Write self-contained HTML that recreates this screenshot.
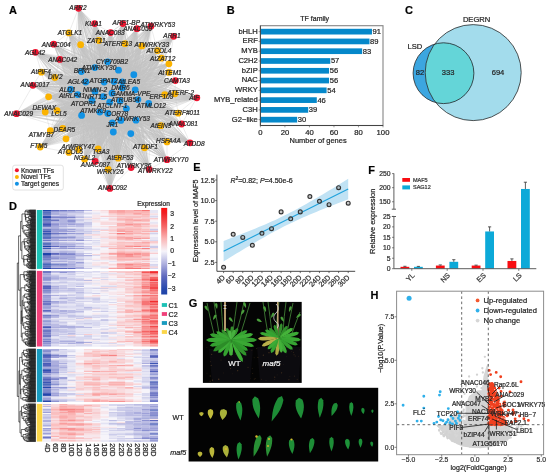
<!DOCTYPE html>
<html><head><meta charset="utf-8"><style>
html,body{margin:0;padding:0;background:#fff;}
body{width:550px;height:474px;overflow:hidden;}
svg{display:block;}
text{font-family:'Liberation Sans', Arial, Helvetica, sans-serif;stroke:#2a2a2a;stroke-width:0.22px;}
.w{stroke:#f2f2f2;}
.ns{stroke:none;}
</style></head><body>
<svg width="550" height="474" viewBox="0 0 550 474" fill="#222">
<path fill="none" stroke="#c4c4c4" stroke-width="0.32" d="M78.5 8.3L107.6 61.8M78.5 8.3L94.8 67.6M78.5 8.3L81.3 71.5M78.5 8.3L118.5 70.2M78.5 8.3L133.8 74.7M78.5 8.3L85.8 82M78.5 8.3L104.1 82M78.5 8.3L114 81.5M78.5 8.3L122.3 81.8M78.5 8.3L70.5 89.5M78.5 8.3L95 91.4M78.5 8.3L112 93.2M78.5 8.3L122.3 88.1M78.5 8.3L135.2 89.8M78.5 8.3L77.7 94.6M78.5 8.3L103.2 96.7M78.5 8.3L92 100.5M78.5 8.3L109.7 102.2M78.5 8.3L120.1 101M78.5 8.3L137.9 99.6M78.5 8.3L148.7 103.5M78.5 8.3L126.4 108.6M78.5 8.3L99.8 112.1M78.5 8.3L81.6 115.4M78.5 8.3L107.8 113.5M78.5 8.3L120.8 120.4M78.5 8.3L136 120.2M78.5 8.3L112.3 122.8M78.5 8.3L113.3 132M78.5 8.3L130.8 133.6M94.6 23.6L107.6 61.8M94.6 23.6L94.8 67.6M94.6 23.6L118.5 70.2M94.6 23.6L85.8 82M94.6 23.6L104.1 82M94.6 23.6L114 81.5M94.6 23.6L122.3 81.8M94.6 23.6L95 91.4M94.6 23.6L112 93.2M94.6 23.6L122.3 88.1M94.6 23.6L135.2 89.8M94.6 23.6L77.7 94.6M94.6 23.6L103.2 96.7M94.6 23.6L92 100.5M94.6 23.6L109.7 102.2M94.6 23.6L120.1 101M94.6 23.6L137.9 99.6M94.6 23.6L126.4 108.6M94.6 23.6L99.8 112.1M94.6 23.6L81.6 115.4M94.6 23.6L107.8 113.5M94.6 23.6L120.8 120.4M94.6 23.6L136 120.2M94.6 23.6L112.3 122.8M94.6 23.6L113.3 132M94.6 23.6L130.8 133.6M122.9 23.6L107.6 61.8M122.9 23.6L94.8 67.6M122.9 23.6L118.5 70.2M122.9 23.6L133.8 74.7M122.9 23.6L85.8 82M122.9 23.6L104.1 82M122.9 23.6L114 81.5M122.9 23.6L122.3 81.8M122.9 23.6L95 91.4M122.9 23.6L112 93.2M122.9 23.6L122.3 88.1M122.9 23.6L135.2 89.8M122.9 23.6L77.7 94.6M122.9 23.6L103.2 96.7M122.9 23.6L92 100.5M122.9 23.6L109.7 102.2M122.9 23.6L120.1 101M122.9 23.6L137.9 99.6M122.9 23.6L126.4 108.6M122.9 23.6L99.8 112.1M122.9 23.6L81.6 115.4M122.9 23.6L107.8 113.5M122.9 23.6L120.8 120.4M122.9 23.6L136 120.2M122.9 23.6L112.3 122.8M122.9 23.6L113.3 132M122.9 23.6L130.8 133.6M110.6 32.6L107.6 61.8M110.6 32.6L94.8 67.6M110.6 32.6L118.5 70.2M110.6 32.6L104.1 82M110.6 32.6L114 81.5M110.6 32.6L122.3 81.8M110.6 32.6L95 91.4M110.6 32.6L112 93.2M110.6 32.6L122.3 88.1M110.6 32.6L103.2 96.7M110.6 32.6L92 100.5M110.6 32.6L109.7 102.2M110.6 32.6L120.1 101M110.6 32.6L126.4 108.6M110.6 32.6L99.8 112.1M110.6 32.6L81.6 115.4M110.6 32.6L107.8 113.5M110.6 32.6L120.8 120.4M110.6 32.6L136 120.2M110.6 32.6L112.3 122.8M110.6 32.6L113.3 132M110.6 32.6L130.8 133.6M136.9 28.7L107.6 61.8M136.9 28.7L118.5 70.2M136.9 28.7L133.8 74.7M136.9 28.7L85.8 82M136.9 28.7L104.1 82M136.9 28.7L114 81.5M136.9 28.7L122.3 81.8M136.9 28.7L95 91.4M136.9 28.7L112 93.2M136.9 28.7L122.3 88.1M136.9 28.7L135.2 89.8M136.9 28.7L77.7 94.6M136.9 28.7L103.2 96.7M136.9 28.7L92 100.5M136.9 28.7L109.7 102.2M136.9 28.7L120.1 101M136.9 28.7L137.9 99.6M136.9 28.7L126.4 108.6M136.9 28.7L99.8 112.1M136.9 28.7L81.6 115.4M136.9 28.7L107.8 113.5M136.9 28.7L120.8 120.4M136.9 28.7L136 120.2M136.9 28.7L112.3 122.8M136.9 28.7L113.3 132M136.9 28.7L130.8 133.6M150.9 26.2L107.6 61.8M150.9 26.2L94.8 67.6M150.9 26.2L118.5 70.2M150.9 26.2L133.8 74.7M150.9 26.2L85.8 82M150.9 26.2L104.1 82M150.9 26.2L114 81.5M150.9 26.2L122.3 81.8M150.9 26.2L70.5 89.5M150.9 26.2L95 91.4M150.9 26.2L112 93.2M150.9 26.2L122.3 88.1M150.9 26.2L135.2 89.8M150.9 26.2L77.7 94.6M150.9 26.2L103.2 96.7M150.9 26.2L92 100.5M150.9 26.2L109.7 102.2M150.9 26.2L120.1 101M150.9 26.2L137.9 99.6M150.9 26.2L126.4 108.6M150.9 26.2L99.8 112.1M150.9 26.2L81.6 115.4M150.9 26.2L107.8 113.5M150.9 26.2L120.8 120.4M150.9 26.2L136 120.2M150.9 26.2L112.3 122.8M150.9 26.2L113.3 132M150.9 26.2L130.8 133.6M173.7 36.3L107.6 61.8M173.7 36.3L94.8 67.6M173.7 36.3L81.3 71.5M173.7 36.3L118.5 70.2M173.7 36.3L133.8 74.7M173.7 36.3L85.8 82M173.7 36.3L104.1 82M173.7 36.3L114 81.5M173.7 36.3L122.3 81.8M173.7 36.3L70.5 89.5M173.7 36.3L95 91.4M173.7 36.3L112 93.2M173.7 36.3L122.3 88.1M173.7 36.3L135.2 89.8M173.7 36.3L77.7 94.6M173.7 36.3L103.2 96.7M173.7 36.3L92 100.5M173.7 36.3L109.7 102.2M173.7 36.3L120.1 101M173.7 36.3L137.9 99.6M173.7 36.3L126.4 108.6M173.7 36.3L99.8 112.1M173.7 36.3L81.6 115.4M173.7 36.3L107.8 113.5M173.7 36.3L120.8 120.4M173.7 36.3L136 120.2M173.7 36.3L112.3 122.8M173.7 36.3L113.3 132M173.7 36.3L130.8 133.6M53.7 44.2L94.8 67.6M53.7 44.2L81.3 71.5M53.7 44.2L118.5 70.2M53.7 44.2L85.8 82M53.7 44.2L104.1 82M53.7 44.2L114 81.5M53.7 44.2L122.3 81.8M53.7 44.2L70.5 89.5M53.7 44.2L95 91.4M53.7 44.2L112 93.2M53.7 44.2L122.3 88.1M53.7 44.2L135.2 89.8M53.7 44.2L77.7 94.6M53.7 44.2L103.2 96.7M53.7 44.2L92 100.5M53.7 44.2L109.7 102.2M53.7 44.2L120.1 101M53.7 44.2L137.9 99.6M53.7 44.2L148.7 103.5M53.7 44.2L126.4 108.6M53.7 44.2L99.8 112.1M53.7 44.2L81.6 115.4M53.7 44.2L107.8 113.5M53.7 44.2L120.8 120.4M53.7 44.2L136 120.2M53.7 44.2L112.3 122.8M53.7 44.2L113.3 132M53.7 44.2L130.8 133.6M35.4 52.3L94.8 67.6M35.4 52.3L81.3 71.5M35.4 52.3L118.5 70.2M35.4 52.3L133.8 74.7M35.4 52.3L85.8 82M35.4 52.3L104.1 82M35.4 52.3L114 81.5M35.4 52.3L122.3 81.8M35.4 52.3L70.5 89.5M35.4 52.3L95 91.4M35.4 52.3L112 93.2M35.4 52.3L122.3 88.1M35.4 52.3L135.2 89.8M35.4 52.3L77.7 94.6M35.4 52.3L103.2 96.7M35.4 52.3L92 100.5M35.4 52.3L109.7 102.2M35.4 52.3L120.1 101M35.4 52.3L137.9 99.6M35.4 52.3L148.7 103.5M35.4 52.3L126.4 108.6M35.4 52.3L99.8 112.1M35.4 52.3L81.6 115.4M35.4 52.3L107.8 113.5M35.4 52.3L120.8 120.4M35.4 52.3L136 120.2M35.4 52.3L112.3 122.8M35.4 52.3L113.3 132M35.4 52.3L130.8 133.6M59.9 59.4L81.3 71.5M59.9 59.4L85.8 82M59.9 59.4L104.1 82M59.9 59.4L114 81.5M59.9 59.4L122.3 81.8M59.9 59.4L95 91.4M59.9 59.4L112 93.2M59.9 59.4L122.3 88.1M59.9 59.4L135.2 89.8M59.9 59.4L77.7 94.6M59.9 59.4L103.2 96.7M59.9 59.4L92 100.5M59.9 59.4L109.7 102.2M59.9 59.4L120.1 101M59.9 59.4L137.9 99.6M59.9 59.4L148.7 103.5M59.9 59.4L126.4 108.6M59.9 59.4L99.8 112.1M59.9 59.4L107.8 113.5M59.9 59.4L120.8 120.4M59.9 59.4L136 120.2M59.9 59.4L112.3 122.8M59.9 59.4L113.3 132M59.9 59.4L130.8 133.6M32.9 85.3L118.5 70.2M32.9 85.3L133.8 74.7M32.9 85.3L85.8 82M32.9 85.3L104.1 82M32.9 85.3L114 81.5M32.9 85.3L122.3 81.8M32.9 85.3L70.5 89.5M32.9 85.3L95 91.4M32.9 85.3L112 93.2M32.9 85.3L122.3 88.1M32.9 85.3L135.2 89.8M32.9 85.3L77.7 94.6M32.9 85.3L103.2 96.7M32.9 85.3L92 100.5M32.9 85.3L109.7 102.2M32.9 85.3L120.1 101M32.9 85.3L137.9 99.6M32.9 85.3L148.7 103.5M32.9 85.3L126.4 108.6M32.9 85.3L99.8 112.1M32.9 85.3L81.6 115.4M32.9 85.3L107.8 113.5M32.9 85.3L120.8 120.4M32.9 85.3L136 120.2M32.9 85.3L112.3 122.8M32.9 85.3L113.3 132M32.9 85.3L130.8 133.6M16.5 113.7L107.6 61.8M16.5 113.7L94.8 67.6M16.5 113.7L118.5 70.2M16.5 113.7L133.8 74.7M16.5 113.7L85.8 82M16.5 113.7L104.1 82M16.5 113.7L114 81.5M16.5 113.7L122.3 81.8M16.5 113.7L70.5 89.5M16.5 113.7L95 91.4M16.5 113.7L112 93.2M16.5 113.7L122.3 88.1M16.5 113.7L135.2 89.8M16.5 113.7L77.7 94.6M16.5 113.7L103.2 96.7M16.5 113.7L92 100.5M16.5 113.7L109.7 102.2M16.5 113.7L120.1 101M16.5 113.7L137.9 99.6M16.5 113.7L148.7 103.5M16.5 113.7L126.4 108.6M16.5 113.7L99.8 112.1M16.5 113.7L81.6 115.4M16.5 113.7L107.8 113.5M16.5 113.7L120.8 120.4M16.5 113.7L136 120.2M16.5 113.7L112.3 122.8M16.5 113.7L113.3 132M16.5 113.7L130.8 133.6M175.4 80.6L81.3 71.5M175.4 80.6L85.8 82M175.4 80.6L104.1 82M175.4 80.6L114 81.5M175.4 80.6L122.3 81.8M175.4 80.6L70.5 89.5M175.4 80.6L95 91.4M175.4 80.6L112 93.2M175.4 80.6L122.3 88.1M175.4 80.6L135.2 89.8M175.4 80.6L77.7 94.6M175.4 80.6L103.2 96.7M175.4 80.6L92 100.5M175.4 80.6L109.7 102.2M175.4 80.6L120.1 101M175.4 80.6L137.9 99.6M175.4 80.6L126.4 108.6M175.4 80.6L99.8 112.1M175.4 80.6L81.6 115.4M175.4 80.6L107.8 113.5M175.4 80.6L120.8 120.4M175.4 80.6L112.3 122.8M175.4 80.6L113.3 132M196.8 97.8L107.6 61.8M196.8 97.8L94.8 67.6M196.8 97.8L81.3 71.5M196.8 97.8L118.5 70.2M196.8 97.8L133.8 74.7M196.8 97.8L85.8 82M196.8 97.8L104.1 82M196.8 97.8L114 81.5M196.8 97.8L122.3 81.8M196.8 97.8L70.5 89.5M196.8 97.8L95 91.4M196.8 97.8L112 93.2M196.8 97.8L122.3 88.1M196.8 97.8L135.2 89.8M196.8 97.8L77.7 94.6M196.8 97.8L103.2 96.7M196.8 97.8L92 100.5M196.8 97.8L109.7 102.2M196.8 97.8L120.1 101M196.8 97.8L137.9 99.6M196.8 97.8L148.7 103.5M196.8 97.8L126.4 108.6M196.8 97.8L99.8 112.1M196.8 97.8L81.6 115.4M196.8 97.8L107.8 113.5M196.8 97.8L120.8 120.4M196.8 97.8L136 120.2M196.8 97.8L112.3 122.8M196.8 97.8L113.3 132M181.6 124L107.6 61.8M181.6 124L94.8 67.6M181.6 124L81.3 71.5M181.6 124L118.5 70.2M181.6 124L85.8 82M181.6 124L104.1 82M181.6 124L114 81.5M181.6 124L122.3 81.8M181.6 124L70.5 89.5M181.6 124L95 91.4M181.6 124L112 93.2M181.6 124L122.3 88.1M181.6 124L135.2 89.8M181.6 124L77.7 94.6M181.6 124L103.2 96.7M181.6 124L92 100.5M181.6 124L109.7 102.2M181.6 124L120.1 101M181.6 124L137.9 99.6M181.6 124L148.7 103.5M181.6 124L126.4 108.6M181.6 124L99.8 112.1M181.6 124L81.6 115.4M181.6 124L107.8 113.5M181.6 124L120.8 120.4M181.6 124L136 120.2M181.6 124L112.3 122.8M190 142.8L107.6 61.8M190 142.8L94.8 67.6M190 142.8L81.3 71.5M190 142.8L118.5 70.2M190 142.8L133.8 74.7M190 142.8L85.8 82M190 142.8L104.1 82M190 142.8L114 81.5M190 142.8L122.3 81.8M190 142.8L70.5 89.5M190 142.8L95 91.4M190 142.8L112 93.2M190 142.8L122.3 88.1M190 142.8L135.2 89.8M190 142.8L77.7 94.6M190 142.8L103.2 96.7M190 142.8L92 100.5M190 142.8L109.7 102.2M190 142.8L120.1 101M190 142.8L137.9 99.6M190 142.8L148.7 103.5M190 142.8L126.4 108.6M190 142.8L99.8 112.1M190 142.8L81.6 115.4M190 142.8L107.8 113.5M190 142.8L120.8 120.4M190 142.8L136 120.2M190 142.8L112.3 122.8M190 142.8L113.3 132M190 142.8L130.8 133.6M167 159.7L107.6 61.8M167 159.7L94.8 67.6M167 159.7L81.3 71.5M167 159.7L118.5 70.2M167 159.7L133.8 74.7M167 159.7L85.8 82M167 159.7L104.1 82M167 159.7L114 81.5M167 159.7L122.3 81.8M167 159.7L70.5 89.5M167 159.7L95 91.4M167 159.7L112 93.2M167 159.7L122.3 88.1M167 159.7L135.2 89.8M167 159.7L77.7 94.6M167 159.7L103.2 96.7M167 159.7L92 100.5M167 159.7L109.7 102.2M167 159.7L120.1 101M167 159.7L137.9 99.6M167 159.7L126.4 108.6M167 159.7L99.8 112.1M167 159.7L81.6 115.4M167 159.7L107.8 113.5M167 159.7L120.8 120.4M167 159.7L136 120.2M167 159.7L112.3 122.8M167 159.7L113.3 132M167 159.7L130.8 133.6M131.1 167.6L107.6 61.8M131.1 167.6L94.8 67.6M131.1 167.6L81.3 71.5M131.1 167.6L118.5 70.2M131.1 167.6L133.8 74.7M131.1 167.6L85.8 82M131.1 167.6L104.1 82M131.1 167.6L114 81.5M131.1 167.6L122.3 81.8M131.1 167.6L70.5 89.5M131.1 167.6L95 91.4M131.1 167.6L112 93.2M131.1 167.6L122.3 88.1M131.1 167.6L135.2 89.8M131.1 167.6L77.7 94.6M131.1 167.6L103.2 96.7M131.1 167.6L92 100.5M131.1 167.6L109.7 102.2M131.1 167.6L120.1 101M131.1 167.6L126.4 108.6M131.1 167.6L99.8 112.1M131.1 167.6L107.8 113.5M131.1 167.6L120.8 120.4M131.1 167.6L112.3 122.8M131.1 167.6L113.3 132M131.1 167.6L130.8 133.6M149.2 169.3L107.6 61.8M149.2 169.3L94.8 67.6M149.2 169.3L81.3 71.5M149.2 169.3L118.5 70.2M149.2 169.3L133.8 74.7M149.2 169.3L85.8 82M149.2 169.3L104.1 82M149.2 169.3L114 81.5M149.2 169.3L122.3 81.8M149.2 169.3L70.5 89.5M149.2 169.3L95 91.4M149.2 169.3L112 93.2M149.2 169.3L122.3 88.1M149.2 169.3L135.2 89.8M149.2 169.3L77.7 94.6M149.2 169.3L103.2 96.7M149.2 169.3L92 100.5M149.2 169.3L109.7 102.2M149.2 169.3L120.1 101M149.2 169.3L137.9 99.6M149.2 169.3L126.4 108.6M149.2 169.3L99.8 112.1M149.2 169.3L81.6 115.4M149.2 169.3L107.8 113.5M149.2 169.3L120.8 120.4M149.2 169.3L136 120.2M149.2 169.3L112.3 122.8M149.2 169.3L113.3 132M149.2 169.3L130.8 133.6M95.2 161.4L107.6 61.8M95.2 161.4L94.8 67.6M95.2 161.4L81.3 71.5M95.2 161.4L118.5 70.2M95.2 161.4L133.8 74.7M95.2 161.4L85.8 82M95.2 161.4L104.1 82M95.2 161.4L114 81.5M95.2 161.4L122.3 81.8M95.2 161.4L95 91.4M95.2 161.4L112 93.2M95.2 161.4L122.3 88.1M95.2 161.4L135.2 89.8M95.2 161.4L103.2 96.7M95.2 161.4L92 100.5M95.2 161.4L109.7 102.2M95.2 161.4L120.1 101M95.2 161.4L137.9 99.6M95.2 161.4L126.4 108.6M95.2 161.4L99.8 112.1M95.2 161.4L107.8 113.5M95.2 161.4L120.8 120.4M95.2 161.4L112.3 122.8M95.2 161.4L113.3 132M109.9 188.4L107.6 61.8M109.9 188.4L94.8 67.6M109.9 188.4L81.3 71.5M109.9 188.4L118.5 70.2M109.9 188.4L133.8 74.7M109.9 188.4L85.8 82M109.9 188.4L104.1 82M109.9 188.4L114 81.5M109.9 188.4L122.3 81.8M109.9 188.4L70.5 89.5M109.9 188.4L95 91.4M109.9 188.4L112 93.2M109.9 188.4L122.3 88.1M109.9 188.4L135.2 89.8M109.9 188.4L77.7 94.6M109.9 188.4L103.2 96.7M109.9 188.4L92 100.5M109.9 188.4L109.7 102.2M109.9 188.4L120.1 101M109.9 188.4L137.9 99.6M109.9 188.4L126.4 108.6M109.9 188.4L99.8 112.1M109.9 188.4L81.6 115.4M109.9 188.4L107.8 113.5M109.9 188.4L120.8 120.4M109.9 188.4L136 120.2M109.9 188.4L112.3 122.8M109.9 188.4L113.3 132M109.9 188.4L130.8 133.6M68.9 32.9L107.6 61.8M68.9 32.9L94.8 67.6M68.9 32.9L81.3 71.5M68.9 32.9L118.5 70.2M68.9 32.9L85.8 82M68.9 32.9L104.1 82M68.9 32.9L114 81.5M68.9 32.9L122.3 81.8M68.9 32.9L95 91.4M68.9 32.9L112 93.2M68.9 32.9L122.3 88.1M68.9 32.9L135.2 89.8M68.9 32.9L77.7 94.6M68.9 32.9L103.2 96.7M68.9 32.9L92 100.5M68.9 32.9L109.7 102.2M68.9 32.9L120.1 101M68.9 32.9L137.9 99.6M68.9 32.9L148.7 103.5M68.9 32.9L126.4 108.6M68.9 32.9L99.8 112.1M68.9 32.9L81.6 115.4M68.9 32.9L107.8 113.5M68.9 32.9L120.8 120.4M68.9 32.9L136 120.2M68.9 32.9L112.3 122.8M68.9 32.9L113.3 132M68.9 32.9L130.8 133.6M80.6 44.7L94.8 67.6M80.6 44.7L85.8 82M80.6 44.7L104.1 82M80.6 44.7L114 81.5M80.6 44.7L122.3 81.8M80.6 44.7L95 91.4M80.6 44.7L112 93.2M80.6 44.7L122.3 88.1M80.6 44.7L103.2 96.7M80.6 44.7L92 100.5M80.6 44.7L109.7 102.2M80.6 44.7L120.1 101M80.6 44.7L137.9 99.6M80.6 44.7L148.7 103.5M80.6 44.7L126.4 108.6M80.6 44.7L99.8 112.1M80.6 44.7L107.8 113.5M80.6 44.7L120.8 120.4M80.6 44.7L136 120.2M80.6 44.7L112.3 122.8M80.6 44.7L113.3 132M80.6 44.7L130.8 133.6M98.8 40.5L107.6 61.8M98.8 40.5L94.8 67.6M98.8 40.5L104.1 82M98.8 40.5L114 81.5M98.8 40.5L122.3 81.8M98.8 40.5L95 91.4M98.8 40.5L112 93.2M98.8 40.5L122.3 88.1M98.8 40.5L103.2 96.7M98.8 40.5L92 100.5M98.8 40.5L109.7 102.2M98.8 40.5L120.1 101M98.8 40.5L126.4 108.6M98.8 40.5L99.8 112.1M98.8 40.5L81.6 115.4M98.8 40.5L107.8 113.5M98.8 40.5L120.8 120.4M98.8 40.5L136 120.2M98.8 40.5L112.3 122.8M98.8 40.5L113.3 132M98.8 40.5L130.8 133.6M125 43.7L118.5 70.2M125 43.7L104.1 82M125 43.7L114 81.5M125 43.7L122.3 81.8M125 43.7L95 91.4M125 43.7L112 93.2M125 43.7L122.3 88.1M125 43.7L103.2 96.7M125 43.7L92 100.5M125 43.7L109.7 102.2M125 43.7L120.1 101M125 43.7L126.4 108.6M125 43.7L99.8 112.1M125 43.7L81.6 115.4M125 43.7L107.8 113.5M125 43.7L120.8 120.4M125 43.7L112.3 122.8M125 43.7L113.3 132M125 43.7L130.8 133.6M141.9 45.9L118.5 70.2M141.9 45.9L133.8 74.7M141.9 45.9L104.1 82M141.9 45.9L114 81.5M141.9 45.9L122.3 81.8M141.9 45.9L95 91.4M141.9 45.9L112 93.2M141.9 45.9L122.3 88.1M141.9 45.9L135.2 89.8M141.9 45.9L77.7 94.6M141.9 45.9L103.2 96.7M141.9 45.9L92 100.5M141.9 45.9L109.7 102.2M141.9 45.9L120.1 101M141.9 45.9L126.4 108.6M141.9 45.9L99.8 112.1M141.9 45.9L81.6 115.4M141.9 45.9L107.8 113.5M141.9 45.9L120.8 120.4M141.9 45.9L112.3 122.8M141.9 45.9L113.3 132M157.5 50.6L118.5 70.2M157.5 50.6L133.8 74.7M157.5 50.6L85.8 82M157.5 50.6L104.1 82M157.5 50.6L114 81.5M157.5 50.6L122.3 81.8M157.5 50.6L70.5 89.5M157.5 50.6L95 91.4M157.5 50.6L112 93.2M157.5 50.6L122.3 88.1M157.5 50.6L135.2 89.8M157.5 50.6L77.7 94.6M157.5 50.6L103.2 96.7M157.5 50.6L92 100.5M157.5 50.6L109.7 102.2M157.5 50.6L120.1 101M157.5 50.6L137.9 99.6M157.5 50.6L126.4 108.6M157.5 50.6L99.8 112.1M157.5 50.6L81.6 115.4M157.5 50.6L107.8 113.5M157.5 50.6L120.8 120.4M157.5 50.6L112.3 122.8M157.5 50.6L113.3 132M161.4 58.2L118.5 70.2M161.4 58.2L133.8 74.7M161.4 58.2L85.8 82M161.4 58.2L104.1 82M161.4 58.2L114 81.5M161.4 58.2L122.3 81.8M161.4 58.2L70.5 89.5M161.4 58.2L95 91.4M161.4 58.2L112 93.2M161.4 58.2L122.3 88.1M161.4 58.2L135.2 89.8M161.4 58.2L77.7 94.6M161.4 58.2L103.2 96.7M161.4 58.2L92 100.5M161.4 58.2L109.7 102.2M161.4 58.2L120.1 101M161.4 58.2L137.9 99.6M161.4 58.2L126.4 108.6M161.4 58.2L99.8 112.1M161.4 58.2L81.6 115.4M161.4 58.2L107.8 113.5M161.4 58.2L120.8 120.4M161.4 58.2L112.3 122.8M161.4 58.2L113.3 132M168.9 63.8L118.5 70.2M168.9 63.8L133.8 74.7M168.9 63.8L85.8 82M168.9 63.8L104.1 82M168.9 63.8L114 81.5M168.9 63.8L122.3 81.8M168.9 63.8L70.5 89.5M168.9 63.8L95 91.4M168.9 63.8L112 93.2M168.9 63.8L122.3 88.1M168.9 63.8L135.2 89.8M168.9 63.8L77.7 94.6M168.9 63.8L103.2 96.7M168.9 63.8L92 100.5M168.9 63.8L109.7 102.2M168.9 63.8L120.1 101M168.9 63.8L137.9 99.6M168.9 63.8L126.4 108.6M168.9 63.8L99.8 112.1M168.9 63.8L81.6 115.4M168.9 63.8L107.8 113.5M168.9 63.8L120.8 120.4M168.9 63.8L112.3 122.8M168.9 63.8L113.3 132M168.9 72.4L133.8 74.7M168.9 72.4L85.8 82M168.9 72.4L104.1 82M168.9 72.4L114 81.5M168.9 72.4L122.3 81.8M168.9 72.4L70.5 89.5M168.9 72.4L95 91.4M168.9 72.4L112 93.2M168.9 72.4L122.3 88.1M168.9 72.4L135.2 89.8M168.9 72.4L77.7 94.6M168.9 72.4L103.2 96.7M168.9 72.4L92 100.5M168.9 72.4L109.7 102.2M168.9 72.4L120.1 101M168.9 72.4L137.9 99.6M168.9 72.4L126.4 108.6M168.9 72.4L99.8 112.1M168.9 72.4L81.6 115.4M168.9 72.4L107.8 113.5M168.9 72.4L120.8 120.4M168.9 72.4L112.3 122.8M168.9 72.4L113.3 132M174.9 93.8L94.8 67.6M174.9 93.8L81.3 71.5M174.9 93.8L85.8 82M174.9 93.8L104.1 82M174.9 93.8L114 81.5M174.9 93.8L122.3 81.8M174.9 93.8L70.5 89.5M174.9 93.8L95 91.4M174.9 93.8L112 93.2M174.9 93.8L122.3 88.1M174.9 93.8L135.2 89.8M174.9 93.8L77.7 94.6M174.9 93.8L103.2 96.7M174.9 93.8L92 100.5M174.9 93.8L109.7 102.2M174.9 93.8L120.1 101M174.9 93.8L137.9 99.6M174.9 93.8L148.7 103.5M174.9 93.8L126.4 108.6M174.9 93.8L99.8 112.1M174.9 93.8L81.6 115.4M174.9 93.8L107.8 113.5M174.9 93.8L120.8 120.4M174.9 93.8L112.3 122.8M164.7 94.6L81.3 71.5M164.7 94.6L85.8 82M164.7 94.6L104.1 82M164.7 94.6L114 81.5M164.7 94.6L122.3 81.8M164.7 94.6L70.5 89.5M164.7 94.6L95 91.4M164.7 94.6L112 93.2M164.7 94.6L122.3 88.1M164.7 94.6L135.2 89.8M164.7 94.6L77.7 94.6M164.7 94.6L103.2 96.7M164.7 94.6L92 100.5M164.7 94.6L109.7 102.2M164.7 94.6L120.1 101M164.7 94.6L137.9 99.6M164.7 94.6L148.7 103.5M164.7 94.6L126.4 108.6M164.7 94.6L99.8 112.1M164.7 94.6L81.6 115.4M164.7 94.6L107.8 113.5M164.7 94.6L112.3 122.8M178.2 113.2L94.8 67.6M178.2 113.2L81.3 71.5M178.2 113.2L85.8 82M178.2 113.2L104.1 82M178.2 113.2L114 81.5M178.2 113.2L122.3 81.8M178.2 113.2L70.5 89.5M178.2 113.2L95 91.4M178.2 113.2L112 93.2M178.2 113.2L122.3 88.1M178.2 113.2L135.2 89.8M178.2 113.2L77.7 94.6M178.2 113.2L103.2 96.7M178.2 113.2L92 100.5M178.2 113.2L109.7 102.2M178.2 113.2L120.1 101M178.2 113.2L137.9 99.6M178.2 113.2L148.7 103.5M178.2 113.2L126.4 108.6M178.2 113.2L99.8 112.1M178.2 113.2L81.6 115.4M178.2 113.2L107.8 113.5M178.2 113.2L120.8 120.4M178.2 113.2L136 120.2M178.2 113.2L112.3 122.8M160.8 125.7L94.8 67.6M160.8 125.7L81.3 71.5M160.8 125.7L85.8 82M160.8 125.7L104.1 82M160.8 125.7L114 81.5M160.8 125.7L122.3 81.8M160.8 125.7L70.5 89.5M160.8 125.7L95 91.4M160.8 125.7L112 93.2M160.8 125.7L122.3 88.1M160.8 125.7L77.7 94.6M160.8 125.7L103.2 96.7M160.8 125.7L92 100.5M160.8 125.7L109.7 102.2M160.8 125.7L120.1 101M160.8 125.7L137.9 99.6M160.8 125.7L126.4 108.6M160.8 125.7L99.8 112.1M160.8 125.7L81.6 115.4M160.8 125.7L107.8 113.5M160.8 125.7L120.8 120.4M160.8 125.7L136 120.2M160.8 125.7L112.3 122.8M167 141.9L107.6 61.8M167 141.9L94.8 67.6M167 141.9L81.3 71.5M167 141.9L118.5 70.2M167 141.9L85.8 82M167 141.9L104.1 82M167 141.9L114 81.5M167 141.9L122.3 81.8M167 141.9L70.5 89.5M167 141.9L95 91.4M167 141.9L112 93.2M167 141.9L122.3 88.1M167 141.9L135.2 89.8M167 141.9L77.7 94.6M167 141.9L103.2 96.7M167 141.9L92 100.5M167 141.9L109.7 102.2M167 141.9L120.1 101M167 141.9L137.9 99.6M167 141.9L126.4 108.6M167 141.9L99.8 112.1M167 141.9L81.6 115.4M167 141.9L107.8 113.5M167 141.9L120.8 120.4M167 141.9L136 120.2M167 141.9L112.3 122.8M167 141.9L130.8 133.6M144.6 147.8L107.6 61.8M144.6 147.8L94.8 67.6M144.6 147.8L81.3 71.5M144.6 147.8L118.5 70.2M144.6 147.8L85.8 82M144.6 147.8L104.1 82M144.6 147.8L114 81.5M144.6 147.8L122.3 81.8M144.6 147.8L70.5 89.5M144.6 147.8L95 91.4M144.6 147.8L112 93.2M144.6 147.8L122.3 88.1M144.6 147.8L77.7 94.6M144.6 147.8L103.2 96.7M144.6 147.8L92 100.5M144.6 147.8L109.7 102.2M144.6 147.8L120.1 101M144.6 147.8L126.4 108.6M144.6 147.8L99.8 112.1M144.6 147.8L107.8 113.5M144.6 147.8L120.8 120.4M144.6 147.8L136 120.2M144.6 147.8L112.3 122.8M144.6 147.8L130.8 133.6M118.2 158.2L107.6 61.8M118.2 158.2L94.8 67.6M118.2 158.2L81.3 71.5M118.2 158.2L118.5 70.2M118.2 158.2L133.8 74.7M118.2 158.2L85.8 82M118.2 158.2L104.1 82M118.2 158.2L114 81.5M118.2 158.2L122.3 81.8M118.2 158.2L95 91.4M118.2 158.2L112 93.2M118.2 158.2L122.3 88.1M118.2 158.2L135.2 89.8M118.2 158.2L77.7 94.6M118.2 158.2L103.2 96.7M118.2 158.2L92 100.5M118.2 158.2L109.7 102.2M118.2 158.2L120.1 101M118.2 158.2L126.4 108.6M118.2 158.2L99.8 112.1M118.2 158.2L107.8 113.5M118.2 158.2L120.8 120.4M118.2 158.2L112.3 122.8M118.2 158.2L113.3 132M108.2 169.3L107.6 61.8M108.2 169.3L94.8 67.6M108.2 169.3L81.3 71.5M108.2 169.3L118.5 70.2M108.2 169.3L133.8 74.7M108.2 169.3L85.8 82M108.2 169.3L104.1 82M108.2 169.3L114 81.5M108.2 169.3L122.3 81.8M108.2 169.3L95 91.4M108.2 169.3L112 93.2M108.2 169.3L122.3 88.1M108.2 169.3L135.2 89.8M108.2 169.3L77.7 94.6M108.2 169.3L103.2 96.7M108.2 169.3L92 100.5M108.2 169.3L109.7 102.2M108.2 169.3L120.1 101M108.2 169.3L137.9 99.6M108.2 169.3L126.4 108.6M108.2 169.3L99.8 112.1M108.2 169.3L107.8 113.5M108.2 169.3L120.8 120.4M108.2 169.3L112.3 122.8M108.2 169.3L113.3 132M98.1 149L107.6 61.8M98.1 149L94.8 67.6M98.1 149L81.3 71.5M98.1 149L118.5 70.2M98.1 149L133.8 74.7M98.1 149L85.8 82M98.1 149L104.1 82M98.1 149L114 81.5M98.1 149L122.3 81.8M98.1 149L95 91.4M98.1 149L112 93.2M98.1 149L122.3 88.1M98.1 149L135.2 89.8M98.1 149L103.2 96.7M98.1 149L92 100.5M98.1 149L109.7 102.2M98.1 149L120.1 101M98.1 149L126.4 108.6M98.1 149L99.8 112.1M98.1 149L107.8 113.5M98.1 149L112.3 122.8M84.6 159.2L107.6 61.8M84.6 159.2L94.8 67.6M84.6 159.2L81.3 71.5M84.6 159.2L118.5 70.2M84.6 159.2L133.8 74.7M84.6 159.2L85.8 82M84.6 159.2L104.1 82M84.6 159.2L114 81.5M84.6 159.2L122.3 81.8M84.6 159.2L95 91.4M84.6 159.2L112 93.2M84.6 159.2L122.3 88.1M84.6 159.2L135.2 89.8M84.6 159.2L103.2 96.7M84.6 159.2L92 100.5M84.6 159.2L109.7 102.2M84.6 159.2L120.1 101M84.6 159.2L137.9 99.6M84.6 159.2L126.4 108.6M84.6 159.2L99.8 112.1M84.6 159.2L107.8 113.5M84.6 159.2L120.8 120.4M84.6 159.2L112.3 122.8M78.7 149.5L107.6 61.8M78.7 149.5L94.8 67.6M78.7 149.5L118.5 70.2M78.7 149.5L133.8 74.7M78.7 149.5L104.1 82M78.7 149.5L114 81.5M78.7 149.5L122.3 81.8M78.7 149.5L95 91.4M78.7 149.5L112 93.2M78.7 149.5L122.3 88.1M78.7 149.5L135.2 89.8M78.7 149.5L103.2 96.7M78.7 149.5L92 100.5M78.7 149.5L109.7 102.2M78.7 149.5L120.1 101M78.7 149.5L137.9 99.6M78.7 149.5L126.4 108.6M78.7 149.5L99.8 112.1M78.7 149.5L107.8 113.5M78.7 149.5L112.3 122.8M68.9 152.4L107.6 61.8M68.9 152.4L94.8 67.6M68.9 152.4L118.5 70.2M68.9 152.4L133.8 74.7M68.9 152.4L85.8 82M68.9 152.4L104.1 82M68.9 152.4L114 81.5M68.9 152.4L122.3 81.8M68.9 152.4L95 91.4M68.9 152.4L112 93.2M68.9 152.4L122.3 88.1M68.9 152.4L135.2 89.8M68.9 152.4L103.2 96.7M68.9 152.4L92 100.5M68.9 152.4L109.7 102.2M68.9 152.4L120.1 101M68.9 152.4L137.9 99.6M68.9 152.4L148.7 103.5M68.9 152.4L126.4 108.6M68.9 152.4L99.8 112.1M68.9 152.4L81.6 115.4M68.9 152.4L107.8 113.5M68.9 152.4L120.8 120.4M68.9 152.4L112.3 122.8M66 138.8L107.6 61.8M66 138.8L118.5 70.2M66 138.8L133.8 74.7M66 138.8L104.1 82M66 138.8L114 81.5M66 138.8L122.3 81.8M66 138.8L95 91.4M66 138.8L112 93.2M66 138.8L122.3 88.1M66 138.8L135.2 89.8M66 138.8L103.2 96.7M66 138.8L92 100.5M66 138.8L109.7 102.2M66 138.8L120.1 101M66 138.8L137.9 99.6M66 138.8L148.7 103.5M66 138.8L126.4 108.6M66 138.8L99.8 112.1M66 138.8L81.6 115.4M66 138.8L107.8 113.5M66 138.8L112.3 122.8M62.8 128.4L107.6 61.8M62.8 128.4L118.5 70.2M62.8 128.4L133.8 74.7M62.8 128.4L104.1 82M62.8 128.4L114 81.5M62.8 128.4L122.3 81.8M62.8 128.4L95 91.4M62.8 128.4L112 93.2M62.8 128.4L122.3 88.1M62.8 128.4L135.2 89.8M62.8 128.4L103.2 96.7M62.8 128.4L92 100.5M62.8 128.4L109.7 102.2M62.8 128.4L120.1 101M62.8 128.4L137.9 99.6M62.8 128.4L148.7 103.5M62.8 128.4L126.4 108.6M62.8 128.4L99.8 112.1M62.8 128.4L81.6 115.4M62.8 128.4L107.8 113.5M50.3 130.7L107.6 61.8M50.3 130.7L118.5 70.2M50.3 130.7L133.8 74.7M50.3 130.7L104.1 82M50.3 130.7L114 81.5M50.3 130.7L122.3 81.8M50.3 130.7L95 91.4M50.3 130.7L112 93.2M50.3 130.7L122.3 88.1M50.3 130.7L135.2 89.8M50.3 130.7L103.2 96.7M50.3 130.7L92 100.5M50.3 130.7L109.7 102.2M50.3 130.7L120.1 101M50.3 130.7L137.9 99.6M50.3 130.7L148.7 103.5M50.3 130.7L126.4 108.6M50.3 130.7L99.8 112.1M50.3 130.7L81.6 115.4M50.3 130.7L107.8 113.5M50.3 130.7L120.8 120.4M50.3 130.7L136 120.2M50.3 130.7L112.3 122.8M40.2 147L107.6 61.8M40.2 147L94.8 67.6M40.2 147L118.5 70.2M40.2 147L133.8 74.7M40.2 147L85.8 82M40.2 147L104.1 82M40.2 147L114 81.5M40.2 147L122.3 81.8M40.2 147L95 91.4M40.2 147L112 93.2M40.2 147L122.3 88.1M40.2 147L135.2 89.8M40.2 147L77.7 94.6M40.2 147L103.2 96.7M40.2 147L92 100.5M40.2 147L109.7 102.2M40.2 147L120.1 101M40.2 147L137.9 99.6M40.2 147L148.7 103.5M40.2 147L126.4 108.6M40.2 147L99.8 112.1M40.2 147L81.6 115.4M40.2 147L107.8 113.5M40.2 147L120.8 120.4M40.2 147L136 120.2M40.2 147L112.3 122.8M40.2 147L113.3 132M57 110.6L118.5 70.2M57 110.6L133.8 74.7M57 110.6L104.1 82M57 110.6L114 81.5M57 110.6L122.3 81.8M57 110.6L95 91.4M57 110.6L112 93.2M57 110.6L122.3 88.1M57 110.6L135.2 89.8M57 110.6L103.2 96.7M57 110.6L92 100.5M57 110.6L109.7 102.2M57 110.6L120.1 101M57 110.6L137.9 99.6M57 110.6L148.7 103.5M57 110.6L126.4 108.6M57 110.6L99.8 112.1M57 110.6L81.6 115.4M57 110.6L107.8 113.5M57 110.6L120.8 120.4M57 110.6L136 120.2M45.2 112L118.5 70.2M45.2 112L133.8 74.7M45.2 112L104.1 82M45.2 112L114 81.5M45.2 112L122.3 81.8M45.2 112L95 91.4M45.2 112L112 93.2M45.2 112L122.3 88.1M45.2 112L135.2 89.8M45.2 112L77.7 94.6M45.2 112L103.2 96.7M45.2 112L92 100.5M45.2 112L109.7 102.2M45.2 112L120.1 101M45.2 112L137.9 99.6M45.2 112L148.7 103.5M45.2 112L126.4 108.6M45.2 112L99.8 112.1M45.2 112L81.6 115.4M45.2 112L107.8 113.5M45.2 112L120.8 120.4M45.2 112L136 120.2M45.2 112L112.3 122.8M48.6 96.8L118.5 70.2M48.6 96.8L133.8 74.7M48.6 96.8L104.1 82M48.6 96.8L114 81.5M48.6 96.8L122.3 81.8M48.6 96.8L70.5 89.5M48.6 96.8L95 91.4M48.6 96.8L112 93.2M48.6 96.8L122.3 88.1M48.6 96.8L135.2 89.8M48.6 96.8L77.7 94.6M48.6 96.8L103.2 96.7M48.6 96.8L92 100.5M48.6 96.8L109.7 102.2M48.6 96.8L120.1 101M48.6 96.8L137.9 99.6M48.6 96.8L148.7 103.5M48.6 96.8L126.4 108.6M48.6 96.8L99.8 112.1M48.6 96.8L107.8 113.5M48.6 96.8L120.8 120.4M48.6 96.8L136 120.2M48.6 96.8L112.3 122.8M48.6 96.8L130.8 133.6M54.9 77.5L85.8 82M54.9 77.5L104.1 82M54.9 77.5L114 81.5M54.9 77.5L122.3 81.8M54.9 77.5L70.5 89.5M54.9 77.5L95 91.4M54.9 77.5L112 93.2M54.9 77.5L122.3 88.1M54.9 77.5L135.2 89.8M54.9 77.5L77.7 94.6M54.9 77.5L103.2 96.7M54.9 77.5L92 100.5M54.9 77.5L109.7 102.2M54.9 77.5L120.1 101M54.9 77.5L137.9 99.6M54.9 77.5L148.7 103.5M54.9 77.5L126.4 108.6M54.9 77.5L99.8 112.1M54.9 77.5L107.8 113.5M54.9 77.5L120.8 120.4M54.9 77.5L136 120.2M54.9 77.5L112.3 122.8M54.9 77.5L113.3 132M54.9 77.5L130.8 133.6M41.4 72.2L81.3 71.5M41.4 72.2L133.8 74.7M41.4 72.2L85.8 82M41.4 72.2L104.1 82M41.4 72.2L114 81.5M41.4 72.2L122.3 81.8M41.4 72.2L70.5 89.5M41.4 72.2L95 91.4M41.4 72.2L112 93.2M41.4 72.2L122.3 88.1M41.4 72.2L135.2 89.8M41.4 72.2L77.7 94.6M41.4 72.2L103.2 96.7M41.4 72.2L92 100.5M41.4 72.2L109.7 102.2M41.4 72.2L120.1 101M41.4 72.2L137.9 99.6M41.4 72.2L148.7 103.5M41.4 72.2L126.4 108.6M41.4 72.2L99.8 112.1M41.4 72.2L107.8 113.5M41.4 72.2L120.8 120.4M41.4 72.2L136 120.2M41.4 72.2L112.3 122.8M41.4 72.2L113.3 132M41.4 72.2L130.8 133.6"/>
<path fill="none" stroke="#c4c4c4" stroke-width="0.32" d="M107.6 61.8L94.8 67.6M107.6 61.8L81.3 71.5M107.6 61.8L118.5 70.2M107.6 61.8L133.8 74.7M107.6 61.8L85.8 82M107.6 61.8L104.1 82M107.6 61.8L114 81.5M107.6 61.8L122.3 81.8M107.6 61.8L70.5 89.5M107.6 61.8L95 91.4M107.6 61.8L112 93.2M107.6 61.8L122.3 88.1M107.6 61.8L135.2 89.8M107.6 61.8L77.7 94.6M107.6 61.8L103.2 96.7M107.6 61.8L92 100.5M107.6 61.8L109.7 102.2M107.6 61.8L120.1 101M107.6 61.8L137.9 99.6M107.6 61.8L148.7 103.5M107.6 61.8L126.4 108.6M107.6 61.8L99.8 112.1M107.6 61.8L81.6 115.4M107.6 61.8L107.8 113.5M107.6 61.8L120.8 120.4M107.6 61.8L136 120.2M107.6 61.8L112.3 122.8M107.6 61.8L113.3 132M107.6 61.8L130.8 133.6M94.8 67.6L81.3 71.5M94.8 67.6L118.5 70.2M94.8 67.6L133.8 74.7M94.8 67.6L85.8 82M94.8 67.6L104.1 82M94.8 67.6L114 81.5M94.8 67.6L122.3 81.8M94.8 67.6L70.5 89.5M94.8 67.6L95 91.4M94.8 67.6L112 93.2M94.8 67.6L122.3 88.1M94.8 67.6L135.2 89.8M94.8 67.6L77.7 94.6M94.8 67.6L103.2 96.7M94.8 67.6L92 100.5M94.8 67.6L109.7 102.2M94.8 67.6L120.1 101M94.8 67.6L137.9 99.6M94.8 67.6L148.7 103.5M94.8 67.6L126.4 108.6M94.8 67.6L99.8 112.1M94.8 67.6L81.6 115.4M94.8 67.6L107.8 113.5M94.8 67.6L120.8 120.4M94.8 67.6L136 120.2M94.8 67.6L112.3 122.8M94.8 67.6L113.3 132M94.8 67.6L130.8 133.6M81.3 71.5L118.5 70.2M81.3 71.5L133.8 74.7M81.3 71.5L85.8 82M81.3 71.5L104.1 82M81.3 71.5L114 81.5M81.3 71.5L122.3 81.8M81.3 71.5L70.5 89.5M81.3 71.5L95 91.4M81.3 71.5L112 93.2M81.3 71.5L122.3 88.1M81.3 71.5L135.2 89.8M81.3 71.5L77.7 94.6M81.3 71.5L103.2 96.7M81.3 71.5L92 100.5M81.3 71.5L109.7 102.2M81.3 71.5L120.1 101M81.3 71.5L137.9 99.6M81.3 71.5L148.7 103.5M81.3 71.5L126.4 108.6M81.3 71.5L99.8 112.1M81.3 71.5L81.6 115.4M81.3 71.5L107.8 113.5M81.3 71.5L120.8 120.4M81.3 71.5L136 120.2M81.3 71.5L112.3 122.8M81.3 71.5L113.3 132M81.3 71.5L130.8 133.6M118.5 70.2L133.8 74.7M118.5 70.2L85.8 82M118.5 70.2L104.1 82M118.5 70.2L114 81.5M118.5 70.2L122.3 81.8M118.5 70.2L70.5 89.5M118.5 70.2L95 91.4M118.5 70.2L112 93.2M118.5 70.2L122.3 88.1M118.5 70.2L135.2 89.8M118.5 70.2L77.7 94.6M118.5 70.2L103.2 96.7M118.5 70.2L92 100.5M118.5 70.2L109.7 102.2M118.5 70.2L120.1 101M118.5 70.2L137.9 99.6M118.5 70.2L148.7 103.5M118.5 70.2L126.4 108.6M118.5 70.2L99.8 112.1M118.5 70.2L81.6 115.4M118.5 70.2L107.8 113.5M118.5 70.2L120.8 120.4M118.5 70.2L136 120.2M118.5 70.2L112.3 122.8M118.5 70.2L113.3 132M118.5 70.2L130.8 133.6M133.8 74.7L85.8 82M133.8 74.7L104.1 82M133.8 74.7L114 81.5M133.8 74.7L122.3 81.8M133.8 74.7L70.5 89.5M133.8 74.7L95 91.4M133.8 74.7L112 93.2M133.8 74.7L122.3 88.1M133.8 74.7L135.2 89.8M133.8 74.7L77.7 94.6M133.8 74.7L103.2 96.7M133.8 74.7L92 100.5M133.8 74.7L109.7 102.2M133.8 74.7L120.1 101M133.8 74.7L137.9 99.6M133.8 74.7L148.7 103.5M133.8 74.7L126.4 108.6M133.8 74.7L99.8 112.1M133.8 74.7L81.6 115.4M133.8 74.7L107.8 113.5M133.8 74.7L120.8 120.4M133.8 74.7L136 120.2M133.8 74.7L112.3 122.8M133.8 74.7L113.3 132M133.8 74.7L130.8 133.6M85.8 82L104.1 82M85.8 82L114 81.5M85.8 82L122.3 81.8M85.8 82L70.5 89.5M85.8 82L95 91.4M85.8 82L112 93.2M85.8 82L122.3 88.1M85.8 82L135.2 89.8M85.8 82L77.7 94.6M85.8 82L103.2 96.7M85.8 82L92 100.5M85.8 82L109.7 102.2M85.8 82L120.1 101M85.8 82L137.9 99.6M85.8 82L148.7 103.5M85.8 82L126.4 108.6M85.8 82L99.8 112.1M85.8 82L81.6 115.4M85.8 82L107.8 113.5M85.8 82L120.8 120.4M85.8 82L136 120.2M85.8 82L112.3 122.8M85.8 82L113.3 132M85.8 82L130.8 133.6M104.1 82L114 81.5M104.1 82L122.3 81.8M104.1 82L70.5 89.5M104.1 82L95 91.4M104.1 82L112 93.2M104.1 82L122.3 88.1M104.1 82L135.2 89.8M104.1 82L77.7 94.6M104.1 82L103.2 96.7M104.1 82L92 100.5M104.1 82L109.7 102.2M104.1 82L120.1 101M104.1 82L137.9 99.6M104.1 82L148.7 103.5M104.1 82L126.4 108.6M104.1 82L99.8 112.1M104.1 82L81.6 115.4M104.1 82L107.8 113.5M104.1 82L120.8 120.4M104.1 82L136 120.2M104.1 82L112.3 122.8M104.1 82L113.3 132M104.1 82L130.8 133.6M114 81.5L122.3 81.8M114 81.5L70.5 89.5M114 81.5L95 91.4M114 81.5L112 93.2M114 81.5L122.3 88.1M114 81.5L135.2 89.8M114 81.5L77.7 94.6M114 81.5L103.2 96.7M114 81.5L92 100.5M114 81.5L109.7 102.2M114 81.5L120.1 101M114 81.5L137.9 99.6M114 81.5L148.7 103.5M114 81.5L126.4 108.6M114 81.5L99.8 112.1M114 81.5L81.6 115.4M114 81.5L107.8 113.5M114 81.5L120.8 120.4M114 81.5L136 120.2M114 81.5L112.3 122.8M114 81.5L113.3 132M114 81.5L130.8 133.6M122.3 81.8L70.5 89.5M122.3 81.8L95 91.4M122.3 81.8L112 93.2M122.3 81.8L122.3 88.1M122.3 81.8L135.2 89.8M122.3 81.8L77.7 94.6M122.3 81.8L103.2 96.7M122.3 81.8L92 100.5M122.3 81.8L109.7 102.2M122.3 81.8L120.1 101M122.3 81.8L137.9 99.6M122.3 81.8L148.7 103.5M122.3 81.8L126.4 108.6M122.3 81.8L99.8 112.1M122.3 81.8L81.6 115.4M122.3 81.8L107.8 113.5M122.3 81.8L120.8 120.4M122.3 81.8L136 120.2M122.3 81.8L112.3 122.8M122.3 81.8L113.3 132M122.3 81.8L130.8 133.6M70.5 89.5L95 91.4M70.5 89.5L112 93.2M70.5 89.5L122.3 88.1M70.5 89.5L135.2 89.8M70.5 89.5L77.7 94.6M70.5 89.5L103.2 96.7M70.5 89.5L92 100.5M70.5 89.5L109.7 102.2M70.5 89.5L120.1 101M70.5 89.5L137.9 99.6M70.5 89.5L148.7 103.5M70.5 89.5L126.4 108.6M70.5 89.5L99.8 112.1M70.5 89.5L81.6 115.4M70.5 89.5L107.8 113.5M70.5 89.5L120.8 120.4M70.5 89.5L136 120.2M70.5 89.5L112.3 122.8M70.5 89.5L113.3 132M70.5 89.5L130.8 133.6M95 91.4L112 93.2M95 91.4L122.3 88.1M95 91.4L135.2 89.8M95 91.4L77.7 94.6M95 91.4L103.2 96.7M95 91.4L92 100.5M95 91.4L109.7 102.2M95 91.4L120.1 101M95 91.4L137.9 99.6M95 91.4L148.7 103.5M95 91.4L126.4 108.6M95 91.4L99.8 112.1M95 91.4L81.6 115.4M95 91.4L107.8 113.5M95 91.4L120.8 120.4M95 91.4L136 120.2M95 91.4L112.3 122.8M95 91.4L113.3 132M95 91.4L130.8 133.6M112 93.2L122.3 88.1M112 93.2L135.2 89.8M112 93.2L77.7 94.6M112 93.2L103.2 96.7M112 93.2L92 100.5M112 93.2L109.7 102.2M112 93.2L120.1 101M112 93.2L137.9 99.6M112 93.2L148.7 103.5M112 93.2L126.4 108.6M112 93.2L99.8 112.1M112 93.2L81.6 115.4M112 93.2L107.8 113.5M112 93.2L120.8 120.4M112 93.2L136 120.2M112 93.2L112.3 122.8M112 93.2L113.3 132M112 93.2L130.8 133.6M122.3 88.1L135.2 89.8M122.3 88.1L77.7 94.6M122.3 88.1L103.2 96.7M122.3 88.1L92 100.5M122.3 88.1L109.7 102.2M122.3 88.1L120.1 101M122.3 88.1L137.9 99.6M122.3 88.1L148.7 103.5M122.3 88.1L126.4 108.6M122.3 88.1L99.8 112.1M122.3 88.1L81.6 115.4M122.3 88.1L107.8 113.5M122.3 88.1L120.8 120.4M122.3 88.1L136 120.2M122.3 88.1L112.3 122.8M122.3 88.1L113.3 132M122.3 88.1L130.8 133.6M135.2 89.8L77.7 94.6M135.2 89.8L103.2 96.7M135.2 89.8L92 100.5M135.2 89.8L109.7 102.2M135.2 89.8L120.1 101M135.2 89.8L137.9 99.6M135.2 89.8L148.7 103.5M135.2 89.8L126.4 108.6M135.2 89.8L99.8 112.1M135.2 89.8L81.6 115.4M135.2 89.8L107.8 113.5M135.2 89.8L120.8 120.4M135.2 89.8L136 120.2M135.2 89.8L112.3 122.8M135.2 89.8L113.3 132M135.2 89.8L130.8 133.6M77.7 94.6L103.2 96.7M77.7 94.6L92 100.5M77.7 94.6L109.7 102.2M77.7 94.6L120.1 101M77.7 94.6L137.9 99.6M77.7 94.6L148.7 103.5M77.7 94.6L126.4 108.6M77.7 94.6L99.8 112.1M77.7 94.6L81.6 115.4M77.7 94.6L107.8 113.5M77.7 94.6L120.8 120.4M77.7 94.6L136 120.2M77.7 94.6L112.3 122.8M77.7 94.6L113.3 132M77.7 94.6L130.8 133.6M103.2 96.7L92 100.5M103.2 96.7L109.7 102.2M103.2 96.7L120.1 101M103.2 96.7L137.9 99.6M103.2 96.7L148.7 103.5M103.2 96.7L126.4 108.6M103.2 96.7L99.8 112.1M103.2 96.7L81.6 115.4M103.2 96.7L107.8 113.5M103.2 96.7L120.8 120.4M103.2 96.7L136 120.2M103.2 96.7L112.3 122.8M103.2 96.7L113.3 132M103.2 96.7L130.8 133.6M92 100.5L109.7 102.2M92 100.5L120.1 101M92 100.5L137.9 99.6M92 100.5L148.7 103.5M92 100.5L126.4 108.6M92 100.5L99.8 112.1M92 100.5L81.6 115.4M92 100.5L107.8 113.5M92 100.5L120.8 120.4M92 100.5L136 120.2M92 100.5L112.3 122.8M92 100.5L113.3 132M92 100.5L130.8 133.6M109.7 102.2L120.1 101M109.7 102.2L137.9 99.6M109.7 102.2L148.7 103.5M109.7 102.2L126.4 108.6M109.7 102.2L99.8 112.1M109.7 102.2L81.6 115.4M109.7 102.2L107.8 113.5M109.7 102.2L120.8 120.4M109.7 102.2L136 120.2M109.7 102.2L112.3 122.8M109.7 102.2L113.3 132M109.7 102.2L130.8 133.6M120.1 101L137.9 99.6M120.1 101L148.7 103.5M120.1 101L126.4 108.6M120.1 101L99.8 112.1M120.1 101L81.6 115.4M120.1 101L107.8 113.5M120.1 101L120.8 120.4M120.1 101L136 120.2M120.1 101L112.3 122.8M120.1 101L113.3 132M120.1 101L130.8 133.6M137.9 99.6L148.7 103.5M137.9 99.6L126.4 108.6M137.9 99.6L99.8 112.1M137.9 99.6L81.6 115.4M137.9 99.6L107.8 113.5M137.9 99.6L120.8 120.4M137.9 99.6L136 120.2M137.9 99.6L112.3 122.8M137.9 99.6L113.3 132M137.9 99.6L130.8 133.6M148.7 103.5L126.4 108.6M148.7 103.5L99.8 112.1M148.7 103.5L81.6 115.4M148.7 103.5L107.8 113.5M148.7 103.5L120.8 120.4M148.7 103.5L136 120.2M148.7 103.5L112.3 122.8M148.7 103.5L113.3 132M148.7 103.5L130.8 133.6M126.4 108.6L99.8 112.1M126.4 108.6L81.6 115.4M126.4 108.6L107.8 113.5M126.4 108.6L120.8 120.4M126.4 108.6L136 120.2M126.4 108.6L112.3 122.8M126.4 108.6L113.3 132M126.4 108.6L130.8 133.6M99.8 112.1L81.6 115.4M99.8 112.1L107.8 113.5M99.8 112.1L120.8 120.4M99.8 112.1L136 120.2M99.8 112.1L112.3 122.8M99.8 112.1L113.3 132M99.8 112.1L130.8 133.6M81.6 115.4L107.8 113.5M81.6 115.4L120.8 120.4M81.6 115.4L136 120.2M81.6 115.4L112.3 122.8M81.6 115.4L113.3 132M81.6 115.4L130.8 133.6M107.8 113.5L120.8 120.4M107.8 113.5L136 120.2M107.8 113.5L112.3 122.8M107.8 113.5L113.3 132M107.8 113.5L130.8 133.6M120.8 120.4L136 120.2M120.8 120.4L112.3 122.8M120.8 120.4L113.3 132M120.8 120.4L130.8 133.6M136 120.2L112.3 122.8M136 120.2L113.3 132M136 120.2L130.8 133.6M112.3 122.8L113.3 132M112.3 122.8L130.8 133.6M113.3 132L130.8 133.6M48.6 96.8L32.9 85.3M48.6 96.8L41.4 72.2M48.6 96.8L157.5 50.6M48.6 96.8L161.4 58.2M48.6 96.8L168.9 63.8M48.6 96.8L164.7 94.6M48.6 96.8L174.9 93.8M48.6 96.8L196.8 97.8M48.6 96.8L178.2 113.2M48.6 96.8L181.6 124M48.6 96.8L160.8 125.7M48.6 96.8L190 142.8M48.6 96.8L167 141.9M48.6 96.8L167 159.7M32.9 85.3L41.4 72.2M32.9 85.3L54.9 77.5M32.9 85.3L173.7 36.3M32.9 85.3L161.4 58.2M32.9 85.3L168.9 63.8M32.9 85.3L168.9 72.4M32.9 85.3L175.4 80.6M32.9 85.3L164.7 94.6M32.9 85.3L174.9 93.8M32.9 85.3L196.8 97.8M32.9 85.3L178.2 113.2M32.9 85.3L181.6 124M32.9 85.3L190 142.8M32.9 85.3L167 141.9M32.9 85.3L167 159.7M41.4 72.2L54.9 77.5M41.4 72.2L35.4 52.3M41.4 72.2L168.9 63.8M41.4 72.2L164.7 94.6M41.4 72.2L174.9 93.8M41.4 72.2L196.8 97.8M41.4 72.2L178.2 113.2M41.4 72.2L181.6 124M41.4 72.2L160.8 125.7M41.4 72.2L190 142.8M41.4 72.2L167 141.9M41.4 72.2L167 159.7M41.4 72.2L144.6 147.8M41.4 72.2L149.2 169.3M54.9 77.5L35.4 52.3M54.9 77.5L59.9 59.4M54.9 77.5L168.9 72.4M54.9 77.5L175.4 80.6M54.9 77.5L164.7 94.6M54.9 77.5L174.9 93.8M54.9 77.5L196.8 97.8M54.9 77.5L178.2 113.2M54.9 77.5L181.6 124M54.9 77.5L160.8 125.7M54.9 77.5L190 142.8M54.9 77.5L167 141.9M54.9 77.5L149.2 169.3M54.9 77.5L131.1 167.6M35.4 52.3L59.9 59.4M35.4 52.3L53.7 44.2M35.4 52.3L168.9 72.4M35.4 52.3L175.4 80.6M35.4 52.3L164.7 94.6M35.4 52.3L174.9 93.8M35.4 52.3L196.8 97.8M35.4 52.3L178.2 113.2M35.4 52.3L181.6 124M35.4 52.3L160.8 125.7M35.4 52.3L167 141.9M35.4 52.3L167 159.7M35.4 52.3L144.6 147.8M35.4 52.3L131.1 167.6M35.4 52.3L118.2 158.2M59.9 59.4L53.7 44.2M59.9 59.4L68.9 32.9M59.9 59.4L175.4 80.6M59.9 59.4L164.7 94.6M59.9 59.4L174.9 93.8M59.9 59.4L196.8 97.8M59.9 59.4L178.2 113.2M59.9 59.4L181.6 124M59.9 59.4L160.8 125.7M59.9 59.4L190 142.8M59.9 59.4L167 159.7M59.9 59.4L144.6 147.8M59.9 59.4L131.1 167.6M53.7 44.2L68.9 32.9M53.7 44.2L80.6 44.7M53.7 44.2L174.9 93.8M53.7 44.2L181.6 124M53.7 44.2L190 142.8M53.7 44.2L167 141.9M53.7 44.2L167 159.7M53.7 44.2L144.6 147.8M53.7 44.2L149.2 169.3M68.9 32.9L80.6 44.7M68.9 32.9L78.5 8.3M68.9 32.9L174.9 93.8M68.9 32.9L196.8 97.8M68.9 32.9L178.2 113.2M68.9 32.9L190 142.8M68.9 32.9L167 141.9M68.9 32.9L167 159.7M68.9 32.9L144.6 147.8M68.9 32.9L149.2 169.3M68.9 32.9L118.2 158.2M68.9 32.9L109.9 188.4M68.9 32.9L108.2 169.3M68.9 32.9L98.1 149M80.6 44.7L78.5 8.3M80.6 44.7L94.6 23.6M80.6 44.7L196.8 97.8M80.6 44.7L181.6 124M80.6 44.7L160.8 125.7M80.6 44.7L190 142.8M80.6 44.7L167 141.9M80.6 44.7L144.6 147.8M80.6 44.7L149.2 169.3M80.6 44.7L131.1 167.6M80.6 44.7L118.2 158.2M80.6 44.7L108.2 169.3M80.6 44.7L95.2 161.4M78.5 8.3L94.6 23.6M78.5 8.3L98.8 40.5M78.5 8.3L178.2 113.2M78.5 8.3L181.6 124M78.5 8.3L190 142.8M78.5 8.3L167 141.9M78.5 8.3L144.6 147.8M78.5 8.3L131.1 167.6M78.5 8.3L118.2 158.2M78.5 8.3L98.1 149M78.5 8.3L84.6 159.2M94.6 23.6L98.8 40.5M94.6 23.6L110.6 32.6M94.6 23.6L181.6 124M94.6 23.6L160.8 125.7M94.6 23.6L167 141.9M94.6 23.6L131.1 167.6M94.6 23.6L118.2 158.2M94.6 23.6L109.9 188.4M94.6 23.6L95.2 161.4M94.6 23.6L84.6 159.2M94.6 23.6L78.7 149.5M98.8 40.5L110.6 32.6M98.8 40.5L122.9 23.6M98.8 40.5L167 141.9M98.8 40.5L167 159.7M98.8 40.5L131.1 167.6M98.8 40.5L118.2 158.2M98.8 40.5L109.9 188.4M98.8 40.5L108.2 169.3M98.8 40.5L98.1 149M98.8 40.5L84.6 159.2M98.8 40.5L68.9 152.4M110.6 32.6L122.9 23.6M110.6 32.6L125 43.7M110.6 32.6L167 159.7M110.6 32.6L118.2 158.2M110.6 32.6L109.9 188.4M110.6 32.6L98.1 149M110.6 32.6L95.2 161.4M110.6 32.6L84.6 159.2M110.6 32.6L68.9 152.4M122.9 23.6L125 43.7M122.9 23.6L136.9 28.7M122.9 23.6L167 141.9M122.9 23.6L167 159.7M122.9 23.6L144.6 147.8M122.9 23.6L131.1 167.6M122.9 23.6L118.2 158.2M122.9 23.6L109.9 188.4M122.9 23.6L108.2 169.3M122.9 23.6L98.1 149M122.9 23.6L95.2 161.4M122.9 23.6L84.6 159.2M122.9 23.6L78.7 149.5M122.9 23.6L68.9 152.4M122.9 23.6L66 138.8M122.9 23.6L40.2 147M125 43.7L136.9 28.7M125 43.7L150.9 26.2M125 43.7L167 159.7M125 43.7L144.6 147.8M125 43.7L149.2 169.3M125 43.7L118.2 158.2M125 43.7L109.9 188.4M125 43.7L108.2 169.3M125 43.7L98.1 149M125 43.7L95.2 161.4M125 43.7L84.6 159.2M125 43.7L78.7 149.5M125 43.7L68.9 152.4M125 43.7L66 138.8M125 43.7L62.8 128.4M136.9 28.7L150.9 26.2M136.9 28.7L141.9 45.9M136.9 28.7L144.6 147.8M136.9 28.7L149.2 169.3M136.9 28.7L131.1 167.6M136.9 28.7L118.2 158.2M136.9 28.7L109.9 188.4M136.9 28.7L108.2 169.3M136.9 28.7L98.1 149M136.9 28.7L95.2 161.4M136.9 28.7L78.7 149.5M136.9 28.7L68.9 152.4M136.9 28.7L40.2 147M136.9 28.7L62.8 128.4M150.9 26.2L141.9 45.9M150.9 26.2L157.5 50.6M150.9 26.2L149.2 169.3M150.9 26.2L131.1 167.6M150.9 26.2L118.2 158.2M150.9 26.2L109.9 188.4M150.9 26.2L108.2 169.3M150.9 26.2L98.1 149M150.9 26.2L84.6 159.2M150.9 26.2L78.7 149.5M150.9 26.2L40.2 147M150.9 26.2L50.3 130.7M150.9 26.2L57 110.6M141.9 45.9L157.5 50.6M141.9 45.9L173.7 36.3M141.9 45.9L118.2 158.2M141.9 45.9L108.2 169.3M141.9 45.9L95.2 161.4M141.9 45.9L84.6 159.2M141.9 45.9L78.7 149.5M141.9 45.9L68.9 152.4M141.9 45.9L40.2 147M141.9 45.9L62.8 128.4M141.9 45.9L45.2 112M157.5 50.6L173.7 36.3M157.5 50.6L161.4 58.2M157.5 50.6L118.2 158.2M157.5 50.6L108.2 169.3M157.5 50.6L98.1 149M157.5 50.6L84.6 159.2M157.5 50.6L68.9 152.4M157.5 50.6L66 138.8M157.5 50.6L40.2 147M157.5 50.6L62.8 128.4M157.5 50.6L57 110.6M173.7 36.3L161.4 58.2M173.7 36.3L168.9 63.8M173.7 36.3L109.9 188.4M173.7 36.3L95.2 161.4M173.7 36.3L84.6 159.2M173.7 36.3L78.7 149.5M173.7 36.3L66 138.8M173.7 36.3L40.2 147M173.7 36.3L62.8 128.4M173.7 36.3L50.3 130.7M173.7 36.3L57 110.6M173.7 36.3L45.2 112M173.7 36.3L16.5 113.7M161.4 58.2L168.9 63.8M161.4 58.2L168.9 72.4M161.4 58.2L98.1 149M161.4 58.2L95.2 161.4M161.4 58.2L84.6 159.2M161.4 58.2L78.7 149.5M161.4 58.2L68.9 152.4M161.4 58.2L66 138.8M161.4 58.2L62.8 128.4M161.4 58.2L50.3 130.7M161.4 58.2L57 110.6M161.4 58.2L45.2 112M161.4 58.2L16.5 113.7M161.4 58.2L48.6 96.8M161.4 58.2L32.9 85.3M168.9 63.8L168.9 72.4M168.9 63.8L175.4 80.6M168.9 63.8L98.1 149M168.9 63.8L95.2 161.4M168.9 63.8L84.6 159.2M168.9 63.8L78.7 149.5M168.9 63.8L68.9 152.4M168.9 63.8L40.2 147M168.9 63.8L50.3 130.7M168.9 63.8L45.2 112M168.9 63.8L16.5 113.7M168.9 63.8L48.6 96.8M168.9 72.4L175.4 80.6M168.9 72.4L164.7 94.6M168.9 72.4L95.2 161.4M168.9 72.4L84.6 159.2M168.9 72.4L68.9 152.4M168.9 72.4L66 138.8M168.9 72.4L62.8 128.4M168.9 72.4L57 110.6M168.9 72.4L16.5 113.7M168.9 72.4L32.9 85.3M168.9 72.4L41.4 72.2M168.9 72.4L54.9 77.5M175.4 80.6L164.7 94.6M175.4 80.6L174.9 93.8M175.4 80.6L84.6 159.2M175.4 80.6L78.7 149.5M175.4 80.6L40.2 147M175.4 80.6L62.8 128.4M175.4 80.6L50.3 130.7M175.4 80.6L57 110.6M175.4 80.6L16.5 113.7M175.4 80.6L48.6 96.8M175.4 80.6L32.9 85.3M175.4 80.6L41.4 72.2M175.4 80.6L54.9 77.5M164.7 94.6L174.9 93.8M164.7 94.6L196.8 97.8M164.7 94.6L68.9 152.4M164.7 94.6L66 138.8M164.7 94.6L62.8 128.4M164.7 94.6L50.3 130.7M164.7 94.6L57 110.6M164.7 94.6L45.2 112M164.7 94.6L16.5 113.7M164.7 94.6L48.6 96.8M164.7 94.6L32.9 85.3M164.7 94.6L41.4 72.2M164.7 94.6L54.9 77.5M164.7 94.6L35.4 52.3M164.7 94.6L59.9 59.4M174.9 93.8L196.8 97.8M174.9 93.8L178.2 113.2M174.9 93.8L68.9 152.4M174.9 93.8L66 138.8M174.9 93.8L40.2 147M174.9 93.8L50.3 130.7M174.9 93.8L57 110.6M174.9 93.8L16.5 113.7M174.9 93.8L32.9 85.3M174.9 93.8L41.4 72.2M174.9 93.8L35.4 52.3M174.9 93.8L53.7 44.2M196.8 97.8L178.2 113.2M196.8 97.8L181.6 124M196.8 97.8L62.8 128.4M196.8 97.8L50.3 130.7M196.8 97.8L57 110.6M196.8 97.8L45.2 112M196.8 97.8L16.5 113.7M196.8 97.8L48.6 96.8M196.8 97.8L32.9 85.3M196.8 97.8L41.4 72.2M196.8 97.8L54.9 77.5M196.8 97.8L35.4 52.3M196.8 97.8L68.9 32.9M178.2 113.2L181.6 124M178.2 113.2L160.8 125.7M178.2 113.2L40.2 147M178.2 113.2L50.3 130.7M178.2 113.2L48.6 96.8M178.2 113.2L32.9 85.3M178.2 113.2L41.4 72.2M178.2 113.2L54.9 77.5M178.2 113.2L35.4 52.3M178.2 113.2L59.9 59.4M178.2 113.2L53.7 44.2M178.2 113.2L68.9 32.9M178.2 113.2L80.6 44.7M181.6 124L160.8 125.7M181.6 124L190 142.8M181.6 124L62.8 128.4M181.6 124L50.3 130.7M181.6 124L45.2 112M181.6 124L16.5 113.7M181.6 124L32.9 85.3M181.6 124L41.4 72.2M181.6 124L54.9 77.5M181.6 124L35.4 52.3M181.6 124L59.9 59.4M181.6 124L53.7 44.2M181.6 124L78.5 8.3M160.8 125.7L190 142.8M160.8 125.7L167 141.9M160.8 125.7L50.3 130.7M160.8 125.7L57 110.6M160.8 125.7L45.2 112M160.8 125.7L16.5 113.7M160.8 125.7L32.9 85.3M160.8 125.7L41.4 72.2M160.8 125.7L54.9 77.5M160.8 125.7L53.7 44.2M160.8 125.7L68.9 32.9M190 142.8L167 141.9M190 142.8L167 159.7M190 142.8L57 110.6M190 142.8L45.2 112M190 142.8L48.6 96.8M190 142.8L41.4 72.2M190 142.8L54.9 77.5M190 142.8L59.9 59.4M190 142.8L53.7 44.2M190 142.8L68.9 32.9M190 142.8L78.5 8.3M167 141.9L167 159.7M167 141.9L144.6 147.8M167 141.9L45.2 112M167 141.9L16.5 113.7M167 141.9L32.9 85.3M167 141.9L54.9 77.5M167 141.9L35.4 52.3M167 141.9L59.9 59.4M167 141.9L80.6 44.7M167 141.9L78.5 8.3M167 141.9L94.6 23.6M167 141.9L98.8 40.5M167 141.9L110.6 32.6M167 159.7L144.6 147.8M167 159.7L149.2 169.3M167 159.7L16.5 113.7M167 159.7L48.6 96.8M167 159.7L32.9 85.3M167 159.7L41.4 72.2M167 159.7L35.4 52.3M167 159.7L59.9 59.4M167 159.7L53.7 44.2M167 159.7L68.9 32.9M167 159.7L80.6 44.7M167 159.7L98.8 40.5M167 159.7L110.6 32.6M144.6 147.8L149.2 169.3M144.6 147.8L131.1 167.6M144.6 147.8L48.6 96.8M144.6 147.8L32.9 85.3M144.6 147.8L41.4 72.2M144.6 147.8L54.9 77.5M144.6 147.8L59.9 59.4M144.6 147.8L53.7 44.2M144.6 147.8L80.6 44.7M144.6 147.8L78.5 8.3M144.6 147.8L110.6 32.6M144.6 147.8L122.9 23.6M149.2 169.3L131.1 167.6M149.2 169.3L118.2 158.2M149.2 169.3L32.9 85.3M149.2 169.3L41.4 72.2M149.2 169.3L35.4 52.3M149.2 169.3L59.9 59.4M149.2 169.3L68.9 32.9M149.2 169.3L80.6 44.7M149.2 169.3L78.5 8.3M149.2 169.3L94.6 23.6M149.2 169.3L98.8 40.5M149.2 169.3L110.6 32.6M149.2 169.3L125 43.7M131.1 167.6L118.2 158.2M131.1 167.6L109.9 188.4M131.1 167.6L41.4 72.2M131.1 167.6L35.4 52.3M131.1 167.6L59.9 59.4M131.1 167.6L53.7 44.2M131.1 167.6L68.9 32.9M131.1 167.6L78.5 8.3M131.1 167.6L94.6 23.6M131.1 167.6L98.8 40.5M131.1 167.6L110.6 32.6M118.2 158.2L109.9 188.4M118.2 158.2L108.2 169.3M118.2 158.2L35.4 52.3M118.2 158.2L59.9 59.4M118.2 158.2L80.6 44.7M118.2 158.2L78.5 8.3M118.2 158.2L94.6 23.6M118.2 158.2L110.6 32.6M118.2 158.2L125 43.7M118.2 158.2L150.9 26.2M109.9 188.4L108.2 169.3M109.9 188.4L98.1 149M109.9 188.4L35.4 52.3M109.9 188.4L59.9 59.4M109.9 188.4L53.7 44.2M109.9 188.4L68.9 32.9M109.9 188.4L80.6 44.7M109.9 188.4L78.5 8.3M109.9 188.4L110.6 32.6M109.9 188.4L122.9 23.6M109.9 188.4L125 43.7M109.9 188.4L136.9 28.7M109.9 188.4L150.9 26.2M109.9 188.4L157.5 50.6M108.2 169.3L98.1 149M108.2 169.3L95.2 161.4M108.2 169.3L53.7 44.2M108.2 169.3L68.9 32.9M108.2 169.3L78.5 8.3M108.2 169.3L98.8 40.5M108.2 169.3L125 43.7M108.2 169.3L136.9 28.7M108.2 169.3L150.9 26.2M108.2 169.3L141.9 45.9M108.2 169.3L157.5 50.6M108.2 169.3L173.7 36.3M98.1 149L95.2 161.4M98.1 149L84.6 159.2M98.1 149L53.7 44.2M98.1 149L68.9 32.9M98.1 149L80.6 44.7M98.1 149L78.5 8.3M98.1 149L94.6 23.6M98.1 149L98.8 40.5M98.1 149L110.6 32.6M98.1 149L122.9 23.6M98.1 149L125 43.7M98.1 149L150.9 26.2M98.1 149L141.9 45.9M98.1 149L157.5 50.6M98.1 149L173.7 36.3M98.1 149L161.4 58.2M95.2 161.4L84.6 159.2M95.2 161.4L78.7 149.5M95.2 161.4L68.9 32.9M95.2 161.4L80.6 44.7M95.2 161.4L78.5 8.3M95.2 161.4L94.6 23.6M95.2 161.4L136.9 28.7M95.2 161.4L141.9 45.9M95.2 161.4L157.5 50.6M95.2 161.4L161.4 58.2M84.6 159.2L78.7 149.5M84.6 159.2L68.9 152.4M84.6 159.2L78.5 8.3M84.6 159.2L94.6 23.6M84.6 159.2L110.6 32.6M84.6 159.2L122.9 23.6M84.6 159.2L125 43.7M84.6 159.2L136.9 28.7M84.6 159.2L150.9 26.2M84.6 159.2L141.9 45.9M84.6 159.2L173.7 36.3M84.6 159.2L161.4 58.2M84.6 159.2L168.9 63.8M84.6 159.2L168.9 72.4M78.7 149.5L68.9 152.4M78.7 149.5L66 138.8M78.7 149.5L78.5 8.3M78.7 149.5L94.6 23.6M78.7 149.5L98.8 40.5M78.7 149.5L110.6 32.6M78.7 149.5L122.9 23.6M78.7 149.5L125 43.7M78.7 149.5L136.9 28.7M78.7 149.5L157.5 50.6M78.7 149.5L161.4 58.2M78.7 149.5L168.9 63.8M78.7 149.5L168.9 72.4M78.7 149.5L175.4 80.6M68.9 152.4L66 138.8M68.9 152.4L40.2 147M68.9 152.4L94.6 23.6M68.9 152.4L110.6 32.6M68.9 152.4L125 43.7M68.9 152.4L136.9 28.7M68.9 152.4L150.9 26.2M68.9 152.4L141.9 45.9M68.9 152.4L157.5 50.6M68.9 152.4L173.7 36.3M68.9 152.4L168.9 72.4M68.9 152.4L164.7 94.6M66 138.8L40.2 147M66 138.8L62.8 128.4M66 138.8L98.8 40.5M66 138.8L110.6 32.6M66 138.8L125 43.7M66 138.8L136.9 28.7M66 138.8L150.9 26.2M66 138.8L141.9 45.9M66 138.8L157.5 50.6M66 138.8L168.9 63.8M66 138.8L175.4 80.6M66 138.8L174.9 93.8M40.2 147L62.8 128.4M40.2 147L50.3 130.7M40.2 147L110.6 32.6M40.2 147L125 43.7M40.2 147L136.9 28.7M40.2 147L150.9 26.2M40.2 147L141.9 45.9M40.2 147L157.5 50.6M40.2 147L161.4 58.2M40.2 147L168.9 63.8M40.2 147L168.9 72.4M40.2 147L174.9 93.8M62.8 128.4L50.3 130.7M62.8 128.4L57 110.6M62.8 128.4L122.9 23.6M62.8 128.4L125 43.7M62.8 128.4L136.9 28.7M62.8 128.4L150.9 26.2M62.8 128.4L141.9 45.9M62.8 128.4L157.5 50.6M62.8 128.4L173.7 36.3M62.8 128.4L161.4 58.2M62.8 128.4L168.9 63.8M62.8 128.4L168.9 72.4M62.8 128.4L175.4 80.6M62.8 128.4L164.7 94.6M62.8 128.4L174.9 93.8M62.8 128.4L196.8 97.8M50.3 130.7L57 110.6M50.3 130.7L45.2 112M50.3 130.7L125 43.7M50.3 130.7L150.9 26.2M50.3 130.7L141.9 45.9M50.3 130.7L157.5 50.6M50.3 130.7L173.7 36.3M50.3 130.7L161.4 58.2M50.3 130.7L168.9 63.8M50.3 130.7L175.4 80.6M50.3 130.7L196.8 97.8M50.3 130.7L178.2 113.2M50.3 130.7L181.6 124M57 110.6L45.2 112M57 110.6L16.5 113.7M57 110.6L136.9 28.7M57 110.6L150.9 26.2M57 110.6L141.9 45.9M57 110.6L157.5 50.6M57 110.6L173.7 36.3M57 110.6L168.9 72.4M57 110.6L175.4 80.6M57 110.6L174.9 93.8M57 110.6L196.8 97.8M57 110.6L178.2 113.2M57 110.6L181.6 124M45.2 112L16.5 113.7M45.2 112L48.6 96.8M45.2 112L150.9 26.2M45.2 112L141.9 45.9M45.2 112L173.7 36.3M45.2 112L161.4 58.2M45.2 112L168.9 63.8M45.2 112L168.9 72.4M45.2 112L175.4 80.6M45.2 112L164.7 94.6M45.2 112L178.2 113.2M45.2 112L181.6 124M45.2 112L160.8 125.7M45.2 112L190 142.8M16.5 113.7L48.6 96.8M16.5 113.7L32.9 85.3M16.5 113.7L141.9 45.9M16.5 113.7L157.5 50.6M16.5 113.7L173.7 36.3M16.5 113.7L168.9 63.8M16.5 113.7L175.4 80.6M16.5 113.7L196.8 97.8M16.5 113.7L178.2 113.2M16.5 113.7L160.8 125.7M16.5 113.7L190 142.8M16.5 113.7L167 141.9"/>
<g fill="#ee1530"><circle cx="78.5" cy="8.3" r="3.4"/><circle cx="94.6" cy="23.6" r="3.4"/><circle cx="122.9" cy="23.6" r="3.4"/><circle cx="110.6" cy="32.6" r="3.4"/><circle cx="136.9" cy="28.7" r="3.4"/><circle cx="150.9" cy="26.2" r="3.4"/><circle cx="173.7" cy="36.3" r="3.4"/><circle cx="53.7" cy="44.2" r="3.4"/><circle cx="35.4" cy="52.3" r="3.4"/><circle cx="59.9" cy="59.4" r="3.4"/><circle cx="32.9" cy="85.3" r="3.4"/><circle cx="16.5" cy="113.7" r="3.4"/><circle cx="175.4" cy="80.6" r="3.4"/><circle cx="196.8" cy="97.8" r="3.4"/><circle cx="181.6" cy="124" r="3.4"/><circle cx="190" cy="142.8" r="3.4"/><circle cx="167" cy="159.7" r="3.4"/><circle cx="131.1" cy="167.6" r="3.4"/><circle cx="149.2" cy="169.3" r="3.4"/><circle cx="95.2" cy="161.4" r="3.4"/><circle cx="109.9" cy="188.4" r="3.4"/></g>
<g fill="#fbb300"><circle cx="68.9" cy="32.9" r="3.4"/><circle cx="80.6" cy="44.7" r="3.4"/><circle cx="98.8" cy="40.5" r="3.4"/><circle cx="125" cy="43.7" r="3.4"/><circle cx="141.9" cy="45.9" r="3.4"/><circle cx="157.5" cy="50.6" r="3.4"/><circle cx="161.4" cy="58.2" r="3.4"/><circle cx="168.9" cy="63.8" r="3.4"/><circle cx="168.9" cy="72.4" r="3.4"/><circle cx="174.9" cy="93.8" r="3.4"/><circle cx="164.7" cy="94.6" r="3.4"/><circle cx="178.2" cy="113.2" r="3.4"/><circle cx="160.8" cy="125.7" r="3.4"/><circle cx="167" cy="141.9" r="3.4"/><circle cx="144.6" cy="147.8" r="3.4"/><circle cx="118.2" cy="158.2" r="3.4"/><circle cx="108.2" cy="169.3" r="3.4"/><circle cx="98.1" cy="149" r="3.4"/><circle cx="84.6" cy="159.2" r="3.4"/><circle cx="78.7" cy="149.5" r="3.4"/><circle cx="68.9" cy="152.4" r="3.4"/><circle cx="66" cy="138.8" r="3.4"/><circle cx="62.8" cy="128.4" r="3.4"/><circle cx="50.3" cy="130.7" r="3.4"/><circle cx="40.2" cy="147" r="3.4"/><circle cx="57" cy="110.6" r="3.4"/><circle cx="45.2" cy="112" r="3.4"/><circle cx="48.6" cy="96.8" r="3.4"/><circle cx="54.9" cy="77.5" r="3.4"/><circle cx="41.4" cy="72.2" r="3.4"/></g>
<g fill="#1292e4"><circle cx="107.6" cy="61.8" r="3.4"/><circle cx="94.8" cy="67.6" r="3.4"/><circle cx="81.3" cy="71.5" r="3.4"/><circle cx="118.5" cy="70.2" r="3.4"/><circle cx="133.8" cy="74.7" r="3.4"/><circle cx="85.8" cy="82" r="3.4"/><circle cx="104.1" cy="82" r="3.4"/><circle cx="114" cy="81.5" r="3.4"/><circle cx="122.3" cy="81.8" r="3.4"/><circle cx="70.5" cy="89.5" r="3.4"/><circle cx="95" cy="91.4" r="3.4"/><circle cx="112" cy="93.2" r="3.4"/><circle cx="122.3" cy="88.1" r="3.4"/><circle cx="135.2" cy="89.8" r="3.4"/><circle cx="77.7" cy="94.6" r="3.4"/><circle cx="103.2" cy="96.7" r="3.4"/><circle cx="92" cy="100.5" r="3.4"/><circle cx="109.7" cy="102.2" r="3.4"/><circle cx="120.1" cy="101" r="3.4"/><circle cx="137.9" cy="99.6" r="3.4"/><circle cx="148.7" cy="103.5" r="3.4"/><circle cx="126.4" cy="108.6" r="3.4"/><circle cx="99.8" cy="112.1" r="3.4"/><circle cx="81.6" cy="115.4" r="3.4"/><circle cx="107.8" cy="113.5" r="3.4"/><circle cx="120.8" cy="120.4" r="3.4"/><circle cx="136" cy="120.2" r="3.4"/><circle cx="112.3" cy="122.8" r="3.4"/><circle cx="113.3" cy="132" r="3.4"/><circle cx="130.8" cy="133.6" r="3.4"/></g>
<g font-size="6.5" font-style="italic" text-anchor="middle" fill="#262626"><text x="78" y="9.9">ARR2</text><text x="93.4" y="25.9">KUA1</text><text x="126.3" y="25.1">ARF1-BP</text><text x="110.2" y="34.9">ANAC083</text><text x="137.7" y="31.3">ANAC059</text><text x="157.8" y="27.3">ATWRKY53</text><text x="172" y="38.1">ARR1</text><text x="56.2" y="46.5">ANAC004</text><text x="35.1" y="54.6">AGL42</text><text x="62.7" y="61.7">ANAC042</text><text x="35" y="86.8">ANAC017</text><text x="18.6" y="115.5">ANAC029</text><text x="176.9" y="82.6">CAMTA3</text><text x="194.2" y="100.1">AtF</text><text x="183.3" y="125.6">ANAC081</text><text x="194.2" y="146.4">ATDD8</text><text x="171" y="162">ATWRKY70</text><text x="134" y="167.9">ATWRKY36</text><text x="155.3" y="172.9">ATWRKY22</text><text x="95.3" y="167">ANAC087</text><text x="112.5" y="190.1">ANAC092</text><text x="69.9" y="35.2">ATGLK1</text><text x="96.3" y="42.8">ZAT11</text><text x="118" y="46">ATERF13</text><text x="151.8" y="47">ATWRKY33</text><text x="158.9" y="52.9">ATCOL4</text><text x="162.7" y="60.5">AtZAT12</text><text x="170" y="74.9">AtTEM1</text><text x="180.8" y="94.9">ATERF-2</text><text x="161.4" y="98.6">ERF109</text><text x="182.5" y="115">ATERF#011</text><text x="160.9" y="127.8">AtEIN3</text><text x="168.4" y="143.4">HSFA4A</text><text x="145.5" y="149.3">ATDDF1</text><text x="120.3" y="159.8">AtERF53</text><text x="110.2" y="173.8">WRKY26</text><text x="101" y="153.5">TGA3</text><text x="84.6" y="160.3">NGAL2</text><text x="78" y="148.5">ArWRKY47</text><text x="70.5" y="154">ATCOL5</text><text x="64.4" y="131.5">DEAR5</text><text x="41.4" y="136.6">ATMYB7</text><text x="38.8" y="148.1">FTM5</text><text x="58.9" y="116">LCL5</text><text x="44.3" y="109.9">DEWAX</text><text x="55.3" y="79.2">DIV2</text><text x="41" y="74.1">AtPIF4</text><text x="112" y="63.9">CYP709B2</text><text x="99" y="69.8">ATWRKY30</text><text x="82" y="73.3">BFN1</text><text x="77.8" y="83.9">AGL42</text><text x="103.7" y="82.9">ATGPAT2</text><text x="129" y="83.9">AtLEA5</text><text x="67.5" y="91.8">ALD1</text><text x="95" y="92.3">NIMIN-2</text><text x="120.5" y="90.1">DMR6</text><text x="72" y="97.7">AtRLP41</text><text x="96" y="99.1">NRT1.5</text><text x="83.7" y="106.2">ATOPR1</text><text x="112.3" y="107.5">ATCLNT-1</text><text x="125.3" y="102">ATRUB54</text><text x="151.4" y="107.5">ATMLO12</text><text x="93" y="112.9">ATMKK9</text><text x="117.4" y="116.3">COR78</text><text x="132.6" y="121.3">ATWRKY53</text><text x="112.3" y="127.3">JR1</text><text x="130.5" y="95.5">GAMMA-VPE</text></g>
<rect x="12.7" y="165.2" width="50.6" height="24.8" rx="2.2" fill="#fff" stroke="#cfcfcf" stroke-width="0.6"/>
<circle cx="16.9" cy="170.3" r="2.0" fill="#ee1530"/>
<text x="20.9" y="172.6" font-size="6.6">Known TFs</text>
<circle cx="16.9" cy="177.05" r="2.0" fill="#fbb300"/>
<text x="20.9" y="179.35" font-size="6.6">Novel TFs</text>
<circle cx="16.9" cy="183.8" r="2.0" fill="#1292e4"/>
<text x="20.9" y="186.1" font-size="6.6">Target genes</text>
<rect x="260.4" y="25.7" width="122.6" height="99.8" fill="none" stroke="#858585" stroke-width="1.1"/>
<rect x="260.8" y="28.8" width="111.17" height="5.7" fill="#0588ca"/>
<text x="257.8" y="33.55" font-size="7.6" text-anchor="end">bHLH</text>
<text x="372.57" y="34.05" font-size="7.6">91</text>
<line x1="258.6" y1="31.65" x2="260.4" y2="31.65" stroke="#555" stroke-width="0.6"/>
<rect x="260.8" y="38.58" width="108.71" height="5.7" fill="#0588ca"/>
<text x="257.8" y="43.33" font-size="7.6" text-anchor="end">ERF</text>
<text x="370.11" y="43.83" font-size="7.6">89</text>
<line x1="258.6" y1="41.43" x2="260.4" y2="41.43" stroke="#555" stroke-width="0.6"/>
<rect x="260.8" y="48.36" width="101.36" height="5.7" fill="#0588ca"/>
<text x="257.8" y="53.11" font-size="7.6" text-anchor="end">MYB</text>
<text x="362.76" y="53.61" font-size="7.6">83</text>
<line x1="258.6" y1="51.21" x2="260.4" y2="51.21" stroke="#555" stroke-width="0.6"/>
<rect x="260.8" y="58.14" width="69.48" height="5.7" fill="#0588ca"/>
<text x="257.8" y="62.89" font-size="7.6" text-anchor="end">C2H2</text>
<text x="330.88" y="63.39" font-size="7.6">57</text>
<line x1="258.6" y1="60.99" x2="260.4" y2="60.99" stroke="#555" stroke-width="0.6"/>
<rect x="260.8" y="67.92" width="68.26" height="5.7" fill="#0588ca"/>
<text x="257.8" y="72.67" font-size="7.6" text-anchor="end">bZIP</text>
<text x="329.66" y="73.17" font-size="7.6">56</text>
<line x1="258.6" y1="70.77" x2="260.4" y2="70.77" stroke="#555" stroke-width="0.6"/>
<rect x="260.8" y="77.7" width="68.26" height="5.7" fill="#0588ca"/>
<text x="257.8" y="82.45" font-size="7.6" text-anchor="end">NAC</text>
<text x="329.66" y="82.95" font-size="7.6">56</text>
<line x1="258.6" y1="80.55" x2="260.4" y2="80.55" stroke="#555" stroke-width="0.6"/>
<rect x="260.8" y="87.48" width="65.8" height="5.7" fill="#0588ca"/>
<text x="257.8" y="92.23" font-size="7.6" text-anchor="end">WRKY</text>
<text x="327.2" y="92.73" font-size="7.6">54</text>
<line x1="258.6" y1="90.33" x2="260.4" y2="90.33" stroke="#555" stroke-width="0.6"/>
<rect x="260.8" y="97.26" width="56" height="5.7" fill="#0588ca"/>
<text x="257.8" y="102.01" font-size="7.6" text-anchor="end">MYB_related</text>
<text x="317.4" y="102.51" font-size="7.6">46</text>
<line x1="258.6" y1="100.11" x2="260.4" y2="100.11" stroke="#555" stroke-width="0.6"/>
<rect x="260.8" y="107.04" width="47.41" height="5.7" fill="#0588ca"/>
<text x="257.8" y="111.79" font-size="7.6" text-anchor="end">C3H</text>
<text x="308.81" y="112.29" font-size="7.6">39</text>
<line x1="258.6" y1="109.89" x2="260.4" y2="109.89" stroke="#555" stroke-width="0.6"/>
<rect x="260.8" y="116.82" width="36.38" height="5.7" fill="#0588ca"/>
<text x="257.8" y="121.57" font-size="7.6" text-anchor="end">G2−like</text>
<text x="297.78" y="122.07" font-size="7.6">30</text>
<line x1="258.6" y1="119.67" x2="260.4" y2="119.67" stroke="#555" stroke-width="0.6"/>
<line x1="260.4" y1="25.7" x2="260.4" y2="125.5" stroke="#333" stroke-width="0.8"/>
<line x1="260.4" y1="125.5" x2="383" y2="125.5" stroke="#333" stroke-width="0.8"/>
<line x1="260.4" y1="125.5" x2="260.4" y2="127.3" stroke="#555" stroke-width="0.6"/>
<text x="260.4" y="134.5" font-size="7.7" text-anchor="middle">0</text>
<line x1="284.92" y1="125.5" x2="284.92" y2="127.3" stroke="#555" stroke-width="0.6"/>
<text x="284.92" y="134.5" font-size="7.7" text-anchor="middle">20</text>
<line x1="309.44" y1="125.5" x2="309.44" y2="127.3" stroke="#555" stroke-width="0.6"/>
<text x="309.44" y="134.5" font-size="7.7" text-anchor="middle">40</text>
<line x1="333.96" y1="125.5" x2="333.96" y2="127.3" stroke="#555" stroke-width="0.6"/>
<text x="333.96" y="134.5" font-size="7.7" text-anchor="middle">60</text>
<line x1="358.48" y1="125.5" x2="358.48" y2="127.3" stroke="#555" stroke-width="0.6"/>
<text x="358.48" y="134.5" font-size="7.7" text-anchor="middle">80</text>
<line x1="383" y1="125.5" x2="383" y2="127.3" stroke="#555" stroke-width="0.6"/>
<text x="383" y="134.5" font-size="7.7" text-anchor="middle">100</text>
<text x="318.1" y="143.2" font-size="7.45" text-anchor="middle">Number of genes</text>
<text x="314.7" y="21.1" font-size="7.0" text-anchor="middle">TF family</text>
<circle cx="473.2" cy="72.6" r="48" fill="#a3dcec"/>
<circle cx="443.5" cy="73.2" r="30.4" fill="#3ca6e0"/>
<clipPath id="clipR"><circle cx="473.2" cy="72.6" r="48"/></clipPath>
<circle cx="443.5" cy="73.2" r="30.4" fill="#64d5d8" clip-path="url(#clipR)"/>
<circle cx="473.2" cy="72.6" r="48" fill="none" stroke="#2a2a2a" stroke-width="0.8"/>
<circle cx="443.5" cy="73.2" r="30.4" fill="none" stroke="#2a2a2a" stroke-width="0.8"/>
<text x="476.6" y="22.3" font-size="7.6" text-anchor="middle">DEGRN</text>
<text x="414.8" y="49" font-size="7.6" text-anchor="middle">LSD</text>
<text x="419.9" y="75.2" font-size="7.6" text-anchor="middle">82</text>
<text x="448.2" y="75.2" font-size="7.6" text-anchor="middle">333</text>
<text x="498" y="75.2" font-size="7.6" text-anchor="middle">694</text>
<rect x="36.8" y="210" width="5.5" height="58.9" fill="#1cc1b5"/>
<rect x="36.8" y="270.9" width="5.5" height="75.6" fill="#f0417a"/>
<rect x="36.8" y="349" width="5.5" height="52.9" fill="#189bbf"/>
<rect x="36.8" y="403.9" width="5.5" height="37.6" fill="#fbd64a"/>
<path fill="rgb(30,68,168)" d="M42.8 210h8.28v1.2h-8.28zM42.8 219.24h8.28v1.2h-8.28zM42.8 233.1h8.28v1.2h-8.28zM42.8 242.34h8.28v1.2h-8.28zM42.8 245.8h8.28v1.2h-8.28zM42.8 248.11h8.28v1.2h-8.28zM42.8 253.89h8.28v1.2h-8.28zM42.8 264.28h8.28v1.2h-8.28zM42.8 267.75h8.28v1.2h-8.28zM42.8 383.5h8.28v1.2h-8.28z"/>
<path fill="rgb(34,70,170)" d="M42.8 236.56h8.28v1.2h-8.28zM42.8 243.49h8.28v1.2h-8.28zM42.8 252.73h8.28v1.2h-8.28zM42.8 393.85h8.28v1.2h-8.28z"/>
<path fill="rgb(38,72,172)" d="M42.8 212.31h8.28v1.2h-8.28zM42.8 216.93h8.28v1.2h-8.28zM42.8 263.13h8.28v1.2h-8.28zM42.8 369.7h8.28v1.2h-8.28zM42.8 386.95h8.28v1.2h-8.28zM42.8 400.75h8.28v1.2h-8.28z"/>
<path fill="rgb(49,79,176)" d="M42.8 213.46h8.28v1.2h-8.28zM42.8 215.77h8.28v1.2h-8.28zM42.8 234.25h8.28v1.2h-8.28zM42.8 360.5h8.28v1.2h-8.28zM42.8 368.55h8.28v1.2h-8.28zM149.77 381.2h8.28v1.2h-8.28zM42.8 384.65h8.28v1.2h-8.28zM149.77 409.6h8.28v1.19h-8.28z"/>
<path fill="rgb(61,85,179)" d="M42.8 220.39h8.28v1.2h-8.28zM42.8 223.86h8.28v1.2h-8.28zM42.8 230.79h8.28v1.2h-8.28zM42.8 256.2h8.28v1.2h-8.28zM42.8 265.44h8.28v1.2h-8.28zM42.8 353.6h8.28v1.2h-8.28zM149.77 362.8h8.28v1.2h-8.28zM42.8 381.2h8.28v1.2h-8.28zM42.8 382.35h8.28v1.2h-8.28zM42.8 395h8.28v1.2h-8.28zM149.77 423.27h8.28v1.19h-8.28z"/>
<path fill="rgb(72,92,183)" d="M42.8 211.15h8.28v1.2h-8.28zM42.8 226.17h8.28v1.2h-8.28zM42.8 228.48h8.28v1.2h-8.28zM42.8 235.41h8.28v1.2h-8.28zM42.8 237.72h8.28v1.2h-8.28zM42.8 258.51h8.28v1.2h-8.28zM51.03 264.28h8.28v1.2h-8.28zM42.8 314.43h8.28v1.2h-8.28zM42.8 327.03h8.28v1.2h-8.28zM42.8 354.75h8.28v1.2h-8.28zM42.8 359.35h8.28v1.2h-8.28zM42.8 362.8h8.28v1.2h-8.28zM149.77 365.1h8.28v1.2h-8.28zM42.8 376.6h8.28v1.2h-8.28zM149.77 383.5h8.28v1.2h-8.28zM42.8 390.4h8.28v1.2h-8.28zM42.8 392.7h8.28v1.2h-8.28zM42.8 399.6h8.28v1.2h-8.28zM149.77 424.41h8.28v1.19h-8.28zM149.77 433.52h8.28v1.19h-8.28z"/>
<path fill="rgb(84,98,186)" d="M42.8 221.55h8.28v1.2h-8.28zM42.8 225.01h8.28v1.2h-8.28zM42.8 229.63h8.28v1.2h-8.28zM51.03 233.1h8.28v1.2h-8.28zM59.26 233.1h8.28v1.2h-8.28zM51.03 236.56h8.28v1.2h-8.28zM59.26 236.56h8.28v1.2h-8.28zM59.26 264.28h8.28v1.2h-8.28zM42.8 266.59h8.28v1.2h-8.28zM51.03 267.75h8.28v1.2h-8.28zM59.26 267.75h8.28v1.2h-8.28zM42.8 282.35h8.28v1.2h-8.28zM42.8 285.79h8.28v1.2h-8.28zM42.8 288.08h8.28v1.2h-8.28zM42.8 290.37h8.28v1.2h-8.28zM42.8 338.48h8.28v1.2h-8.28zM42.8 350.15h8.28v1.2h-8.28zM42.8 355.9h8.28v1.2h-8.28zM149.77 355.9h8.28v1.2h-8.28zM42.8 363.95h8.28v1.2h-8.28zM42.8 365.1h8.28v1.2h-8.28zM42.8 370.85h8.28v1.2h-8.28zM149.77 370.85h8.28v1.2h-8.28zM42.8 372h8.28v1.2h-8.28zM149.77 376.6h8.28v1.2h-8.28zM42.8 378.9h8.28v1.2h-8.28zM149.77 382.35h8.28v1.2h-8.28zM51.03 383.5h8.28v1.2h-8.28zM42.8 389.25h8.28v1.2h-8.28zM42.8 391.55h8.28v1.2h-8.28zM149.77 399.6h8.28v1.2h-8.28zM149.77 415.29h8.28v1.19h-8.28zM149.77 432.38h8.28v1.19h-8.28z"/>
<path fill="rgb(95,105,190)" d="M51.03 210h8.28v1.2h-8.28zM42.8 222.7h8.28v1.2h-8.28zM67.49 236.56h8.28v1.2h-8.28zM51.03 245.8h8.28v1.2h-8.28zM42.8 250.42h8.28v1.2h-8.28zM51.03 252.73h8.28v1.2h-8.28zM42.8 255.04h8.28v1.2h-8.28zM42.8 257.35h8.28v1.2h-8.28zM67.49 267.75h8.28v1.2h-8.28zM42.8 286.94h8.28v1.2h-8.28zM42.8 298.39h8.28v1.2h-8.28zM42.8 300.68h8.28v1.2h-8.28zM42.8 309.85h8.28v1.2h-8.28zM42.8 357.05h8.28v1.2h-8.28zM42.8 366.25h8.28v1.2h-8.28zM149.77 366.25h8.28v1.2h-8.28zM149.77 391.55h8.28v1.2h-8.28zM149.77 419.85h8.28v1.19h-8.28z"/>
<path fill="rgb(110,119,196)" d="M59.26 210h8.28v1.2h-8.28zM51.03 213.46h8.28v1.2h-8.28zM42.8 214.62h8.28v1.2h-8.28zM51.03 219.24h8.28v1.2h-8.28zM51.03 220.39h8.28v1.2h-8.28zM51.03 228.48h8.28v1.2h-8.28zM67.49 228.48h8.28v1.2h-8.28zM42.8 240.03h8.28v1.2h-8.28zM51.03 242.34h8.28v1.2h-8.28zM42.8 244.65h8.28v1.2h-8.28zM51.03 253.89h8.28v1.2h-8.28zM42.8 259.66h8.28v1.2h-8.28zM42.8 270.9h8.28v1.2h-8.28zM42.8 272.05h8.28v1.2h-8.28zM42.8 276.63h8.28v1.2h-8.28zM42.8 284.65h8.28v1.2h-8.28zM42.8 291.52h8.28v1.2h-8.28zM42.8 302.97h8.28v1.2h-8.28zM42.8 304.12h8.28v1.2h-8.28zM42.8 306.41h8.28v1.2h-8.28zM42.8 315.57h8.28v1.2h-8.28zM42.8 320.15h8.28v1.2h-8.28zM42.8 325.88h8.28v1.2h-8.28zM42.8 329.32h8.28v1.2h-8.28zM42.8 330.46h8.28v1.2h-8.28zM42.8 331.61h8.28v1.2h-8.28zM42.8 335.05h8.28v1.2h-8.28zM42.8 336.19h8.28v1.2h-8.28zM42.8 340.77h8.28v1.2h-8.28zM149.77 350.15h8.28v1.2h-8.28zM42.8 351.3h8.28v1.2h-8.28zM149.77 354.75h8.28v1.2h-8.28zM149.77 357.05h8.28v1.2h-8.28zM42.8 377.75h8.28v1.2h-8.28zM42.8 380.05h8.28v1.2h-8.28zM149.77 386.95h8.28v1.2h-8.28zM149.77 392.7h8.28v1.2h-8.28zM149.77 395h8.28v1.2h-8.28zM149.77 400.75h8.28v1.2h-8.28zM149.77 406.18h8.28v1.19h-8.28zM149.77 417.57h8.28v1.19h-8.28zM42.8 436.94h8.28v1.19h-8.28zM149.77 438.08h8.28v1.19h-8.28zM149.77 440.36h8.28v1.19h-8.28z"/>
<path fill="rgb(126,133,203)" d="M67.49 210h8.28v1.2h-8.28zM51.03 211.15h8.28v1.2h-8.28zM51.03 216.93h8.28v1.2h-8.28zM59.26 216.93h8.28v1.2h-8.28zM67.49 216.93h8.28v1.2h-8.28zM42.8 218.08h8.28v1.2h-8.28zM59.26 228.48h8.28v1.2h-8.28zM42.8 231.94h8.28v1.2h-8.28zM67.49 233.1h8.28v1.2h-8.28zM59.26 242.34h8.28v1.2h-8.28zM59.26 245.8h8.28v1.2h-8.28zM67.49 248.11h8.28v1.2h-8.28zM59.26 252.73h8.28v1.2h-8.28zM59.26 253.89h8.28v1.2h-8.28zM67.49 253.89h8.28v1.2h-8.28zM51.03 256.2h8.28v1.2h-8.28zM67.49 258.51h8.28v1.2h-8.28zM51.03 263.13h8.28v1.2h-8.28zM59.26 263.13h8.28v1.2h-8.28zM59.26 265.44h8.28v1.2h-8.28zM42.8 289.23h8.28v1.2h-8.28zM42.8 307.55h8.28v1.2h-8.28zM42.8 310.99h8.28v1.2h-8.28zM42.8 316.72h8.28v1.2h-8.28zM42.8 321.3h8.28v1.2h-8.28zM42.8 323.59h8.28v1.2h-8.28zM42.8 332.75h8.28v1.2h-8.28zM149.77 349h8.28v1.2h-8.28zM51.03 354.75h8.28v1.2h-8.28zM42.8 358.2h8.28v1.2h-8.28zM149.77 360.5h8.28v1.2h-8.28zM42.8 361.65h8.28v1.2h-8.28zM51.03 368.55h8.28v1.2h-8.28zM149.77 374.3h8.28v1.2h-8.28zM51.03 378.9h8.28v1.2h-8.28zM149.77 384.65h8.28v1.2h-8.28zM42.8 385.8h8.28v1.2h-8.28zM149.77 389.25h8.28v1.2h-8.28zM149.77 393.85h8.28v1.2h-8.28zM149.77 408.46h8.28v1.19h-8.28zM141.54 417.57h8.28v1.19h-8.28zM141.54 424.41h8.28v1.19h-8.28zM141.54 430.11h8.28v1.19h-8.28zM141.54 438.08h8.28v1.19h-8.28z"/>
<path fill="rgb(141,146,209)" d="M75.71 210h8.28v1.2h-8.28zM59.26 211.15h8.28v1.2h-8.28zM67.49 219.24h8.28v1.2h-8.28zM59.26 220.39h8.28v1.2h-8.28zM67.49 220.39h8.28v1.2h-8.28zM67.49 221.55h8.28v1.2h-8.28zM51.03 223.86h8.28v1.2h-8.28zM51.03 226.17h8.28v1.2h-8.28zM59.26 226.17h8.28v1.2h-8.28zM75.71 233.1h8.28v1.2h-8.28zM51.03 234.25h8.28v1.2h-8.28zM75.71 240.03h8.28v1.2h-8.28zM51.03 243.49h8.28v1.2h-8.28zM67.49 245.8h8.28v1.2h-8.28zM51.03 248.11h8.28v1.2h-8.28zM59.26 248.11h8.28v1.2h-8.28zM75.71 248.11h8.28v1.2h-8.28zM59.26 250.42h8.28v1.2h-8.28zM67.49 250.42h8.28v1.2h-8.28zM42.8 251.58h8.28v1.2h-8.28zM67.49 252.73h8.28v1.2h-8.28zM59.26 256.2h8.28v1.2h-8.28zM67.49 256.2h8.28v1.2h-8.28zM51.03 257.35h8.28v1.2h-8.28zM51.03 258.51h8.28v1.2h-8.28zM42.8 261.97h8.28v1.2h-8.28zM67.49 264.28h8.28v1.2h-8.28zM51.03 265.44h8.28v1.2h-8.28zM59.26 272.05h8.28v1.2h-8.28zM42.8 274.34h8.28v1.2h-8.28zM42.8 277.77h8.28v1.2h-8.28zM42.8 278.92h8.28v1.2h-8.28zM42.8 292.66h8.28v1.2h-8.28zM42.8 294.95h8.28v1.2h-8.28zM42.8 299.54h8.28v1.2h-8.28zM42.8 301.83h8.28v1.2h-8.28zM42.8 305.26h8.28v1.2h-8.28zM42.8 333.9h8.28v1.2h-8.28zM42.8 339.63h8.28v1.2h-8.28zM42.8 343.06h8.28v1.2h-8.28zM149.77 352.45h8.28v1.2h-8.28zM59.26 354.75h8.28v1.2h-8.28zM51.03 360.5h8.28v1.2h-8.28zM51.03 366.25h8.28v1.2h-8.28zM149.77 368.55h8.28v1.2h-8.28zM149.77 369.7h8.28v1.2h-8.28zM51.03 372h8.28v1.2h-8.28zM149.77 373.15h8.28v1.2h-8.28zM51.03 377.75h8.28v1.2h-8.28zM149.77 377.75h8.28v1.2h-8.28zM51.03 381.2h8.28v1.2h-8.28zM149.77 385.8h8.28v1.2h-8.28zM42.8 388.1h8.28v1.2h-8.28zM149.77 388.1h8.28v1.2h-8.28zM51.03 389.25h8.28v1.2h-8.28zM149.77 396.15h8.28v1.2h-8.28zM149.77 397.3h8.28v1.2h-8.28zM51.03 400.75h8.28v1.2h-8.28zM42.8 406.18h8.28v1.19h-8.28zM149.77 411.88h8.28v1.19h-8.28zM149.77 413.02h8.28v1.19h-8.28zM149.77 414.15h8.28v1.19h-8.28zM141.54 415.29h8.28v1.19h-8.28zM133.31 417.57h8.28v1.19h-8.28zM141.54 419.85h8.28v1.19h-8.28zM141.54 423.27h8.28v1.19h-8.28zM133.31 424.41h8.28v1.19h-8.28zM133.31 427.83h8.28v1.19h-8.28zM149.77 430.11h8.28v1.19h-8.28zM133.31 440.36h8.28v1.19h-8.28z"/>
<path fill="rgb(157,160,216)" d="M67.49 211.15h8.28v1.2h-8.28zM51.03 212.31h8.28v1.2h-8.28zM59.26 213.46h8.28v1.2h-8.28zM51.03 215.77h8.28v1.2h-8.28zM59.26 215.77h8.28v1.2h-8.28zM59.26 219.24h8.28v1.2h-8.28zM59.26 221.55h8.28v1.2h-8.28zM51.03 222.7h8.28v1.2h-8.28zM67.49 223.86h8.28v1.2h-8.28zM51.03 225.01h8.28v1.2h-8.28zM67.49 226.17h8.28v1.2h-8.28zM51.03 227.32h8.28v1.2h-8.28zM51.03 229.63h8.28v1.2h-8.28zM59.26 229.63h8.28v1.2h-8.28zM51.03 230.79h8.28v1.2h-8.28zM59.26 230.79h8.28v1.2h-8.28zM67.49 230.79h8.28v1.2h-8.28zM51.03 237.72h8.28v1.2h-8.28zM59.26 237.72h8.28v1.2h-8.28zM51.03 240.03h8.28v1.2h-8.28zM59.26 240.03h8.28v1.2h-8.28zM67.49 242.34h8.28v1.2h-8.28zM51.03 244.65h8.28v1.2h-8.28zM42.8 246.96h8.28v1.2h-8.28zM59.26 251.58h8.28v1.2h-8.28zM59.26 257.35h8.28v1.2h-8.28zM67.49 257.35h8.28v1.2h-8.28zM59.26 258.51h8.28v1.2h-8.28zM75.71 258.51h8.28v1.2h-8.28zM42.8 260.82h8.28v1.2h-8.28zM75.71 261.97h8.28v1.2h-8.28zM67.49 263.13h8.28v1.2h-8.28zM67.49 265.44h8.28v1.2h-8.28zM42.8 273.19h8.28v1.2h-8.28zM42.8 275.48h8.28v1.2h-8.28zM51.03 276.63h8.28v1.2h-8.28zM42.8 280.06h8.28v1.2h-8.28zM51.03 282.35h8.28v1.2h-8.28zM59.26 282.35h8.28v1.2h-8.28zM42.8 296.1h8.28v1.2h-8.28zM42.8 297.25h8.28v1.2h-8.28zM75.71 298.39h8.28v1.2h-8.28zM51.03 300.68h8.28v1.2h-8.28zM59.26 306.41h8.28v1.2h-8.28zM51.03 314.43h8.28v1.2h-8.28zM51.03 315.57h8.28v1.2h-8.28zM42.8 328.17h8.28v1.2h-8.28zM51.03 329.32h8.28v1.2h-8.28zM42.8 341.92h8.28v1.2h-8.28zM75.71 341.92h8.28v1.2h-8.28zM42.8 344.21h8.28v1.2h-8.28zM42.8 345.35h8.28v1.2h-8.28zM51.03 350.15h8.28v1.2h-8.28zM42.8 352.45h8.28v1.2h-8.28zM51.03 353.6h8.28v1.2h-8.28zM51.03 355.9h8.28v1.2h-8.28zM59.26 355.9h8.28v1.2h-8.28zM51.03 357.05h8.28v1.2h-8.28zM149.77 361.65h8.28v1.2h-8.28zM51.03 365.1h8.28v1.2h-8.28zM42.8 367.4h8.28v1.2h-8.28zM51.03 367.4h8.28v1.2h-8.28zM51.03 369.7h8.28v1.2h-8.28zM42.8 373.15h8.28v1.2h-8.28zM42.8 374.3h8.28v1.2h-8.28zM51.03 376.6h8.28v1.2h-8.28zM59.26 376.6h8.28v1.2h-8.28zM59.26 377.75h8.28v1.2h-8.28zM59.26 383.5h8.28v1.2h-8.28zM51.03 386.95h8.28v1.2h-8.28zM59.26 386.95h8.28v1.2h-8.28zM51.03 392.7h8.28v1.2h-8.28zM51.03 395h8.28v1.2h-8.28zM42.8 397.3h8.28v1.2h-8.28zM42.8 398.45h8.28v1.2h-8.28zM51.03 399.6h8.28v1.2h-8.28zM125.09 407.32h8.28v1.19h-8.28zM42.8 408.46h8.28v1.19h-8.28zM141.54 408.46h8.28v1.19h-8.28zM141.54 409.6h8.28v1.19h-8.28zM42.8 411.88h8.28v1.19h-8.28zM141.54 413.02h8.28v1.19h-8.28zM42.8 414.15h8.28v1.19h-8.28zM42.8 416.43h8.28v1.19h-8.28zM149.77 416.43h8.28v1.19h-8.28zM133.31 418.71h8.28v1.19h-8.28zM149.77 422.13h8.28v1.19h-8.28zM108.63 423.27h8.28v1.19h-8.28zM116.86 423.27h8.28v1.19h-8.28zM133.31 423.27h8.28v1.19h-8.28zM125.09 424.41h8.28v1.19h-8.28zM149.77 425.55h8.28v1.19h-8.28zM42.8 427.83h8.28v1.19h-8.28zM149.77 427.83h8.28v1.19h-8.28zM42.8 430.11h8.28v1.19h-8.28zM42.8 432.38h8.28v1.19h-8.28zM42.8 433.52h8.28v1.19h-8.28zM133.31 433.52h8.28v1.19h-8.28zM141.54 433.52h8.28v1.19h-8.28zM141.54 436.94h8.28v1.19h-8.28zM133.31 438.08h8.28v1.19h-8.28zM149.77 439.22h8.28v1.19h-8.28z"/>
<path fill="rgb(172,174,222)" d="M59.26 212.31h8.28v1.2h-8.28zM67.49 212.31h8.28v1.2h-8.28zM75.71 212.31h8.28v1.2h-8.28zM59.26 214.62h8.28v1.2h-8.28zM67.49 215.77h8.28v1.2h-8.28zM59.26 218.08h8.28v1.2h-8.28zM75.71 219.24h8.28v1.2h-8.28zM51.03 221.55h8.28v1.2h-8.28zM59.26 222.7h8.28v1.2h-8.28zM67.49 222.7h8.28v1.2h-8.28zM59.26 223.86h8.28v1.2h-8.28zM75.71 223.86h8.28v1.2h-8.28zM42.8 227.32h8.28v1.2h-8.28zM75.71 229.63h8.28v1.2h-8.28zM51.03 231.94h8.28v1.2h-8.28zM59.26 234.25h8.28v1.2h-8.28zM51.03 235.41h8.28v1.2h-8.28zM67.49 235.41h8.28v1.2h-8.28zM75.71 236.56h8.28v1.2h-8.28zM67.49 237.72h8.28v1.2h-8.28zM42.8 238.87h8.28v1.2h-8.28zM51.03 238.87h8.28v1.2h-8.28zM67.49 240.03h8.28v1.2h-8.28zM59.26 243.49h8.28v1.2h-8.28zM67.49 243.49h8.28v1.2h-8.28zM59.26 244.65h8.28v1.2h-8.28zM67.49 244.65h8.28v1.2h-8.28zM75.71 245.8h8.28v1.2h-8.28zM59.26 246.96h8.28v1.2h-8.28zM42.8 249.27h8.28v1.2h-8.28zM51.03 250.42h8.28v1.2h-8.28zM67.49 251.58h8.28v1.2h-8.28zM59.26 255.04h8.28v1.2h-8.28zM67.49 255.04h8.28v1.2h-8.28zM75.71 255.04h8.28v1.2h-8.28zM83.94 255.04h8.28v1.2h-8.28zM51.03 260.82h8.28v1.2h-8.28zM59.26 260.82h8.28v1.2h-8.28zM75.71 263.13h8.28v1.2h-8.28zM51.03 266.59h8.28v1.2h-8.28zM59.26 266.59h8.28v1.2h-8.28zM67.49 266.59h8.28v1.2h-8.28zM75.71 266.59h8.28v1.2h-8.28zM75.71 267.75h8.28v1.2h-8.28zM51.03 270.9h8.28v1.2h-8.28zM59.26 270.9h8.28v1.2h-8.28zM67.49 270.9h8.28v1.2h-8.28zM51.03 275.48h8.28v1.2h-8.28zM51.03 277.77h8.28v1.2h-8.28zM51.03 285.79h8.28v1.2h-8.28zM51.03 288.08h8.28v1.2h-8.28zM67.49 288.08h8.28v1.2h-8.28zM59.26 290.37h8.28v1.2h-8.28zM67.49 290.37h8.28v1.2h-8.28zM51.03 291.52h8.28v1.2h-8.28zM92.17 292.66h8.28v1.2h-8.28zM51.03 294.95h8.28v1.2h-8.28zM59.26 297.25h8.28v1.2h-8.28zM67.49 297.25h8.28v1.2h-8.28zM75.71 297.25h8.28v1.2h-8.28zM51.03 298.39h8.28v1.2h-8.28zM59.26 298.39h8.28v1.2h-8.28zM67.49 299.54h8.28v1.2h-8.28zM51.03 301.83h8.28v1.2h-8.28zM59.26 309.85h8.28v1.2h-8.28zM59.26 310.99h8.28v1.2h-8.28zM67.49 315.57h8.28v1.2h-8.28zM75.71 315.57h8.28v1.2h-8.28zM51.03 316.72h8.28v1.2h-8.28zM100.4 320.15h8.28v1.2h-8.28zM51.03 321.3h8.28v1.2h-8.28zM42.8 322.45h8.28v1.2h-8.28zM59.26 325.88h8.28v1.2h-8.28zM67.49 325.88h8.28v1.2h-8.28zM51.03 327.03h8.28v1.2h-8.28zM59.26 327.03h8.28v1.2h-8.28zM67.49 327.03h8.28v1.2h-8.28zM59.26 329.32h8.28v1.2h-8.28zM51.03 330.46h8.28v1.2h-8.28zM67.49 330.46h8.28v1.2h-8.28zM59.26 331.61h8.28v1.2h-8.28zM42.8 337.34h8.28v1.2h-8.28zM51.03 338.48h8.28v1.2h-8.28zM59.26 340.77h8.28v1.2h-8.28zM67.49 340.77h8.28v1.2h-8.28zM83.94 341.92h8.28v1.2h-8.28zM67.49 343.06h8.28v1.2h-8.28zM42.8 349h8.28v1.2h-8.28zM51.03 349h8.28v1.2h-8.28zM141.54 350.15h8.28v1.2h-8.28zM149.77 351.3h8.28v1.2h-8.28zM149.77 353.6h8.28v1.2h-8.28zM51.03 361.65h8.28v1.2h-8.28zM51.03 362.8h8.28v1.2h-8.28zM59.26 362.8h8.28v1.2h-8.28zM141.54 362.8h8.28v1.2h-8.28zM51.03 363.95h8.28v1.2h-8.28zM141.54 365.1h8.28v1.2h-8.28zM59.26 366.25h8.28v1.2h-8.28zM59.26 367.4h8.28v1.2h-8.28zM149.77 367.4h8.28v1.2h-8.28zM51.03 370.85h8.28v1.2h-8.28zM149.77 372h8.28v1.2h-8.28zM51.03 373.15h8.28v1.2h-8.28zM42.8 375.45h8.28v1.2h-8.28zM149.77 378.9h8.28v1.2h-8.28zM51.03 382.35h8.28v1.2h-8.28zM51.03 384.65h8.28v1.2h-8.28zM149.77 390.4h8.28v1.2h-8.28zM51.03 391.55h8.28v1.2h-8.28zM51.03 393.85h8.28v1.2h-8.28zM149.77 398.45h8.28v1.2h-8.28zM59.26 399.6h8.28v1.2h-8.28zM149.77 403.9h8.28v1.19h-8.28zM141.54 406.18h8.28v1.19h-8.28zM116.86 407.32h8.28v1.19h-8.28zM133.31 407.32h8.28v1.19h-8.28zM149.77 407.32h8.28v1.19h-8.28zM42.8 409.6h8.28v1.19h-8.28zM116.86 409.6h8.28v1.19h-8.28zM125.09 409.6h8.28v1.19h-8.28zM149.77 410.74h8.28v1.19h-8.28zM133.31 411.88h8.28v1.19h-8.28zM133.31 413.02h8.28v1.19h-8.28zM141.54 414.15h8.28v1.19h-8.28zM116.86 415.29h8.28v1.19h-8.28zM141.54 416.43h8.28v1.19h-8.28zM42.8 417.57h8.28v1.19h-8.28zM42.8 419.85h8.28v1.19h-8.28zM42.8 420.99h8.28v1.19h-8.28zM133.31 420.99h8.28v1.19h-8.28zM42.8 424.41h8.28v1.19h-8.28zM42.8 425.55h8.28v1.19h-8.28zM133.31 425.55h8.28v1.19h-8.28zM149.77 426.69h8.28v1.19h-8.28zM141.54 427.83h8.28v1.19h-8.28zM141.54 428.97h8.28v1.19h-8.28zM149.77 428.97h8.28v1.19h-8.28zM133.31 430.11h8.28v1.19h-8.28zM133.31 432.38h8.28v1.19h-8.28zM141.54 432.38h8.28v1.19h-8.28zM125.09 433.52h8.28v1.19h-8.28zM42.8 435.8h8.28v1.19h-8.28zM149.77 435.8h8.28v1.19h-8.28zM149.77 436.94h8.28v1.19h-8.28zM42.8 438.08h8.28v1.19h-8.28zM141.54 440.36h8.28v1.19h-8.28z"/>
<path fill="rgb(187,188,228)" d="M83.94 210h8.28v1.2h-8.28zM75.71 211.15h8.28v1.2h-8.28zM67.49 214.62h8.28v1.2h-8.28zM75.71 216.93h8.28v1.2h-8.28zM51.03 218.08h8.28v1.2h-8.28zM75.71 220.39h8.28v1.2h-8.28zM75.71 222.7h8.28v1.2h-8.28zM59.26 225.01h8.28v1.2h-8.28zM75.71 225.01h8.28v1.2h-8.28zM75.71 226.17h8.28v1.2h-8.28zM75.71 228.48h8.28v1.2h-8.28zM67.49 229.63h8.28v1.2h-8.28zM75.71 234.25h8.28v1.2h-8.28zM59.26 235.41h8.28v1.2h-8.28zM75.71 238.87h8.28v1.2h-8.28zM42.8 241.18h8.28v1.2h-8.28zM75.71 242.34h8.28v1.2h-8.28zM75.71 243.49h8.28v1.2h-8.28zM83.94 248.11h8.28v1.2h-8.28zM51.03 251.58h8.28v1.2h-8.28zM75.71 252.73h8.28v1.2h-8.28zM75.71 253.89h8.28v1.2h-8.28zM51.03 255.04h8.28v1.2h-8.28zM75.71 256.2h8.28v1.2h-8.28zM59.26 259.66h8.28v1.2h-8.28zM67.49 260.82h8.28v1.2h-8.28zM67.49 261.97h8.28v1.2h-8.28zM149.77 264.28h8.28v1.2h-8.28zM51.03 272.05h8.28v1.2h-8.28zM67.49 272.05h8.28v1.2h-8.28zM51.03 274.34h8.28v1.2h-8.28zM59.26 276.63h8.28v1.2h-8.28zM59.26 277.77h8.28v1.2h-8.28zM51.03 278.92h8.28v1.2h-8.28zM83.94 280.06h8.28v1.2h-8.28zM67.49 282.35h8.28v1.2h-8.28zM42.8 283.5h8.28v1.2h-8.28zM75.71 283.5h8.28v1.2h-8.28zM59.26 284.65h8.28v1.2h-8.28zM75.71 285.79h8.28v1.2h-8.28zM51.03 286.94h8.28v1.2h-8.28zM59.26 288.08h8.28v1.2h-8.28zM75.71 288.08h8.28v1.2h-8.28zM51.03 289.23h8.28v1.2h-8.28zM67.49 289.23h8.28v1.2h-8.28zM51.03 290.37h8.28v1.2h-8.28zM100.4 290.37h8.28v1.2h-8.28zM75.71 291.52h8.28v1.2h-8.28zM75.71 292.66h8.28v1.2h-8.28zM59.26 294.95h8.28v1.2h-8.28zM83.94 298.39h8.28v1.2h-8.28zM59.26 300.68h8.28v1.2h-8.28zM59.26 301.83h8.28v1.2h-8.28zM51.03 302.97h8.28v1.2h-8.28zM51.03 305.26h8.28v1.2h-8.28zM75.71 305.26h8.28v1.2h-8.28zM51.03 306.41h8.28v1.2h-8.28zM67.49 306.41h8.28v1.2h-8.28zM83.94 306.41h8.28v1.2h-8.28zM83.94 307.55h8.28v1.2h-8.28zM92.17 307.55h8.28v1.2h-8.28zM42.8 308.7h8.28v1.2h-8.28zM51.03 309.85h8.28v1.2h-8.28zM67.49 309.85h8.28v1.2h-8.28zM51.03 310.99h8.28v1.2h-8.28zM67.49 310.99h8.28v1.2h-8.28zM75.71 310.99h8.28v1.2h-8.28zM42.8 312.14h8.28v1.2h-8.28zM51.03 312.14h8.28v1.2h-8.28zM59.26 312.14h8.28v1.2h-8.28zM67.49 312.14h8.28v1.2h-8.28zM59.26 313.28h8.28v1.2h-8.28zM67.49 314.43h8.28v1.2h-8.28zM59.26 315.57h8.28v1.2h-8.28zM83.94 316.72h8.28v1.2h-8.28zM42.8 317.86h8.28v1.2h-8.28zM51.03 320.15h8.28v1.2h-8.28zM51.03 323.59h8.28v1.2h-8.28zM42.8 324.74h8.28v1.2h-8.28zM51.03 324.74h8.28v1.2h-8.28zM59.26 324.74h8.28v1.2h-8.28zM51.03 325.88h8.28v1.2h-8.28zM75.71 325.88h8.28v1.2h-8.28zM75.71 327.03h8.28v1.2h-8.28zM83.94 327.03h8.28v1.2h-8.28zM67.49 328.17h8.28v1.2h-8.28zM59.26 330.46h8.28v1.2h-8.28zM51.03 331.61h8.28v1.2h-8.28zM67.49 332.75h8.28v1.2h-8.28zM51.03 335.05h8.28v1.2h-8.28zM59.26 336.19h8.28v1.2h-8.28zM67.49 336.19h8.28v1.2h-8.28zM83.94 336.19h8.28v1.2h-8.28zM92.17 338.48h8.28v1.2h-8.28zM59.26 339.63h8.28v1.2h-8.28zM67.49 339.63h8.28v1.2h-8.28zM51.03 341.92h8.28v1.2h-8.28zM59.26 343.06h8.28v1.2h-8.28zM75.71 343.06h8.28v1.2h-8.28zM141.54 352.45h8.28v1.2h-8.28zM51.03 359.35h8.28v1.2h-8.28zM59.26 359.35h8.28v1.2h-8.28zM149.77 363.95h8.28v1.2h-8.28zM59.26 365.1h8.28v1.2h-8.28zM141.54 366.25h8.28v1.2h-8.28zM59.26 368.55h8.28v1.2h-8.28zM51.03 374.3h8.28v1.2h-8.28zM141.54 376.6h8.28v1.2h-8.28zM141.54 381.2h8.28v1.2h-8.28zM141.54 386.95h8.28v1.2h-8.28zM59.26 388.1h8.28v1.2h-8.28zM51.03 390.4h8.28v1.2h-8.28zM67.49 390.4h8.28v1.2h-8.28zM59.26 392.7h8.28v1.2h-8.28zM42.8 396.15h8.28v1.2h-8.28zM141.54 397.3h8.28v1.2h-8.28zM67.49 399.6h8.28v1.2h-8.28zM59.26 400.75h8.28v1.2h-8.28zM42.8 403.9h8.28v1.19h-8.28zM133.31 403.9h8.28v1.19h-8.28zM141.54 403.9h8.28v1.19h-8.28zM141.54 405.04h8.28v1.19h-8.28zM149.77 405.04h8.28v1.19h-8.28zM141.54 407.32h8.28v1.19h-8.28zM133.31 408.46h8.28v1.19h-8.28zM141.54 410.74h8.28v1.19h-8.28zM125.09 411.88h8.28v1.19h-8.28zM141.54 411.88h8.28v1.19h-8.28zM125.09 413.02h8.28v1.19h-8.28zM125.09 414.15h8.28v1.19h-8.28zM133.31 414.15h8.28v1.19h-8.28zM125.09 415.29h8.28v1.19h-8.28zM133.31 415.29h8.28v1.19h-8.28zM125.09 417.57h8.28v1.19h-8.28zM108.63 419.85h8.28v1.19h-8.28zM125.09 420.99h8.28v1.19h-8.28zM141.54 420.99h8.28v1.19h-8.28zM149.77 420.99h8.28v1.19h-8.28zM125.09 422.13h8.28v1.19h-8.28zM133.31 422.13h8.28v1.19h-8.28zM141.54 422.13h8.28v1.19h-8.28zM42.8 423.27h8.28v1.19h-8.28zM125.09 423.27h8.28v1.19h-8.28zM116.86 424.41h8.28v1.19h-8.28zM141.54 425.55h8.28v1.19h-8.28zM133.31 426.69h8.28v1.19h-8.28zM141.54 426.69h8.28v1.19h-8.28zM42.8 428.97h8.28v1.19h-8.28zM125.09 428.97h8.28v1.19h-8.28zM133.31 428.97h8.28v1.19h-8.28zM141.54 431.25h8.28v1.19h-8.28zM108.63 433.52h8.28v1.19h-8.28zM116.86 433.52h8.28v1.19h-8.28zM133.31 434.66h8.28v1.19h-8.28zM141.54 434.66h8.28v1.19h-8.28zM141.54 435.8h8.28v1.19h-8.28zM125.09 438.08h8.28v1.19h-8.28zM108.63 440.36h8.28v1.19h-8.28zM116.86 440.36h8.28v1.19h-8.28zM125.09 440.36h8.28v1.19h-8.28z"/>
<path fill="rgb(202,202,233)" d="M67.49 213.46h8.28v1.2h-8.28zM75.71 213.46h8.28v1.2h-8.28zM51.03 214.62h8.28v1.2h-8.28zM75.71 215.77h8.28v1.2h-8.28zM67.49 218.08h8.28v1.2h-8.28zM83.94 219.24h8.28v1.2h-8.28zM83.94 221.55h8.28v1.2h-8.28zM83.94 222.7h8.28v1.2h-8.28zM83.94 223.86h8.28v1.2h-8.28zM67.49 225.01h8.28v1.2h-8.28zM59.26 227.32h8.28v1.2h-8.28zM83.94 228.48h8.28v1.2h-8.28zM92.17 228.48h8.28v1.2h-8.28zM149.77 228.48h8.28v1.2h-8.28zM149.77 229.63h8.28v1.2h-8.28zM75.71 230.79h8.28v1.2h-8.28zM83.94 230.79h8.28v1.2h-8.28zM59.26 231.94h8.28v1.2h-8.28zM83.94 233.1h8.28v1.2h-8.28zM149.77 233.1h8.28v1.2h-8.28zM67.49 234.25h8.28v1.2h-8.28zM75.71 235.41h8.28v1.2h-8.28zM75.71 237.72h8.28v1.2h-8.28zM83.94 237.72h8.28v1.2h-8.28zM59.26 238.87h8.28v1.2h-8.28zM67.49 238.87h8.28v1.2h-8.28zM83.94 240.03h8.28v1.2h-8.28zM51.03 241.18h8.28v1.2h-8.28zM92.17 242.34h8.28v1.2h-8.28zM83.94 243.49h8.28v1.2h-8.28zM83.94 245.8h8.28v1.2h-8.28zM149.77 245.8h8.28v1.2h-8.28zM67.49 246.96h8.28v1.2h-8.28zM149.77 246.96h8.28v1.2h-8.28zM75.71 250.42h8.28v1.2h-8.28zM83.94 252.73h8.28v1.2h-8.28zM83.94 258.51h8.28v1.2h-8.28zM51.03 259.66h8.28v1.2h-8.28zM67.49 259.66h8.28v1.2h-8.28zM75.71 259.66h8.28v1.2h-8.28zM75.71 264.28h8.28v1.2h-8.28zM75.71 265.44h8.28v1.2h-8.28zM83.94 267.75h8.28v1.2h-8.28zM75.71 270.9h8.28v1.2h-8.28zM67.49 273.19h8.28v1.2h-8.28zM100.4 273.19h8.28v1.2h-8.28zM59.26 274.34h8.28v1.2h-8.28zM67.49 274.34h8.28v1.2h-8.28zM75.71 275.48h8.28v1.2h-8.28zM100.4 276.63h8.28v1.2h-8.28zM67.49 277.77h8.28v1.2h-8.28zM59.26 278.92h8.28v1.2h-8.28zM67.49 278.92h8.28v1.2h-8.28zM75.71 278.92h8.28v1.2h-8.28zM75.71 280.06h8.28v1.2h-8.28zM42.8 281.21h8.28v1.2h-8.28zM75.71 282.35h8.28v1.2h-8.28zM83.94 282.35h8.28v1.2h-8.28zM51.03 284.65h8.28v1.2h-8.28zM59.26 285.79h8.28v1.2h-8.28zM59.26 286.94h8.28v1.2h-8.28zM92.17 288.08h8.28v1.2h-8.28zM100.4 288.08h8.28v1.2h-8.28zM59.26 289.23h8.28v1.2h-8.28zM75.71 289.23h8.28v1.2h-8.28zM75.71 290.37h8.28v1.2h-8.28zM59.26 291.52h8.28v1.2h-8.28zM67.49 291.52h8.28v1.2h-8.28zM83.94 292.66h8.28v1.2h-8.28zM42.8 293.81h8.28v1.2h-8.28zM67.49 294.95h8.28v1.2h-8.28zM83.94 297.25h8.28v1.2h-8.28zM92.17 297.25h8.28v1.2h-8.28zM67.49 298.39h8.28v1.2h-8.28zM92.17 298.39h8.28v1.2h-8.28zM92.17 299.54h8.28v1.2h-8.28zM75.71 300.68h8.28v1.2h-8.28zM83.94 300.68h8.28v1.2h-8.28zM67.49 301.83h8.28v1.2h-8.28zM59.26 302.97h8.28v1.2h-8.28zM75.71 306.41h8.28v1.2h-8.28zM100.4 307.55h8.28v1.2h-8.28zM51.03 308.7h8.28v1.2h-8.28zM75.71 308.7h8.28v1.2h-8.28zM83.94 308.7h8.28v1.2h-8.28zM100.4 310.99h8.28v1.2h-8.28zM75.71 312.14h8.28v1.2h-8.28zM51.03 313.28h8.28v1.2h-8.28zM59.26 314.43h8.28v1.2h-8.28zM83.94 315.57h8.28v1.2h-8.28zM67.49 316.72h8.28v1.2h-8.28zM92.17 316.72h8.28v1.2h-8.28zM75.71 317.86h8.28v1.2h-8.28zM42.8 319.01h8.28v1.2h-8.28zM100.4 319.01h8.28v1.2h-8.28zM83.94 320.15h8.28v1.2h-8.28zM92.17 320.15h8.28v1.2h-8.28zM59.26 321.3h8.28v1.2h-8.28zM51.03 322.45h8.28v1.2h-8.28zM59.26 322.45h8.28v1.2h-8.28zM75.71 322.45h8.28v1.2h-8.28zM83.94 322.45h8.28v1.2h-8.28zM83.94 323.59h8.28v1.2h-8.28zM51.03 328.17h8.28v1.2h-8.28zM67.49 329.32h8.28v1.2h-8.28zM67.49 331.61h8.28v1.2h-8.28zM100.4 331.61h8.28v1.2h-8.28zM51.03 332.75h8.28v1.2h-8.28zM100.4 332.75h8.28v1.2h-8.28zM51.03 333.9h8.28v1.2h-8.28zM59.26 333.9h8.28v1.2h-8.28zM67.49 333.9h8.28v1.2h-8.28zM67.49 337.34h8.28v1.2h-8.28zM51.03 339.63h8.28v1.2h-8.28zM51.03 340.77h8.28v1.2h-8.28zM75.71 340.77h8.28v1.2h-8.28zM59.26 341.92h8.28v1.2h-8.28zM67.49 341.92h8.28v1.2h-8.28zM51.03 343.06h8.28v1.2h-8.28zM83.94 344.21h8.28v1.2h-8.28zM59.26 345.35h8.28v1.2h-8.28zM67.49 345.35h8.28v1.2h-8.28zM59.26 349h8.28v1.2h-8.28zM133.31 350.15h8.28v1.2h-8.28zM51.03 351.3h8.28v1.2h-8.28zM67.49 351.3h8.28v1.2h-8.28zM133.31 352.45h8.28v1.2h-8.28zM67.49 354.75h8.28v1.2h-8.28zM59.26 357.05h8.28v1.2h-8.28zM141.54 357.05h8.28v1.2h-8.28zM149.77 358.2h8.28v1.2h-8.28zM141.54 359.35h8.28v1.2h-8.28zM149.77 359.35h8.28v1.2h-8.28zM59.26 360.5h8.28v1.2h-8.28zM67.49 360.5h8.28v1.2h-8.28zM141.54 360.5h8.28v1.2h-8.28zM59.26 361.65h8.28v1.2h-8.28zM141.54 361.65h8.28v1.2h-8.28zM59.26 369.7h8.28v1.2h-8.28zM59.26 372h8.28v1.2h-8.28zM59.26 374.3h8.28v1.2h-8.28zM67.49 374.3h8.28v1.2h-8.28zM51.03 375.45h8.28v1.2h-8.28zM149.77 375.45h8.28v1.2h-8.28zM59.26 378.9h8.28v1.2h-8.28zM51.03 380.05h8.28v1.2h-8.28zM67.49 380.05h8.28v1.2h-8.28zM149.77 380.05h8.28v1.2h-8.28zM59.26 381.2h8.28v1.2h-8.28zM141.54 385.8h8.28v1.2h-8.28zM67.49 386.95h8.28v1.2h-8.28zM51.03 388.1h8.28v1.2h-8.28zM141.54 388.1h8.28v1.2h-8.28zM59.26 390.4h8.28v1.2h-8.28zM67.49 392.7h8.28v1.2h-8.28zM59.26 393.85h8.28v1.2h-8.28zM67.49 393.85h8.28v1.2h-8.28zM59.26 395h8.28v1.2h-8.28zM51.03 396.15h8.28v1.2h-8.28zM51.03 398.45h8.28v1.2h-8.28zM59.26 398.45h8.28v1.2h-8.28zM125.09 403.9h8.28v1.19h-8.28zM116.86 405.04h8.28v1.19h-8.28zM133.31 405.04h8.28v1.19h-8.28zM116.86 408.46h8.28v1.19h-8.28zM125.09 408.46h8.28v1.19h-8.28zM133.31 409.6h8.28v1.19h-8.28zM42.8 410.74h8.28v1.19h-8.28zM125.09 410.74h8.28v1.19h-8.28zM133.31 410.74h8.28v1.19h-8.28zM108.63 411.88h8.28v1.19h-8.28zM116.86 411.88h8.28v1.19h-8.28zM116.86 413.02h8.28v1.19h-8.28zM116.86 414.15h8.28v1.19h-8.28zM42.8 415.29h8.28v1.19h-8.28zM108.63 415.29h8.28v1.19h-8.28zM125.09 416.43h8.28v1.19h-8.28zM133.31 416.43h8.28v1.19h-8.28zM116.86 417.57h8.28v1.19h-8.28zM125.09 418.71h8.28v1.19h-8.28zM141.54 418.71h8.28v1.19h-8.28zM133.31 419.85h8.28v1.19h-8.28zM125.09 425.55h8.28v1.19h-8.28zM125.09 426.69h8.28v1.19h-8.28zM116.86 427.83h8.28v1.19h-8.28zM125.09 427.83h8.28v1.19h-8.28zM108.63 430.11h8.28v1.19h-8.28zM116.86 430.11h8.28v1.19h-8.28zM42.8 431.25h8.28v1.19h-8.28zM133.31 431.25h8.28v1.19h-8.28zM125.09 432.38h8.28v1.19h-8.28zM108.63 434.66h8.28v1.19h-8.28zM149.77 434.66h8.28v1.19h-8.28zM116.86 438.08h8.28v1.19h-8.28z"/>
<path fill="rgb(216,216,239)" d="M83.94 212.31h8.28v1.2h-8.28zM83.94 213.46h8.28v1.2h-8.28zM75.71 214.62h8.28v1.2h-8.28zM149.77 215.77h8.28v1.2h-8.28zM83.94 216.93h8.28v1.2h-8.28zM75.71 221.55h8.28v1.2h-8.28zM83.94 225.01h8.28v1.2h-8.28zM83.94 226.17h8.28v1.2h-8.28zM75.71 227.32h8.28v1.2h-8.28zM100.4 228.48h8.28v1.2h-8.28zM83.94 229.63h8.28v1.2h-8.28zM92.17 230.79h8.28v1.2h-8.28zM67.49 231.94h8.28v1.2h-8.28zM75.71 231.94h8.28v1.2h-8.28zM83.94 231.94h8.28v1.2h-8.28zM83.94 235.41h8.28v1.2h-8.28zM83.94 236.56h8.28v1.2h-8.28zM92.17 240.03h8.28v1.2h-8.28zM149.77 240.03h8.28v1.2h-8.28zM75.71 244.65h8.28v1.2h-8.28zM51.03 246.96h8.28v1.2h-8.28zM75.71 246.96h8.28v1.2h-8.28zM83.94 246.96h8.28v1.2h-8.28zM51.03 249.27h8.28v1.2h-8.28zM59.26 249.27h8.28v1.2h-8.28zM83.94 249.27h8.28v1.2h-8.28zM92.17 249.27h8.28v1.2h-8.28zM149.77 250.42h8.28v1.2h-8.28zM75.71 251.58h8.28v1.2h-8.28zM92.17 255.04h8.28v1.2h-8.28zM83.94 256.2h8.28v1.2h-8.28zM75.71 257.35h8.28v1.2h-8.28zM149.77 258.51h8.28v1.2h-8.28zM92.17 259.66h8.28v1.2h-8.28zM75.71 260.82h8.28v1.2h-8.28zM51.03 261.97h8.28v1.2h-8.28zM59.26 261.97h8.28v1.2h-8.28zM83.94 263.13h8.28v1.2h-8.28zM83.94 265.44h8.28v1.2h-8.28zM92.17 265.44h8.28v1.2h-8.28zM149.77 265.44h8.28v1.2h-8.28zM100.4 266.59h8.28v1.2h-8.28zM149.77 267.75h8.28v1.2h-8.28zM92.17 270.9h8.28v1.2h-8.28zM83.94 272.05h8.28v1.2h-8.28zM59.26 273.19h8.28v1.2h-8.28zM75.71 273.19h8.28v1.2h-8.28zM108.63 273.19h8.28v1.2h-8.28zM92.17 274.34h8.28v1.2h-8.28zM59.26 275.48h8.28v1.2h-8.28zM67.49 275.48h8.28v1.2h-8.28zM83.94 275.48h8.28v1.2h-8.28zM67.49 276.63h8.28v1.2h-8.28zM92.17 276.63h8.28v1.2h-8.28zM75.71 277.77h8.28v1.2h-8.28zM100.4 278.92h8.28v1.2h-8.28zM51.03 280.06h8.28v1.2h-8.28zM59.26 280.06h8.28v1.2h-8.28zM67.49 280.06h8.28v1.2h-8.28zM59.26 281.21h8.28v1.2h-8.28zM51.03 283.5h8.28v1.2h-8.28zM67.49 283.5h8.28v1.2h-8.28zM83.94 283.5h8.28v1.2h-8.28zM67.49 284.65h8.28v1.2h-8.28zM75.71 284.65h8.28v1.2h-8.28zM67.49 285.79h8.28v1.2h-8.28zM100.4 285.79h8.28v1.2h-8.28zM108.63 285.79h8.28v1.2h-8.28zM83.94 288.08h8.28v1.2h-8.28zM92.17 290.37h8.28v1.2h-8.28zM83.94 291.52h8.28v1.2h-8.28zM67.49 293.81h8.28v1.2h-8.28zM75.71 293.81h8.28v1.2h-8.28zM75.71 294.95h8.28v1.2h-8.28zM59.26 296.1h8.28v1.2h-8.28zM75.71 296.1h8.28v1.2h-8.28zM51.03 297.25h8.28v1.2h-8.28zM59.26 299.54h8.28v1.2h-8.28zM67.49 300.68h8.28v1.2h-8.28zM92.17 300.68h8.28v1.2h-8.28zM100.4 300.68h8.28v1.2h-8.28zM92.17 301.83h8.28v1.2h-8.28zM108.63 301.83h8.28v1.2h-8.28zM67.49 302.97h8.28v1.2h-8.28zM75.71 302.97h8.28v1.2h-8.28zM51.03 304.12h8.28v1.2h-8.28zM75.71 304.12h8.28v1.2h-8.28zM59.26 305.26h8.28v1.2h-8.28zM67.49 305.26h8.28v1.2h-8.28zM100.4 305.26h8.28v1.2h-8.28zM92.17 306.41h8.28v1.2h-8.28zM108.63 306.41h8.28v1.2h-8.28zM51.03 307.55h8.28v1.2h-8.28zM59.26 307.55h8.28v1.2h-8.28zM67.49 307.55h8.28v1.2h-8.28zM75.71 307.55h8.28v1.2h-8.28zM75.71 309.85h8.28v1.2h-8.28zM92.17 310.99h8.28v1.2h-8.28zM42.8 313.28h8.28v1.2h-8.28zM67.49 313.28h8.28v1.2h-8.28zM75.71 314.43h8.28v1.2h-8.28zM92.17 314.43h8.28v1.2h-8.28zM100.4 314.43h8.28v1.2h-8.28zM92.17 315.57h8.28v1.2h-8.28zM100.4 315.57h8.28v1.2h-8.28zM108.63 315.57h8.28v1.2h-8.28zM75.71 316.72h8.28v1.2h-8.28zM100.4 316.72h8.28v1.2h-8.28zM51.03 319.01h8.28v1.2h-8.28zM59.26 319.01h8.28v1.2h-8.28zM67.49 319.01h8.28v1.2h-8.28zM75.71 320.15h8.28v1.2h-8.28zM108.63 320.15h8.28v1.2h-8.28zM67.49 321.3h8.28v1.2h-8.28zM75.71 321.3h8.28v1.2h-8.28zM83.94 321.3h8.28v1.2h-8.28zM92.17 321.3h8.28v1.2h-8.28zM92.17 322.45h8.28v1.2h-8.28zM59.26 323.59h8.28v1.2h-8.28zM75.71 323.59h8.28v1.2h-8.28zM92.17 323.59h8.28v1.2h-8.28zM100.4 323.59h8.28v1.2h-8.28zM108.63 323.59h8.28v1.2h-8.28zM67.49 324.74h8.28v1.2h-8.28zM92.17 324.74h8.28v1.2h-8.28zM59.26 328.17h8.28v1.2h-8.28zM100.4 328.17h8.28v1.2h-8.28zM108.63 328.17h8.28v1.2h-8.28zM83.94 329.32h8.28v1.2h-8.28zM92.17 329.32h8.28v1.2h-8.28zM100.4 329.32h8.28v1.2h-8.28zM75.71 331.61h8.28v1.2h-8.28zM83.94 331.61h8.28v1.2h-8.28zM108.63 331.61h8.28v1.2h-8.28zM59.26 332.75h8.28v1.2h-8.28zM108.63 332.75h8.28v1.2h-8.28zM75.71 333.9h8.28v1.2h-8.28zM83.94 335.05h8.28v1.2h-8.28zM100.4 335.05h8.28v1.2h-8.28zM51.03 336.19h8.28v1.2h-8.28zM75.71 336.19h8.28v1.2h-8.28zM100.4 336.19h8.28v1.2h-8.28zM59.26 337.34h8.28v1.2h-8.28zM75.71 337.34h8.28v1.2h-8.28zM83.94 337.34h8.28v1.2h-8.28zM59.26 338.48h8.28v1.2h-8.28zM67.49 338.48h8.28v1.2h-8.28zM75.71 338.48h8.28v1.2h-8.28zM83.94 338.48h8.28v1.2h-8.28zM100.4 338.48h8.28v1.2h-8.28zM108.63 338.48h8.28v1.2h-8.28zM75.71 339.63h8.28v1.2h-8.28zM92.17 343.06h8.28v1.2h-8.28zM100.4 343.06h8.28v1.2h-8.28zM108.63 343.06h8.28v1.2h-8.28zM51.03 344.21h8.28v1.2h-8.28zM75.71 344.21h8.28v1.2h-8.28zM116.86 344.21h8.28v1.2h-8.28zM51.03 345.35h8.28v1.2h-8.28zM75.71 345.35h8.28v1.2h-8.28zM83.94 345.35h8.28v1.2h-8.28zM100.4 345.35h8.28v1.2h-8.28zM108.63 345.35h8.28v1.2h-8.28zM141.54 349h8.28v1.2h-8.28zM59.26 350.15h8.28v1.2h-8.28zM67.49 350.15h8.28v1.2h-8.28zM59.26 351.3h8.28v1.2h-8.28zM141.54 351.3h8.28v1.2h-8.28zM51.03 352.45h8.28v1.2h-8.28zM59.26 352.45h8.28v1.2h-8.28zM59.26 353.6h8.28v1.2h-8.28zM141.54 353.6h8.28v1.2h-8.28zM141.54 354.75h8.28v1.2h-8.28zM67.49 357.05h8.28v1.2h-8.28zM133.31 357.05h8.28v1.2h-8.28zM116.86 358.2h8.28v1.2h-8.28zM141.54 358.2h8.28v1.2h-8.28zM67.49 359.35h8.28v1.2h-8.28zM67.49 361.65h8.28v1.2h-8.28zM59.26 363.95h8.28v1.2h-8.28zM67.49 366.25h8.28v1.2h-8.28zM141.54 367.4h8.28v1.2h-8.28zM67.49 368.55h8.28v1.2h-8.28zM141.54 368.55h8.28v1.2h-8.28zM59.26 370.85h8.28v1.2h-8.28zM67.49 370.85h8.28v1.2h-8.28zM141.54 370.85h8.28v1.2h-8.28zM75.71 374.3h8.28v1.2h-8.28zM141.54 374.3h8.28v1.2h-8.28zM67.49 375.45h8.28v1.2h-8.28zM133.31 375.45h8.28v1.2h-8.28zM141.54 377.75h8.28v1.2h-8.28zM141.54 378.9h8.28v1.2h-8.28zM59.26 380.05h8.28v1.2h-8.28zM141.54 380.05h8.28v1.2h-8.28zM133.31 381.2h8.28v1.2h-8.28zM59.26 382.35h8.28v1.2h-8.28zM141.54 382.35h8.28v1.2h-8.28zM141.54 384.65h8.28v1.2h-8.28zM51.03 385.8h8.28v1.2h-8.28zM133.31 385.8h8.28v1.2h-8.28zM59.26 389.25h8.28v1.2h-8.28zM141.54 392.7h8.28v1.2h-8.28zM75.71 393.85h8.28v1.2h-8.28zM141.54 393.85h8.28v1.2h-8.28zM141.54 395h8.28v1.2h-8.28zM59.26 396.15h8.28v1.2h-8.28zM67.49 398.45h8.28v1.2h-8.28zM141.54 398.45h8.28v1.2h-8.28zM141.54 400.75h8.28v1.2h-8.28zM108.63 403.9h8.28v1.19h-8.28zM116.86 403.9h8.28v1.19h-8.28zM108.63 405.04h8.28v1.19h-8.28zM125.09 405.04h8.28v1.19h-8.28zM125.09 406.18h8.28v1.19h-8.28zM133.31 406.18h8.28v1.19h-8.28zM100.4 407.32h8.28v1.19h-8.28zM108.63 408.46h8.28v1.19h-8.28zM108.63 409.6h8.28v1.19h-8.28zM108.63 413.02h8.28v1.19h-8.28zM108.63 414.15h8.28v1.19h-8.28zM108.63 416.43h8.28v1.19h-8.28zM116.86 416.43h8.28v1.19h-8.28zM42.8 418.71h8.28v1.19h-8.28zM116.86 419.85h8.28v1.19h-8.28zM42.8 422.13h8.28v1.19h-8.28zM100.4 423.27h8.28v1.19h-8.28zM108.63 424.41h8.28v1.19h-8.28zM108.63 427.83h8.28v1.19h-8.28zM116.86 428.97h8.28v1.19h-8.28zM125.09 430.11h8.28v1.19h-8.28zM100.4 431.25h8.28v1.19h-8.28zM149.77 431.25h8.28v1.19h-8.28zM116.86 432.38h8.28v1.19h-8.28zM125.09 434.66h8.28v1.19h-8.28zM116.86 435.8h8.28v1.19h-8.28zM133.31 435.8h8.28v1.19h-8.28zM133.31 436.94h8.28v1.19h-8.28zM108.63 438.08h8.28v1.19h-8.28zM116.86 439.22h8.28v1.19h-8.28zM100.4 440.36h8.28v1.19h-8.28z"/>
<path fill="rgb(231,230,244)" d="M149.77 210h8.28v1.2h-8.28zM149.77 211.15h8.28v1.2h-8.28zM92.17 212.31h8.28v1.2h-8.28zM149.77 212.31h8.28v1.2h-8.28zM92.17 213.46h8.28v1.2h-8.28zM149.77 214.62h8.28v1.2h-8.28zM83.94 215.77h8.28v1.2h-8.28zM149.77 216.93h8.28v1.2h-8.28zM75.71 218.08h8.28v1.2h-8.28zM100.4 218.08h8.28v1.2h-8.28zM92.17 219.24h8.28v1.2h-8.28zM83.94 220.39h8.28v1.2h-8.28zM149.77 221.55h8.28v1.2h-8.28zM149.77 222.7h8.28v1.2h-8.28zM67.49 227.32h8.28v1.2h-8.28zM83.94 227.32h8.28v1.2h-8.28zM92.17 231.94h8.28v1.2h-8.28zM149.77 231.94h8.28v1.2h-8.28zM92.17 233.1h8.28v1.2h-8.28zM149.77 234.25h8.28v1.2h-8.28zM92.17 235.41h8.28v1.2h-8.28zM149.77 236.56h8.28v1.2h-8.28zM92.17 237.72h8.28v1.2h-8.28zM100.4 237.72h8.28v1.2h-8.28zM149.77 237.72h8.28v1.2h-8.28zM149.77 238.87h8.28v1.2h-8.28zM59.26 241.18h8.28v1.2h-8.28zM67.49 241.18h8.28v1.2h-8.28zM92.17 241.18h8.28v1.2h-8.28zM83.94 242.34h8.28v1.2h-8.28zM92.17 243.49h8.28v1.2h-8.28zM92.17 244.65h8.28v1.2h-8.28zM149.77 244.65h8.28v1.2h-8.28zM100.4 246.96h8.28v1.2h-8.28zM141.54 246.96h8.28v1.2h-8.28zM92.17 248.11h8.28v1.2h-8.28zM67.49 249.27h8.28v1.2h-8.28zM75.71 249.27h8.28v1.2h-8.28zM149.77 249.27h8.28v1.2h-8.28zM83.94 250.42h8.28v1.2h-8.28zM83.94 257.35h8.28v1.2h-8.28zM149.77 257.35h8.28v1.2h-8.28zM100.4 259.66h8.28v1.2h-8.28zM108.63 260.82h8.28v1.2h-8.28zM149.77 260.82h8.28v1.2h-8.28zM83.94 261.97h8.28v1.2h-8.28zM83.94 264.28h8.28v1.2h-8.28zM100.4 265.44h8.28v1.2h-8.28zM83.94 266.59h8.28v1.2h-8.28zM92.17 266.59h8.28v1.2h-8.28zM83.94 270.9h8.28v1.2h-8.28zM100.4 270.9h8.28v1.2h-8.28zM75.71 272.05h8.28v1.2h-8.28zM92.17 272.05h8.28v1.2h-8.28zM51.03 273.19h8.28v1.2h-8.28zM83.94 273.19h8.28v1.2h-8.28zM116.86 273.19h8.28v1.2h-8.28zM83.94 274.34h8.28v1.2h-8.28zM100.4 274.34h8.28v1.2h-8.28zM100.4 275.48h8.28v1.2h-8.28zM75.71 276.63h8.28v1.2h-8.28zM83.94 276.63h8.28v1.2h-8.28zM108.63 278.92h8.28v1.2h-8.28zM92.17 280.06h8.28v1.2h-8.28zM51.03 281.21h8.28v1.2h-8.28zM67.49 281.21h8.28v1.2h-8.28zM75.71 281.21h8.28v1.2h-8.28zM92.17 282.35h8.28v1.2h-8.28zM59.26 283.5h8.28v1.2h-8.28zM92.17 283.5h8.28v1.2h-8.28zM100.4 284.65h8.28v1.2h-8.28zM108.63 284.65h8.28v1.2h-8.28zM67.49 286.94h8.28v1.2h-8.28zM83.94 286.94h8.28v1.2h-8.28zM92.17 286.94h8.28v1.2h-8.28zM108.63 288.08h8.28v1.2h-8.28zM83.94 289.23h8.28v1.2h-8.28zM108.63 289.23h8.28v1.2h-8.28zM83.94 290.37h8.28v1.2h-8.28zM51.03 292.66h8.28v1.2h-8.28zM67.49 292.66h8.28v1.2h-8.28zM100.4 292.66h8.28v1.2h-8.28zM51.03 293.81h8.28v1.2h-8.28zM59.26 293.81h8.28v1.2h-8.28zM100.4 294.95h8.28v1.2h-8.28zM51.03 296.1h8.28v1.2h-8.28zM67.49 296.1h8.28v1.2h-8.28zM108.63 296.1h8.28v1.2h-8.28zM100.4 298.39h8.28v1.2h-8.28zM108.63 298.39h8.28v1.2h-8.28zM51.03 299.54h8.28v1.2h-8.28zM75.71 299.54h8.28v1.2h-8.28zM83.94 299.54h8.28v1.2h-8.28zM100.4 299.54h8.28v1.2h-8.28zM108.63 299.54h8.28v1.2h-8.28zM75.71 301.83h8.28v1.2h-8.28zM100.4 301.83h8.28v1.2h-8.28zM59.26 304.12h8.28v1.2h-8.28zM67.49 304.12h8.28v1.2h-8.28zM83.94 304.12h8.28v1.2h-8.28zM92.17 304.12h8.28v1.2h-8.28zM100.4 304.12h8.28v1.2h-8.28zM83.94 305.26h8.28v1.2h-8.28zM92.17 305.26h8.28v1.2h-8.28zM100.4 306.41h8.28v1.2h-8.28zM59.26 308.7h8.28v1.2h-8.28zM67.49 308.7h8.28v1.2h-8.28zM100.4 308.7h8.28v1.2h-8.28zM108.63 308.7h8.28v1.2h-8.28zM83.94 309.85h8.28v1.2h-8.28zM100.4 309.85h8.28v1.2h-8.28zM108.63 310.99h8.28v1.2h-8.28zM75.71 313.28h8.28v1.2h-8.28zM100.4 313.28h8.28v1.2h-8.28zM108.63 313.28h8.28v1.2h-8.28zM83.94 314.43h8.28v1.2h-8.28zM59.26 316.72h8.28v1.2h-8.28zM51.03 317.86h8.28v1.2h-8.28zM59.26 317.86h8.28v1.2h-8.28zM67.49 317.86h8.28v1.2h-8.28zM83.94 319.01h8.28v1.2h-8.28zM108.63 319.01h8.28v1.2h-8.28zM59.26 320.15h8.28v1.2h-8.28zM67.49 320.15h8.28v1.2h-8.28zM100.4 321.3h8.28v1.2h-8.28zM100.4 322.45h8.28v1.2h-8.28zM67.49 323.59h8.28v1.2h-8.28zM75.71 324.74h8.28v1.2h-8.28zM83.94 324.74h8.28v1.2h-8.28zM83.94 325.88h8.28v1.2h-8.28zM92.17 325.88h8.28v1.2h-8.28zM100.4 325.88h8.28v1.2h-8.28zM92.17 327.03h8.28v1.2h-8.28zM108.63 327.03h8.28v1.2h-8.28zM75.71 328.17h8.28v1.2h-8.28zM83.94 328.17h8.28v1.2h-8.28zM75.71 329.32h8.28v1.2h-8.28zM75.71 330.46h8.28v1.2h-8.28zM83.94 330.46h8.28v1.2h-8.28zM92.17 330.46h8.28v1.2h-8.28zM92.17 331.61h8.28v1.2h-8.28zM75.71 332.75h8.28v1.2h-8.28zM83.94 332.75h8.28v1.2h-8.28zM92.17 332.75h8.28v1.2h-8.28zM59.26 335.05h8.28v1.2h-8.28zM92.17 335.05h8.28v1.2h-8.28zM116.86 335.05h8.28v1.2h-8.28zM92.17 336.19h8.28v1.2h-8.28zM108.63 336.19h8.28v1.2h-8.28zM51.03 337.34h8.28v1.2h-8.28zM100.4 337.34h8.28v1.2h-8.28zM100.4 339.63h8.28v1.2h-8.28zM83.94 340.77h8.28v1.2h-8.28zM92.17 340.77h8.28v1.2h-8.28zM92.17 341.92h8.28v1.2h-8.28zM100.4 341.92h8.28v1.2h-8.28zM67.49 344.21h8.28v1.2h-8.28zM92.17 345.35h8.28v1.2h-8.28zM67.49 349h8.28v1.2h-8.28zM67.49 355.9h8.28v1.2h-8.28zM133.31 355.9h8.28v1.2h-8.28zM141.54 355.9h8.28v1.2h-8.28zM59.26 358.2h8.28v1.2h-8.28zM133.31 359.35h8.28v1.2h-8.28zM133.31 361.65h8.28v1.2h-8.28zM67.49 362.8h8.28v1.2h-8.28zM133.31 362.8h8.28v1.2h-8.28zM67.49 363.95h8.28v1.2h-8.28zM67.49 365.1h8.28v1.2h-8.28zM75.71 366.25h8.28v1.2h-8.28zM133.31 366.25h8.28v1.2h-8.28zM67.49 367.4h8.28v1.2h-8.28zM67.49 369.7h8.28v1.2h-8.28zM141.54 369.7h8.28v1.2h-8.28zM125.09 372h8.28v1.2h-8.28zM133.31 372h8.28v1.2h-8.28zM141.54 372h8.28v1.2h-8.28zM59.26 373.15h8.28v1.2h-8.28zM67.49 373.15h8.28v1.2h-8.28zM141.54 373.15h8.28v1.2h-8.28zM92.17 375.45h8.28v1.2h-8.28zM141.54 375.45h8.28v1.2h-8.28zM67.49 376.6h8.28v1.2h-8.28zM67.49 378.9h8.28v1.2h-8.28zM75.71 380.05h8.28v1.2h-8.28zM133.31 380.05h8.28v1.2h-8.28zM67.49 383.5h8.28v1.2h-8.28zM141.54 383.5h8.28v1.2h-8.28zM59.26 384.65h8.28v1.2h-8.28zM59.26 385.8h8.28v1.2h-8.28zM67.49 388.1h8.28v1.2h-8.28zM75.71 390.4h8.28v1.2h-8.28zM133.31 393.85h8.28v1.2h-8.28zM67.49 395h8.28v1.2h-8.28zM141.54 396.15h8.28v1.2h-8.28zM51.03 397.3h8.28v1.2h-8.28zM141.54 399.6h8.28v1.2h-8.28zM67.49 400.75h8.28v1.2h-8.28zM75.71 400.75h8.28v1.2h-8.28zM100.4 403.9h8.28v1.19h-8.28zM100.4 406.18h8.28v1.19h-8.28zM116.86 406.18h8.28v1.19h-8.28zM108.63 407.32h8.28v1.19h-8.28zM116.86 410.74h8.28v1.19h-8.28zM100.4 418.71h8.28v1.19h-8.28zM116.86 418.71h8.28v1.19h-8.28zM100.4 419.85h8.28v1.19h-8.28zM125.09 419.85h8.28v1.19h-8.28zM92.17 420.99h8.28v1.19h-8.28zM108.63 420.99h8.28v1.19h-8.28zM100.4 422.13h8.28v1.19h-8.28zM108.63 422.13h8.28v1.19h-8.28zM92.17 425.55h8.28v1.19h-8.28zM116.86 425.55h8.28v1.19h-8.28zM100.4 427.83h8.28v1.19h-8.28zM100.4 428.97h8.28v1.19h-8.28zM108.63 428.97h8.28v1.19h-8.28zM108.63 431.25h8.28v1.19h-8.28zM116.86 431.25h8.28v1.19h-8.28zM125.09 431.25h8.28v1.19h-8.28zM108.63 432.38h8.28v1.19h-8.28zM100.4 433.52h8.28v1.19h-8.28zM116.86 434.66h8.28v1.19h-8.28zM108.63 435.8h8.28v1.19h-8.28zM108.63 436.94h8.28v1.19h-8.28zM116.86 436.94h8.28v1.19h-8.28zM125.09 439.22h8.28v1.19h-8.28zM141.54 439.22h8.28v1.19h-8.28zM42.8 440.36h8.28v1.19h-8.28z"/>
<path fill="rgb(246,244,250)" d="M83.94 211.15h8.28v1.2h-8.28zM92.17 211.15h8.28v1.2h-8.28zM100.4 213.46h8.28v1.2h-8.28zM83.94 214.62h8.28v1.2h-8.28zM100.4 214.62h8.28v1.2h-8.28zM100.4 216.93h8.28v1.2h-8.28zM100.4 219.24h8.28v1.2h-8.28zM108.63 220.39h8.28v1.2h-8.28zM149.77 220.39h8.28v1.2h-8.28zM92.17 222.7h8.28v1.2h-8.28zM92.17 223.86h8.28v1.2h-8.28zM92.17 225.01h8.28v1.2h-8.28zM100.4 225.01h8.28v1.2h-8.28zM108.63 225.01h8.28v1.2h-8.28zM92.17 227.32h8.28v1.2h-8.28zM100.4 227.32h8.28v1.2h-8.28zM100.4 230.79h8.28v1.2h-8.28zM108.63 234.25h8.28v1.2h-8.28zM149.77 235.41h8.28v1.2h-8.28zM83.94 238.87h8.28v1.2h-8.28zM92.17 238.87h8.28v1.2h-8.28zM141.54 238.87h8.28v1.2h-8.28zM75.71 241.18h8.28v1.2h-8.28zM83.94 241.18h8.28v1.2h-8.28zM100.4 242.34h8.28v1.2h-8.28zM83.94 244.65h8.28v1.2h-8.28zM92.17 246.96h8.28v1.2h-8.28zM100.4 248.11h8.28v1.2h-8.28zM100.4 249.27h8.28v1.2h-8.28zM108.63 249.27h8.28v1.2h-8.28zM92.17 250.42h8.28v1.2h-8.28zM83.94 251.58h8.28v1.2h-8.28zM92.17 251.58h8.28v1.2h-8.28zM100.4 251.58h8.28v1.2h-8.28zM92.17 252.73h8.28v1.2h-8.28zM83.94 253.89h8.28v1.2h-8.28zM149.77 253.89h8.28v1.2h-8.28zM149.77 255.04h8.28v1.2h-8.28zM92.17 256.2h8.28v1.2h-8.28zM149.77 256.2h8.28v1.2h-8.28zM92.17 257.35h8.28v1.2h-8.28zM83.94 259.66h8.28v1.2h-8.28zM149.77 259.66h8.28v1.2h-8.28zM83.94 260.82h8.28v1.2h-8.28zM92.17 260.82h8.28v1.2h-8.28zM100.4 260.82h8.28v1.2h-8.28zM108.63 261.97h8.28v1.2h-8.28zM149.77 261.97h8.28v1.2h-8.28zM149.77 263.13h8.28v1.2h-8.28zM108.63 265.44h8.28v1.2h-8.28zM92.17 267.75h8.28v1.2h-8.28zM92.17 273.19h8.28v1.2h-8.28zM75.71 274.34h8.28v1.2h-8.28zM92.17 275.48h8.28v1.2h-8.28zM108.63 275.48h8.28v1.2h-8.28zM125.09 275.48h8.28v1.2h-8.28zM83.94 277.77h8.28v1.2h-8.28zM108.63 277.77h8.28v1.2h-8.28zM116.86 277.77h8.28v1.2h-8.28zM92.17 278.92h8.28v1.2h-8.28zM108.63 280.06h8.28v1.2h-8.28zM125.09 281.21h8.28v1.2h-8.28zM83.94 284.65h8.28v1.2h-8.28zM83.94 285.79h8.28v1.2h-8.28zM92.17 285.79h8.28v1.2h-8.28zM75.71 286.94h8.28v1.2h-8.28zM116.86 288.08h8.28v1.2h-8.28zM92.17 289.23h8.28v1.2h-8.28zM108.63 290.37h8.28v1.2h-8.28zM116.86 290.37h8.28v1.2h-8.28zM92.17 291.52h8.28v1.2h-8.28zM59.26 292.66h8.28v1.2h-8.28zM83.94 293.81h8.28v1.2h-8.28zM92.17 293.81h8.28v1.2h-8.28zM100.4 293.81h8.28v1.2h-8.28zM125.09 293.81h8.28v1.2h-8.28zM83.94 294.95h8.28v1.2h-8.28zM108.63 294.95h8.28v1.2h-8.28zM116.86 294.95h8.28v1.2h-8.28zM100.4 296.1h8.28v1.2h-8.28zM100.4 297.25h8.28v1.2h-8.28zM108.63 300.68h8.28v1.2h-8.28zM83.94 301.83h8.28v1.2h-8.28zM116.86 301.83h8.28v1.2h-8.28zM83.94 302.97h8.28v1.2h-8.28zM92.17 302.97h8.28v1.2h-8.28zM100.4 302.97h8.28v1.2h-8.28zM108.63 302.97h8.28v1.2h-8.28zM108.63 305.26h8.28v1.2h-8.28zM108.63 307.55h8.28v1.2h-8.28zM92.17 309.85h8.28v1.2h-8.28zM108.63 309.85h8.28v1.2h-8.28zM83.94 310.99h8.28v1.2h-8.28zM83.94 312.14h8.28v1.2h-8.28zM92.17 312.14h8.28v1.2h-8.28zM100.4 312.14h8.28v1.2h-8.28zM83.94 313.28h8.28v1.2h-8.28zM116.86 313.28h8.28v1.2h-8.28zM125.09 313.28h8.28v1.2h-8.28zM108.63 314.43h8.28v1.2h-8.28zM92.17 317.86h8.28v1.2h-8.28zM100.4 317.86h8.28v1.2h-8.28zM108.63 317.86h8.28v1.2h-8.28zM92.17 319.01h8.28v1.2h-8.28zM108.63 321.3h8.28v1.2h-8.28zM67.49 322.45h8.28v1.2h-8.28zM100.4 324.74h8.28v1.2h-8.28zM108.63 325.88h8.28v1.2h-8.28zM100.4 327.03h8.28v1.2h-8.28zM92.17 328.17h8.28v1.2h-8.28zM116.86 328.17h8.28v1.2h-8.28zM125.09 329.32h8.28v1.2h-8.28zM116.86 331.61h8.28v1.2h-8.28zM100.4 333.9h8.28v1.2h-8.28zM75.71 335.05h8.28v1.2h-8.28zM108.63 335.05h8.28v1.2h-8.28zM125.09 335.05h8.28v1.2h-8.28zM92.17 337.34h8.28v1.2h-8.28zM125.09 337.34h8.28v1.2h-8.28zM133.31 337.34h8.28v1.2h-8.28zM149.77 337.34h8.28v1.2h-8.28zM100.4 340.77h8.28v1.2h-8.28zM108.63 340.77h8.28v1.2h-8.28zM116.86 343.06h8.28v1.2h-8.28zM59.26 344.21h8.28v1.2h-8.28zM92.17 344.21h8.28v1.2h-8.28zM100.4 344.21h8.28v1.2h-8.28zM125.09 345.35h8.28v1.2h-8.28zM75.71 349h8.28v1.2h-8.28zM75.71 350.15h8.28v1.2h-8.28zM75.71 351.3h8.28v1.2h-8.28zM133.31 351.3h8.28v1.2h-8.28zM67.49 352.45h8.28v1.2h-8.28zM125.09 352.45h8.28v1.2h-8.28zM67.49 353.6h8.28v1.2h-8.28zM75.71 353.6h8.28v1.2h-8.28zM125.09 354.75h8.28v1.2h-8.28zM133.31 354.75h8.28v1.2h-8.28zM125.09 357.05h8.28v1.2h-8.28zM51.03 358.2h8.28v1.2h-8.28zM67.49 358.2h8.28v1.2h-8.28zM125.09 358.2h8.28v1.2h-8.28zM133.31 358.2h8.28v1.2h-8.28zM75.71 360.5h8.28v1.2h-8.28zM133.31 360.5h8.28v1.2h-8.28zM75.71 361.65h8.28v1.2h-8.28zM125.09 362.8h8.28v1.2h-8.28zM141.54 363.95h8.28v1.2h-8.28zM133.31 365.1h8.28v1.2h-8.28zM125.09 367.4h8.28v1.2h-8.28zM75.71 369.7h8.28v1.2h-8.28zM92.17 369.7h8.28v1.2h-8.28zM75.71 370.85h8.28v1.2h-8.28zM83.94 372h8.28v1.2h-8.28zM59.26 375.45h8.28v1.2h-8.28zM75.71 375.45h8.28v1.2h-8.28zM125.09 375.45h8.28v1.2h-8.28zM67.49 377.75h8.28v1.2h-8.28zM133.31 378.9h8.28v1.2h-8.28zM108.63 380.05h8.28v1.2h-8.28zM125.09 380.05h8.28v1.2h-8.28zM125.09 381.2h8.28v1.2h-8.28zM67.49 382.35h8.28v1.2h-8.28zM133.31 382.35h8.28v1.2h-8.28zM67.49 384.65h8.28v1.2h-8.28zM133.31 384.65h8.28v1.2h-8.28zM125.09 385.8h8.28v1.2h-8.28zM141.54 389.25h8.28v1.2h-8.28zM133.31 390.4h8.28v1.2h-8.28zM141.54 390.4h8.28v1.2h-8.28zM59.26 391.55h8.28v1.2h-8.28zM67.49 391.55h8.28v1.2h-8.28zM75.71 391.55h8.28v1.2h-8.28zM83.94 391.55h8.28v1.2h-8.28zM141.54 391.55h8.28v1.2h-8.28zM133.31 392.7h8.28v1.2h-8.28zM133.31 395h8.28v1.2h-8.28zM67.49 396.15h8.28v1.2h-8.28zM116.86 397.3h8.28v1.2h-8.28zM125.09 397.3h8.28v1.2h-8.28zM133.31 397.3h8.28v1.2h-8.28zM133.31 398.45h8.28v1.2h-8.28zM108.63 406.18h8.28v1.19h-8.28zM42.8 407.32h8.28v1.19h-8.28zM92.17 407.32h8.28v1.19h-8.28zM100.4 408.46h8.28v1.19h-8.28zM100.4 409.6h8.28v1.19h-8.28zM108.63 410.74h8.28v1.19h-8.28zM42.8 413.02h8.28v1.19h-8.28zM100.4 414.15h8.28v1.19h-8.28zM100.4 415.29h8.28v1.19h-8.28zM100.4 417.57h8.28v1.19h-8.28zM108.63 417.57h8.28v1.19h-8.28zM108.63 418.71h8.28v1.19h-8.28zM92.17 419.85h8.28v1.19h-8.28zM83.94 420.99h8.28v1.19h-8.28zM100.4 420.99h8.28v1.19h-8.28zM116.86 420.99h8.28v1.19h-8.28zM92.17 422.13h8.28v1.19h-8.28zM100.4 424.41h8.28v1.19h-8.28zM100.4 425.55h8.28v1.19h-8.28zM108.63 425.55h8.28v1.19h-8.28zM42.8 426.69h8.28v1.19h-8.28zM116.86 426.69h8.28v1.19h-8.28zM100.4 430.11h8.28v1.19h-8.28zM100.4 432.38h8.28v1.19h-8.28zM42.8 434.66h8.28v1.19h-8.28zM100.4 434.66h8.28v1.19h-8.28zM75.71 435.8h8.28v1.19h-8.28zM100.4 435.8h8.28v1.19h-8.28zM125.09 435.8h8.28v1.19h-8.28zM100.4 436.94h8.28v1.19h-8.28zM125.09 436.94h8.28v1.19h-8.28zM100.4 438.08h8.28v1.19h-8.28zM42.8 439.22h8.28v1.19h-8.28zM59.26 439.22h8.28v1.19h-8.28zM75.71 439.22h8.28v1.19h-8.28zM92.17 439.22h8.28v1.19h-8.28zM100.4 439.22h8.28v1.19h-8.28zM108.63 439.22h8.28v1.19h-8.28zM133.31 439.22h8.28v1.19h-8.28z"/>
<path fill="rgb(247,231,236)" d="M92.17 210h8.28v1.2h-8.28zM100.4 211.15h8.28v1.2h-8.28zM100.4 212.31h8.28v1.2h-8.28zM92.17 214.62h8.28v1.2h-8.28zM92.17 215.77h8.28v1.2h-8.28zM92.17 216.93h8.28v1.2h-8.28zM108.63 216.93h8.28v1.2h-8.28zM83.94 218.08h8.28v1.2h-8.28zM149.77 219.24h8.28v1.2h-8.28zM100.4 220.39h8.28v1.2h-8.28zM92.17 221.55h8.28v1.2h-8.28zM141.54 221.55h8.28v1.2h-8.28zM149.77 223.86h8.28v1.2h-8.28zM92.17 226.17h8.28v1.2h-8.28zM149.77 227.32h8.28v1.2h-8.28zM100.4 231.94h8.28v1.2h-8.28zM108.63 231.94h8.28v1.2h-8.28zM116.86 231.94h8.28v1.2h-8.28zM100.4 233.1h8.28v1.2h-8.28zM100.4 234.25h8.28v1.2h-8.28zM100.4 235.41h8.28v1.2h-8.28zM92.17 236.56h8.28v1.2h-8.28zM100.4 238.87h8.28v1.2h-8.28zM108.63 238.87h8.28v1.2h-8.28zM100.4 240.03h8.28v1.2h-8.28zM108.63 240.03h8.28v1.2h-8.28zM100.4 241.18h8.28v1.2h-8.28zM125.09 241.18h8.28v1.2h-8.28zM133.31 241.18h8.28v1.2h-8.28zM149.77 243.49h8.28v1.2h-8.28zM100.4 244.65h8.28v1.2h-8.28zM108.63 244.65h8.28v1.2h-8.28zM92.17 245.8h8.28v1.2h-8.28zM133.31 246.96h8.28v1.2h-8.28zM133.31 249.27h8.28v1.2h-8.28zM141.54 249.27h8.28v1.2h-8.28zM100.4 250.42h8.28v1.2h-8.28zM108.63 251.58h8.28v1.2h-8.28zM149.77 251.58h8.28v1.2h-8.28zM100.4 255.04h8.28v1.2h-8.28zM108.63 255.04h8.28v1.2h-8.28zM92.17 258.51h8.28v1.2h-8.28zM108.63 259.66h8.28v1.2h-8.28zM125.09 260.82h8.28v1.2h-8.28zM92.17 261.97h8.28v1.2h-8.28zM116.86 261.97h8.28v1.2h-8.28zM141.54 261.97h8.28v1.2h-8.28zM92.17 263.13h8.28v1.2h-8.28zM108.63 263.13h8.28v1.2h-8.28zM100.4 264.28h8.28v1.2h-8.28zM108.63 266.59h8.28v1.2h-8.28zM100.4 267.75h8.28v1.2h-8.28zM100.4 272.05h8.28v1.2h-8.28zM108.63 272.05h8.28v1.2h-8.28zM133.31 275.48h8.28v1.2h-8.28zM108.63 276.63h8.28v1.2h-8.28zM100.4 277.77h8.28v1.2h-8.28zM125.09 277.77h8.28v1.2h-8.28zM83.94 278.92h8.28v1.2h-8.28zM116.86 278.92h8.28v1.2h-8.28zM100.4 280.06h8.28v1.2h-8.28zM116.86 280.06h8.28v1.2h-8.28zM83.94 281.21h8.28v1.2h-8.28zM92.17 281.21h8.28v1.2h-8.28zM100.4 281.21h8.28v1.2h-8.28zM108.63 281.21h8.28v1.2h-8.28zM116.86 281.21h8.28v1.2h-8.28zM100.4 282.35h8.28v1.2h-8.28zM100.4 283.5h8.28v1.2h-8.28zM116.86 283.5h8.28v1.2h-8.28zM92.17 284.65h8.28v1.2h-8.28zM125.09 284.65h8.28v1.2h-8.28zM100.4 289.23h8.28v1.2h-8.28zM116.86 289.23h8.28v1.2h-8.28zM100.4 291.52h8.28v1.2h-8.28zM108.63 291.52h8.28v1.2h-8.28zM108.63 292.66h8.28v1.2h-8.28zM116.86 292.66h8.28v1.2h-8.28zM108.63 293.81h8.28v1.2h-8.28zM133.31 293.81h8.28v1.2h-8.28zM83.94 296.1h8.28v1.2h-8.28zM92.17 296.1h8.28v1.2h-8.28zM116.86 296.1h8.28v1.2h-8.28zM108.63 297.25h8.28v1.2h-8.28zM116.86 297.25h8.28v1.2h-8.28zM125.09 297.25h8.28v1.2h-8.28zM116.86 304.12h8.28v1.2h-8.28zM116.86 306.41h8.28v1.2h-8.28zM125.09 307.55h8.28v1.2h-8.28zM92.17 308.7h8.28v1.2h-8.28zM116.86 309.85h8.28v1.2h-8.28zM108.63 312.14h8.28v1.2h-8.28zM92.17 313.28h8.28v1.2h-8.28zM116.86 314.43h8.28v1.2h-8.28zM108.63 316.72h8.28v1.2h-8.28zM116.86 317.86h8.28v1.2h-8.28zM125.09 317.86h8.28v1.2h-8.28zM75.71 319.01h8.28v1.2h-8.28zM116.86 319.01h8.28v1.2h-8.28zM108.63 322.45h8.28v1.2h-8.28zM133.31 322.45h8.28v1.2h-8.28zM116.86 325.88h8.28v1.2h-8.28zM133.31 325.88h8.28v1.2h-8.28zM125.09 328.17h8.28v1.2h-8.28zM108.63 329.32h8.28v1.2h-8.28zM100.4 330.46h8.28v1.2h-8.28zM116.86 332.75h8.28v1.2h-8.28zM125.09 332.75h8.28v1.2h-8.28zM92.17 333.9h8.28v1.2h-8.28zM108.63 333.9h8.28v1.2h-8.28zM116.86 333.9h8.28v1.2h-8.28zM116.86 337.34h8.28v1.2h-8.28zM83.94 339.63h8.28v1.2h-8.28zM92.17 339.63h8.28v1.2h-8.28zM108.63 339.63h8.28v1.2h-8.28zM116.86 339.63h8.28v1.2h-8.28zM125.09 341.92h8.28v1.2h-8.28zM83.94 343.06h8.28v1.2h-8.28zM125.09 343.06h8.28v1.2h-8.28zM108.63 344.21h8.28v1.2h-8.28zM125.09 344.21h8.28v1.2h-8.28zM100.4 349h8.28v1.2h-8.28zM108.63 349h8.28v1.2h-8.28zM83.94 350.15h8.28v1.2h-8.28zM125.09 350.15h8.28v1.2h-8.28zM83.94 351.3h8.28v1.2h-8.28zM125.09 351.3h8.28v1.2h-8.28zM75.71 352.45h8.28v1.2h-8.28zM100.4 352.45h8.28v1.2h-8.28zM75.71 354.75h8.28v1.2h-8.28zM75.71 357.05h8.28v1.2h-8.28zM83.94 357.05h8.28v1.2h-8.28zM92.17 357.05h8.28v1.2h-8.28zM116.86 357.05h8.28v1.2h-8.28zM75.71 358.2h8.28v1.2h-8.28zM83.94 358.2h8.28v1.2h-8.28zM75.71 359.35h8.28v1.2h-8.28zM83.94 359.35h8.28v1.2h-8.28zM100.4 359.35h8.28v1.2h-8.28zM108.63 363.95h8.28v1.2h-8.28zM116.86 363.95h8.28v1.2h-8.28zM133.31 363.95h8.28v1.2h-8.28zM75.71 365.1h8.28v1.2h-8.28zM116.86 366.25h8.28v1.2h-8.28zM125.09 366.25h8.28v1.2h-8.28zM75.71 367.4h8.28v1.2h-8.28zM100.4 367.4h8.28v1.2h-8.28zM75.71 368.55h8.28v1.2h-8.28zM83.94 368.55h8.28v1.2h-8.28zM83.94 369.7h8.28v1.2h-8.28zM100.4 369.7h8.28v1.2h-8.28zM133.31 370.85h8.28v1.2h-8.28zM75.71 372h8.28v1.2h-8.28zM116.86 372h8.28v1.2h-8.28zM75.71 373.15h8.28v1.2h-8.28zM83.94 374.3h8.28v1.2h-8.28zM83.94 375.45h8.28v1.2h-8.28zM108.63 375.45h8.28v1.2h-8.28zM116.86 375.45h8.28v1.2h-8.28zM133.31 376.6h8.28v1.2h-8.28zM133.31 377.75h8.28v1.2h-8.28zM108.63 378.9h8.28v1.2h-8.28zM83.94 380.05h8.28v1.2h-8.28zM100.4 380.05h8.28v1.2h-8.28zM116.86 380.05h8.28v1.2h-8.28zM67.49 381.2h8.28v1.2h-8.28zM100.4 381.2h8.28v1.2h-8.28zM100.4 384.65h8.28v1.2h-8.28zM67.49 385.8h8.28v1.2h-8.28zM83.94 385.8h8.28v1.2h-8.28zM133.31 386.95h8.28v1.2h-8.28zM100.4 388.1h8.28v1.2h-8.28zM108.63 388.1h8.28v1.2h-8.28zM125.09 389.25h8.28v1.2h-8.28zM133.31 389.25h8.28v1.2h-8.28zM83.94 390.4h8.28v1.2h-8.28zM125.09 391.55h8.28v1.2h-8.28zM92.17 396.15h8.28v1.2h-8.28zM100.4 396.15h8.28v1.2h-8.28zM133.31 396.15h8.28v1.2h-8.28zM59.26 397.3h8.28v1.2h-8.28zM67.49 397.3h8.28v1.2h-8.28zM75.71 397.3h8.28v1.2h-8.28zM83.94 397.3h8.28v1.2h-8.28zM92.17 397.3h8.28v1.2h-8.28zM108.63 397.3h8.28v1.2h-8.28zM100.4 398.45h8.28v1.2h-8.28zM125.09 398.45h8.28v1.2h-8.28zM133.31 399.6h8.28v1.2h-8.28zM75.71 403.9h8.28v1.19h-8.28zM100.4 405.04h8.28v1.19h-8.28zM100.4 410.74h8.28v1.19h-8.28zM100.4 411.88h8.28v1.19h-8.28zM100.4 413.02h8.28v1.19h-8.28zM83.94 414.15h8.28v1.19h-8.28zM51.03 418.71h8.28v1.19h-8.28zM92.17 418.71h8.28v1.19h-8.28zM149.77 418.71h8.28v1.19h-8.28zM83.94 422.13h8.28v1.19h-8.28zM67.49 426.69h8.28v1.19h-8.28zM100.4 426.69h8.28v1.19h-8.28zM108.63 426.69h8.28v1.19h-8.28zM51.03 430.11h8.28v1.19h-8.28zM92.17 430.11h8.28v1.19h-8.28zM83.94 434.66h8.28v1.19h-8.28zM92.17 434.66h8.28v1.19h-8.28zM83.94 435.8h8.28v1.19h-8.28zM92.17 435.8h8.28v1.19h-8.28zM51.03 436.94h8.28v1.19h-8.28zM83.94 436.94h8.28v1.19h-8.28zM92.17 438.08h8.28v1.19h-8.28zM67.49 439.22h8.28v1.19h-8.28zM83.94 439.22h8.28v1.19h-8.28z"/>
<path fill="rgb(248,218,221)" d="M100.4 210h8.28v1.2h-8.28zM149.77 213.46h8.28v1.2h-8.28zM108.63 214.62h8.28v1.2h-8.28zM92.17 218.08h8.28v1.2h-8.28zM108.63 218.08h8.28v1.2h-8.28zM133.31 218.08h8.28v1.2h-8.28zM92.17 220.39h8.28v1.2h-8.28zM100.4 221.55h8.28v1.2h-8.28zM108.63 221.55h8.28v1.2h-8.28zM116.86 221.55h8.28v1.2h-8.28zM133.31 221.55h8.28v1.2h-8.28zM100.4 222.7h8.28v1.2h-8.28zM108.63 222.7h8.28v1.2h-8.28zM100.4 223.86h8.28v1.2h-8.28zM108.63 223.86h8.28v1.2h-8.28zM149.77 225.01h8.28v1.2h-8.28zM100.4 226.17h8.28v1.2h-8.28zM149.77 226.17h8.28v1.2h-8.28zM108.63 227.32h8.28v1.2h-8.28zM141.54 227.32h8.28v1.2h-8.28zM92.17 229.63h8.28v1.2h-8.28zM108.63 230.79h8.28v1.2h-8.28zM141.54 231.94h8.28v1.2h-8.28zM83.94 234.25h8.28v1.2h-8.28zM133.31 234.25h8.28v1.2h-8.28zM125.09 235.41h8.28v1.2h-8.28zM141.54 235.41h8.28v1.2h-8.28zM133.31 238.87h8.28v1.2h-8.28zM116.86 240.03h8.28v1.2h-8.28zM108.63 241.18h8.28v1.2h-8.28zM116.86 241.18h8.28v1.2h-8.28zM108.63 242.34h8.28v1.2h-8.28zM100.4 243.49h8.28v1.2h-8.28zM108.63 246.96h8.28v1.2h-8.28zM149.77 248.11h8.28v1.2h-8.28zM125.09 249.27h8.28v1.2h-8.28zM108.63 250.42h8.28v1.2h-8.28zM141.54 250.42h8.28v1.2h-8.28zM92.17 253.89h8.28v1.2h-8.28zM100.4 253.89h8.28v1.2h-8.28zM100.4 256.2h8.28v1.2h-8.28zM141.54 257.35h8.28v1.2h-8.28zM100.4 258.51h8.28v1.2h-8.28zM141.54 259.66h8.28v1.2h-8.28zM116.86 260.82h8.28v1.2h-8.28zM133.31 260.82h8.28v1.2h-8.28zM100.4 261.97h8.28v1.2h-8.28zM125.09 261.97h8.28v1.2h-8.28zM100.4 263.13h8.28v1.2h-8.28zM92.17 264.28h8.28v1.2h-8.28zM108.63 274.34h8.28v1.2h-8.28zM116.86 274.34h8.28v1.2h-8.28zM116.86 275.48h8.28v1.2h-8.28zM92.17 277.77h8.28v1.2h-8.28zM133.31 277.77h8.28v1.2h-8.28zM108.63 282.35h8.28v1.2h-8.28zM116.86 284.65h8.28v1.2h-8.28zM133.31 284.65h8.28v1.2h-8.28zM116.86 285.79h8.28v1.2h-8.28zM100.4 286.94h8.28v1.2h-8.28zM108.63 286.94h8.28v1.2h-8.28zM116.86 286.94h8.28v1.2h-8.28zM125.09 286.94h8.28v1.2h-8.28zM125.09 290.37h8.28v1.2h-8.28zM116.86 291.52h8.28v1.2h-8.28zM125.09 292.66h8.28v1.2h-8.28zM116.86 293.81h8.28v1.2h-8.28zM92.17 294.95h8.28v1.2h-8.28zM125.09 296.1h8.28v1.2h-8.28zM125.09 298.39h8.28v1.2h-8.28zM116.86 299.54h8.28v1.2h-8.28zM116.86 300.68h8.28v1.2h-8.28zM116.86 302.97h8.28v1.2h-8.28zM125.09 302.97h8.28v1.2h-8.28zM108.63 304.12h8.28v1.2h-8.28zM125.09 304.12h8.28v1.2h-8.28zM116.86 307.55h8.28v1.2h-8.28zM133.31 307.55h8.28v1.2h-8.28zM116.86 308.7h8.28v1.2h-8.28zM133.31 308.7h8.28v1.2h-8.28zM133.31 313.28h8.28v1.2h-8.28zM116.86 315.57h8.28v1.2h-8.28zM133.31 316.72h8.28v1.2h-8.28zM83.94 317.86h8.28v1.2h-8.28zM116.86 320.15h8.28v1.2h-8.28zM133.31 320.15h8.28v1.2h-8.28zM125.09 322.45h8.28v1.2h-8.28zM116.86 323.59h8.28v1.2h-8.28zM125.09 323.59h8.28v1.2h-8.28zM108.63 324.74h8.28v1.2h-8.28zM125.09 325.88h8.28v1.2h-8.28zM116.86 327.03h8.28v1.2h-8.28zM133.31 328.17h8.28v1.2h-8.28zM116.86 329.32h8.28v1.2h-8.28zM108.63 330.46h8.28v1.2h-8.28zM67.49 335.05h8.28v1.2h-8.28zM116.86 336.19h8.28v1.2h-8.28zM108.63 337.34h8.28v1.2h-8.28zM141.54 337.34h8.28v1.2h-8.28zM116.86 338.48h8.28v1.2h-8.28zM108.63 341.92h8.28v1.2h-8.28zM116.86 341.92h8.28v1.2h-8.28zM133.31 344.21h8.28v1.2h-8.28zM116.86 345.35h8.28v1.2h-8.28zM133.31 345.35h8.28v1.2h-8.28zM83.94 349h8.28v1.2h-8.28zM92.17 349h8.28v1.2h-8.28zM133.31 349h8.28v1.2h-8.28zM116.86 350.15h8.28v1.2h-8.28zM116.86 351.3h8.28v1.2h-8.28zM92.17 352.45h8.28v1.2h-8.28zM116.86 353.6h8.28v1.2h-8.28zM133.31 353.6h8.28v1.2h-8.28zM75.71 355.9h8.28v1.2h-8.28zM116.86 355.9h8.28v1.2h-8.28zM125.09 355.9h8.28v1.2h-8.28zM100.4 357.05h8.28v1.2h-8.28zM108.63 357.05h8.28v1.2h-8.28zM92.17 358.2h8.28v1.2h-8.28zM108.63 359.35h8.28v1.2h-8.28zM125.09 359.35h8.28v1.2h-8.28zM125.09 360.5h8.28v1.2h-8.28zM83.94 361.65h8.28v1.2h-8.28zM125.09 361.65h8.28v1.2h-8.28zM108.63 362.8h8.28v1.2h-8.28zM116.86 362.8h8.28v1.2h-8.28zM75.71 363.95h8.28v1.2h-8.28zM92.17 363.95h8.28v1.2h-8.28zM100.4 363.95h8.28v1.2h-8.28zM125.09 363.95h8.28v1.2h-8.28zM83.94 365.1h8.28v1.2h-8.28zM83.94 367.4h8.28v1.2h-8.28zM116.86 367.4h8.28v1.2h-8.28zM133.31 367.4h8.28v1.2h-8.28zM100.4 368.55h8.28v1.2h-8.28zM125.09 368.55h8.28v1.2h-8.28zM108.63 369.7h8.28v1.2h-8.28zM116.86 370.85h8.28v1.2h-8.28zM125.09 370.85h8.28v1.2h-8.28zM67.49 372h8.28v1.2h-8.28zM92.17 372h8.28v1.2h-8.28zM100.4 372h8.28v1.2h-8.28zM108.63 372h8.28v1.2h-8.28zM133.31 373.15h8.28v1.2h-8.28zM133.31 374.3h8.28v1.2h-8.28zM100.4 375.45h8.28v1.2h-8.28zM75.71 377.75h8.28v1.2h-8.28zM83.94 377.75h8.28v1.2h-8.28zM100.4 377.75h8.28v1.2h-8.28zM108.63 377.75h8.28v1.2h-8.28zM125.09 377.75h8.28v1.2h-8.28zM75.71 378.9h8.28v1.2h-8.28zM100.4 378.9h8.28v1.2h-8.28zM116.86 378.9h8.28v1.2h-8.28zM125.09 378.9h8.28v1.2h-8.28zM75.71 381.2h8.28v1.2h-8.28zM92.17 381.2h8.28v1.2h-8.28zM75.71 383.5h8.28v1.2h-8.28zM75.71 384.65h8.28v1.2h-8.28zM75.71 385.8h8.28v1.2h-8.28zM92.17 385.8h8.28v1.2h-8.28zM108.63 385.8h8.28v1.2h-8.28zM116.86 385.8h8.28v1.2h-8.28zM75.71 386.95h8.28v1.2h-8.28zM100.4 386.95h8.28v1.2h-8.28zM108.63 386.95h8.28v1.2h-8.28zM83.94 388.1h8.28v1.2h-8.28zM116.86 388.1h8.28v1.2h-8.28zM133.31 388.1h8.28v1.2h-8.28zM67.49 389.25h8.28v1.2h-8.28zM83.94 389.25h8.28v1.2h-8.28zM116.86 389.25h8.28v1.2h-8.28zM92.17 390.4h8.28v1.2h-8.28zM125.09 390.4h8.28v1.2h-8.28zM116.86 391.55h8.28v1.2h-8.28zM133.31 391.55h8.28v1.2h-8.28zM75.71 392.7h8.28v1.2h-8.28zM125.09 392.7h8.28v1.2h-8.28zM83.94 395h8.28v1.2h-8.28zM100.4 395h8.28v1.2h-8.28zM108.63 395h8.28v1.2h-8.28zM116.86 395h8.28v1.2h-8.28zM125.09 395h8.28v1.2h-8.28zM75.71 396.15h8.28v1.2h-8.28zM83.94 396.15h8.28v1.2h-8.28zM125.09 396.15h8.28v1.2h-8.28zM75.71 399.6h8.28v1.2h-8.28zM133.31 400.75h8.28v1.2h-8.28zM51.03 403.9h8.28v1.19h-8.28zM67.49 403.9h8.28v1.19h-8.28zM83.94 403.9h8.28v1.19h-8.28zM92.17 403.9h8.28v1.19h-8.28zM42.8 405.04h8.28v1.19h-8.28zM51.03 405.04h8.28v1.19h-8.28zM83.94 407.32h8.28v1.19h-8.28zM92.17 409.6h8.28v1.19h-8.28zM92.17 410.74h8.28v1.19h-8.28zM83.94 411.88h8.28v1.19h-8.28zM75.71 413.02h8.28v1.19h-8.28zM92.17 414.15h8.28v1.19h-8.28zM83.94 415.29h8.28v1.19h-8.28zM92.17 415.29h8.28v1.19h-8.28zM100.4 416.43h8.28v1.19h-8.28zM75.71 417.57h8.28v1.19h-8.28zM92.17 417.57h8.28v1.19h-8.28zM83.94 418.71h8.28v1.19h-8.28zM51.03 420.99h8.28v1.19h-8.28zM75.71 422.13h8.28v1.19h-8.28zM116.86 422.13h8.28v1.19h-8.28zM67.49 425.55h8.28v1.19h-8.28zM75.71 425.55h8.28v1.19h-8.28zM83.94 425.55h8.28v1.19h-8.28zM51.03 426.69h8.28v1.19h-8.28zM59.26 426.69h8.28v1.19h-8.28zM75.71 426.69h8.28v1.19h-8.28zM83.94 426.69h8.28v1.19h-8.28zM92.17 427.83h8.28v1.19h-8.28zM51.03 431.25h8.28v1.19h-8.28zM92.17 432.38h8.28v1.19h-8.28zM83.94 433.52h8.28v1.19h-8.28zM92.17 433.52h8.28v1.19h-8.28zM51.03 434.66h8.28v1.19h-8.28zM92.17 436.94h8.28v1.19h-8.28zM51.03 438.08h8.28v1.19h-8.28zM83.94 440.36h8.28v1.19h-8.28zM92.17 440.36h8.28v1.19h-8.28z"/>
<path fill="rgb(248,204,207)" d="M108.63 213.46h8.28v1.2h-8.28zM116.86 214.62h8.28v1.2h-8.28zM125.09 214.62h8.28v1.2h-8.28zM133.31 214.62h8.28v1.2h-8.28zM100.4 215.77h8.28v1.2h-8.28zM108.63 215.77h8.28v1.2h-8.28zM116.86 216.93h8.28v1.2h-8.28zM141.54 216.93h8.28v1.2h-8.28zM141.54 218.08h8.28v1.2h-8.28zM149.77 218.08h8.28v1.2h-8.28zM108.63 219.24h8.28v1.2h-8.28zM116.86 220.39h8.28v1.2h-8.28zM141.54 225.01h8.28v1.2h-8.28zM125.09 226.17h8.28v1.2h-8.28zM116.86 227.32h8.28v1.2h-8.28zM108.63 228.48h8.28v1.2h-8.28zM92.17 234.25h8.28v1.2h-8.28zM108.63 235.41h8.28v1.2h-8.28zM116.86 235.41h8.28v1.2h-8.28zM100.4 236.56h8.28v1.2h-8.28zM108.63 237.72h8.28v1.2h-8.28zM125.09 240.03h8.28v1.2h-8.28zM133.31 240.03h8.28v1.2h-8.28zM141.54 240.03h8.28v1.2h-8.28zM141.54 241.18h8.28v1.2h-8.28zM149.77 242.34h8.28v1.2h-8.28zM125.09 243.49h8.28v1.2h-8.28zM100.4 245.8h8.28v1.2h-8.28zM108.63 245.8h8.28v1.2h-8.28zM125.09 246.96h8.28v1.2h-8.28zM116.86 249.27h8.28v1.2h-8.28zM125.09 250.42h8.28v1.2h-8.28zM100.4 252.73h8.28v1.2h-8.28zM149.77 252.73h8.28v1.2h-8.28zM100.4 257.35h8.28v1.2h-8.28zM108.63 257.35h8.28v1.2h-8.28zM125.09 257.35h8.28v1.2h-8.28zM133.31 257.35h8.28v1.2h-8.28zM108.63 258.51h8.28v1.2h-8.28zM133.31 259.66h8.28v1.2h-8.28zM141.54 260.82h8.28v1.2h-8.28zM133.31 261.97h8.28v1.2h-8.28zM108.63 264.28h8.28v1.2h-8.28zM141.54 266.59h8.28v1.2h-8.28zM149.77 266.59h8.28v1.2h-8.28zM108.63 270.9h8.28v1.2h-8.28zM116.86 270.9h8.28v1.2h-8.28zM125.09 270.9h8.28v1.2h-8.28zM116.86 272.05h8.28v1.2h-8.28zM133.31 272.05h8.28v1.2h-8.28zM125.09 273.19h8.28v1.2h-8.28zM125.09 274.34h8.28v1.2h-8.28zM125.09 278.92h8.28v1.2h-8.28zM133.31 281.21h8.28v1.2h-8.28zM116.86 282.35h8.28v1.2h-8.28zM125.09 282.35h8.28v1.2h-8.28zM108.63 283.5h8.28v1.2h-8.28zM125.09 283.5h8.28v1.2h-8.28zM125.09 285.79h8.28v1.2h-8.28zM125.09 288.08h8.28v1.2h-8.28zM133.31 288.08h8.28v1.2h-8.28zM125.09 289.23h8.28v1.2h-8.28zM141.54 289.23h8.28v1.2h-8.28zM133.31 290.37h8.28v1.2h-8.28zM141.54 293.81h8.28v1.2h-8.28zM125.09 294.95h8.28v1.2h-8.28zM133.31 296.1h8.28v1.2h-8.28zM133.31 297.25h8.28v1.2h-8.28zM116.86 298.39h8.28v1.2h-8.28zM125.09 299.54h8.28v1.2h-8.28zM133.31 299.54h8.28v1.2h-8.28zM125.09 301.83h8.28v1.2h-8.28zM133.31 304.12h8.28v1.2h-8.28zM116.86 305.26h8.28v1.2h-8.28zM125.09 308.7h8.28v1.2h-8.28zM133.31 309.85h8.28v1.2h-8.28zM116.86 310.99h8.28v1.2h-8.28zM116.86 312.14h8.28v1.2h-8.28zM133.31 312.14h8.28v1.2h-8.28zM125.09 314.43h8.28v1.2h-8.28zM116.86 316.72h8.28v1.2h-8.28zM125.09 316.72h8.28v1.2h-8.28zM133.31 317.86h8.28v1.2h-8.28zM125.09 319.01h8.28v1.2h-8.28zM125.09 320.15h8.28v1.2h-8.28zM116.86 321.3h8.28v1.2h-8.28zM116.86 322.45h8.28v1.2h-8.28zM125.09 324.74h8.28v1.2h-8.28zM133.31 324.74h8.28v1.2h-8.28zM116.86 330.46h8.28v1.2h-8.28zM133.31 330.46h8.28v1.2h-8.28zM83.94 333.9h8.28v1.2h-8.28zM125.09 333.9h8.28v1.2h-8.28zM133.31 333.9h8.28v1.2h-8.28zM133.31 335.05h8.28v1.2h-8.28zM125.09 338.48h8.28v1.2h-8.28zM133.31 338.48h8.28v1.2h-8.28zM125.09 339.63h8.28v1.2h-8.28zM133.31 339.63h8.28v1.2h-8.28zM133.31 343.06h8.28v1.2h-8.28zM116.86 349h8.28v1.2h-8.28zM125.09 349h8.28v1.2h-8.28zM92.17 350.15h8.28v1.2h-8.28zM100.4 350.15h8.28v1.2h-8.28zM100.4 351.3h8.28v1.2h-8.28zM108.63 351.3h8.28v1.2h-8.28zM108.63 352.45h8.28v1.2h-8.28zM116.86 352.45h8.28v1.2h-8.28zM83.94 353.6h8.28v1.2h-8.28zM108.63 353.6h8.28v1.2h-8.28zM125.09 353.6h8.28v1.2h-8.28zM83.94 354.75h8.28v1.2h-8.28zM116.86 354.75h8.28v1.2h-8.28zM83.94 355.9h8.28v1.2h-8.28zM100.4 355.9h8.28v1.2h-8.28zM108.63 355.9h8.28v1.2h-8.28zM100.4 358.2h8.28v1.2h-8.28zM108.63 358.2h8.28v1.2h-8.28zM92.17 359.35h8.28v1.2h-8.28zM100.4 360.5h8.28v1.2h-8.28zM116.86 360.5h8.28v1.2h-8.28zM100.4 361.65h8.28v1.2h-8.28zM75.71 362.8h8.28v1.2h-8.28zM100.4 362.8h8.28v1.2h-8.28zM100.4 365.1h8.28v1.2h-8.28zM83.94 366.25h8.28v1.2h-8.28zM100.4 366.25h8.28v1.2h-8.28zM108.63 366.25h8.28v1.2h-8.28zM92.17 367.4h8.28v1.2h-8.28zM108.63 367.4h8.28v1.2h-8.28zM92.17 368.55h8.28v1.2h-8.28zM116.86 368.55h8.28v1.2h-8.28zM133.31 368.55h8.28v1.2h-8.28zM116.86 369.7h8.28v1.2h-8.28zM92.17 373.15h8.28v1.2h-8.28zM100.4 373.15h8.28v1.2h-8.28zM116.86 373.15h8.28v1.2h-8.28zM125.09 373.15h8.28v1.2h-8.28zM75.71 376.6h8.28v1.2h-8.28zM100.4 376.6h8.28v1.2h-8.28zM83.94 378.9h8.28v1.2h-8.28zM92.17 380.05h8.28v1.2h-8.28zM83.94 381.2h8.28v1.2h-8.28zM108.63 381.2h8.28v1.2h-8.28zM116.86 381.2h8.28v1.2h-8.28zM75.71 382.35h8.28v1.2h-8.28zM100.4 382.35h8.28v1.2h-8.28zM125.09 382.35h8.28v1.2h-8.28zM133.31 383.5h8.28v1.2h-8.28zM125.09 384.65h8.28v1.2h-8.28zM100.4 385.8h8.28v1.2h-8.28zM83.94 386.95h8.28v1.2h-8.28zM116.86 386.95h8.28v1.2h-8.28zM75.71 388.1h8.28v1.2h-8.28zM92.17 388.1h8.28v1.2h-8.28zM125.09 388.1h8.28v1.2h-8.28zM75.71 389.25h8.28v1.2h-8.28zM108.63 389.25h8.28v1.2h-8.28zM100.4 390.4h8.28v1.2h-8.28zM116.86 390.4h8.28v1.2h-8.28zM92.17 391.55h8.28v1.2h-8.28zM108.63 391.55h8.28v1.2h-8.28zM83.94 392.7h8.28v1.2h-8.28zM83.94 393.85h8.28v1.2h-8.28zM125.09 393.85h8.28v1.2h-8.28zM75.71 395h8.28v1.2h-8.28zM108.63 396.15h8.28v1.2h-8.28zM100.4 397.3h8.28v1.2h-8.28zM75.71 398.45h8.28v1.2h-8.28zM108.63 398.45h8.28v1.2h-8.28zM108.63 399.6h8.28v1.2h-8.28zM116.86 399.6h8.28v1.2h-8.28zM125.09 399.6h8.28v1.2h-8.28zM75.71 405.04h8.28v1.19h-8.28zM92.17 405.04h8.28v1.19h-8.28zM51.03 406.18h8.28v1.19h-8.28zM83.94 406.18h8.28v1.19h-8.28zM92.17 406.18h8.28v1.19h-8.28zM92.17 408.46h8.28v1.19h-8.28zM51.03 410.74h8.28v1.19h-8.28zM92.17 411.88h8.28v1.19h-8.28zM92.17 413.02h8.28v1.19h-8.28zM75.71 414.15h8.28v1.19h-8.28zM51.03 415.29h8.28v1.19h-8.28zM92.17 416.43h8.28v1.19h-8.28zM51.03 417.57h8.28v1.19h-8.28zM83.94 417.57h8.28v1.19h-8.28zM59.26 418.71h8.28v1.19h-8.28zM75.71 418.71h8.28v1.19h-8.28zM51.03 419.85h8.28v1.19h-8.28zM83.94 419.85h8.28v1.19h-8.28zM75.71 420.99h8.28v1.19h-8.28zM51.03 422.13h8.28v1.19h-8.28zM67.49 422.13h8.28v1.19h-8.28zM92.17 423.27h8.28v1.19h-8.28zM92.17 426.69h8.28v1.19h-8.28zM83.94 427.83h8.28v1.19h-8.28zM51.03 428.97h8.28v1.19h-8.28zM59.26 430.11h8.28v1.19h-8.28zM67.49 431.25h8.28v1.19h-8.28zM75.71 431.25h8.28v1.19h-8.28zM83.94 431.25h8.28v1.19h-8.28zM83.94 432.38h8.28v1.19h-8.28zM51.03 433.52h8.28v1.19h-8.28zM59.26 434.66h8.28v1.19h-8.28zM75.71 434.66h8.28v1.19h-8.28zM59.26 435.8h8.28v1.19h-8.28zM67.49 435.8h8.28v1.19h-8.28zM75.71 436.94h8.28v1.19h-8.28zM83.94 438.08h8.28v1.19h-8.28zM51.03 440.36h8.28v1.19h-8.28zM75.71 440.36h8.28v1.19h-8.28z"/>
<path fill="rgb(249,191,192)" d="M125.09 213.46h8.28v1.2h-8.28zM116.86 215.77h8.28v1.2h-8.28zM125.09 215.77h8.28v1.2h-8.28zM133.31 215.77h8.28v1.2h-8.28zM141.54 215.77h8.28v1.2h-8.28zM125.09 216.93h8.28v1.2h-8.28zM133.31 216.93h8.28v1.2h-8.28zM116.86 218.08h8.28v1.2h-8.28zM125.09 218.08h8.28v1.2h-8.28zM125.09 221.55h8.28v1.2h-8.28zM125.09 222.7h8.28v1.2h-8.28zM133.31 222.7h8.28v1.2h-8.28zM141.54 222.7h8.28v1.2h-8.28zM108.63 226.17h8.28v1.2h-8.28zM116.86 226.17h8.28v1.2h-8.28zM133.31 227.32h8.28v1.2h-8.28zM141.54 228.48h8.28v1.2h-8.28zM100.4 229.63h8.28v1.2h-8.28zM108.63 229.63h8.28v1.2h-8.28zM141.54 229.63h8.28v1.2h-8.28zM133.31 230.79h8.28v1.2h-8.28zM125.09 231.94h8.28v1.2h-8.28zM133.31 231.94h8.28v1.2h-8.28zM108.63 233.1h8.28v1.2h-8.28zM116.86 234.25h8.28v1.2h-8.28zM141.54 234.25h8.28v1.2h-8.28zM133.31 235.41h8.28v1.2h-8.28zM108.63 236.56h8.28v1.2h-8.28zM133.31 236.56h8.28v1.2h-8.28zM116.86 238.87h8.28v1.2h-8.28zM149.77 241.18h8.28v1.2h-8.28zM108.63 243.49h8.28v1.2h-8.28zM116.86 243.49h8.28v1.2h-8.28zM133.31 243.49h8.28v1.2h-8.28zM141.54 243.49h8.28v1.2h-8.28zM133.31 244.65h8.28v1.2h-8.28zM116.86 245.8h8.28v1.2h-8.28zM116.86 246.96h8.28v1.2h-8.28zM116.86 250.42h8.28v1.2h-8.28zM133.31 250.42h8.28v1.2h-8.28zM141.54 251.58h8.28v1.2h-8.28zM108.63 256.2h8.28v1.2h-8.28zM141.54 256.2h8.28v1.2h-8.28zM133.31 266.59h8.28v1.2h-8.28zM125.09 272.05h8.28v1.2h-8.28zM133.31 273.19h8.28v1.2h-8.28zM133.31 274.34h8.28v1.2h-8.28zM116.86 276.63h8.28v1.2h-8.28zM133.31 276.63h8.28v1.2h-8.28zM125.09 280.06h8.28v1.2h-8.28zM133.31 280.06h8.28v1.2h-8.28zM133.31 282.35h8.28v1.2h-8.28zM133.31 285.79h8.28v1.2h-8.28zM133.31 289.23h8.28v1.2h-8.28zM125.09 291.52h8.28v1.2h-8.28zM133.31 292.66h8.28v1.2h-8.28zM149.77 293.81h8.28v1.2h-8.28zM125.09 300.68h8.28v1.2h-8.28zM133.31 302.97h8.28v1.2h-8.28zM133.31 305.26h8.28v1.2h-8.28zM125.09 306.41h8.28v1.2h-8.28zM141.54 313.28h8.28v1.2h-8.28zM133.31 314.43h8.28v1.2h-8.28zM125.09 315.57h8.28v1.2h-8.28zM133.31 323.59h8.28v1.2h-8.28zM116.86 324.74h8.28v1.2h-8.28zM133.31 327.03h8.28v1.2h-8.28zM133.31 329.32h8.28v1.2h-8.28zM133.31 332.75h8.28v1.2h-8.28zM133.31 336.19h8.28v1.2h-8.28zM116.86 340.77h8.28v1.2h-8.28zM133.31 340.77h8.28v1.2h-8.28zM133.31 341.92h8.28v1.2h-8.28zM141.54 344.21h8.28v1.2h-8.28zM141.54 345.35h8.28v1.2h-8.28zM92.17 354.75h8.28v1.2h-8.28zM92.17 355.9h8.28v1.2h-8.28zM116.86 359.35h8.28v1.2h-8.28zM83.94 360.5h8.28v1.2h-8.28zM92.17 361.65h8.28v1.2h-8.28zM116.86 361.65h8.28v1.2h-8.28zM83.94 363.95h8.28v1.2h-8.28zM92.17 365.1h8.28v1.2h-8.28zM108.63 368.55h8.28v1.2h-8.28zM125.09 369.7h8.28v1.2h-8.28zM133.31 369.7h8.28v1.2h-8.28zM83.94 370.85h8.28v1.2h-8.28zM83.94 373.15h8.28v1.2h-8.28zM108.63 373.15h8.28v1.2h-8.28zM92.17 374.3h8.28v1.2h-8.28zM100.4 374.3h8.28v1.2h-8.28zM108.63 374.3h8.28v1.2h-8.28zM116.86 374.3h8.28v1.2h-8.28zM125.09 374.3h8.28v1.2h-8.28zM116.86 376.6h8.28v1.2h-8.28zM92.17 377.75h8.28v1.2h-8.28zM116.86 377.75h8.28v1.2h-8.28zM125.09 383.5h8.28v1.2h-8.28zM83.94 384.65h8.28v1.2h-8.28zM92.17 386.95h8.28v1.2h-8.28zM100.4 389.25h8.28v1.2h-8.28zM108.63 390.4h8.28v1.2h-8.28zM100.4 391.55h8.28v1.2h-8.28zM108.63 392.7h8.28v1.2h-8.28zM116.86 392.7h8.28v1.2h-8.28zM116.86 393.85h8.28v1.2h-8.28zM116.86 396.15h8.28v1.2h-8.28zM83.94 398.45h8.28v1.2h-8.28zM92.17 398.45h8.28v1.2h-8.28zM116.86 398.45h8.28v1.2h-8.28zM83.94 400.75h8.28v1.2h-8.28zM125.09 400.75h8.28v1.2h-8.28zM59.26 405.04h8.28v1.19h-8.28zM67.49 405.04h8.28v1.19h-8.28zM51.03 407.32h8.28v1.19h-8.28zM83.94 408.46h8.28v1.19h-8.28zM59.26 410.74h8.28v1.19h-8.28zM83.94 410.74h8.28v1.19h-8.28zM51.03 411.88h8.28v1.19h-8.28zM51.03 413.02h8.28v1.19h-8.28zM59.26 413.02h8.28v1.19h-8.28zM59.26 414.15h8.28v1.19h-8.28zM75.71 415.29h8.28v1.19h-8.28zM75.71 416.43h8.28v1.19h-8.28zM67.49 418.71h8.28v1.19h-8.28zM59.26 420.99h8.28v1.19h-8.28zM67.49 420.99h8.28v1.19h-8.28zM51.03 423.27h8.28v1.19h-8.28zM92.17 424.41h8.28v1.19h-8.28zM51.03 425.55h8.28v1.19h-8.28zM59.26 425.55h8.28v1.19h-8.28zM83.94 428.97h8.28v1.19h-8.28zM92.17 428.97h8.28v1.19h-8.28zM83.94 430.11h8.28v1.19h-8.28zM59.26 431.25h8.28v1.19h-8.28zM92.17 431.25h8.28v1.19h-8.28zM75.71 432.38h8.28v1.19h-8.28zM67.49 436.94h8.28v1.19h-8.28zM59.26 438.08h8.28v1.19h-8.28zM75.71 438.08h8.28v1.19h-8.28zM51.03 439.22h8.28v1.19h-8.28z"/>
<path fill="rgb(250,178,178)" d="M108.63 210h8.28v1.2h-8.28zM125.09 210h8.28v1.2h-8.28zM108.63 211.15h8.28v1.2h-8.28zM125.09 211.15h8.28v1.2h-8.28zM133.31 211.15h8.28v1.2h-8.28zM141.54 211.15h8.28v1.2h-8.28zM108.63 212.31h8.28v1.2h-8.28zM116.86 213.46h8.28v1.2h-8.28zM141.54 213.46h8.28v1.2h-8.28zM141.54 214.62h8.28v1.2h-8.28zM116.86 222.7h8.28v1.2h-8.28zM116.86 223.86h8.28v1.2h-8.28zM141.54 223.86h8.28v1.2h-8.28zM116.86 225.01h8.28v1.2h-8.28zM125.09 225.01h8.28v1.2h-8.28zM133.31 225.01h8.28v1.2h-8.28zM133.31 226.17h8.28v1.2h-8.28zM141.54 226.17h8.28v1.2h-8.28zM125.09 227.32h8.28v1.2h-8.28zM125.09 229.63h8.28v1.2h-8.28zM133.31 229.63h8.28v1.2h-8.28zM141.54 230.79h8.28v1.2h-8.28zM149.77 230.79h8.28v1.2h-8.28zM133.31 233.1h8.28v1.2h-8.28zM141.54 233.1h8.28v1.2h-8.28zM125.09 234.25h8.28v1.2h-8.28zM141.54 236.56h8.28v1.2h-8.28zM116.86 237.72h8.28v1.2h-8.28zM125.09 238.87h8.28v1.2h-8.28zM116.86 242.34h8.28v1.2h-8.28zM125.09 242.34h8.28v1.2h-8.28zM116.86 244.65h8.28v1.2h-8.28zM125.09 244.65h8.28v1.2h-8.28zM141.54 244.65h8.28v1.2h-8.28zM108.63 248.11h8.28v1.2h-8.28zM116.86 248.11h8.28v1.2h-8.28zM125.09 248.11h8.28v1.2h-8.28zM125.09 251.58h8.28v1.2h-8.28zM133.31 251.58h8.28v1.2h-8.28zM108.63 253.89h8.28v1.2h-8.28zM133.31 255.04h8.28v1.2h-8.28zM116.86 257.35h8.28v1.2h-8.28zM116.86 259.66h8.28v1.2h-8.28zM125.09 259.66h8.28v1.2h-8.28zM116.86 265.44h8.28v1.2h-8.28zM125.09 265.44h8.28v1.2h-8.28zM116.86 266.59h8.28v1.2h-8.28zM133.31 270.9h8.28v1.2h-8.28zM149.77 274.34h8.28v1.2h-8.28zM149.77 275.48h8.28v1.2h-8.28zM125.09 276.63h8.28v1.2h-8.28zM133.31 278.92h8.28v1.2h-8.28zM141.54 281.21h8.28v1.2h-8.28zM149.77 281.21h8.28v1.2h-8.28zM133.31 283.5h8.28v1.2h-8.28zM133.31 286.94h8.28v1.2h-8.28zM141.54 296.1h8.28v1.2h-8.28zM133.31 300.68h8.28v1.2h-8.28zM133.31 301.83h8.28v1.2h-8.28zM125.09 305.26h8.28v1.2h-8.28zM133.31 306.41h8.28v1.2h-8.28zM141.54 307.55h8.28v1.2h-8.28zM125.09 309.85h8.28v1.2h-8.28zM125.09 310.99h8.28v1.2h-8.28zM125.09 312.14h8.28v1.2h-8.28zM141.54 312.14h8.28v1.2h-8.28zM133.31 315.57h8.28v1.2h-8.28zM149.77 319.01h8.28v1.2h-8.28zM125.09 321.3h8.28v1.2h-8.28zM141.54 324.74h8.28v1.2h-8.28zM125.09 327.03h8.28v1.2h-8.28zM125.09 330.46h8.28v1.2h-8.28zM125.09 331.61h8.28v1.2h-8.28zM141.54 335.05h8.28v1.2h-8.28zM125.09 336.19h8.28v1.2h-8.28zM125.09 340.77h8.28v1.2h-8.28zM149.77 344.21h8.28v1.2h-8.28zM108.63 350.15h8.28v1.2h-8.28zM92.17 351.3h8.28v1.2h-8.28zM83.94 352.45h8.28v1.2h-8.28zM92.17 353.6h8.28v1.2h-8.28zM100.4 353.6h8.28v1.2h-8.28zM92.17 360.5h8.28v1.2h-8.28zM108.63 360.5h8.28v1.2h-8.28zM108.63 361.65h8.28v1.2h-8.28zM92.17 362.8h8.28v1.2h-8.28zM108.63 365.1h8.28v1.2h-8.28zM125.09 365.1h8.28v1.2h-8.28zM92.17 366.25h8.28v1.2h-8.28zM100.4 370.85h8.28v1.2h-8.28zM108.63 370.85h8.28v1.2h-8.28zM83.94 376.6h8.28v1.2h-8.28zM92.17 376.6h8.28v1.2h-8.28zM108.63 376.6h8.28v1.2h-8.28zM92.17 378.9h8.28v1.2h-8.28zM83.94 382.35h8.28v1.2h-8.28zM92.17 382.35h8.28v1.2h-8.28zM100.4 383.5h8.28v1.2h-8.28zM108.63 383.5h8.28v1.2h-8.28zM116.86 383.5h8.28v1.2h-8.28zM92.17 384.65h8.28v1.2h-8.28zM108.63 384.65h8.28v1.2h-8.28zM116.86 384.65h8.28v1.2h-8.28zM125.09 386.95h8.28v1.2h-8.28zM92.17 389.25h8.28v1.2h-8.28zM92.17 392.7h8.28v1.2h-8.28zM100.4 392.7h8.28v1.2h-8.28zM100.4 393.85h8.28v1.2h-8.28zM92.17 395h8.28v1.2h-8.28zM83.94 399.6h8.28v1.2h-8.28zM100.4 399.6h8.28v1.2h-8.28zM100.4 400.75h8.28v1.2h-8.28zM59.26 403.9h8.28v1.19h-8.28zM83.94 405.04h8.28v1.19h-8.28zM67.49 407.32h8.28v1.19h-8.28zM75.71 407.32h8.28v1.19h-8.28zM51.03 408.46h8.28v1.19h-8.28zM51.03 409.6h8.28v1.19h-8.28zM83.94 409.6h8.28v1.19h-8.28zM75.71 411.88h8.28v1.19h-8.28zM67.49 413.02h8.28v1.19h-8.28zM83.94 413.02h8.28v1.19h-8.28zM51.03 414.15h8.28v1.19h-8.28zM67.49 415.29h8.28v1.19h-8.28zM83.94 416.43h8.28v1.19h-8.28zM67.49 417.57h8.28v1.19h-8.28zM75.71 419.85h8.28v1.19h-8.28zM59.26 422.13h8.28v1.19h-8.28zM83.94 423.27h8.28v1.19h-8.28zM59.26 424.41h8.28v1.19h-8.28zM83.94 424.41h8.28v1.19h-8.28zM51.03 427.83h8.28v1.19h-8.28zM75.71 427.83h8.28v1.19h-8.28zM59.26 428.97h8.28v1.19h-8.28zM67.49 430.11h8.28v1.19h-8.28zM75.71 430.11h8.28v1.19h-8.28zM51.03 432.38h8.28v1.19h-8.28zM67.49 434.66h8.28v1.19h-8.28zM51.03 435.8h8.28v1.19h-8.28zM59.26 436.94h8.28v1.19h-8.28zM67.49 438.08h8.28v1.19h-8.28zM59.26 440.36h8.28v1.19h-8.28zM67.49 440.36h8.28v1.19h-8.28z"/>
<path fill="rgb(249,162,162)" d="M116.86 210h8.28v1.2h-8.28zM116.86 211.15h8.28v1.2h-8.28zM125.09 212.31h8.28v1.2h-8.28zM133.31 212.31h8.28v1.2h-8.28zM141.54 212.31h8.28v1.2h-8.28zM133.31 213.46h8.28v1.2h-8.28zM116.86 219.24h8.28v1.2h-8.28zM133.31 219.24h8.28v1.2h-8.28zM141.54 219.24h8.28v1.2h-8.28zM125.09 220.39h8.28v1.2h-8.28zM133.31 220.39h8.28v1.2h-8.28zM133.31 223.86h8.28v1.2h-8.28zM116.86 228.48h8.28v1.2h-8.28zM125.09 228.48h8.28v1.2h-8.28zM133.31 228.48h8.28v1.2h-8.28zM116.86 230.79h8.28v1.2h-8.28zM125.09 230.79h8.28v1.2h-8.28zM125.09 233.1h8.28v1.2h-8.28zM125.09 236.56h8.28v1.2h-8.28zM125.09 237.72h8.28v1.2h-8.28zM141.54 237.72h8.28v1.2h-8.28zM133.31 242.34h8.28v1.2h-8.28zM141.54 245.8h8.28v1.2h-8.28zM133.31 248.11h8.28v1.2h-8.28zM116.86 251.58h8.28v1.2h-8.28zM108.63 252.73h8.28v1.2h-8.28zM125.09 252.73h8.28v1.2h-8.28zM141.54 252.73h8.28v1.2h-8.28zM141.54 253.89h8.28v1.2h-8.28zM116.86 255.04h8.28v1.2h-8.28zM141.54 255.04h8.28v1.2h-8.28zM116.86 256.2h8.28v1.2h-8.28zM116.86 258.51h8.28v1.2h-8.28zM125.09 258.51h8.28v1.2h-8.28zM133.31 258.51h8.28v1.2h-8.28zM116.86 263.13h8.28v1.2h-8.28zM125.09 263.13h8.28v1.2h-8.28zM133.31 263.13h8.28v1.2h-8.28zM133.31 264.28h8.28v1.2h-8.28zM141.54 264.28h8.28v1.2h-8.28zM141.54 265.44h8.28v1.2h-8.28zM108.63 267.75h8.28v1.2h-8.28zM141.54 273.19h8.28v1.2h-8.28zM133.31 291.52h8.28v1.2h-8.28zM141.54 292.66h8.28v1.2h-8.28zM133.31 294.95h8.28v1.2h-8.28zM149.77 296.1h8.28v1.2h-8.28zM141.54 297.25h8.28v1.2h-8.28zM133.31 298.39h8.28v1.2h-8.28zM141.54 308.7h8.28v1.2h-8.28zM133.31 310.99h8.28v1.2h-8.28zM149.77 313.28h8.28v1.2h-8.28zM141.54 317.86h8.28v1.2h-8.28zM133.31 321.3h8.28v1.2h-8.28zM149.77 324.74h8.28v1.2h-8.28zM149.77 335.05h8.28v1.2h-8.28zM141.54 341.92h8.28v1.2h-8.28zM141.54 343.06h8.28v1.2h-8.28zM83.94 362.8h8.28v1.2h-8.28zM116.86 365.1h8.28v1.2h-8.28zM92.17 370.85h8.28v1.2h-8.28zM125.09 376.6h8.28v1.2h-8.28zM108.63 382.35h8.28v1.2h-8.28zM116.86 382.35h8.28v1.2h-8.28zM83.94 383.5h8.28v1.2h-8.28zM92.17 383.5h8.28v1.2h-8.28zM92.17 393.85h8.28v1.2h-8.28zM108.63 393.85h8.28v1.2h-8.28zM92.17 399.6h8.28v1.2h-8.28zM92.17 400.75h8.28v1.2h-8.28zM67.49 406.18h8.28v1.19h-8.28zM75.71 406.18h8.28v1.19h-8.28zM59.26 407.32h8.28v1.19h-8.28zM75.71 410.74h8.28v1.19h-8.28zM59.26 411.88h8.28v1.19h-8.28zM67.49 411.88h8.28v1.19h-8.28zM67.49 414.15h8.28v1.19h-8.28zM59.26 415.29h8.28v1.19h-8.28zM51.03 416.43h8.28v1.19h-8.28zM67.49 416.43h8.28v1.19h-8.28zM59.26 417.57h8.28v1.19h-8.28zM59.26 419.85h8.28v1.19h-8.28zM51.03 424.41h8.28v1.19h-8.28zM75.71 428.97h8.28v1.19h-8.28zM59.26 433.52h8.28v1.19h-8.28zM75.71 433.52h8.28v1.19h-8.28z"/>
<path fill="rgb(248,147,147)" d="M133.31 210h8.28v1.2h-8.28zM116.86 212.31h8.28v1.2h-8.28zM125.09 219.24h8.28v1.2h-8.28zM141.54 220.39h8.28v1.2h-8.28zM125.09 223.86h8.28v1.2h-8.28zM116.86 229.63h8.28v1.2h-8.28zM116.86 236.56h8.28v1.2h-8.28zM133.31 237.72h8.28v1.2h-8.28zM141.54 242.34h8.28v1.2h-8.28zM125.09 245.8h8.28v1.2h-8.28zM116.86 252.73h8.28v1.2h-8.28zM133.31 252.73h8.28v1.2h-8.28zM116.86 253.89h8.28v1.2h-8.28zM133.31 253.89h8.28v1.2h-8.28zM125.09 255.04h8.28v1.2h-8.28zM125.09 256.2h8.28v1.2h-8.28zM133.31 256.2h8.28v1.2h-8.28zM141.54 258.51h8.28v1.2h-8.28zM141.54 263.13h8.28v1.2h-8.28zM133.31 265.44h8.28v1.2h-8.28zM125.09 266.59h8.28v1.2h-8.28zM116.86 267.75h8.28v1.2h-8.28zM141.54 267.75h8.28v1.2h-8.28zM141.54 274.34h8.28v1.2h-8.28zM141.54 275.48h8.28v1.2h-8.28zM141.54 277.77h8.28v1.2h-8.28zM141.54 280.06h8.28v1.2h-8.28zM141.54 283.5h8.28v1.2h-8.28zM141.54 284.65h8.28v1.2h-8.28zM141.54 290.37h8.28v1.2h-8.28zM141.54 305.26h8.28v1.2h-8.28zM149.77 305.26h8.28v1.2h-8.28zM149.77 307.55h8.28v1.2h-8.28zM141.54 310.99h8.28v1.2h-8.28zM149.77 312.14h8.28v1.2h-8.28zM141.54 314.43h8.28v1.2h-8.28zM133.31 319.01h8.28v1.2h-8.28zM141.54 320.15h8.28v1.2h-8.28zM141.54 322.45h8.28v1.2h-8.28zM141.54 323.59h8.28v1.2h-8.28zM141.54 327.03h8.28v1.2h-8.28zM141.54 328.17h8.28v1.2h-8.28zM141.54 332.75h8.28v1.2h-8.28zM141.54 338.48h8.28v1.2h-8.28zM141.54 339.63h8.28v1.2h-8.28zM149.77 345.35h8.28v1.2h-8.28zM100.4 354.75h8.28v1.2h-8.28zM108.63 400.75h8.28v1.2h-8.28zM116.86 400.75h8.28v1.2h-8.28zM59.26 406.18h8.28v1.19h-8.28zM75.71 408.46h8.28v1.19h-8.28zM75.71 409.6h8.28v1.19h-8.28zM67.49 410.74h8.28v1.19h-8.28zM67.49 419.85h8.28v1.19h-8.28zM67.49 423.27h8.28v1.19h-8.28zM75.71 423.27h8.28v1.19h-8.28zM59.26 427.83h8.28v1.19h-8.28zM67.49 427.83h8.28v1.19h-8.28zM67.49 428.97h8.28v1.19h-8.28zM59.26 432.38h8.28v1.19h-8.28zM67.49 432.38h8.28v1.19h-8.28z"/>
<path fill="rgb(247,131,131)" d="M133.31 245.8h8.28v1.2h-8.28zM141.54 248.11h8.28v1.2h-8.28zM125.09 253.89h8.28v1.2h-8.28zM116.86 264.28h8.28v1.2h-8.28zM141.54 270.9h8.28v1.2h-8.28zM141.54 276.63h8.28v1.2h-8.28zM141.54 282.35h8.28v1.2h-8.28zM141.54 286.94h8.28v1.2h-8.28zM141.54 288.08h8.28v1.2h-8.28zM149.77 291.52h8.28v1.2h-8.28zM141.54 299.54h8.28v1.2h-8.28zM149.77 299.54h8.28v1.2h-8.28zM141.54 306.41h8.28v1.2h-8.28zM141.54 315.57h8.28v1.2h-8.28zM149.77 315.57h8.28v1.2h-8.28zM141.54 316.72h8.28v1.2h-8.28zM149.77 316.72h8.28v1.2h-8.28zM141.54 325.88h8.28v1.2h-8.28zM141.54 329.32h8.28v1.2h-8.28zM149.77 329.32h8.28v1.2h-8.28zM141.54 333.9h8.28v1.2h-8.28zM149.77 333.9h8.28v1.2h-8.28zM149.77 343.06h8.28v1.2h-8.28zM108.63 354.75h8.28v1.2h-8.28zM59.26 408.46h8.28v1.19h-8.28zM67.49 408.46h8.28v1.19h-8.28zM59.26 409.6h8.28v1.19h-8.28zM67.49 409.6h8.28v1.19h-8.28zM59.26 416.43h8.28v1.19h-8.28zM59.26 423.27h8.28v1.19h-8.28zM67.49 424.41h8.28v1.19h-8.28zM67.49 433.52h8.28v1.19h-8.28z"/>
<path fill="rgb(246,116,116)" d="M141.54 210h8.28v1.2h-8.28zM116.86 233.1h8.28v1.2h-8.28zM125.09 267.75h8.28v1.2h-8.28zM133.31 267.75h8.28v1.2h-8.28zM149.77 273.19h8.28v1.2h-8.28zM141.54 278.92h8.28v1.2h-8.28zM141.54 285.79h8.28v1.2h-8.28zM141.54 291.52h8.28v1.2h-8.28zM141.54 294.95h8.28v1.2h-8.28zM149.77 294.95h8.28v1.2h-8.28zM149.77 297.25h8.28v1.2h-8.28zM141.54 298.39h8.28v1.2h-8.28zM141.54 300.68h8.28v1.2h-8.28zM141.54 301.83h8.28v1.2h-8.28zM141.54 302.97h8.28v1.2h-8.28zM149.77 302.97h8.28v1.2h-8.28zM141.54 304.12h8.28v1.2h-8.28zM149.77 308.7h8.28v1.2h-8.28zM141.54 309.85h8.28v1.2h-8.28zM149.77 317.86h8.28v1.2h-8.28zM141.54 319.01h8.28v1.2h-8.28zM149.77 323.59h8.28v1.2h-8.28zM149.77 327.03h8.28v1.2h-8.28zM133.31 331.61h8.28v1.2h-8.28zM149.77 338.48h8.28v1.2h-8.28zM141.54 340.77h8.28v1.2h-8.28zM75.71 424.41h8.28v1.19h-8.28z"/>
<path fill="rgb(245,100,100)" d="M125.09 264.28h8.28v1.2h-8.28zM149.77 276.63h8.28v1.2h-8.28zM149.77 277.77h8.28v1.2h-8.28zM149.77 283.5h8.28v1.2h-8.28zM149.77 284.65h8.28v1.2h-8.28zM149.77 285.79h8.28v1.2h-8.28zM149.77 289.23h8.28v1.2h-8.28zM149.77 292.66h8.28v1.2h-8.28zM149.77 301.83h8.28v1.2h-8.28zM149.77 310.99h8.28v1.2h-8.28zM149.77 328.17h8.28v1.2h-8.28zM141.54 330.46h8.28v1.2h-8.28zM141.54 331.61h8.28v1.2h-8.28zM149.77 332.75h8.28v1.2h-8.28zM141.54 336.19h8.28v1.2h-8.28zM149.77 341.92h8.28v1.2h-8.28z"/>
<path fill="rgb(244,86,87)" d="M141.54 272.05h8.28v1.2h-8.28zM149.77 290.37h8.28v1.2h-8.28zM149.77 298.39h8.28v1.2h-8.28zM149.77 304.12h8.28v1.2h-8.28zM149.77 309.85h8.28v1.2h-8.28zM149.77 314.43h8.28v1.2h-8.28zM141.54 321.3h8.28v1.2h-8.28zM149.77 322.45h8.28v1.2h-8.28z"/>
<path fill="rgb(243,72,74)" d="M149.77 270.9h8.28v1.2h-8.28zM149.77 278.92h8.28v1.2h-8.28zM149.77 286.94h8.28v1.2h-8.28zM149.77 288.08h8.28v1.2h-8.28zM149.77 320.15h8.28v1.2h-8.28zM149.77 325.88h8.28v1.2h-8.28zM149.77 330.46h8.28v1.2h-8.28zM149.77 331.61h8.28v1.2h-8.28zM149.77 340.77h8.28v1.2h-8.28z"/>
<path fill="rgb(242,58,60)" d="M149.77 280.06h8.28v1.2h-8.28zM149.77 282.35h8.28v1.2h-8.28zM149.77 336.19h8.28v1.2h-8.28zM149.77 339.63h8.28v1.2h-8.28z"/>
<path fill="rgb(241,44,47)" d="M149.77 272.05h8.28v1.2h-8.28zM149.77 300.68h8.28v1.2h-8.28zM149.77 306.41h8.28v1.2h-8.28zM149.77 321.3h8.28v1.2h-8.28z"/>
<path fill="none" stroke="#000" stroke-width="0.6" d="M35.8 209.98H29.51V210.41H35.8M35.8 210.84H28.66V211.28H35.8M35.8 211.71H29.81V212.14H35.8M35.8 213.01H31.13V213.44H35.8M35.8 212.58H29.43V213.23H31.13M29.81 211.93H28.13V212.9H29.43M28.66 211.06H27.61V212.42H28.13M29.51 210.19H25.8V211.74H27.61M35.8 214.75H30.24V215.18H35.8M35.8 214.31H29.32V214.96H30.24M35.8 213.88H27.07V214.64H29.32M35.8 217.35H31.65V217.78H35.8M35.8 216.91H31.13V217.56H31.65M35.8 216.48H30.98V217.24H31.13M35.8 216.05H30.55V216.86H30.98M35.8 215.61H29.46V216.45H30.55M35.8 218.21H31.69V218.65H35.8M35.8 219.08H30.89V219.51H35.8M31.69 218.43H29.28V219.3H30.89M29.46 216.03H28.68V218.86H29.28M35.8 220.81H30.52V221.25H35.8M35.8 220.38H29.96V221.03H30.52M35.8 219.95H28.65V220.7H29.96M35.8 222.11H31.76V222.55H35.8M35.8 222.98H30.73V223.41H35.8M31.76 222.33H30.29V223.2H30.73M35.8 221.68H30.06V222.76H30.29M35.8 223.85H29.73V224.28H35.8M30.06 222.22H28.05V224.06H29.73M28.65 220.33H27.72V223.14H28.05M28.68 217.45H25.94V221.73H27.72M27.07 214.26H25.46V219.59H25.94M25.8 210.97H25V216.92H25.46M35.8 225.58H30.86V226.01H35.8M35.8 225.15H29.82V225.8H30.86M35.8 226.88H31.29V227.31H35.8M35.8 226.45H29.63V227.1H31.29M35.8 228.18H30.35V228.61H35.8M35.8 227.75H28.83V228.4H30.35M29.63 226.77H28.14V228.07H28.83M29.82 225.47H27.04V227.42H28.14M35.8 224.71H26.09V226.45H27.04M35.8 229.48H30.26V229.91H35.8M35.8 229.05H30.04V229.7H30.26M35.8 230.35H31.08V230.78H35.8M35.8 231.22H30.48V231.65H35.8M31.08 230.56H29.54V231.43H30.48M30.04 229.37H28.05V231H29.54M35.8 232.08H29.95V232.52H35.8M35.8 232.95H29.41V233.38H35.8M29.95 232.3H28.62V233.17H29.41M35.8 234.68H30.81V235.12H35.8M35.8 234.25H29.75V234.9H30.81M35.8 233.82H28.24V234.57H29.75M35.8 235.55H28.87V235.98H35.8M35.8 236.85H31.57V237.28H35.8M35.8 237.72H30.45V238.15H35.8M31.57 237.07H29.72V237.93H30.45M35.8 236.42H27.78V237.5H29.72M28.87 235.77H27.1V236.96H27.78M28.24 234.19H26.34V236.36H27.1M28.62 232.73H25.73V235.28H26.34M28.05 230.19H24.16V234.01H25.73M26.09 225.58H23.02V232.1H24.16M25 213.95H21.99V228.84H23.02M35.8 239.02H30.12V239.45H35.8M35.8 238.58H27.62V239.23H30.12M35.8 239.88H30.3V240.32H35.8M35.8 240.75H30.19V241.18H35.8M30.3 240.1H29.38V240.97H30.19M35.8 242.05H30.12V242.48H35.8M35.8 241.62H29.5V242.27H30.12M35.8 243.35H31.45V243.78H35.8M35.8 244.22H30.74V244.65H35.8M31.45 243.57H30.09V244.43H30.74M35.8 242.92H28.17V244H30.09M29.5 241.94H27.61V243.46H28.17M29.38 240.53H26.9V242.7H27.61M35.8 245.08H30.59V245.52H35.8M35.8 245.95H29.72V246.38H35.8M35.8 246.82H29.54V247.25H35.8M29.72 246.17H29.21V247.03H29.54M30.59 245.3H27.96V246.6H29.21M35.8 247.68H28.74V248.12H35.8M35.8 248.55H30.98V248.99H35.8M35.8 249.85H30.52V250.29H35.8M35.8 249.42H30.37V250.07H30.52M30.98 248.77H28.8V249.74H30.37M35.8 251.15H30.84V251.59H35.8M35.8 250.72H30.66V251.37H30.84M35.8 252.45H31.25V252.89H35.8M35.8 252.02H30.16V252.67H31.25M30.66 251.04H28.46V252.34H30.16M28.8 249.26H28.06V251.69H28.46M28.74 247.9H26.81V250.48H28.06M27.96 245.95H25.08V249.19H26.81M26.9 241.62H24.63V247.57H25.08M27.62 238.91H24.11V244.59H24.63M35.8 254.19H30.41V254.62H35.8M35.8 253.75H30.23V254.4H30.41M35.8 253.32H29.62V254.08H30.23M35.8 255.05H28.61V255.49H35.8M29.62 253.7H28.34V255.27H28.61M35.8 255.92H29.85V256.35H35.8M35.8 257.22H30.48V257.65H35.8M35.8 256.79H28.61V257.44H30.48M29.85 256.14H27.95V257.11H28.61M28.34 254.48H26.96V256.62H27.95M35.8 258.52H30.61V258.95H35.8M35.8 260.25H30.85V260.69H35.8M35.8 259.82H30.48V260.47H30.85M35.8 259.39H29.69V260.15H30.48M30.61 258.74H29V259.77H29.69M35.8 261.12H29.89V261.55H35.8M35.8 262.42H31.28V262.85H35.8M35.8 261.99H29.1V262.64H31.28M29.89 261.34H28.26V262.31H29.1M29 259.25H27.47V261.83H28.26M35.8 258.09H27.23V260.54H27.47M35.8 263.72H31.63V264.15H35.8M35.8 264.59H30.48V265.02H35.8M31.63 263.94H28.62V264.81H30.48M35.8 263.29H27.83V264.37H28.62M35.8 265.46H29.37V265.89H35.8M35.8 266.32H30.81V266.76H35.8M35.8 267.19H30.45V267.62H35.8M35.8 268.49H31.25V268.92H35.8M35.8 268.06H30.01V268.71H31.25M30.45 267.41H28.86V268.38H30.01M30.81 266.54H28.46V267.89H28.86M29.37 265.67H27.15V267.22H28.46M27.83 263.83H26.84V266.44H27.15M27.23 259.31H23.97V265.14H26.84M26.96 255.55H23.71V262.22H23.97M24.11 241.75H21.89V258.89H23.71M21.99 221.39H20.6V250.32H21.89M35.8 270.87H29.2V271.3H35.8M35.8 271.73H29.2V272.16H35.8M35.8 273.02H31.89V273.45H35.8M35.8 272.59H28.65V273.24H31.89M29.2 271.95H27.82V272.91H28.65M29.2 271.09H26.99V272.43H27.82M35.8 273.88H27.54V274.31H35.8M35.8 275.17H30.68V275.6H35.8M35.8 274.74H28.83V275.39H30.68M35.8 276.46H29.68V276.89H35.8M35.8 276.03H28.5V276.68H29.68M28.83 275.06H26.93V276.35H28.5M27.54 274.1H26.27V275.71H26.93M35.8 277.75H30.26V278.18H35.8M35.8 277.32H29.82V277.97H30.26M35.8 279.47H29.38V279.9H35.8M35.8 279.04H29.23V279.68H29.38M35.8 278.61H27.82V279.36H29.23M29.82 277.64H27.61V278.99H27.82M35.8 280.33H29.76V280.76H35.8M35.8 281.19H30.51V281.62H35.8M35.8 282.05H31.62V282.48H35.8M35.8 282.91H31.06V283.34H35.8M31.62 282.26H29.48V283.12H31.06M30.51 281.4H29.01V282.69H29.48M29.76 280.54H27.35V282.05H29.01M27.61 278.31H26.01V281.3H27.35M26.27 274.9H24.35V279.81H26.01M26.99 271.76H23.89V277.35H24.35M35.8 283.77H29.14V284.2H35.8M35.8 285.49H30.7V285.92H35.8M35.8 285.06H30.4V285.7H30.7M35.8 284.63H29.82V285.38H30.4M35.8 286.35H29.44V286.78H35.8M35.8 288.07H30.78V288.5H35.8M35.8 287.64H30.23V288.28H30.78M35.8 287.21H28.96V287.96H30.23M29.44 286.56H28.5V287.58H28.96M29.82 285H27.85V287.07H28.5M29.14 283.98H26.64V286.04H27.85M35.8 288.93H29.84V289.36H35.8M35.8 290.22H29.67V290.65H35.8M35.8 289.79H28.81V290.43H29.67M29.84 289.14H28.23V290.11H28.81M35.8 291.94H29.93V292.37H35.8M35.8 291.51H29.36V292.15H29.93M35.8 291.08H28.1V291.83H29.36M28.23 289.63H26.6V291.45H28.1M26.64 285.01H24.86V290.54H26.6M35.8 293.66H31.14V294.08H35.8M35.8 293.23H30.18V293.87H31.14M35.8 292.8H29.37V293.55H30.18M35.8 294.94H30.12V295.37H35.8M35.8 294.51H28.72V295.16H30.12M29.37 293.17H28.14V294.84H28.72M35.8 297.09H30.92V297.52H35.8M35.8 296.66H29.74V297.31H30.92M35.8 296.23H29.26V296.99H29.74M35.8 295.8H28.68V296.61H29.26M35.8 298.38H30.83V298.81H35.8M35.8 297.95H29.93V298.6H30.83M35.8 300.1H30.97V300.53H35.8M35.8 299.67H29.83V300.32H30.97M35.8 299.24H29.58V300H29.83M29.93 298.28H27.28V299.62H29.58M28.68 296.21H26.76V298.95H27.28M28.14 294H24.67V297.58H26.76M35.8 300.96H29.85V301.39H35.8M35.8 302.25H29.65V302.68H35.8M35.8 301.82H29.34V302.47H29.65M35.8 303.11H30.42V303.54H35.8M35.8 304.4H30.87V304.83H35.8M35.8 303.97H29.44V304.62H30.87M30.42 303.33H28.5V304.29H29.44M29.34 302.14H28.27V303.81H28.5M29.85 301.18H27.43V302.98H28.27M35.8 305.26H31.22V305.69H35.8M35.8 306.55H31.08V306.98H35.8M35.8 306.12H30.22V306.77H31.08M31.22 305.48H29.81V306.44H30.22M35.8 307.41H30.63V307.84H35.8M35.8 308.7H31V309.13H35.8M35.8 308.27H30.1V308.91H31M30.63 307.63H29.28V308.59H30.1M29.81 305.96H27.75V308.11H29.28M35.8 309.56H28.59V309.99H35.8M35.8 311.28H29.75V311.71H35.8M35.8 310.85H29.57V311.49H29.75M35.8 310.42H29.05V311.17H29.57M35.8 312.57H31.44V313H35.8M35.8 312.14H30.39V312.78H31.44M35.8 313.43H30.12V313.86H35.8M30.39 312.46H28.56V313.64H30.12M29.05 310.8H26.8V313.05H28.56M28.59 309.77H26.07V311.92H26.8M27.75 307.03H25.7V310.85H26.07M27.43 302.08H24.18V308.94H25.7M24.67 295.79H23.06V305.51H24.18M35.8 314.29H31.29V314.72H35.8M35.8 315.15H29.32V315.58H35.8M31.29 314.5H28.93V315.36H29.32M35.8 316.87H30.69V317.3H35.8M35.8 316.44H30.43V317.08H30.69M35.8 316.01H28.1V316.76H30.43M28.93 314.93H27.47V316.38H28.1M35.8 317.73H29.25V318.16H35.8M35.8 318.59H30.11V319.02H35.8M35.8 319.88H30.64V320.31H35.8M35.8 319.45H29.92V320.09H30.64M30.11 318.8H28.81V319.77H29.92M29.25 317.94H27.17V319.29H28.81M27.47 315.66H25.95V318.61H27.17M35.8 320.74H29.51V321.17H35.8M35.8 321.6H30.51V322.03H35.8M35.8 322.46H30V322.89H35.8M30.51 321.81H29.38V322.67H30M29.51 320.95H28.78V322.24H29.38M35.8 323.74H30.98V324.17H35.8M35.8 325.03H30.24V325.46H35.8M35.8 324.6H29.67V325.25H30.24M30.98 323.96H29.11V324.93H29.67M35.8 323.32H27.01V324.44H29.11M28.78 321.6H26.09V323.88H27.01M35.8 326.75H30.29V327.18H35.8M35.8 326.32H30.01V326.97H30.29M35.8 328.47H29.77V328.9H35.8M35.8 328.04H29.66V328.69H29.77M35.8 327.61H28.42V328.37H29.66M30.01 326.65H28.25V327.99H28.42M35.8 325.89H27.75V327.32H28.25M35.8 330.19H30.3V330.62H35.8M35.8 329.76H29.81V330.41H30.3M35.8 329.33H27.01V330.09H29.81M27.75 326.61H25.23V329.71H27.01M26.09 322.74H23.75V328.16H25.23M25.95 317.14H22.67V325.45H23.75M23.06 300.65H22.21V321.29H22.67M35.8 331.91H30.41V332.34H35.8M35.8 331.48H29.38V332.13H30.41M35.8 331.05H27.47V331.8H29.38M35.8 332.77H29.95V333.2H35.8M35.8 333.63H31.47V334.06H35.8M35.8 334.49H30.26V334.92H35.8M31.47 333.85H28.81V334.71H30.26M29.95 332.99H27.39V334.28H28.81M35.8 336.21H32.18V336.64H35.8M35.8 335.78H30.47V336.43H32.18M35.8 337.5H30.56V337.93H35.8M35.8 337.07H29.02V337.72H30.56M30.47 336.1H28.05V337.39H29.02M35.8 335.35H27.07V336.75H28.05M27.39 333.63H26.05V336.05H27.07M27.47 331.43H25.26V334.84H26.05M35.8 339.22H30.59V339.65H35.8M35.8 338.79H29.53V339.43H30.59M35.8 340.51H29.95V340.94H35.8M35.8 340.08H29.21V340.72H29.95M29.53 339.11H27.78V340.4H29.21M35.8 338.36H26.89V339.76H27.78M35.8 341.8H29.66V342.23H35.8M35.8 341.37H28.53V342.01H29.66M35.8 343.09H28.68V343.52H35.8M35.8 342.66H27.46V343.3H28.68M35.8 344.81H30.38V345.24H35.8M35.8 344.38H28.89V345.02H30.38M35.8 346.1H30.14V346.53H35.8M35.8 345.67H28.74V346.31H30.14M28.89 344.7H27.79V345.99H28.74M35.8 343.95H26.76V345.35H27.79M27.46 342.98H25.58V344.65H26.76M28.53 341.69H25.43V343.81H25.58M26.89 339.06H23.95V342.75H25.43M25.26 333.13H22.18V340.91H23.95M22.21 310.97H21.27V337.02H22.18M24.86 287.77H21.07V324H21.27M23.89 274.56H20.2V305.89H21.07M35.8 349.41H29.37V349.84H35.8M35.8 348.97H27.88V349.63H29.37M35.8 350.71H29.32V351.15H35.8M35.8 350.28H29.19V350.93H29.32M35.8 352.01H29.18V352.45H35.8M35.8 351.58H28.86V352.23H29.18M29.19 350.6H27.64V351.9H28.86M27.88 349.3H26.42V351.25H27.64M35.8 352.88H29.42V353.32H35.8M35.8 354.18H30.4V354.62H35.8M35.8 353.75H27.47V354.4H30.4M29.42 353.1H26.96V354.07H27.47M35.8 355.49H28.81V355.92H35.8M35.8 355.05H28.11V355.7H28.81M35.8 356.35H29.59V356.79H35.8M35.8 358.09H30.46V358.52H35.8M35.8 357.66H29.43V358.31H30.46M35.8 357.22H28.82V357.98H29.43M29.59 356.57H26.43V357.6H28.82M28.11 355.38H25.95V357.09H26.43M26.96 353.59H24.52V356.23H25.95M26.42 350.28H23.47V354.91H24.52M35.8 358.96H28.79V359.39H35.8M35.8 359.83H30.73V360.26H35.8M35.8 361.13H29.64V361.56H35.8M35.8 360.69H28.75V361.34H29.64M30.73 360.04H27.64V361.02H28.75M28.79 359.17H25.83V360.53H27.64M35.8 362.43H29.22V362.86H35.8M35.8 362H29.02V362.65H29.22M35.8 363.73H29.59V364.17H35.8M35.8 363.3H27.8V363.95H29.59M29.02 362.32H27.33V363.62H27.8M35.8 365.03H29.34V365.47H35.8M35.8 364.6H28.9V365.25H29.34M35.8 366.34H30.76V366.77H35.8M35.8 365.9H30.44V366.55H30.76M35.8 367.2H28.37V367.64H35.8M30.44 366.23H27.79V367.42H28.37M28.9 364.93H26.27V366.82H27.79M27.33 362.97H24.43V365.87H26.27M25.83 359.85H22.57V364.42H24.43M23.47 352.59H22.01V362.14H22.57M35.8 368.51H28.99V368.94H35.8M35.8 369.81H29.95V370.24H35.8M35.8 369.37H28.25V370.02H29.95M28.99 368.72H27.12V369.7H28.25M35.8 368.07H26.92V369.21H27.12M35.8 371.11H29.47V371.54H35.8M35.8 370.68H29.22V371.33H29.47M35.8 371.98H31.5V372.41H35.8M35.8 372.85H28.76V373.28H35.8M31.5 372.19H28.19V373.06H28.76M29.22 371H25.68V372.63H28.19M26.92 368.64H24.09V371.82H25.68M35.8 373.71H30.91V374.15H35.8M35.8 374.58H30.12V375.02H35.8M30.91 373.93H28.43V374.8H30.12M35.8 375.88H29.85V376.32H35.8M35.8 375.45H27.69V376.1H29.85M28.43 374.36H26.96V375.78H27.69M35.8 377.62H30.29V378.05H35.8M35.8 377.19H29.32V377.84H30.29M35.8 376.75H26.96V377.51H29.32M26.96 375.07H25.9V377.13H26.96M35.8 378.49H30.27V378.92H35.8M35.8 379.79H30.18V380.22H35.8M35.8 379.36H29.23V380.01H30.18M35.8 381.09H29.75V381.53H35.8M35.8 380.66H29.14V381.31H29.75M29.23 379.68H27.75V380.98H29.14M30.27 378.71H26.34V380.33H27.75M35.8 382.39H29.22V382.83H35.8M35.8 381.96H27.8V382.61H29.22M35.8 383.7H29.7V384.13H35.8M35.8 383.26H27.22V383.91H29.7M27.8 382.29H25.59V383.59H27.22M26.34 379.52H24.83V382.94H25.59M25.9 376.1H23.41V381.23H24.83M24.09 370.23H21.83V378.66H23.41M35.8 385.43H30.75V385.87H35.8M35.8 385H29.05V385.65H30.75M35.8 386.73H29.74V387.17H35.8M35.8 386.3H28.95V386.95H29.74M29.05 385.32H28.1V386.63H28.95M35.8 384.56H26.4V385.97H28.1M35.8 387.6H26.32V388.04H35.8M26.4 385.27H24.67V387.82H26.32M35.8 388.9H29.69V389.34H35.8M35.8 388.47H28.53V389.12H29.69M35.8 389.77H29.53V390.21H35.8M35.8 390.64H29.33V391.07H35.8M29.53 389.99H27.87V390.86H29.33M28.53 388.8H27.02V390.42H27.87M35.8 391.94H29.84V392.38H35.8M35.8 391.51H29.68V392.16H29.84M35.8 393.24H30.52V393.68H35.8M35.8 394.11H29.75V394.55H35.8M30.52 393.46H28.95V394.33H29.75M35.8 392.81H28.24V393.9H28.95M29.68 391.83H27.14V393.35H28.24M35.8 395.41H29.3V395.85H35.8M35.8 396.28H28.97V396.72H35.8M29.3 395.63H27.1V396.5H28.97M35.8 394.98H26.55V396.07H27.1M27.14 392.59H25.16V395.52H26.55M27.02 389.61H23.84V394.06H25.16M24.67 386.54H23.23V391.83H23.84M35.8 398.02H28.78V398.45H35.8M35.8 397.58H28.09V398.24H28.78M35.8 397.15H26.63V397.91H28.09M35.8 399.32H28.09V399.75H35.8M35.8 398.89H27.82V399.54H28.09M35.8 400.19H29.74V400.62H35.8M35.8 401.49H28.56V401.93H35.8M35.8 401.06H27.13V401.71H28.56M29.74 400.41H26.44V401.38H27.13M27.82 399.21H25.19V400.89H26.44M26.63 397.53H22.79V400.05H25.19M23.23 389.19H20.83V398.79H22.79M21.83 374.45H20.37V393.99H20.83M22.01 357.37H19.6V384.22H20.37M35.8 404.31H28.59V404.76H35.8M35.8 403.87H28.23V404.53H28.59M35.8 405.2H30.09V405.64H35.8M35.8 406.09H28.93V406.53H35.8M30.09 405.42H27.34V406.31H28.93M28.23 404.2H26.41V405.86H27.34M35.8 407.41H29.1V407.86H35.8M35.8 406.97H26.99V407.64H29.1M35.8 408.74H29.79V409.19H35.8M35.8 408.3H28.55V408.96H29.79M35.8 409.63H29.83V410.07H35.8M35.8 410.52H29.05V410.96H35.8M29.83 409.85H28.09V410.74H29.05M28.55 408.63H26.96V410.29H28.09M26.99 407.3H25.35V409.46H26.96M26.41 405.03H23.89V408.38H25.35M35.8 411.84H30.01V412.29H35.8M35.8 411.4H29.02V412.07H30.01M35.8 412.73H29.12V413.17H35.8M35.8 414.5H29.34V414.95H35.8M35.8 414.06H28.22V414.72H29.34M35.8 413.62H27.66V414.39H28.22M29.12 412.95H25.78V414H27.66M29.02 411.73H24.11V413.48H25.78M35.8 415.83H29.74V416.28H35.8M35.8 415.39H28.98V416.05H29.74M35.8 417.16H29.1V417.6H35.8M35.8 416.72H27.59V417.38H29.1M28.98 415.72H26.53V417.05H27.59M35.8 418.05H28.07V418.49H35.8M35.8 419.38H29.06V419.82H35.8M35.8 418.93H27.81V419.6H29.06M28.07 418.27H27.09V419.27H27.81M35.8 421.15H29.79V421.59H35.8M35.8 420.71H28.61V421.37H29.79M35.8 420.26H27.79V421.04H28.61M35.8 422.92H30.32V423.36H35.8M35.8 422.48H30.12V423.14H30.32M35.8 422.04H29.65V422.81H30.12M35.8 423.81H30.45V424.25H35.8M35.8 425.14H31.4V425.58H35.8M35.8 424.69H30.03V425.36H31.4M30.45 424.03H29.61V425.03H30.03M35.8 426.02H29.29V426.47H35.8M29.61 424.53H28.14V426.24H29.29M29.65 422.42H27.17V425.39H28.14M27.79 420.65H26.22V423.9H27.17M27.09 418.77H25.35V422.28H26.22M26.53 416.39H23.75V420.52H25.35M24.11 412.61H22.1V418.45H23.75M23.89 406.71H21.52V415.53H22.1M35.8 426.91H30.38V427.35H35.8M35.8 427.8H29.8V428.24H35.8M30.38 427.13H29.48V428.02H29.8M35.8 429.12H29.89V429.57H35.8M35.8 428.68H28.83V429.35H29.89M29.48 427.57H26.25V429.01H28.83M35.8 430.9H29.95V431.34H35.8M35.8 430.45H29.42V431.12H29.95M35.8 432.23H29.9V432.67H35.8M35.8 431.78H29.15V432.45H29.9M29.42 430.79H27.57V432.12H29.15M35.8 430.01H25.69V431.45H27.57M26.25 428.29H25.14V430.73H25.69M35.8 433.11H29.45V433.56H35.8M35.8 434H29.09V434.44H35.8M29.45 433.33H27.98V434.22H29.09M35.8 435.77H30.34V436.21H35.8M35.8 435.33H29.28V435.99H30.34M35.8 434.88H27.44V435.66H29.28M27.98 433.78H25.74V435.27H27.44M35.8 437.54H29.23V437.99H35.8M35.8 437.1H28.4V437.76H29.23M35.8 436.66H25.67V437.43H28.4M35.8 438.87H28.76V439.31H35.8M35.8 438.43H27.73V439.09H28.76M35.8 440.2H29.84V440.64H35.8M35.8 439.76H28.72V440.42H29.84M35.8 441.09H27.07V441.53H35.8M28.72 440.09H26.18V441.31H27.07M27.73 438.76H24.76V440.7H26.18M25.67 437.04H23.84V439.73H24.76M25.74 434.52H23.14V438.39H23.84M25.14 429.51H21.27V436.46H23.14M21.52 411.12H20V432.98H21.27M20.6 235.86H18.6V290.22H20.2M19.6 370.79H18.9V422.05H20M18.6 263.04H17.3V396.42H18.9"/>
<text transform="translate(44.51,443.2) rotate(90)" font-size="7.2">4D</text>
<text transform="translate(52.74,443.2) rotate(90)" font-size="7.2">6D</text>
<text transform="translate(60.97,443.2) rotate(90)" font-size="7.2">8D</text>
<text transform="translate(69.2,443.2) rotate(90)" font-size="7.2">10D</text>
<text transform="translate(77.43,443.2) rotate(90)" font-size="7.2">12D</text>
<text transform="translate(85.66,443.2) rotate(90)" font-size="7.2">14D</text>
<text transform="translate(93.89,443.2) rotate(90)" font-size="7.2">16D</text>
<text transform="translate(102.11,443.2) rotate(90)" font-size="7.2">18D</text>
<text transform="translate(110.34,443.2) rotate(90)" font-size="7.2">20D</text>
<text transform="translate(118.57,443.2) rotate(90)" font-size="7.2">22D</text>
<text transform="translate(126.8,443.2) rotate(90)" font-size="7.2">24D</text>
<text transform="translate(135.03,443.2) rotate(90)" font-size="7.2">26D</text>
<text transform="translate(143.26,443.2) rotate(90)" font-size="7.2">28D</text>
<text transform="translate(151.49,443.2) rotate(90)" font-size="7.2">30D</text>
<linearGradient id="hmg" x1="0" y1="1" x2="0" y2="0"><stop offset="0" stop-color="rgb(30, 68, 168)"/><stop offset="0.06" stop-color="rgb(38, 72, 172)"/><stop offset="0.21" stop-color="rgb(95, 105, 190)"/><stop offset="0.35" stop-color="rgb(172, 174, 222)"/><stop offset="0.5" stop-color="rgb(246, 244, 250)"/><stop offset="0.65" stop-color="rgb(250, 178, 178)"/><stop offset="0.79" stop-color="rgb(245, 100, 100)"/><stop offset="0.94" stop-color="rgb(240, 30, 34)"/><stop offset="1" stop-color="rgb(255, 14, 14)"/></linearGradient>
<rect x="161.2" y="207.9" width="6" height="86.6" fill="url(#hmg)"/>
<text x="153.5" y="205.6" font-size="6.6" text-anchor="middle">Expression</text>
<text x="170.3" y="216.1" font-size="6.8">3</text>
<text x="170.3" y="228.5" font-size="6.8">2</text>
<text x="170.3" y="240.9" font-size="6.8">1</text>
<text x="170.3" y="253.3" font-size="6.8">0</text>
<text x="167.9" y="265.7" font-size="6.8">−1</text>
<text x="167.9" y="278.1" font-size="6.8">−2</text>
<text x="167.9" y="290.5" font-size="6.8">−3</text>
<rect x="161.8" y="303.1" width="5.2" height="3.8" fill="#1cc1b5"/>
<text x="168.6" y="307.6" font-size="7.2">C1</text>
<rect x="161.8" y="312.1" width="5.2" height="3.8" fill="#f0417a"/>
<text x="168.6" y="316.6" font-size="7.2">C2</text>
<rect x="161.8" y="321.1" width="5.2" height="3.8" fill="#189bbf"/>
<text x="168.6" y="325.6" font-size="7.2">C3</text>
<rect x="161.8" y="330.1" width="5.2" height="3.8" fill="#fbd64a"/>
<text x="168.6" y="334.6" font-size="7.2">C4</text>
<path fill="#c0e2f4" d="M223.6 241.01L226.79 239.79L229.99 238.57L233.19 237.34L236.38 236.1L239.57 234.85L242.77 233.6L245.97 232.33L249.16 231.05L252.35 229.76L255.55 228.45L258.75 227.12L261.94 225.77L265.13 224.4L268.33 223.01L271.52 221.58L274.72 220.13L277.91 218.64L281.11 217.12L284.31 215.57L287.5 213.97L290.69 212.34L293.89 210.68L297.08 208.98L300.28 207.24L303.48 205.48L306.67 203.69L309.87 201.87L313.06 200.03L316.25 198.17L319.45 196.3L322.64 194.4L325.84 192.5L329.03 190.58L332.23 188.64L335.43 186.7L338.62 184.76L341.81 182.8L345.01 180.84L348.21 178.87L348.21 199.32L345.01 200.54L341.81 201.76L338.62 202.99L335.43 204.23L332.23 205.47L329.03 206.73L325.84 208L322.64 209.28L319.45 210.57L316.25 211.88L313.06 213.21L309.87 214.56L306.67 215.93L303.48 217.32L300.28 218.74L297.08 220.2L293.89 221.68L290.69 223.2L287.5 224.76L284.31 226.35L281.11 227.99L277.91 229.65L274.72 231.35L271.52 233.09L268.33 234.85L265.13 236.64L261.94 238.46L258.75 240.3L255.55 242.16L252.35 244.03L249.16 245.93L245.97 247.83L242.77 249.75L239.57 251.68L236.38 253.62L233.19 255.57L229.99 257.53L226.79 259.49L223.6 261.46Z"/>
<line x1="223.6" y1="251.24" x2="348.21" y2="189.09" stroke="#1fa2dc" stroke-width="1.1"/>
<circle cx="223.6" cy="267.26" r="1.95" fill="#9a9a9a" fill-opacity="0.55" stroke="#333" stroke-width="1.15"/>
<circle cx="233.19" cy="234.3" r="1.95" fill="#9a9a9a" fill-opacity="0.55" stroke="#333" stroke-width="1.15"/>
<circle cx="242.77" cy="237.43" r="1.95" fill="#9a9a9a" fill-opacity="0.55" stroke="#333" stroke-width="1.15"/>
<circle cx="252.35" cy="245.26" r="1.95" fill="#9a9a9a" fill-opacity="0.55" stroke="#333" stroke-width="1.15"/>
<circle cx="261.94" cy="233.31" r="1.95" fill="#9a9a9a" fill-opacity="0.55" stroke="#333" stroke-width="1.15"/>
<circle cx="271.52" cy="228.7" r="1.95" fill="#9a9a9a" fill-opacity="0.55" stroke="#333" stroke-width="1.15"/>
<circle cx="281.11" cy="211.89" r="1.95" fill="#9a9a9a" fill-opacity="0.55" stroke="#333" stroke-width="1.15"/>
<circle cx="290.69" cy="218.81" r="1.95" fill="#9a9a9a" fill-opacity="0.55" stroke="#333" stroke-width="1.15"/>
<circle cx="300.28" cy="211.89" r="1.95" fill="#9a9a9a" fill-opacity="0.55" stroke="#333" stroke-width="1.15"/>
<circle cx="309.87" cy="196.56" r="1.95" fill="#9a9a9a" fill-opacity="0.55" stroke="#333" stroke-width="1.15"/>
<circle cx="319.45" cy="201.26" r="1.95" fill="#9a9a9a" fill-opacity="0.55" stroke="#333" stroke-width="1.15"/>
<circle cx="329.03" cy="204.72" r="1.95" fill="#9a9a9a" fill-opacity="0.55" stroke="#333" stroke-width="1.15"/>
<circle cx="338.62" cy="187.66" r="1.95" fill="#9a9a9a" fill-opacity="0.55" stroke="#333" stroke-width="1.15"/>
<circle cx="348.21" cy="203.24" r="1.95" fill="#9a9a9a" fill-opacity="0.55" stroke="#333" stroke-width="1.15"/>
<path d="M216.9 174.6V271.3H355.2" fill="none" stroke="#333" stroke-width="0.9"/>
<line x1="215.1" y1="262.4" x2="216.9" y2="262.4" stroke="#333" stroke-width="0.7"/>
<text x="214.7" y="265" font-size="7.3" text-anchor="end" fill="#333">2.5</text>
<line x1="215.1" y1="241.8" x2="216.9" y2="241.8" stroke="#333" stroke-width="0.7"/>
<text x="214.7" y="244.4" font-size="7.3" text-anchor="end" fill="#333">5.0</text>
<line x1="215.1" y1="221.2" x2="216.9" y2="221.2" stroke="#333" stroke-width="0.7"/>
<text x="214.7" y="223.8" font-size="7.3" text-anchor="end" fill="#333">7.5</text>
<line x1="215.1" y1="200.6" x2="216.9" y2="200.6" stroke="#333" stroke-width="0.7"/>
<text x="214.7" y="203.2" font-size="7.3" text-anchor="end" fill="#333">10.0</text>
<line x1="215.1" y1="180" x2="216.9" y2="180" stroke="#333" stroke-width="0.7"/>
<text x="214.7" y="182.6" font-size="7.3" text-anchor="end" fill="#333">12.5</text>
<line x1="223.6" y1="271.3" x2="223.6" y2="273.1" stroke="#333" stroke-width="0.7"/>
<text transform="translate(225.6,277.9) rotate(-45)" text-anchor="end" font-size="7.3" fill="#333">4D</text>
<line x1="233.19" y1="271.3" x2="233.19" y2="273.1" stroke="#333" stroke-width="0.7"/>
<text transform="translate(235.19,277.9) rotate(-45)" text-anchor="end" font-size="7.3" fill="#333">6D</text>
<line x1="242.77" y1="271.3" x2="242.77" y2="273.1" stroke="#333" stroke-width="0.7"/>
<text transform="translate(244.77,277.9) rotate(-45)" text-anchor="end" font-size="7.3" fill="#333">8D</text>
<line x1="252.35" y1="271.3" x2="252.35" y2="273.1" stroke="#333" stroke-width="0.7"/>
<text transform="translate(254.35,277.9) rotate(-45)" text-anchor="end" font-size="7.3" fill="#333">10D</text>
<line x1="261.94" y1="271.3" x2="261.94" y2="273.1" stroke="#333" stroke-width="0.7"/>
<text transform="translate(263.94,277.9) rotate(-45)" text-anchor="end" font-size="7.3" fill="#333">12D</text>
<line x1="271.52" y1="271.3" x2="271.52" y2="273.1" stroke="#333" stroke-width="0.7"/>
<text transform="translate(273.52,277.9) rotate(-45)" text-anchor="end" font-size="7.3" fill="#333">14D</text>
<line x1="281.11" y1="271.3" x2="281.11" y2="273.1" stroke="#333" stroke-width="0.7"/>
<text transform="translate(283.11,277.9) rotate(-45)" text-anchor="end" font-size="7.3" fill="#333">16D</text>
<line x1="290.69" y1="271.3" x2="290.69" y2="273.1" stroke="#333" stroke-width="0.7"/>
<text transform="translate(292.69,277.9) rotate(-45)" text-anchor="end" font-size="7.3" fill="#333">18D</text>
<line x1="300.28" y1="271.3" x2="300.28" y2="273.1" stroke="#333" stroke-width="0.7"/>
<text transform="translate(302.28,277.9) rotate(-45)" text-anchor="end" font-size="7.3" fill="#333">20D</text>
<line x1="309.87" y1="271.3" x2="309.87" y2="273.1" stroke="#333" stroke-width="0.7"/>
<text transform="translate(311.87,277.9) rotate(-45)" text-anchor="end" font-size="7.3" fill="#333">22D</text>
<line x1="319.45" y1="271.3" x2="319.45" y2="273.1" stroke="#333" stroke-width="0.7"/>
<text transform="translate(321.45,277.9) rotate(-45)" text-anchor="end" font-size="7.3" fill="#333">24D</text>
<line x1="329.03" y1="271.3" x2="329.03" y2="273.1" stroke="#333" stroke-width="0.7"/>
<text transform="translate(331.03,277.9) rotate(-45)" text-anchor="end" font-size="7.3" fill="#333">26D</text>
<line x1="338.62" y1="271.3" x2="338.62" y2="273.1" stroke="#333" stroke-width="0.7"/>
<text transform="translate(340.62,277.9) rotate(-45)" text-anchor="end" font-size="7.3" fill="#333">28D</text>
<line x1="348.21" y1="271.3" x2="348.21" y2="273.1" stroke="#333" stroke-width="0.7"/>
<text transform="translate(350.21,277.9) rotate(-45)" text-anchor="end" font-size="7.3" fill="#333">30D</text>
<text transform="translate(198.4,220.8) rotate(-90)" text-anchor="middle" font-size="7.3" fill="#222">Expression level of MAF5</text>
<text x="230.6" y="182.6" font-size="7.05"><tspan font-style="italic">R</tspan><tspan font-size="4.5" dy="-2.6">2</tspan><tspan dy="2.6">=0.82; </tspan><tspan font-style="italic">P</tspan>=4.50e-6</text>
<rect x="400.5" y="266.82" width="8.8" height="1.88" fill="#f80d12"/>
<path d="M404.9 266.82V266.29M403.3 266.29h3.2" stroke="#333" stroke-width="0.8" fill="none"/>
<rect x="414" y="266.82" width="8.8" height="1.88" fill="#0ca9d8"/>
<path d="M418.4 266.82V266.4M416.8 266.4h3.2" stroke="#333" stroke-width="0.8" fill="none"/>
<line x1="411.8" y1="268.7" x2="411.8" y2="270.8" stroke="#555" stroke-width="0.8"/>
<text transform="translate(415.1,275.9) rotate(-45)" text-anchor="end" font-size="7.2" fill="#333">YL</text>
<rect x="435.9" y="265.56" width="8.8" height="3.14" fill="#f80d12"/>
<path d="M440.3 265.56V264.93M438.7 264.93h3.2" stroke="#333" stroke-width="0.8" fill="none"/>
<rect x="449.4" y="261.8" width="8.8" height="6.9" fill="#0ca9d8"/>
<path d="M453.8 261.8V259.7M452.2 259.7h3.2" stroke="#333" stroke-width="0.8" fill="none"/>
<line x1="447.2" y1="268.7" x2="447.2" y2="270.8" stroke="#555" stroke-width="0.8"/>
<text transform="translate(450.5,275.9) rotate(-45)" text-anchor="end" font-size="7.2" fill="#333">NS</text>
<rect x="471.7" y="265.56" width="8.8" height="3.14" fill="#f80d12"/>
<path d="M476.1 265.56V265.14M474.5 265.14h3.2" stroke="#333" stroke-width="0.8" fill="none"/>
<rect x="485.2" y="231.46" width="8.8" height="37.24" fill="#0ca9d8"/>
<path d="M489.6 231.46V226.86M488 226.86h3.2" stroke="#333" stroke-width="0.8" fill="none"/>
<line x1="483" y1="268.7" x2="483" y2="270.8" stroke="#555" stroke-width="0.8"/>
<text transform="translate(486.3,275.9) rotate(-45)" text-anchor="end" font-size="7.2" fill="#333">ES</text>
<rect x="507.5" y="260.96" width="8.8" height="7.74" fill="#f80d12"/>
<path d="M511.9 260.96V258.87M510.3 258.87h3.2" stroke="#333" stroke-width="0.8" fill="none"/>
<rect x="521" y="188.97" width="8.8" height="79.73" fill="#0ca9d8"/>
<path d="M525.4 188.97V182.21M523.8 182.21h3.2" stroke="#333" stroke-width="0.8" fill="none"/>
<line x1="518.8" y1="268.7" x2="518.8" y2="270.8" stroke="#555" stroke-width="0.8"/>
<text transform="translate(522.1,275.9) rotate(-45)" text-anchor="end" font-size="7.2" fill="#333">LS</text>
<path d="M393.9 173.4V209.2M391.8 209.2h4.2M391.8 216.5h4.2M393.9 216.5V268.7H536.3" stroke="#555" stroke-width="0.95" fill="none"/>
<line x1="392.1" y1="173.6" x2="393.9" y2="173.6" stroke="#555" stroke-width="0.8"/>
<text x="390.6" y="176" font-size="6.8" text-anchor="end" fill="#333">250</text>
<line x1="392.1" y1="187.67" x2="393.9" y2="187.67" stroke="#555" stroke-width="0.8"/>
<text x="390.6" y="190.07" font-size="6.8" text-anchor="end" fill="#333">200</text>
<line x1="392.1" y1="201.75" x2="393.9" y2="201.75" stroke="#555" stroke-width="0.8"/>
<text x="390.6" y="204.15" font-size="6.8" text-anchor="end" fill="#333">150</text>
<line x1="392.1" y1="216.4" x2="393.9" y2="216.4" stroke="#555" stroke-width="0.8"/>
<text x="390.6" y="218.8" font-size="6.8" text-anchor="end" fill="#333">25</text>
<line x1="392.1" y1="226.86" x2="393.9" y2="226.86" stroke="#555" stroke-width="0.8"/>
<text x="390.6" y="229.26" font-size="6.8" text-anchor="end" fill="#333">20</text>
<line x1="392.1" y1="237.32" x2="393.9" y2="237.32" stroke="#555" stroke-width="0.8"/>
<text x="390.6" y="239.72" font-size="6.8" text-anchor="end" fill="#333">15</text>
<line x1="392.1" y1="247.78" x2="393.9" y2="247.78" stroke="#555" stroke-width="0.8"/>
<text x="390.6" y="250.18" font-size="6.8" text-anchor="end" fill="#333">10</text>
<line x1="392.1" y1="258.24" x2="393.9" y2="258.24" stroke="#555" stroke-width="0.8"/>
<text x="390.6" y="260.64" font-size="6.8" text-anchor="end" fill="#333">5</text>
<line x1="392.1" y1="268.7" x2="393.9" y2="268.7" stroke="#555" stroke-width="0.8"/>
<text x="390.6" y="271.1" font-size="6.8" text-anchor="end" fill="#333">0</text>
<text transform="translate(374.9,221.3) rotate(-90)" text-anchor="middle" font-size="7.5" fill="#222">Relative expression</text>
<rect x="402.3" y="178.0" width="7.7" height="3.8" fill="#f80d12"/>
<rect x="402.3" y="185.4" width="7.7" height="4.0" fill="#0ca9d8"/>
<text x="413" y="181.6" font-size="5.5" fill="#444">MAF5</text>
<text x="413" y="189" font-size="5.5" fill="#444">SAG12</text>
<rect x="202.9" y="301.9" width="98.8" height="81.0" fill="#040404"/>
<clipPath id="gclip"><rect x="202.9" y="301.9" width="98.8" height="81.0"/></clipPath>
<g clip-path="url(#gclip)">
<path d="M209 349 L253 349 L250 382 L212 382Z" fill="#0b0a0e"/>
<path d="M257 347 L301 347 L299 382 L260 382Z" fill="#0c0b0f"/>
<circle cx="222.13" cy="343.76" r="0.49" fill="#6a4a2a" fill-opacity="0.59"/>
<circle cx="244.92" cy="361.93" r="0.31" fill="#6a4a2a" fill-opacity="0.49"/>
<circle cx="294.47" cy="376.18" r="0.59" fill="#6a4a2a" fill-opacity="0.34"/>
<circle cx="289.92" cy="376.43" r="0.37" fill="#6a4a2a" fill-opacity="0.55"/>
<circle cx="206.95" cy="347.55" r="0.43" fill="#6a4a2a" fill-opacity="0.36"/>
<circle cx="277.1" cy="374.91" r="0.44" fill="#6a4a2a" fill-opacity="0.43"/>
<circle cx="215.61" cy="346.27" r="0.59" fill="#6a4a2a" fill-opacity="0.54"/>
<circle cx="210.29" cy="361.71" r="0.46" fill="#6a4a2a" fill-opacity="0.64"/>
<circle cx="273.2" cy="366.48" r="0.52" fill="#6a4a2a" fill-opacity="0.68"/>
<circle cx="298.73" cy="356.18" r="0.4" fill="#6a4a2a" fill-opacity="0.62"/>
<circle cx="211.05" cy="357.22" r="0.33" fill="#6a4a2a" fill-opacity="0.43"/>
<circle cx="211.69" cy="354.32" r="0.62" fill="#6a4a2a" fill-opacity="0.66"/>
<circle cx="280.3" cy="364.91" r="0.55" fill="#6a4a2a" fill-opacity="0.44"/>
<circle cx="221.04" cy="360.01" r="0.59" fill="#6a4a2a" fill-opacity="0.33"/>
<circle cx="206.97" cy="373.05" r="0.42" fill="#6a4a2a" fill-opacity="0.58"/>
<circle cx="274.79" cy="379.38" r="0.46" fill="#6a4a2a" fill-opacity="0.44"/>
<circle cx="281.62" cy="372.82" r="0.56" fill="#6a4a2a" fill-opacity="0.62"/>
<circle cx="266.01" cy="380.34" r="0.43" fill="#6a4a2a" fill-opacity="0.6"/>
<circle cx="295.23" cy="356.04" r="0.54" fill="#6a4a2a" fill-opacity="0.45"/>
<circle cx="248.85" cy="345.93" r="0.31" fill="#6a4a2a" fill-opacity="0.6"/>
<circle cx="248.01" cy="367.29" r="0.6" fill="#6a4a2a" fill-opacity="0.47"/>
<circle cx="239.92" cy="349.59" r="0.62" fill="#6a4a2a" fill-opacity="0.63"/>
<circle cx="274.75" cy="377.14" r="0.56" fill="#6a4a2a" fill-opacity="0.58"/>
<circle cx="223.34" cy="372.94" r="0.43" fill="#6a4a2a" fill-opacity="0.48"/>
<circle cx="235.29" cy="365.16" r="0.56" fill="#6a4a2a" fill-opacity="0.53"/>
<circle cx="235.23" cy="351.5" r="0.64" fill="#6a4a2a" fill-opacity="0.42"/>
<circle cx="246.63" cy="346.57" r="0.42" fill="#6a4a2a" fill-opacity="0.33"/>
<circle cx="237.65" cy="370.66" r="0.69" fill="#6a4a2a" fill-opacity="0.55"/>
<circle cx="230.58" cy="368.61" r="0.55" fill="#6a4a2a" fill-opacity="0.63"/>
<circle cx="255.7" cy="378.53" r="0.47" fill="#6a4a2a" fill-opacity="0.41"/>
<circle cx="254.31" cy="378.98" r="0.59" fill="#6a4a2a" fill-opacity="0.5"/>
<circle cx="252.26" cy="368.3" r="0.48" fill="#6a4a2a" fill-opacity="0.52"/>
<circle cx="297.26" cy="379.36" r="0.64" fill="#6a4a2a" fill-opacity="0.35"/>
<circle cx="257.87" cy="357.29" r="0.66" fill="#6a4a2a" fill-opacity="0.43"/>
<circle cx="293.42" cy="352.3" r="0.47" fill="#6a4a2a" fill-opacity="0.68"/>
<circle cx="261.57" cy="379.35" r="0.52" fill="#6a4a2a" fill-opacity="0.39"/>
<circle cx="272.73" cy="363.34" r="0.5" fill="#6a4a2a" fill-opacity="0.35"/>
<circle cx="218.77" cy="379.25" r="0.68" fill="#6a4a2a" fill-opacity="0.69"/>
<circle cx="238.99" cy="344.79" r="0.52" fill="#6a4a2a" fill-opacity="0.59"/>
<circle cx="266.56" cy="345.06" r="0.39" fill="#6a4a2a" fill-opacity="0.58"/>
<circle cx="210.23" cy="376.01" r="0.7" fill="#6a4a2a" fill-opacity="0.4"/>
<circle cx="210.14" cy="381.21" r="0.61" fill="#6a4a2a" fill-opacity="0.48"/>
<circle cx="250.43" cy="378.7" r="0.44" fill="#6a4a2a" fill-opacity="0.32"/>
<circle cx="263.33" cy="355.19" r="0.57" fill="#6a4a2a" fill-opacity="0.68"/>
<circle cx="239.26" cy="352.63" r="0.32" fill="#6a4a2a" fill-opacity="0.63"/>
<circle cx="212.45" cy="380.13" r="0.58" fill="#6a4a2a" fill-opacity="0.66"/>
<circle cx="282.37" cy="350.44" r="0.37" fill="#6a4a2a" fill-opacity="0.68"/>
<circle cx="232.65" cy="373.83" r="0.37" fill="#6a4a2a" fill-opacity="0.42"/>
<circle cx="268.98" cy="352.69" r="0.6" fill="#6a4a2a" fill-opacity="0.65"/>
<circle cx="235.44" cy="354.65" r="0.31" fill="#6a4a2a" fill-opacity="0.47"/>
<circle cx="211.22" cy="365.41" r="0.58" fill="#6a4a2a" fill-opacity="0.53"/>
<circle cx="262.35" cy="366.39" r="0.66" fill="#6a4a2a" fill-opacity="0.51"/>
<circle cx="286.83" cy="356.73" r="0.36" fill="#6a4a2a" fill-opacity="0.39"/>
<circle cx="280.36" cy="351.96" r="0.61" fill="#6a4a2a" fill-opacity="0.66"/>
<circle cx="256.72" cy="348.59" r="0.55" fill="#6a4a2a" fill-opacity="0.45"/>
<circle cx="291.3" cy="351.72" r="0.39" fill="#6a4a2a" fill-opacity="0.49"/>
<circle cx="251.89" cy="350.32" r="0.45" fill="#6a4a2a" fill-opacity="0.57"/>
<circle cx="249.7" cy="345.33" r="0.47" fill="#6a4a2a" fill-opacity="0.47"/>
<circle cx="247.52" cy="343.93" r="0.41" fill="#6a4a2a" fill-opacity="0.68"/>
<circle cx="288.89" cy="379.69" r="0.6" fill="#6a4a2a" fill-opacity="0.47"/>
<circle cx="294.06" cy="354.73" r="0.54" fill="#6a4a2a" fill-opacity="0.53"/>
<circle cx="246.87" cy="352.76" r="0.43" fill="#6a4a2a" fill-opacity="0.56"/>
<circle cx="231.98" cy="356.5" r="0.44" fill="#6a4a2a" fill-opacity="0.43"/>
<circle cx="283.71" cy="364.29" r="0.31" fill="#6a4a2a" fill-opacity="0.6"/>
<circle cx="252.71" cy="373.38" r="0.5" fill="#6a4a2a" fill-opacity="0.42"/>
<circle cx="284.73" cy="349.76" r="0.41" fill="#6a4a2a" fill-opacity="0.49"/>
<circle cx="286.69" cy="347.49" r="0.44" fill="#6a4a2a" fill-opacity="0.51"/>
<circle cx="269.44" cy="347.1" r="0.6" fill="#6a4a2a" fill-opacity="0.52"/>
<circle cx="254.13" cy="357.85" r="0.43" fill="#6a4a2a" fill-opacity="0.66"/>
<circle cx="299.41" cy="349.83" r="0.38" fill="#6a4a2a" fill-opacity="0.57"/>
<path d="M214 334Q210 318 207 303M219 333Q216 316 214 302M223 332Q222 316 221 302M233 332Q235 316 237 302M236 334Q241 318 244 302M240 336Q245 320 250 303M268 334Q265 318 263 302M272 333Q270 316 268 302M283 332Q284 316 286 302M287 333Q290 318 293 303M276 332Q277 316 279 302M291 336Q296 322 300 312" stroke="#4c9440" stroke-width="0.75" fill="none"/>
<path d="M208 311C207.86 309.21 207.63 307.06 206.16 305.83Q205 305.8 205 305.8Q205 305.8 204.44 306.82C204.77 308.71 206.52 309.98 208 311Z" fill="#4a9e3c" />
<path d="M213 320C214.48 318.98 216.23 317.71 216.56 315.82Q216 314.8 216 314.8Q216 314.8 214.84 314.83C213.37 316.06 213.14 318.21 213 320Z" fill="#4a9e3c" />
<path d="M217 309C217.48 307.27 218 305.17 217.04 303.51Q215.96 303.09 215.96 303.09Q215.96 303.09 215.09 303.85C214.75 305.74 215.96 307.54 217 309Z" fill="#4a9e3c" />
<path d="M241 315C242.48 313.98 244.23 312.71 244.56 310.82Q244 309.8 244 309.8Q244 309.8 242.84 309.83C241.37 311.06 241.14 313.21 241 315Z" fill="#4a9e3c" />
<path d="M246 308C246.17 306.21 246.32 304.05 245.08 302.59Q243.95 302.36 243.95 302.36Q243.95 302.36 243.22 303.26C243.22 305.18 244.72 306.74 246 308Z" fill="#4a9e3c" />
<path d="M233 322C232.55 320.26 231.95 318.18 230.29 317.23Q229.14 317.4 229.14 317.4Q229.14 317.4 228.77 318.5C229.42 320.3 231.37 321.25 233 322Z" fill="#4a9e3c" />
<path d="M266 312C266.17 310.21 266.32 308.05 265.08 306.59Q263.95 306.36 263.95 306.36Q263.95 306.36 263.22 307.26C263.22 309.18 264.72 310.74 266 312Z" fill="#4a9e3c" />
<path d="M271 318C272.48 316.98 274.23 315.71 274.56 313.82Q274 312.8 274 312.8Q274 312.8 272.84 312.83C271.37 314.06 271.14 316.21 271 318Z" fill="#4a9e3c" />
<path d="M289 312C290.28 310.74 291.78 309.18 291.78 307.26Q291.05 306.36 291.05 306.36Q291.05 306.36 289.92 306.59C288.68 308.05 288.83 310.21 289 312Z" fill="#4a9e3c" />
<path d="M284 322C283.86 320.21 283.63 318.06 282.16 316.83Q281 316.8 281 316.8Q281 316.8 280.44 317.82C280.77 319.71 282.52 320.98 284 322Z" fill="#4a9e3c" />
<path d="M262 322C260.98 320.52 259.71 318.77 257.82 318.44Q256.8 319 256.8 319Q256.8 319 256.83 320.16C258.06 321.63 260.21 321.86 262 322Z" fill="#4a9e3c" />
<path d="M296 318C297.74 317.55 299.82 316.95 300.77 315.29Q300.6 314.14 300.6 314.14Q300.6 314.14 299.5 313.77C297.7 314.42 296.75 316.37 296 318Z" fill="#4a9e3c" />
<path d="M225.0 302V331" stroke="#c9ab7a" stroke-width="1.8"/>
<path d="M277.8 302V343" stroke="#c9ab7a" stroke-width="1.5"/>
<path d="M223.6 305.5h2.8M223.6 308.5h2.8M276 304c3 3 3 6 0 9c-3 3-3 6 0 9c3 2 3 4 1 6" stroke="#d8d8e0" stroke-width="0.8" fill="none"/>
<path d="M231 340C230.87 336.62 230.64 332.52 228.31 328.7Q226.55 327.78 226.55 327.78Q226.55 327.78 225.8 329.61C226.47 334.04 228.93 337.33 231 340Z" fill="#2f8f2a" />
<path d="M231 340C232.33 336.64 233.88 332.52 233.41 327.74Q232.22 326.05 232.22 326.05Q232.22 326.05 230.76 327.51C229.46 332.14 230.27 336.46 231 340Z" fill="#348f2c" />
<path d="M231 340C233.63 337.52 236.77 334.44 238.37 329.91Q238 327.88 238 327.88Q238 327.88 236.06 328.57C232.93 332.22 231.84 336.48 231 340Z" fill="#2f8f2a" />
<path d="M231 340C229.45 336.73 227.5 332.79 223.68 329.88Q221.63 329.6 221.63 329.6Q221.63 329.6 221.7 331.66C224.2 335.76 227.91 338.12 231 340Z" fill="#33922c" />
<path d="M231 340C226.08 337.34 220.03 334.19 212.57 333.34Q209.75 334.31 209.75 334.31Q209.75 334.31 211.71 336.55C218.59 339.55 225.41 339.84 231 340Z" fill="#35a030" />
<path d="M231 340C227.94 336.89 224.15 333.16 218.68 331.16Q216.28 331.5 216.28 331.5Q216.28 331.5 217.18 333.75C221.65 337.49 226.77 338.91 231 340Z" fill="#3aa834" />
<path d="M231 340C226.28 341.23 220.56 342.82 215.56 346.99Q214.55 349.5 214.55 349.5Q214.55 349.5 217.23 349.87C223.34 347.63 227.58 343.47 231 340Z" fill="#2f9a2c" />
<path d="M231 340C235.66 338.66 241.3 336.94 246.35 332.87Q247.45 330.5 247.45 330.5Q247.45 330.5 244.85 330.27C238.8 332.61 234.49 336.64 231 340Z" fill="#36a532" />
<path d="M231 340C236.83 339.78 243.94 339.41 251.15 336.33Q253.22 334.05 253.22 334.05Q253.22 334.05 250.29 333.11C242.5 334.05 236.16 337.28 231 340Z" fill="#3fae38" />
<path d="M231 340C224.81 338.65 217.25 337.11 208.81 338.27Q206 340 206 340Q206 340 208.81 341.73C217.25 342.89 224.81 341.35 231 340Z" fill="#3aa834" />
<path d="M231 340C225.41 340.16 218.59 340.45 211.71 343.45Q209.75 345.69 209.75 345.69Q209.75 345.69 212.57 346.66C220.03 345.81 226.08 342.66 231 340Z" fill="#34a030" />
<path d="M231 340C237.44 341.35 245.3 342.89 254.07 341.73Q257 340 257 340Q257 340 254.07 338.27C245.3 337.11 237.44 338.65 231 340Z" fill="#34a030" />
<path d="M231 340C236.4 342.79 243.03 346.1 251.14 347.12Q254.18 346.21 254.18 346.21Q254.18 346.21 252.01 343.9C244.47 340.74 237.07 340.29 231 340Z" fill="#3aa834" />
<path d="M231 340C234.51 343.72 238.86 348.18 245.17 350.82Q247.96 350.6 247.96 350.6Q247.96 350.6 246.94 347.99C241.8 343.48 235.88 341.52 231 340Z" fill="#2f9c2c" />
<path d="M231 340C232.76 346.07 235.01 353.44 239.95 360.37Q242.74 362.07 242.74 362.07Q242.74 362.07 242.89 358.81C239.91 350.84 235.05 344.86 231 340Z" fill="#3cae36" />
<path d="M231 340C229.71 343.96 228.22 348.8 229.34 354.2Q231 356 231 356Q231 356 232.66 354.2C233.78 348.8 232.29 343.96 231 340Z" fill="#44b23b" />
<path d="M231 340C228.07 343.59 224.58 348.03 223.23 354.05Q223.97 356.57 223.97 356.57Q223.97 356.57 226.29 355.36C229.69 350.2 230.45 344.61 231 340Z" fill="#35a331" />
<path d="M231 340C226.93 342.23 222.04 345.04 218.53 350.12Q218.27 352.73 218.27 352.73Q218.27 352.73 220.88 352.47C225.96 348.96 228.77 344.07 231 340Z" fill="#3dae37" />
<path d="M231 340C225.91 341.66 219.73 343.77 214.31 348.46Q213.19 351.13 213.19 351.13Q213.19 351.13 216.08 351.29C222.68 348.47 227.28 343.85 231 340Z" fill="#2c8c28" />
<path d="M231 340C233.93 344.77 237.59 350.52 243.63 354.98Q246.56 355.56 246.56 355.56Q246.56 355.56 245.98 352.63C241.52 346.59 235.77 342.93 231 340Z" fill="#2f932b" />
<path d="M231 340C231.59 337.38 232.23 334.2 230.77 331.03Q229.26 330.15 229.26 330.15Q229.26 330.15 228.15 331.49C227.86 334.97 229.55 337.74 231 340Z" fill="#4cb844" />
<path d="M231 340C232.9 337.8 235.16 335.07 235.59 331.28Q234.76 329.66 234.76 329.66Q234.76 329.66 233.09 330.37C230.98 333.56 230.96 337.09 231 340Z" fill="#46b03e" />
<path d="M279 338C278.79 334.39 278.45 330.01 276 325.87Q274.21 324.84 274.21 324.84Q274.21 324.84 273.5 326.78C274.28 331.52 276.84 335.1 279 338Z" fill="#2f8f2a" />
<path d="M279 338C280.66 334.52 282.62 330.26 282.62 325.12Q281.6 323.23 281.6 323.23Q281.6 323.23 280 324.66C278.25 329.49 278.62 334.16 279 338Z" fill="#348f2c" />
<path d="M279 338C281.98 335.55 285.55 332.52 287.73 327.86Q287.6 325.71 287.6 325.71Q287.6 325.71 285.54 326.33C281.91 329.97 280.28 334.36 279 338Z" fill="#2f8f2a" />
<path d="M279 338C277.28 334.82 275.13 330.99 271.16 328.27Q269.1 328.1 269.1 328.1Q269.1 328.1 269.27 330.16C271.99 334.13 275.82 336.28 279 338Z" fill="#33922c" />
<path d="M279 338C274.52 335.59 269.02 332.74 262.24 331.96Q259.68 332.82 259.68 332.82Q259.68 332.82 261.47 334.85C267.73 337.57 273.92 337.84 279 338Z" fill="#3aa834" />
<path d="M279 338C273.76 336.94 267.36 335.74 260.32 337.05Q258.01 338.73 258.01 338.73Q258.01 338.73 260.43 340.25C267.55 341.07 273.85 339.42 279 338Z" fill="#b4ad48" />
<path d="M279 338C276.15 335.01 272.63 331.44 267.45 329.6Q265.14 330 265.14 330Q265.14 330 265.95 332.2C270.13 335.76 274.99 337.03 279 338Z" fill="#35a331" />
<path d="M279 338C274.21 338.86 268.4 340 263.04 343.68Q261.78 346.03 261.78 346.03Q261.78 346.03 264.39 346.58C270.65 344.83 275.26 341.11 279 338Z" fill="#b9b04a" />
<path d="M279 338C284.34 337.86 290.85 337.58 297.42 334.72Q299.28 332.56 299.28 332.56Q299.28 332.56 296.59 331.63C289.47 332.44 283.7 335.45 279 338Z" fill="#3cab36" />
<path d="M279 338C283.12 336.54 288.09 334.68 292.22 330.57Q292.93 328.25 292.93 328.25Q292.93 328.25 290.5 328.12C285.23 330.59 281.78 334.63 279 338Z" fill="#45b33a" />
<path d="M279 338C284.31 339.76 290.81 341.82 298.31 341.36Q300.92 339.92 300.92 339.92Q300.92 339.92 298.6 338.04C291.3 336.29 284.54 337.18 279 338Z" fill="#3aa834" />
<path d="M279 338C283.23 340.86 288.43 344.27 295.13 345.57Q297.79 344.84 297.79 344.84Q297.79 344.84 296.23 342.57C290.25 339.26 284.08 338.52 279 338Z" fill="#36a532" />
<path d="M279 338C281.61 341.82 284.87 346.4 290.21 349.49Q292.79 349.57 292.79 349.57Q292.79 349.57 292.26 347.04C288.3 342.32 283.21 339.91 279 338Z" fill="#34a030" />
<path d="M279 338C279.65 342.34 280.54 347.6 283.93 352.35Q286.18 353.41 286.18 353.41Q286.18 353.41 286.82 351C285.37 345.35 281.9 341.29 279 338Z" fill="#3aa834" />
<path d="M279 338C277.23 342.25 275.15 347.46 275.29 353.61Q276.49 355.82 276.49 355.82Q276.49 355.82 278.26 354.03C280.1 348.15 279.53 342.57 279 338Z" fill="#b0aa44" />
<path d="M279 338C275.93 341.13 272.26 345 270.51 350.57Q271.02 353.01 271.02 353.01Q271.02 353.01 273.33 352.07C276.96 347.51 278.12 342.3 279 338Z" fill="#35a331" />
<path d="M279 338C275.38 339.98 271.01 342.46 267.9 346.98Q267.69 349.31 267.69 349.31Q267.69 349.31 270.02 349.1C274.54 345.99 277.02 341.62 279 338Z" fill="#3cab36" />
<path d="M279 338C278.5 341.86 277.97 346.56 279.84 351.37Q281.6 352.77 281.6 352.77Q281.6 352.77 282.79 350.85C282.89 345.69 280.79 341.45 279 338Z" fill="#44b23b" />
</g>
<text x="228.2" y="366.0" font-size="8" fill="#f2f2f2" class="w">WT</text>
<text x="262.6" y="366.0" font-size="8" font-style="italic" fill="#f2f2f2" class="w">maf5</text>
<rect x="188.6" y="387.8" width="189.6" height="73.7" fill="#030303"/>
<path d="M201.4 416.2C202.8 415.25 204.4 414.1 203.2 412.52Q201.4 412 201.4 412Q201.4 412 199.6 412.52C198.4 414.1 200 415.25 201.4 416.2Z" fill="#b8b43a" />
<path d="M210.5 419C212.25 416.52 214.25 413.5 212.75 410.12Q210.5 409 210.5 409Q210.5 409 208.25 410.12C206.75 413.5 208.75 416.52 210.5 419Z" fill="#c0bb3c" />
<path d="M222.42 420C225.02 417.57 228.03 414.57 226.66 410.56Q223.98 408.91 223.98 408.91Q223.98 408.91 220.95 409.76C218.52 413.23 220.59 416.94 222.42 420Z" fill="#a8b23a" />
<path d="M240.52 420.5C241.89 415.5 243.43 409.41 241.13 403.03Q238.48 401.11 238.48 401.11Q238.48 401.11 236.29 403.54C235.37 410.26 238.14 415.9 240.52 420.5Z" fill="#1e9038" />
<path d="M258.76 418.6C260 412.7 261.33 405.53 258.12 398.35Q254.84 396.34 254.84 396.34Q254.84 396.34 252.44 399.35C251.88 407.19 255.58 413.48 258.76 418.6Z" fill="#1f8f37" />
<path d="M271.67 421.4C276.29 415.95 281.76 409.23 283.45 399.93Q281.93 396 281.93 396Q281.93 396 278.11 397.77C272.86 405.63 272.13 414.27 271.67 421.4Z" fill="#1d8c36" />
<path d="M301.09 418.6C303.13 413.18 305.41 406.59 302.47 399.8Q298.91 397.81 298.91 397.81Q298.91 397.81 295.84 400.5C294.37 407.75 297.98 413.73 301.09 418.6Z" fill="#1f8f38" />
<path d="M319.7 417.7C321.79 412.88 324.21 406.99 323.19 400.15Q321.1 397.75 321.1 397.75Q321.1 397.75 318.7 399.84C316.73 406.47 318.3 412.64 319.7 417.7Z" fill="#1d8d36" />
<path d="M331.61 416C334.3 413.29 337.48 409.94 337.8 405.03Q336.39 402.84 336.39 402.84Q336.39 402.84 333.91 403.62C331 407.58 331.28 412.19 331.61 416Z" fill="#1e8d37" />
<path d="M351.3 416C352.63 412.54 354.15 408.3 353.01 403.57Q351.3 402 351.3 402Q351.3 402 349.59 403.57C348.45 408.3 349.97 412.54 351.3 416Z" fill="#1d9239" />
<path d="M363.33 414C364.23 412.48 365.24 410.63 364.1 408.38Q362.67 407.73 362.67 407.73Q362.67 407.73 361.41 408.66C360.76 411.1 362.14 412.7 363.33 414Z" fill="#1c8e38" />
<path d="M372.4 413C373.1 412.21 373.9 411.25 373.3 409.94Q372.4 409.5 372.4 409.5Q372.4 409.5 371.5 409.94C370.9 411.25 371.7 412.21 372.4 413Z" fill="#1a8a36" />
<path d="M200 457C201.47 455.76 203.15 454.25 201.89 452.19Q200 451.5 200 451.5Q200 451.5 198.11 452.19C196.85 454.25 198.53 455.76 200 457Z" fill="#b8b43a" />
<path d="M212.38 458C213.73 455.18 215.25 451.73 213.68 448.12Q211.62 447.03 211.62 447.03Q211.62 447.03 209.73 448.4C208.67 452.19 210.66 455.39 212.38 458Z" fill="#bab63a" />
<path d="M226.87 457.5C228.31 454.17 229.92 450.13 227.73 446.18Q225.13 445.12 225.13 445.12Q225.13 445.12 222.92 446.85C221.9 451.26 224.57 454.7 226.87 457.5Z" fill="#a9b03a" />
<path d="M238.39 459.5C240.3 455.29 242.5 450.14 241.54 444.15Q239.61 442.04 239.61 442.04Q239.61 442.04 237.41 443.86C235.62 449.66 237.09 455.07 238.39 459.5Z" fill="#1e9038" />
<path d="M253.66 456.8C257.03 451.9 261.01 445.86 261.57 438.02Q259.94 434.88 259.94 434.88Q259.94 434.88 256.9 436.68C253.22 443.63 253.4 450.85 253.66 456.8Z" fill="#288f34" />
<path d="M267.08 456.8C269.71 451.72 272.76 445.49 272.18 437.98Q270.12 435.21 270.12 435.21Q270.12 435.21 267.37 437.3C264.74 444.36 265.96 451.19 267.08 456.8Z" fill="#2a9036" />
<path d="M292.34 454C293.82 450.08 295.49 445.29 293.63 440.21Q291.26 438.64 291.26 438.64Q291.26 438.64 289.14 440.52C288.01 445.81 290.33 450.32 292.34 454Z" fill="#1f8e37" />
<path d="M309.95 453.2C312.21 449.7 314.83 445.4 314.38 440.01Q312.65 437.94 312.65 437.94Q312.65 437.94 310.3 439.29C308.04 444.21 309.03 449.14 309.95 453.2Z" fill="#1d8d36" />
<path d="M331.5 451.4C332.9 447.79 334.5 443.37 333.3 438.44Q331.5 436.8 331.5 436.8Q331.5 436.8 329.7 438.44C328.5 443.37 330.1 447.79 331.5 451.4Z" fill="#1e8d37" />
<path d="M348.17 449.5C349.35 446.66 350.68 443.21 349.04 439.68Q347.03 438.66 347.03 438.66Q347.03 438.66 345.28 440.08C344.41 443.87 346.43 446.97 348.17 449.5Z" fill="#1d9239" />
<path d="M360.5 447.7C361.69 445.45 363.05 442.69 362.03 439.62Q360.5 438.6 360.5 438.6Q360.5 438.6 358.97 439.62C357.95 442.69 359.31 445.45 360.5 447.7Z" fill="#1c9038" />
<path d="M372.18 446.8C372.91 445.47 373.73 443.85 372.68 441.96Q371.42 441.45 371.42 441.45Q371.42 441.45 370.36 442.28C369.87 444.4 371.11 445.72 372.18 446.8Z" fill="#1a8a36" />
<circle cx="256.5" cy="436.5" r="1.2" fill="#d4b82c"/>
<circle cx="269" cy="439" r="1" fill="#d4b82c"/>
<circle cx="268" cy="446" r="0.9" fill="#d4b82c"/>
<circle cx="291.5" cy="439.5" r="1.1" fill="#d4b82c"/>
<circle cx="239.3" cy="402" r="0.8" fill="#d4b82c"/>
<circle cx="226" cy="449" r="1.2" fill="#d4b82c"/>
<text x="172.4" y="419.5" font-size="7.2" fill="#222">WT</text>
<text x="170.2" y="454.8" font-size="7.2" font-style="italic" fill="#222">maf5</text>
<clipPath id="hclip"><rect x="396.6" y="291.2" width="147" height="163.5"/></clipPath>
<g clip-path="url(#hclip)">
<path fill="#d6d6d6" d="M436 425L506 425L504 433L497 441L487 446.5L474 448L462 446.5L451 441L443 433ZM465.5 425L465.5 406L469 396L477 390.5L487.5 389.5L488.3 425ZM481.5 392L483.5 376L486.5 366L488.3 363L488.3 392ZM447 424.7L451 416L458 412L461.7 411L461.7 424.7ZM488.3 425L512 425L508 433L500 439L488.3 442Z"/>
<path fill="#d2d2d2" d="M487.05 442.92a1.15 1.15 0 1 0 2.3 0a1.15 1.15 0 1 0-2.3 0M474.23 440.03a1.15 1.15 0 1 0 2.3 0a1.15 1.15 0 1 0-2.3 0M520.08 426.43a1.15 1.15 0 1 0 2.3 0a1.15 1.15 0 1 0-2.3 0M475.54 439.09a1.15 1.15 0 1 0 2.3 0a1.15 1.15 0 1 0-2.3 0M481.55 446.77a1.15 1.15 0 1 0 2.3 0a1.15 1.15 0 1 0-2.3 0M506 432.1a1.15 1.15 0 1 0 2.3 0a1.15 1.15 0 1 0-2.3 0M464.63 443.95a1.15 1.15 0 1 0 2.3 0a1.15 1.15 0 1 0-2.3 0M469.9 445.92a1.15 1.15 0 1 0 2.3 0a1.15 1.15 0 1 0-2.3 0M482.84 444.46a1.15 1.15 0 1 0 2.3 0a1.15 1.15 0 1 0-2.3 0M474.25 440.78a1.15 1.15 0 1 0 2.3 0a1.15 1.15 0 1 0-2.3 0M459.93 439.63a1.15 1.15 0 1 0 2.3 0a1.15 1.15 0 1 0-2.3 0M476.33 447.17a1.15 1.15 0 1 0 2.3 0a1.15 1.15 0 1 0-2.3 0M473.77 444.35a1.15 1.15 0 1 0 2.3 0a1.15 1.15 0 1 0-2.3 0M489.74 444.96a1.15 1.15 0 1 0 2.3 0a1.15 1.15 0 1 0-2.3 0M452.09 435.37a1.15 1.15 0 1 0 2.3 0a1.15 1.15 0 1 0-2.3 0M468.1 444.76a1.15 1.15 0 1 0 2.3 0a1.15 1.15 0 1 0-2.3 0M498.84 441.64a1.15 1.15 0 1 0 2.3 0a1.15 1.15 0 1 0-2.3 0M510.56 431.53a1.15 1.15 0 1 0 2.3 0a1.15 1.15 0 1 0-2.3 0M454.64 439.74a1.15 1.15 0 1 0 2.3 0a1.15 1.15 0 1 0-2.3 0M490.43 438.54a1.15 1.15 0 1 0 2.3 0a1.15 1.15 0 1 0-2.3 0M463.45 442.08a1.15 1.15 0 1 0 2.3 0a1.15 1.15 0 1 0-2.3 0M465.5 442.62a1.15 1.15 0 1 0 2.3 0a1.15 1.15 0 1 0-2.3 0M465.25 443.05a1.15 1.15 0 1 0 2.3 0a1.15 1.15 0 1 0-2.3 0M472.71 442.52a1.15 1.15 0 1 0 2.3 0a1.15 1.15 0 1 0-2.3 0M491.55 442.73a1.15 1.15 0 1 0 2.3 0a1.15 1.15 0 1 0-2.3 0M480.71 446.89a1.15 1.15 0 1 0 2.3 0a1.15 1.15 0 1 0-2.3 0M473.7 446.04a1.15 1.15 0 1 0 2.3 0a1.15 1.15 0 1 0-2.3 0M479.78 444.28a1.15 1.15 0 1 0 2.3 0a1.15 1.15 0 1 0-2.3 0M477.97 435.14a1.15 1.15 0 1 0 2.3 0a1.15 1.15 0 1 0-2.3 0M492.89 442.22a1.15 1.15 0 1 0 2.3 0a1.15 1.15 0 1 0-2.3 0M469.24 436.03a1.15 1.15 0 1 0 2.3 0a1.15 1.15 0 1 0-2.3 0M479.62 445.36a1.15 1.15 0 1 0 2.3 0a1.15 1.15 0 1 0-2.3 0M478.05 439.43a1.15 1.15 0 1 0 2.3 0a1.15 1.15 0 1 0-2.3 0M478.86 446.12a1.15 1.15 0 1 0 2.3 0a1.15 1.15 0 1 0-2.3 0M483.86 435.45a1.15 1.15 0 1 0 2.3 0a1.15 1.15 0 1 0-2.3 0M483.01 440.71a1.15 1.15 0 1 0 2.3 0a1.15 1.15 0 1 0-2.3 0M501.88 437.74a1.15 1.15 0 1 0 2.3 0a1.15 1.15 0 1 0-2.3 0M478.28 417.19a1.15 1.15 0 1 0 2.3 0a1.15 1.15 0 1 0-2.3 0M505.65 433.89a1.15 1.15 0 1 0 2.3 0a1.15 1.15 0 1 0-2.3 0M474.65 422.55a1.15 1.15 0 1 0 2.3 0a1.15 1.15 0 1 0-2.3 0M471.8 440.96a1.15 1.15 0 1 0 2.3 0a1.15 1.15 0 1 0-2.3 0M481.4 429.74a1.15 1.15 0 1 0 2.3 0a1.15 1.15 0 1 0-2.3 0M485.63 439.6a1.15 1.15 0 1 0 2.3 0a1.15 1.15 0 1 0-2.3 0M484.2 442.14a1.15 1.15 0 1 0 2.3 0a1.15 1.15 0 1 0-2.3 0M501.17 439.59a1.15 1.15 0 1 0 2.3 0a1.15 1.15 0 1 0-2.3 0M498.64 440.32a1.15 1.15 0 1 0 2.3 0a1.15 1.15 0 1 0-2.3 0M487.93 442.93a1.15 1.15 0 1 0 2.3 0a1.15 1.15 0 1 0-2.3 0M474.14 446.15a1.15 1.15 0 1 0 2.3 0a1.15 1.15 0 1 0-2.3 0M478.06 442.64a1.15 1.15 0 1 0 2.3 0a1.15 1.15 0 1 0-2.3 0M483.4 440.29a1.15 1.15 0 1 0 2.3 0a1.15 1.15 0 1 0-2.3 0M457.97 443.6a1.15 1.15 0 1 0 2.3 0a1.15 1.15 0 1 0-2.3 0M468.28 444.71a1.15 1.15 0 1 0 2.3 0a1.15 1.15 0 1 0-2.3 0M470.14 435.09a1.15 1.15 0 1 0 2.3 0a1.15 1.15 0 1 0-2.3 0M498.85 438.07a1.15 1.15 0 1 0 2.3 0a1.15 1.15 0 1 0-2.3 0M477.95 446.61a1.15 1.15 0 1 0 2.3 0a1.15 1.15 0 1 0-2.3 0M517.24 429.05a1.15 1.15 0 1 0 2.3 0a1.15 1.15 0 1 0-2.3 0M490.63 444.33a1.15 1.15 0 1 0 2.3 0a1.15 1.15 0 1 0-2.3 0M481.8 429.99a1.15 1.15 0 1 0 2.3 0a1.15 1.15 0 1 0-2.3 0M472.49 440.18a1.15 1.15 0 1 0 2.3 0a1.15 1.15 0 1 0-2.3 0M495.86 440.04a1.15 1.15 0 1 0 2.3 0a1.15 1.15 0 1 0-2.3 0M475.73 439.33a1.15 1.15 0 1 0 2.3 0a1.15 1.15 0 1 0-2.3 0M466.05 441.74a1.15 1.15 0 1 0 2.3 0a1.15 1.15 0 1 0-2.3 0M489.16 443.32a1.15 1.15 0 1 0 2.3 0a1.15 1.15 0 1 0-2.3 0M479.94 440.64a1.15 1.15 0 1 0 2.3 0a1.15 1.15 0 1 0-2.3 0M499.46 441.1a1.15 1.15 0 1 0 2.3 0a1.15 1.15 0 1 0-2.3 0M478.5 440.86a1.15 1.15 0 1 0 2.3 0a1.15 1.15 0 1 0-2.3 0M492.83 435.48a1.15 1.15 0 1 0 2.3 0a1.15 1.15 0 1 0-2.3 0M448.56 438.14a1.15 1.15 0 1 0 2.3 0a1.15 1.15 0 1 0-2.3 0M505.27 436.69a1.15 1.15 0 1 0 2.3 0a1.15 1.15 0 1 0-2.3 0M472.64 446.13a1.15 1.15 0 1 0 2.3 0a1.15 1.15 0 1 0-2.3 0M460.39 443.4a1.15 1.15 0 1 0 2.3 0a1.15 1.15 0 1 0-2.3 0M456.53 442.32a1.15 1.15 0 1 0 2.3 0a1.15 1.15 0 1 0-2.3 0M494.21 444.75a1.15 1.15 0 1 0 2.3 0a1.15 1.15 0 1 0-2.3 0M476.37 445.1a1.15 1.15 0 1 0 2.3 0a1.15 1.15 0 1 0-2.3 0M469.79 443.17a1.15 1.15 0 1 0 2.3 0a1.15 1.15 0 1 0-2.3 0M475.69 426.32a1.15 1.15 0 1 0 2.3 0a1.15 1.15 0 1 0-2.3 0M514.4 433.48a1.15 1.15 0 1 0 2.3 0a1.15 1.15 0 1 0-2.3 0M485.48 433.18a1.15 1.15 0 1 0 2.3 0a1.15 1.15 0 1 0-2.3 0M492.11 441.31a1.15 1.15 0 1 0 2.3 0a1.15 1.15 0 1 0-2.3 0M492.62 443.69a1.15 1.15 0 1 0 2.3 0a1.15 1.15 0 1 0-2.3 0M496.63 441.35a1.15 1.15 0 1 0 2.3 0a1.15 1.15 0 1 0-2.3 0M497.34 436.16a1.15 1.15 0 1 0 2.3 0a1.15 1.15 0 1 0-2.3 0M467.93 443.68a1.15 1.15 0 1 0 2.3 0a1.15 1.15 0 1 0-2.3 0M476.15 443.87a1.15 1.15 0 1 0 2.3 0a1.15 1.15 0 1 0-2.3 0M467.1 442.97a1.15 1.15 0 1 0 2.3 0a1.15 1.15 0 1 0-2.3 0M467.92 440.23a1.15 1.15 0 1 0 2.3 0a1.15 1.15 0 1 0-2.3 0M498.68 429.11a1.15 1.15 0 1 0 2.3 0a1.15 1.15 0 1 0-2.3 0M471.4 446.92a1.15 1.15 0 1 0 2.3 0a1.15 1.15 0 1 0-2.3 0M478.41 442.35a1.15 1.15 0 1 0 2.3 0a1.15 1.15 0 1 0-2.3 0M468.23 434.02a1.15 1.15 0 1 0 2.3 0a1.15 1.15 0 1 0-2.3 0M469.88 445.88a1.15 1.15 0 1 0 2.3 0a1.15 1.15 0 1 0-2.3 0M492.81 445.07a1.15 1.15 0 1 0 2.3 0a1.15 1.15 0 1 0-2.3 0M472.33 427.68a1.15 1.15 0 1 0 2.3 0a1.15 1.15 0 1 0-2.3 0M471.72 437.33a1.15 1.15 0 1 0 2.3 0a1.15 1.15 0 1 0-2.3 0M487.92 437.8a1.15 1.15 0 1 0 2.3 0a1.15 1.15 0 1 0-2.3 0M488.03 445.89a1.15 1.15 0 1 0 2.3 0a1.15 1.15 0 1 0-2.3 0M492.88 440.14a1.15 1.15 0 1 0 2.3 0a1.15 1.15 0 1 0-2.3 0M482.56 441.88a1.15 1.15 0 1 0 2.3 0a1.15 1.15 0 1 0-2.3 0M450.61 439.28a1.15 1.15 0 1 0 2.3 0a1.15 1.15 0 1 0-2.3 0M490.19 434.53a1.15 1.15 0 1 0 2.3 0a1.15 1.15 0 1 0-2.3 0M488 440.61a1.15 1.15 0 1 0 2.3 0a1.15 1.15 0 1 0-2.3 0M496.63 436.06a1.15 1.15 0 1 0 2.3 0a1.15 1.15 0 1 0-2.3 0M465.67 427.33a1.15 1.15 0 1 0 2.3 0a1.15 1.15 0 1 0-2.3 0M459.27 435.4a1.15 1.15 0 1 0 2.3 0a1.15 1.15 0 1 0-2.3 0M491.79 443.94a1.15 1.15 0 1 0 2.3 0a1.15 1.15 0 1 0-2.3 0M480.49 445.99a1.15 1.15 0 1 0 2.3 0a1.15 1.15 0 1 0-2.3 0M471.64 446.12a1.15 1.15 0 1 0 2.3 0a1.15 1.15 0 1 0-2.3 0M493.27 440.5a1.15 1.15 0 1 0 2.3 0a1.15 1.15 0 1 0-2.3 0M475.05 446.3a1.15 1.15 0 1 0 2.3 0a1.15 1.15 0 1 0-2.3 0M440.95 433.69a1.15 1.15 0 1 0 2.3 0a1.15 1.15 0 1 0-2.3 0M460.35 439.34a1.15 1.15 0 1 0 2.3 0a1.15 1.15 0 1 0-2.3 0M487.32 437.87a1.15 1.15 0 1 0 2.3 0a1.15 1.15 0 1 0-2.3 0M455.14 430.08a1.15 1.15 0 1 0 2.3 0a1.15 1.15 0 1 0-2.3 0M479.44 438.31a1.15 1.15 0 1 0 2.3 0a1.15 1.15 0 1 0-2.3 0M503.81 434.79a1.15 1.15 0 1 0 2.3 0a1.15 1.15 0 1 0-2.3 0M489.8 439.13a1.15 1.15 0 1 0 2.3 0a1.15 1.15 0 1 0-2.3 0M473.49 441.74a1.15 1.15 0 1 0 2.3 0a1.15 1.15 0 1 0-2.3 0M456.12 443.15a1.15 1.15 0 1 0 2.3 0a1.15 1.15 0 1 0-2.3 0M450.16 431.18a1.15 1.15 0 1 0 2.3 0a1.15 1.15 0 1 0-2.3 0M467.31 443.55a1.15 1.15 0 1 0 2.3 0a1.15 1.15 0 1 0-2.3 0M473.61 437.47a1.15 1.15 0 1 0 2.3 0a1.15 1.15 0 1 0-2.3 0M451.61 438.76a1.15 1.15 0 1 0 2.3 0a1.15 1.15 0 1 0-2.3 0M484.77 430.5a1.15 1.15 0 1 0 2.3 0a1.15 1.15 0 1 0-2.3 0M472.94 438.11a1.15 1.15 0 1 0 2.3 0a1.15 1.15 0 1 0-2.3 0M467.2 444.36a1.15 1.15 0 1 0 2.3 0a1.15 1.15 0 1 0-2.3 0M472.96 444.82a1.15 1.15 0 1 0 2.3 0a1.15 1.15 0 1 0-2.3 0M466.24 434.47a1.15 1.15 0 1 0 2.3 0a1.15 1.15 0 1 0-2.3 0M495.12 443.67a1.15 1.15 0 1 0 2.3 0a1.15 1.15 0 1 0-2.3 0M506.95 429.84a1.15 1.15 0 1 0 2.3 0a1.15 1.15 0 1 0-2.3 0M514.15 433.94a1.15 1.15 0 1 0 2.3 0a1.15 1.15 0 1 0-2.3 0M491.51 443.68a1.15 1.15 0 1 0 2.3 0a1.15 1.15 0 1 0-2.3 0M492.13 438.13a1.15 1.15 0 1 0 2.3 0a1.15 1.15 0 1 0-2.3 0M504.01 427.57a1.15 1.15 0 1 0 2.3 0a1.15 1.15 0 1 0-2.3 0M508.58 430.3a1.15 1.15 0 1 0 2.3 0a1.15 1.15 0 1 0-2.3 0M504.05 427.07a1.15 1.15 0 1 0 2.3 0a1.15 1.15 0 1 0-2.3 0M499.85 428.87a1.15 1.15 0 1 0 2.3 0a1.15 1.15 0 1 0-2.3 0M469.19 442.03a1.15 1.15 0 1 0 2.3 0a1.15 1.15 0 1 0-2.3 0M453.17 436.37a1.15 1.15 0 1 0 2.3 0a1.15 1.15 0 1 0-2.3 0M494.29 442.67a1.15 1.15 0 1 0 2.3 0a1.15 1.15 0 1 0-2.3 0M478.17 443.78a1.15 1.15 0 1 0 2.3 0a1.15 1.15 0 1 0-2.3 0M478.8 446.35a1.15 1.15 0 1 0 2.3 0a1.15 1.15 0 1 0-2.3 0M464.96 440.01a1.15 1.15 0 1 0 2.3 0a1.15 1.15 0 1 0-2.3 0M503 440.63a1.15 1.15 0 1 0 2.3 0a1.15 1.15 0 1 0-2.3 0M487.45 439.49a1.15 1.15 0 1 0 2.3 0a1.15 1.15 0 1 0-2.3 0M462.05 439.51a1.15 1.15 0 1 0 2.3 0a1.15 1.15 0 1 0-2.3 0M486.21 440.16a1.15 1.15 0 1 0 2.3 0a1.15 1.15 0 1 0-2.3 0M484.8 436.01a1.15 1.15 0 1 0 2.3 0a1.15 1.15 0 1 0-2.3 0M488.39 438.04a1.15 1.15 0 1 0 2.3 0a1.15 1.15 0 1 0-2.3 0M516.8 431.78a1.15 1.15 0 1 0 2.3 0a1.15 1.15 0 1 0-2.3 0M479.15 443.64a1.15 1.15 0 1 0 2.3 0a1.15 1.15 0 1 0-2.3 0M458.48 438.74a1.15 1.15 0 1 0 2.3 0a1.15 1.15 0 1 0-2.3 0M480.33 445.52a1.15 1.15 0 1 0 2.3 0a1.15 1.15 0 1 0-2.3 0M469 442.07a1.15 1.15 0 1 0 2.3 0a1.15 1.15 0 1 0-2.3 0M488.83 442.5a1.15 1.15 0 1 0 2.3 0a1.15 1.15 0 1 0-2.3 0M483.22 438.93a1.15 1.15 0 1 0 2.3 0a1.15 1.15 0 1 0-2.3 0M485.48 446.4a1.15 1.15 0 1 0 2.3 0a1.15 1.15 0 1 0-2.3 0M470.31 445.35a1.15 1.15 0 1 0 2.3 0a1.15 1.15 0 1 0-2.3 0M486.59 446.28a1.15 1.15 0 1 0 2.3 0a1.15 1.15 0 1 0-2.3 0M471.26 445.93a1.15 1.15 0 1 0 2.3 0a1.15 1.15 0 1 0-2.3 0M488.31 439.74a1.15 1.15 0 1 0 2.3 0a1.15 1.15 0 1 0-2.3 0M474.73 445.35a1.15 1.15 0 1 0 2.3 0a1.15 1.15 0 1 0-2.3 0M461.16 441.55a1.15 1.15 0 1 0 2.3 0a1.15 1.15 0 1 0-2.3 0M488 426.89a1.15 1.15 0 1 0 2.3 0a1.15 1.15 0 1 0-2.3 0M468 443.77a1.15 1.15 0 1 0 2.3 0a1.15 1.15 0 1 0-2.3 0M503.69 438.88a1.15 1.15 0 1 0 2.3 0a1.15 1.15 0 1 0-2.3 0M487.08 439.95a1.15 1.15 0 1 0 2.3 0a1.15 1.15 0 1 0-2.3 0M487.49 444.85a1.15 1.15 0 1 0 2.3 0a1.15 1.15 0 1 0-2.3 0M481.41 427.67a1.15 1.15 0 1 0 2.3 0a1.15 1.15 0 1 0-2.3 0M478.74 442.07a1.15 1.15 0 1 0 2.3 0a1.15 1.15 0 1 0-2.3 0M500.01 436.26a1.15 1.15 0 1 0 2.3 0a1.15 1.15 0 1 0-2.3 0M466.22 445.95a1.15 1.15 0 1 0 2.3 0a1.15 1.15 0 1 0-2.3 0M495.6 430.38a1.15 1.15 0 1 0 2.3 0a1.15 1.15 0 1 0-2.3 0M469.13 446.52a1.15 1.15 0 1 0 2.3 0a1.15 1.15 0 1 0-2.3 0M477.35 439.82a1.15 1.15 0 1 0 2.3 0a1.15 1.15 0 1 0-2.3 0M476 442.53a1.15 1.15 0 1 0 2.3 0a1.15 1.15 0 1 0-2.3 0M462.49 439.35a1.15 1.15 0 1 0 2.3 0a1.15 1.15 0 1 0-2.3 0M476.88 439.64a1.15 1.15 0 1 0 2.3 0a1.15 1.15 0 1 0-2.3 0M487.63 443.58a1.15 1.15 0 1 0 2.3 0a1.15 1.15 0 1 0-2.3 0M472.85 446.53a1.15 1.15 0 1 0 2.3 0a1.15 1.15 0 1 0-2.3 0M458.74 437.66a1.15 1.15 0 1 0 2.3 0a1.15 1.15 0 1 0-2.3 0M470.21 434.54a1.15 1.15 0 1 0 2.3 0a1.15 1.15 0 1 0-2.3 0M483.87 440.17a1.15 1.15 0 1 0 2.3 0a1.15 1.15 0 1 0-2.3 0M498.77 439.99a1.15 1.15 0 1 0 2.3 0a1.15 1.15 0 1 0-2.3 0M493.6 440.53a1.15 1.15 0 1 0 2.3 0a1.15 1.15 0 1 0-2.3 0M484.5 441.12a1.15 1.15 0 1 0 2.3 0a1.15 1.15 0 1 0-2.3 0M463.2 440.98a1.15 1.15 0 1 0 2.3 0a1.15 1.15 0 1 0-2.3 0M494.78 444.63a1.15 1.15 0 1 0 2.3 0a1.15 1.15 0 1 0-2.3 0M480.13 446.11a1.15 1.15 0 1 0 2.3 0a1.15 1.15 0 1 0-2.3 0M475.74 446.79a1.15 1.15 0 1 0 2.3 0a1.15 1.15 0 1 0-2.3 0M494.83 442.63a1.15 1.15 0 1 0 2.3 0a1.15 1.15 0 1 0-2.3 0M489.98 443.63a1.15 1.15 0 1 0 2.3 0a1.15 1.15 0 1 0-2.3 0M488.02 444.7a1.15 1.15 0 1 0 2.3 0a1.15 1.15 0 1 0-2.3 0M460.61 430.56a1.15 1.15 0 1 0 2.3 0a1.15 1.15 0 1 0-2.3 0M469.59 438.36a1.15 1.15 0 1 0 2.3 0a1.15 1.15 0 1 0-2.3 0M451.44 441.1a1.15 1.15 0 1 0 2.3 0a1.15 1.15 0 1 0-2.3 0M482.95 445.73a1.15 1.15 0 1 0 2.3 0a1.15 1.15 0 1 0-2.3 0M480.19 429.17a1.15 1.15 0 1 0 2.3 0a1.15 1.15 0 1 0-2.3 0M495.21 439.76a1.15 1.15 0 1 0 2.3 0a1.15 1.15 0 1 0-2.3 0M483.25 442.62a1.15 1.15 0 1 0 2.3 0a1.15 1.15 0 1 0-2.3 0M473.62 442.64a1.15 1.15 0 1 0 2.3 0a1.15 1.15 0 1 0-2.3 0M462.64 428.71a1.15 1.15 0 1 0 2.3 0a1.15 1.15 0 1 0-2.3 0M457.54 436.79a1.15 1.15 0 1 0 2.3 0a1.15 1.15 0 1 0-2.3 0M469.59 441.96a1.15 1.15 0 1 0 2.3 0a1.15 1.15 0 1 0-2.3 0M488.44 437.05a1.15 1.15 0 1 0 2.3 0a1.15 1.15 0 1 0-2.3 0M473.93 445.32a1.15 1.15 0 1 0 2.3 0a1.15 1.15 0 1 0-2.3 0M472.41 439.34a1.15 1.15 0 1 0 2.3 0a1.15 1.15 0 1 0-2.3 0M461.11 441.34a1.15 1.15 0 1 0 2.3 0a1.15 1.15 0 1 0-2.3 0M504.18 440.48a1.15 1.15 0 1 0 2.3 0a1.15 1.15 0 1 0-2.3 0M469.38 444.65a1.15 1.15 0 1 0 2.3 0a1.15 1.15 0 1 0-2.3 0M461.79 436.64a1.15 1.15 0 1 0 2.3 0a1.15 1.15 0 1 0-2.3 0M477.69 444.61a1.15 1.15 0 1 0 2.3 0a1.15 1.15 0 1 0-2.3 0M466.32 438.29a1.15 1.15 0 1 0 2.3 0a1.15 1.15 0 1 0-2.3 0M475.87 442.28a1.15 1.15 0 1 0 2.3 0a1.15 1.15 0 1 0-2.3 0M472.31 443.92a1.15 1.15 0 1 0 2.3 0a1.15 1.15 0 1 0-2.3 0M478.9 440.22a1.15 1.15 0 1 0 2.3 0a1.15 1.15 0 1 0-2.3 0M473.61 444.07a1.15 1.15 0 1 0 2.3 0a1.15 1.15 0 1 0-2.3 0M476.54 446.73a1.15 1.15 0 1 0 2.3 0a1.15 1.15 0 1 0-2.3 0M493.33 433.67a1.15 1.15 0 1 0 2.3 0a1.15 1.15 0 1 0-2.3 0M488.55 446.2a1.15 1.15 0 1 0 2.3 0a1.15 1.15 0 1 0-2.3 0M474.06 438.64a1.15 1.15 0 1 0 2.3 0a1.15 1.15 0 1 0-2.3 0M464.27 436.82a1.15 1.15 0 1 0 2.3 0a1.15 1.15 0 1 0-2.3 0M477.5 444.85a1.15 1.15 0 1 0 2.3 0a1.15 1.15 0 1 0-2.3 0M493.55 443.49a1.15 1.15 0 1 0 2.3 0a1.15 1.15 0 1 0-2.3 0M479.44 441.17a1.15 1.15 0 1 0 2.3 0a1.15 1.15 0 1 0-2.3 0M477.61 444.08a1.15 1.15 0 1 0 2.3 0a1.15 1.15 0 1 0-2.3 0M449.71 429.21a1.15 1.15 0 1 0 2.3 0a1.15 1.15 0 1 0-2.3 0M496.23 436.15a1.15 1.15 0 1 0 2.3 0a1.15 1.15 0 1 0-2.3 0M454.97 438.17a1.15 1.15 0 1 0 2.3 0a1.15 1.15 0 1 0-2.3 0M458.44 441.54a1.15 1.15 0 1 0 2.3 0a1.15 1.15 0 1 0-2.3 0M473.49 434.45a1.15 1.15 0 1 0 2.3 0a1.15 1.15 0 1 0-2.3 0M480.3 443.68a1.15 1.15 0 1 0 2.3 0a1.15 1.15 0 1 0-2.3 0M480.47 441.46a1.15 1.15 0 1 0 2.3 0a1.15 1.15 0 1 0-2.3 0M467.05 443.32a1.15 1.15 0 1 0 2.3 0a1.15 1.15 0 1 0-2.3 0M474.53 438.59a1.15 1.15 0 1 0 2.3 0a1.15 1.15 0 1 0-2.3 0M469.65 437.61a1.15 1.15 0 1 0 2.3 0a1.15 1.15 0 1 0-2.3 0M449.69 434.54a1.15 1.15 0 1 0 2.3 0a1.15 1.15 0 1 0-2.3 0M475.48 443.7a1.15 1.15 0 1 0 2.3 0a1.15 1.15 0 1 0-2.3 0M468.21 435.25a1.15 1.15 0 1 0 2.3 0a1.15 1.15 0 1 0-2.3 0M486.68 436.82a1.15 1.15 0 1 0 2.3 0a1.15 1.15 0 1 0-2.3 0M477.32 445.7a1.15 1.15 0 1 0 2.3 0a1.15 1.15 0 1 0-2.3 0M495.73 429.49a1.15 1.15 0 1 0 2.3 0a1.15 1.15 0 1 0-2.3 0M491.28 434.61a1.15 1.15 0 1 0 2.3 0a1.15 1.15 0 1 0-2.3 0M494.66 433.9a1.15 1.15 0 1 0 2.3 0a1.15 1.15 0 1 0-2.3 0M499.79 436.65a1.15 1.15 0 1 0 2.3 0a1.15 1.15 0 1 0-2.3 0M491.23 437.04a1.15 1.15 0 1 0 2.3 0a1.15 1.15 0 1 0-2.3 0M476.96 438.83a1.15 1.15 0 1 0 2.3 0a1.15 1.15 0 1 0-2.3 0M502.19 441.16a1.15 1.15 0 1 0 2.3 0a1.15 1.15 0 1 0-2.3 0M464.31 442.88a1.15 1.15 0 1 0 2.3 0a1.15 1.15 0 1 0-2.3 0M479.14 436.93a1.15 1.15 0 1 0 2.3 0a1.15 1.15 0 1 0-2.3 0M494 434.2a1.15 1.15 0 1 0 2.3 0a1.15 1.15 0 1 0-2.3 0M474.95 442.75a1.15 1.15 0 1 0 2.3 0a1.15 1.15 0 1 0-2.3 0M491.59 443.53a1.15 1.15 0 1 0 2.3 0a1.15 1.15 0 1 0-2.3 0M466.39 432.76a1.15 1.15 0 1 0 2.3 0a1.15 1.15 0 1 0-2.3 0M470.75 446.1a1.15 1.15 0 1 0 2.3 0a1.15 1.15 0 1 0-2.3 0M488.79 445.84a1.15 1.15 0 1 0 2.3 0a1.15 1.15 0 1 0-2.3 0M491.54 436.89a1.15 1.15 0 1 0 2.3 0a1.15 1.15 0 1 0-2.3 0M499.6 436.17a1.15 1.15 0 1 0 2.3 0a1.15 1.15 0 1 0-2.3 0M478.56 440.86a1.15 1.15 0 1 0 2.3 0a1.15 1.15 0 1 0-2.3 0M484.68 434.33a1.15 1.15 0 1 0 2.3 0a1.15 1.15 0 1 0-2.3 0M490.12 442.43a1.15 1.15 0 1 0 2.3 0a1.15 1.15 0 1 0-2.3 0M487.49 440.78a1.15 1.15 0 1 0 2.3 0a1.15 1.15 0 1 0-2.3 0M458.1 432.73a1.15 1.15 0 1 0 2.3 0a1.15 1.15 0 1 0-2.3 0M470.26 439.22a1.15 1.15 0 1 0 2.3 0a1.15 1.15 0 1 0-2.3 0M459.08 434.56a1.15 1.15 0 1 0 2.3 0a1.15 1.15 0 1 0-2.3 0M490.17 444.19a1.15 1.15 0 1 0 2.3 0a1.15 1.15 0 1 0-2.3 0M472.66 445.77a1.15 1.15 0 1 0 2.3 0a1.15 1.15 0 1 0-2.3 0M496.38 424.79a1.15 1.15 0 1 0 2.3 0a1.15 1.15 0 1 0-2.3 0M466.81 434.73a1.15 1.15 0 1 0 2.3 0a1.15 1.15 0 1 0-2.3 0M480.54 430.11a1.15 1.15 0 1 0 2.3 0a1.15 1.15 0 1 0-2.3 0M446.09 436.75a1.15 1.15 0 1 0 2.3 0a1.15 1.15 0 1 0-2.3 0M479.03 439.88a1.15 1.15 0 1 0 2.3 0a1.15 1.15 0 1 0-2.3 0M497.56 443.2a1.15 1.15 0 1 0 2.3 0a1.15 1.15 0 1 0-2.3 0M499.41 438.61a1.15 1.15 0 1 0 2.3 0a1.15 1.15 0 1 0-2.3 0M467.86 443.31a1.15 1.15 0 1 0 2.3 0a1.15 1.15 0 1 0-2.3 0M478.88 438.06a1.15 1.15 0 1 0 2.3 0a1.15 1.15 0 1 0-2.3 0M497.63 436.84a1.15 1.15 0 1 0 2.3 0a1.15 1.15 0 1 0-2.3 0M465.19 445.02a1.15 1.15 0 1 0 2.3 0a1.15 1.15 0 1 0-2.3 0M470.79 446.67a1.15 1.15 0 1 0 2.3 0a1.15 1.15 0 1 0-2.3 0M463.25 438.19a1.15 1.15 0 1 0 2.3 0a1.15 1.15 0 1 0-2.3 0M498.71 439.34a1.15 1.15 0 1 0 2.3 0a1.15 1.15 0 1 0-2.3 0M471.28 444.83a1.15 1.15 0 1 0 2.3 0a1.15 1.15 0 1 0-2.3 0M494.58 441.6a1.15 1.15 0 1 0 2.3 0a1.15 1.15 0 1 0-2.3 0M476.8 445.17a1.15 1.15 0 1 0 2.3 0a1.15 1.15 0 1 0-2.3 0M485.47 438.73a1.15 1.15 0 1 0 2.3 0a1.15 1.15 0 1 0-2.3 0M471.32 444.66a1.15 1.15 0 1 0 2.3 0a1.15 1.15 0 1 0-2.3 0M486.82 445.25a1.15 1.15 0 1 0 2.3 0a1.15 1.15 0 1 0-2.3 0M490.56 442.49a1.15 1.15 0 1 0 2.3 0a1.15 1.15 0 1 0-2.3 0M488.12 430.52a1.15 1.15 0 1 0 2.3 0a1.15 1.15 0 1 0-2.3 0M471.83 440.65a1.15 1.15 0 1 0 2.3 0a1.15 1.15 0 1 0-2.3 0M496.51 441.84a1.15 1.15 0 1 0 2.3 0a1.15 1.15 0 1 0-2.3 0M502.29 439.05a1.15 1.15 0 1 0 2.3 0a1.15 1.15 0 1 0-2.3 0M451.47 429.05a1.15 1.15 0 1 0 2.3 0a1.15 1.15 0 1 0-2.3 0M456.81 440.18a1.15 1.15 0 1 0 2.3 0a1.15 1.15 0 1 0-2.3 0M514.62 433.1a1.15 1.15 0 1 0 2.3 0a1.15 1.15 0 1 0-2.3 0M486.8 439.5a1.15 1.15 0 1 0 2.3 0a1.15 1.15 0 1 0-2.3 0M481.87 444.15a1.15 1.15 0 1 0 2.3 0a1.15 1.15 0 1 0-2.3 0M489.07 437.21a1.15 1.15 0 1 0 2.3 0a1.15 1.15 0 1 0-2.3 0M497.93 442.07a1.15 1.15 0 1 0 2.3 0a1.15 1.15 0 1 0-2.3 0M493.02 439.99a1.15 1.15 0 1 0 2.3 0a1.15 1.15 0 1 0-2.3 0M476.02 436.46a1.15 1.15 0 1 0 2.3 0a1.15 1.15 0 1 0-2.3 0M513.98 424.76a1.15 1.15 0 1 0 2.3 0a1.15 1.15 0 1 0-2.3 0M479.94 446.8a1.15 1.15 0 1 0 2.3 0a1.15 1.15 0 1 0-2.3 0M465.2 445.9a1.15 1.15 0 1 0 2.3 0a1.15 1.15 0 1 0-2.3 0M470.48 446.6a1.15 1.15 0 1 0 2.3 0a1.15 1.15 0 1 0-2.3 0M477.53 436.83a1.15 1.15 0 1 0 2.3 0a1.15 1.15 0 1 0-2.3 0M473.43 441.89a1.15 1.15 0 1 0 2.3 0a1.15 1.15 0 1 0-2.3 0M476.61 445.22a1.15 1.15 0 1 0 2.3 0a1.15 1.15 0 1 0-2.3 0M484.96 441.17a1.15 1.15 0 1 0 2.3 0a1.15 1.15 0 1 0-2.3 0M466.8 419.82a1.15 1.15 0 1 0 2.3 0a1.15 1.15 0 1 0-2.3 0M495.5 441.41a1.15 1.15 0 1 0 2.3 0a1.15 1.15 0 1 0-2.3 0M489.07 441.34a1.15 1.15 0 1 0 2.3 0a1.15 1.15 0 1 0-2.3 0M468.43 437.28a1.15 1.15 0 1 0 2.3 0a1.15 1.15 0 1 0-2.3 0M469.36 444.99a1.15 1.15 0 1 0 2.3 0a1.15 1.15 0 1 0-2.3 0M498.66 438.2a1.15 1.15 0 1 0 2.3 0a1.15 1.15 0 1 0-2.3 0M475.61 444.56a1.15 1.15 0 1 0 2.3 0a1.15 1.15 0 1 0-2.3 0M470.92 442.89a1.15 1.15 0 1 0 2.3 0a1.15 1.15 0 1 0-2.3 0M510.53 431.26a1.15 1.15 0 1 0 2.3 0a1.15 1.15 0 1 0-2.3 0M473.59 441.97a1.15 1.15 0 1 0 2.3 0a1.15 1.15 0 1 0-2.3 0M491.08 442.45a1.15 1.15 0 1 0 2.3 0a1.15 1.15 0 1 0-2.3 0M478.97 445.1a1.15 1.15 0 1 0 2.3 0a1.15 1.15 0 1 0-2.3 0M480.57 444.62a1.15 1.15 0 1 0 2.3 0a1.15 1.15 0 1 0-2.3 0M464 442.96a1.15 1.15 0 1 0 2.3 0a1.15 1.15 0 1 0-2.3 0M466 444.56a1.15 1.15 0 1 0 2.3 0a1.15 1.15 0 1 0-2.3 0M500.61 435.82a1.15 1.15 0 1 0 2.3 0a1.15 1.15 0 1 0-2.3 0M460.82 441.38a1.15 1.15 0 1 0 2.3 0a1.15 1.15 0 1 0-2.3 0M484.33 444.27a1.15 1.15 0 1 0 2.3 0a1.15 1.15 0 1 0-2.3 0M459.9 441.22a1.15 1.15 0 1 0 2.3 0a1.15 1.15 0 1 0-2.3 0M475.73 443.85a1.15 1.15 0 1 0 2.3 0a1.15 1.15 0 1 0-2.3 0M479.11 445.22a1.15 1.15 0 1 0 2.3 0a1.15 1.15 0 1 0-2.3 0M452.67 438.7a1.15 1.15 0 1 0 2.3 0a1.15 1.15 0 1 0-2.3 0M498.56 437.7a1.15 1.15 0 1 0 2.3 0a1.15 1.15 0 1 0-2.3 0M476.67 433.75a1.15 1.15 0 1 0 2.3 0a1.15 1.15 0 1 0-2.3 0M499.89 440.86a1.15 1.15 0 1 0 2.3 0a1.15 1.15 0 1 0-2.3 0M464.22 444.38a1.15 1.15 0 1 0 2.3 0a1.15 1.15 0 1 0-2.3 0M494.86 443.65a1.15 1.15 0 1 0 2.3 0a1.15 1.15 0 1 0-2.3 0M518.47 432.36a1.15 1.15 0 1 0 2.3 0a1.15 1.15 0 1 0-2.3 0M483.32 433.05a1.15 1.15 0 1 0 2.3 0a1.15 1.15 0 1 0-2.3 0M468.98 439.49a1.15 1.15 0 1 0 2.3 0a1.15 1.15 0 1 0-2.3 0M487.67 445.93a1.15 1.15 0 1 0 2.3 0a1.15 1.15 0 1 0-2.3 0M482.06 439.29a1.15 1.15 0 1 0 2.3 0a1.15 1.15 0 1 0-2.3 0M476.24 444.62a1.15 1.15 0 1 0 2.3 0a1.15 1.15 0 1 0-2.3 0M477.73 442.18a1.15 1.15 0 1 0 2.3 0a1.15 1.15 0 1 0-2.3 0M470.12 444.22a1.15 1.15 0 1 0 2.3 0a1.15 1.15 0 1 0-2.3 0M486.76 442.7a1.15 1.15 0 1 0 2.3 0a1.15 1.15 0 1 0-2.3 0M473.3 433.3a1.15 1.15 0 1 0 2.3 0a1.15 1.15 0 1 0-2.3 0M465.5 435.31a1.15 1.15 0 1 0 2.3 0a1.15 1.15 0 1 0-2.3 0M493.26 442.25a1.15 1.15 0 1 0 2.3 0a1.15 1.15 0 1 0-2.3 0M476.97 444.27a1.15 1.15 0 1 0 2.3 0a1.15 1.15 0 1 0-2.3 0M475.58 442.15a1.15 1.15 0 1 0 2.3 0a1.15 1.15 0 1 0-2.3 0M467.82 445.69a1.15 1.15 0 1 0 2.3 0a1.15 1.15 0 1 0-2.3 0M470.6 433.92a1.15 1.15 0 1 0 2.3 0a1.15 1.15 0 1 0-2.3 0M485.89 434.49a1.15 1.15 0 1 0 2.3 0a1.15 1.15 0 1 0-2.3 0M468.15 435.93a1.15 1.15 0 1 0 2.3 0a1.15 1.15 0 1 0-2.3 0M458.76 443.93a1.15 1.15 0 1 0 2.3 0a1.15 1.15 0 1 0-2.3 0M506.94 437.56a1.15 1.15 0 1 0 2.3 0a1.15 1.15 0 1 0-2.3 0M459.14 442.66a1.15 1.15 0 1 0 2.3 0a1.15 1.15 0 1 0-2.3 0M504.85 437.55a1.15 1.15 0 1 0 2.3 0a1.15 1.15 0 1 0-2.3 0M482.07 428.94a1.15 1.15 0 1 0 2.3 0a1.15 1.15 0 1 0-2.3 0M462.1 435.98a1.15 1.15 0 1 0 2.3 0a1.15 1.15 0 1 0-2.3 0M507.39 434.91a1.15 1.15 0 1 0 2.3 0a1.15 1.15 0 1 0-2.3 0M476.35 416.62a1.15 1.15 0 1 0 2.3 0a1.15 1.15 0 1 0-2.3 0M463 444.99a1.15 1.15 0 1 0 2.3 0a1.15 1.15 0 1 0-2.3 0M480.81 443.54a1.15 1.15 0 1 0 2.3 0a1.15 1.15 0 1 0-2.3 0M501.08 439.82a1.15 1.15 0 1 0 2.3 0a1.15 1.15 0 1 0-2.3 0M491.08 435.26a1.15 1.15 0 1 0 2.3 0a1.15 1.15 0 1 0-2.3 0M493.44 441.05a1.15 1.15 0 1 0 2.3 0a1.15 1.15 0 1 0-2.3 0M508.85 435.16a1.15 1.15 0 1 0 2.3 0a1.15 1.15 0 1 0-2.3 0M483.29 446.04a1.15 1.15 0 1 0 2.3 0a1.15 1.15 0 1 0-2.3 0M485.96 437.08a1.15 1.15 0 1 0 2.3 0a1.15 1.15 0 1 0-2.3 0M475.97 427.03a1.15 1.15 0 1 0 2.3 0a1.15 1.15 0 1 0-2.3 0M455.58 433.56a1.15 1.15 0 1 0 2.3 0a1.15 1.15 0 1 0-2.3 0M477.33 424.7a1.15 1.15 0 1 0 2.3 0a1.15 1.15 0 1 0-2.3 0M506.57 438.68a1.15 1.15 0 1 0 2.3 0a1.15 1.15 0 1 0-2.3 0M450.99 434.93a1.15 1.15 0 1 0 2.3 0a1.15 1.15 0 1 0-2.3 0M502.04 438.52a1.15 1.15 0 1 0 2.3 0a1.15 1.15 0 1 0-2.3 0M484.07 446.72a1.15 1.15 0 1 0 2.3 0a1.15 1.15 0 1 0-2.3 0M464.61 436.57a1.15 1.15 0 1 0 2.3 0a1.15 1.15 0 1 0-2.3 0M480.81 446.05a1.15 1.15 0 1 0 2.3 0a1.15 1.15 0 1 0-2.3 0M470.21 445.25a1.15 1.15 0 1 0 2.3 0a1.15 1.15 0 1 0-2.3 0M492.85 443.43a1.15 1.15 0 1 0 2.3 0a1.15 1.15 0 1 0-2.3 0M464.83 443.62a1.15 1.15 0 1 0 2.3 0a1.15 1.15 0 1 0-2.3 0M490.23 434.45a1.15 1.15 0 1 0 2.3 0a1.15 1.15 0 1 0-2.3 0M488.61 438.03a1.15 1.15 0 1 0 2.3 0a1.15 1.15 0 1 0-2.3 0M471.86 434.75a1.15 1.15 0 1 0 2.3 0a1.15 1.15 0 1 0-2.3 0M491.1 445.26a1.15 1.15 0 1 0 2.3 0a1.15 1.15 0 1 0-2.3 0M473.73 443.26a1.15 1.15 0 1 0 2.3 0a1.15 1.15 0 1 0-2.3 0M470.14 443.82a1.15 1.15 0 1 0 2.3 0a1.15 1.15 0 1 0-2.3 0M459.23 437.73a1.15 1.15 0 1 0 2.3 0a1.15 1.15 0 1 0-2.3 0M486.12 432.13a1.15 1.15 0 1 0 2.3 0a1.15 1.15 0 1 0-2.3 0M472.6 441.4a1.15 1.15 0 1 0 2.3 0a1.15 1.15 0 1 0-2.3 0M470.45 435.87a1.15 1.15 0 1 0 2.3 0a1.15 1.15 0 1 0-2.3 0M460.65 431.63a1.15 1.15 0 1 0 2.3 0a1.15 1.15 0 1 0-2.3 0M457.06 439.55a1.15 1.15 0 1 0 2.3 0a1.15 1.15 0 1 0-2.3 0M466.62 442.91a1.15 1.15 0 1 0 2.3 0a1.15 1.15 0 1 0-2.3 0M491.84 441.6a1.15 1.15 0 1 0 2.3 0a1.15 1.15 0 1 0-2.3 0M466.22 443.89a1.15 1.15 0 1 0 2.3 0a1.15 1.15 0 1 0-2.3 0M503.71 440.06a1.15 1.15 0 1 0 2.3 0a1.15 1.15 0 1 0-2.3 0M486.5 438.22a1.15 1.15 0 1 0 2.3 0a1.15 1.15 0 1 0-2.3 0M482.35 429.29a1.15 1.15 0 1 0 2.3 0a1.15 1.15 0 1 0-2.3 0M459.75 440.04a1.15 1.15 0 1 0 2.3 0a1.15 1.15 0 1 0-2.3 0M512.16 434.29a1.15 1.15 0 1 0 2.3 0a1.15 1.15 0 1 0-2.3 0M455.81 442.3a1.15 1.15 0 1 0 2.3 0a1.15 1.15 0 1 0-2.3 0M488.59 440.02a1.15 1.15 0 1 0 2.3 0a1.15 1.15 0 1 0-2.3 0M507.85 438.06a1.15 1.15 0 1 0 2.3 0a1.15 1.15 0 1 0-2.3 0M476.42 437.83a1.15 1.15 0 1 0 2.3 0a1.15 1.15 0 1 0-2.3 0M468.38 443.02a1.15 1.15 0 1 0 2.3 0a1.15 1.15 0 1 0-2.3 0M479.41 444.8a1.15 1.15 0 1 0 2.3 0a1.15 1.15 0 1 0-2.3 0M494.93 438.34a1.15 1.15 0 1 0 2.3 0a1.15 1.15 0 1 0-2.3 0M502.28 429.3a1.15 1.15 0 1 0 2.3 0a1.15 1.15 0 1 0-2.3 0M489.76 435.6a1.15 1.15 0 1 0 2.3 0a1.15 1.15 0 1 0-2.3 0M461.97 426.95a1.15 1.15 0 1 0 2.3 0a1.15 1.15 0 1 0-2.3 0M468.53 439.66a1.15 1.15 0 1 0 2.3 0a1.15 1.15 0 1 0-2.3 0M483.1 433.98a1.15 1.15 0 1 0 2.3 0a1.15 1.15 0 1 0-2.3 0M458.54 440.91a1.15 1.15 0 1 0 2.3 0a1.15 1.15 0 1 0-2.3 0M475.74 439.32a1.15 1.15 0 1 0 2.3 0a1.15 1.15 0 1 0-2.3 0M462.17 444.86a1.15 1.15 0 1 0 2.3 0a1.15 1.15 0 1 0-2.3 0M498.99 435.06a1.15 1.15 0 1 0 2.3 0a1.15 1.15 0 1 0-2.3 0M464.24 435.93a1.15 1.15 0 1 0 2.3 0a1.15 1.15 0 1 0-2.3 0M474.07 444.57a1.15 1.15 0 1 0 2.3 0a1.15 1.15 0 1 0-2.3 0M478.56 444.93a1.15 1.15 0 1 0 2.3 0a1.15 1.15 0 1 0-2.3 0M477.98 441.13a1.15 1.15 0 1 0 2.3 0a1.15 1.15 0 1 0-2.3 0M501.25 440.16a1.15 1.15 0 1 0 2.3 0a1.15 1.15 0 1 0-2.3 0M491.63 444.32a1.15 1.15 0 1 0 2.3 0a1.15 1.15 0 1 0-2.3 0M491.31 437.93a1.15 1.15 0 1 0 2.3 0a1.15 1.15 0 1 0-2.3 0M466.37 445.55a1.15 1.15 0 1 0 2.3 0a1.15 1.15 0 1 0-2.3 0M477.32 446.51a1.15 1.15 0 1 0 2.3 0a1.15 1.15 0 1 0-2.3 0M483.08 441.16a1.15 1.15 0 1 0 2.3 0a1.15 1.15 0 1 0-2.3 0M490.99 441.24a1.15 1.15 0 1 0 2.3 0a1.15 1.15 0 1 0-2.3 0M502.01 441.79a1.15 1.15 0 1 0 2.3 0a1.15 1.15 0 1 0-2.3 0M463.14 440.87a1.15 1.15 0 1 0 2.3 0a1.15 1.15 0 1 0-2.3 0M474.97 441.07a1.15 1.15 0 1 0 2.3 0a1.15 1.15 0 1 0-2.3 0M475.55 437.33a1.15 1.15 0 1 0 2.3 0a1.15 1.15 0 1 0-2.3 0M459.67 430.1a1.15 1.15 0 1 0 2.3 0a1.15 1.15 0 1 0-2.3 0M478.6 443.36a1.15 1.15 0 1 0 2.3 0a1.15 1.15 0 1 0-2.3 0M475.94 439.36a1.15 1.15 0 1 0 2.3 0a1.15 1.15 0 1 0-2.3 0M459.23 438.95a1.15 1.15 0 1 0 2.3 0a1.15 1.15 0 1 0-2.3 0M474.89 434.22a1.15 1.15 0 1 0 2.3 0a1.15 1.15 0 1 0-2.3 0M481.74 441.47a1.15 1.15 0 1 0 2.3 0a1.15 1.15 0 1 0-2.3 0M472.9 436.98a1.15 1.15 0 1 0 2.3 0a1.15 1.15 0 1 0-2.3 0M492.66 437.89a1.15 1.15 0 1 0 2.3 0a1.15 1.15 0 1 0-2.3 0M462.72 443.73a1.15 1.15 0 1 0 2.3 0a1.15 1.15 0 1 0-2.3 0M494.5 441.27a1.15 1.15 0 1 0 2.3 0a1.15 1.15 0 1 0-2.3 0M476.64 435.52a1.15 1.15 0 1 0 2.3 0a1.15 1.15 0 1 0-2.3 0M485.91 443.13a1.15 1.15 0 1 0 2.3 0a1.15 1.15 0 1 0-2.3 0M449.1 437.17a1.15 1.15 0 1 0 2.3 0a1.15 1.15 0 1 0-2.3 0M481.87 429.82a1.15 1.15 0 1 0 2.3 0a1.15 1.15 0 1 0-2.3 0M478.7 442.77a1.15 1.15 0 1 0 2.3 0a1.15 1.15 0 1 0-2.3 0M495.26 433.96a1.15 1.15 0 1 0 2.3 0a1.15 1.15 0 1 0-2.3 0M460.14 442.05a1.15 1.15 0 1 0 2.3 0a1.15 1.15 0 1 0-2.3 0M502.37 440.36a1.15 1.15 0 1 0 2.3 0a1.15 1.15 0 1 0-2.3 0M461.75 441.96a1.15 1.15 0 1 0 2.3 0a1.15 1.15 0 1 0-2.3 0M501.58 441.31a1.15 1.15 0 1 0 2.3 0a1.15 1.15 0 1 0-2.3 0M489.32 438.1a1.15 1.15 0 1 0 2.3 0a1.15 1.15 0 1 0-2.3 0M467.2 439.84a1.15 1.15 0 1 0 2.3 0a1.15 1.15 0 1 0-2.3 0M515.74 427.42a1.15 1.15 0 1 0 2.3 0a1.15 1.15 0 1 0-2.3 0M459.88 443.69a1.15 1.15 0 1 0 2.3 0a1.15 1.15 0 1 0-2.3 0M483.16 437.29a1.15 1.15 0 1 0 2.3 0a1.15 1.15 0 1 0-2.3 0M483.48 446.13a1.15 1.15 0 1 0 2.3 0a1.15 1.15 0 1 0-2.3 0M492.99 443.37a1.15 1.15 0 1 0 2.3 0a1.15 1.15 0 1 0-2.3 0M487.35 434.85a1.15 1.15 0 1 0 2.3 0a1.15 1.15 0 1 0-2.3 0M480.27 442.14a1.15 1.15 0 1 0 2.3 0a1.15 1.15 0 1 0-2.3 0M464.3 444.67a1.15 1.15 0 1 0 2.3 0a1.15 1.15 0 1 0-2.3 0M474 435.39a1.15 1.15 0 1 0 2.3 0a1.15 1.15 0 1 0-2.3 0M494.71 437.87a1.15 1.15 0 1 0 2.3 0a1.15 1.15 0 1 0-2.3 0M460.36 435.26a1.15 1.15 0 1 0 2.3 0a1.15 1.15 0 1 0-2.3 0M481.57 445.67a1.15 1.15 0 1 0 2.3 0a1.15 1.15 0 1 0-2.3 0M445.72 436.75a1.15 1.15 0 1 0 2.3 0a1.15 1.15 0 1 0-2.3 0M468.18 425.86a1.15 1.15 0 1 0 2.3 0a1.15 1.15 0 1 0-2.3 0M452.78 441.33a1.15 1.15 0 1 0 2.3 0a1.15 1.15 0 1 0-2.3 0M500.39 438.72a1.15 1.15 0 1 0 2.3 0a1.15 1.15 0 1 0-2.3 0M449.47 437.57a1.15 1.15 0 1 0 2.3 0a1.15 1.15 0 1 0-2.3 0M475.75 435.63a1.15 1.15 0 1 0 2.3 0a1.15 1.15 0 1 0-2.3 0M491.82 444.11a1.15 1.15 0 1 0 2.3 0a1.15 1.15 0 1 0-2.3 0M489.83 444.05a1.15 1.15 0 1 0 2.3 0a1.15 1.15 0 1 0-2.3 0M492.56 444.42a1.15 1.15 0 1 0 2.3 0a1.15 1.15 0 1 0-2.3 0M497.36 442.94a1.15 1.15 0 1 0 2.3 0a1.15 1.15 0 1 0-2.3 0M487.59 444.83a1.15 1.15 0 1 0 2.3 0a1.15 1.15 0 1 0-2.3 0M493.58 445a1.15 1.15 0 1 0 2.3 0a1.15 1.15 0 1 0-2.3 0M478.83 445.87a1.15 1.15 0 1 0 2.3 0a1.15 1.15 0 1 0-2.3 0M479.3 446.6a1.15 1.15 0 1 0 2.3 0a1.15 1.15 0 1 0-2.3 0M450.5 438.6a1.15 1.15 0 1 0 2.3 0a1.15 1.15 0 1 0-2.3 0M482.53 443.51a1.15 1.15 0 1 0 2.3 0a1.15 1.15 0 1 0-2.3 0M500.76 430.95a1.15 1.15 0 1 0 2.3 0a1.15 1.15 0 1 0-2.3 0M467.31 436.06a1.15 1.15 0 1 0 2.3 0a1.15 1.15 0 1 0-2.3 0M460.31 433.05a1.15 1.15 0 1 0 2.3 0a1.15 1.15 0 1 0-2.3 0M481.24 444.27a1.15 1.15 0 1 0 2.3 0a1.15 1.15 0 1 0-2.3 0M498.56 439.95a1.15 1.15 0 1 0 2.3 0a1.15 1.15 0 1 0-2.3 0M499.76 442.24a1.15 1.15 0 1 0 2.3 0a1.15 1.15 0 1 0-2.3 0M454.82 430.75a1.15 1.15 0 1 0 2.3 0a1.15 1.15 0 1 0-2.3 0M487.2 430.4a1.15 1.15 0 1 0 2.3 0a1.15 1.15 0 1 0-2.3 0M468.83 444.99a1.15 1.15 0 1 0 2.3 0a1.15 1.15 0 1 0-2.3 0M484.33 445.63a1.15 1.15 0 1 0 2.3 0a1.15 1.15 0 1 0-2.3 0M442.25 435.76a1.15 1.15 0 1 0 2.3 0a1.15 1.15 0 1 0-2.3 0M495.03 443.16a1.15 1.15 0 1 0 2.3 0a1.15 1.15 0 1 0-2.3 0M473.16 427.43a1.15 1.15 0 1 0 2.3 0a1.15 1.15 0 1 0-2.3 0M483.13 433.51a1.15 1.15 0 1 0 2.3 0a1.15 1.15 0 1 0-2.3 0M476.74 446.11a1.15 1.15 0 1 0 2.3 0a1.15 1.15 0 1 0-2.3 0M462.56 442.22a1.15 1.15 0 1 0 2.3 0a1.15 1.15 0 1 0-2.3 0M488.45 445.07a1.15 1.15 0 1 0 2.3 0a1.15 1.15 0 1 0-2.3 0M471.73 445.63a1.15 1.15 0 1 0 2.3 0a1.15 1.15 0 1 0-2.3 0M468.3 442.41a1.15 1.15 0 1 0 2.3 0a1.15 1.15 0 1 0-2.3 0M490.67 445.51a1.15 1.15 0 1 0 2.3 0a1.15 1.15 0 1 0-2.3 0M478.34 437.1a1.15 1.15 0 1 0 2.3 0a1.15 1.15 0 1 0-2.3 0M468.11 444.72a1.15 1.15 0 1 0 2.3 0a1.15 1.15 0 1 0-2.3 0M495.32 432.36a1.15 1.15 0 1 0 2.3 0a1.15 1.15 0 1 0-2.3 0M469.93 445.18a1.15 1.15 0 1 0 2.3 0a1.15 1.15 0 1 0-2.3 0M479.21 439.83a1.15 1.15 0 1 0 2.3 0a1.15 1.15 0 1 0-2.3 0M491.91 441.18a1.15 1.15 0 1 0 2.3 0a1.15 1.15 0 1 0-2.3 0M495.39 440.95a1.15 1.15 0 1 0 2.3 0a1.15 1.15 0 1 0-2.3 0M499.65 436.73a1.15 1.15 0 1 0 2.3 0a1.15 1.15 0 1 0-2.3 0M507.23 435.03a1.15 1.15 0 1 0 2.3 0a1.15 1.15 0 1 0-2.3 0M480.47 418.5a1.15 1.15 0 1 0 2.3 0a1.15 1.15 0 1 0-2.3 0M466.48 441.43a1.15 1.15 0 1 0 2.3 0a1.15 1.15 0 1 0-2.3 0M507.08 435.78a1.15 1.15 0 1 0 2.3 0a1.15 1.15 0 1 0-2.3 0M502.83 437.27a1.15 1.15 0 1 0 2.3 0a1.15 1.15 0 1 0-2.3 0M474.76 446.26a1.15 1.15 0 1 0 2.3 0a1.15 1.15 0 1 0-2.3 0M491.37 433.3a1.15 1.15 0 1 0 2.3 0a1.15 1.15 0 1 0-2.3 0M473.46 446.53a1.15 1.15 0 1 0 2.3 0a1.15 1.15 0 1 0-2.3 0M453.87 441.98a1.15 1.15 0 1 0 2.3 0a1.15 1.15 0 1 0-2.3 0M496.96 440.71a1.15 1.15 0 1 0 2.3 0a1.15 1.15 0 1 0-2.3 0M485.47 443.25a1.15 1.15 0 1 0 2.3 0a1.15 1.15 0 1 0-2.3 0M481.76 422.17a1.15 1.15 0 1 0 2.3 0a1.15 1.15 0 1 0-2.3 0M507.78 437.52a1.15 1.15 0 1 0 2.3 0a1.15 1.15 0 1 0-2.3 0M503.51 440.63a1.15 1.15 0 1 0 2.3 0a1.15 1.15 0 1 0-2.3 0M469.08 437.16a1.15 1.15 0 1 0 2.3 0a1.15 1.15 0 1 0-2.3 0M461.32 442.99a1.15 1.15 0 1 0 2.3 0a1.15 1.15 0 1 0-2.3 0M448.27 434.6a1.15 1.15 0 1 0 2.3 0a1.15 1.15 0 1 0-2.3 0M479.83 443.91a1.15 1.15 0 1 0 2.3 0a1.15 1.15 0 1 0-2.3 0M473.32 446.55a1.15 1.15 0 1 0 2.3 0a1.15 1.15 0 1 0-2.3 0M485.76 445.92a1.15 1.15 0 1 0 2.3 0a1.15 1.15 0 1 0-2.3 0M479.94 445.7a1.15 1.15 0 1 0 2.3 0a1.15 1.15 0 1 0-2.3 0M468.83 444.7a1.15 1.15 0 1 0 2.3 0a1.15 1.15 0 1 0-2.3 0M473.01 438.8a1.15 1.15 0 1 0 2.3 0a1.15 1.15 0 1 0-2.3 0M453.86 440.83a1.15 1.15 0 1 0 2.3 0a1.15 1.15 0 1 0-2.3 0M500.12 441.35a1.15 1.15 0 1 0 2.3 0a1.15 1.15 0 1 0-2.3 0M470.89 445.6a1.15 1.15 0 1 0 2.3 0a1.15 1.15 0 1 0-2.3 0M489.89 440.04a1.15 1.15 0 1 0 2.3 0a1.15 1.15 0 1 0-2.3 0M468.81 444.19a1.15 1.15 0 1 0 2.3 0a1.15 1.15 0 1 0-2.3 0M480.9 444.9a1.15 1.15 0 1 0 2.3 0a1.15 1.15 0 1 0-2.3 0M490.19 444.69a1.15 1.15 0 1 0 2.3 0a1.15 1.15 0 1 0-2.3 0M475.18 446.82a1.15 1.15 0 1 0 2.3 0a1.15 1.15 0 1 0-2.3 0M466.19 445.81a1.15 1.15 0 1 0 2.3 0a1.15 1.15 0 1 0-2.3 0M476.43 446.9a1.15 1.15 0 1 0 2.3 0a1.15 1.15 0 1 0-2.3 0M489.16 444.4a1.15 1.15 0 1 0 2.3 0a1.15 1.15 0 1 0-2.3 0M478.38 436.92a1.15 1.15 0 1 0 2.3 0a1.15 1.15 0 1 0-2.3 0M466.89 445.57a1.15 1.15 0 1 0 2.3 0a1.15 1.15 0 1 0-2.3 0M501.54 438.57a1.15 1.15 0 1 0 2.3 0a1.15 1.15 0 1 0-2.3 0M486.22 444.55a1.15 1.15 0 1 0 2.3 0a1.15 1.15 0 1 0-2.3 0M485.39 443.77a1.15 1.15 0 1 0 2.3 0a1.15 1.15 0 1 0-2.3 0M441.95 432.19a1.15 1.15 0 1 0 2.3 0a1.15 1.15 0 1 0-2.3 0M484.49 443.68a1.15 1.15 0 1 0 2.3 0a1.15 1.15 0 1 0-2.3 0M493.66 444.55a1.15 1.15 0 1 0 2.3 0a1.15 1.15 0 1 0-2.3 0M484.42 443.45a1.15 1.15 0 1 0 2.3 0a1.15 1.15 0 1 0-2.3 0M477.26 437.54a1.15 1.15 0 1 0 2.3 0a1.15 1.15 0 1 0-2.3 0M499.53 438.9a1.15 1.15 0 1 0 2.3 0a1.15 1.15 0 1 0-2.3 0M483.81 435a1.15 1.15 0 1 0 2.3 0a1.15 1.15 0 1 0-2.3 0M489.36 445.75a1.15 1.15 0 1 0 2.3 0a1.15 1.15 0 1 0-2.3 0M496.93 442.83a1.15 1.15 0 1 0 2.3 0a1.15 1.15 0 1 0-2.3 0M496.34 443.97a1.15 1.15 0 1 0 2.3 0a1.15 1.15 0 1 0-2.3 0M457.91 443.11a1.15 1.15 0 1 0 2.3 0a1.15 1.15 0 1 0-2.3 0M485.31 444.38a1.15 1.15 0 1 0 2.3 0a1.15 1.15 0 1 0-2.3 0M467.08 440.1a1.15 1.15 0 1 0 2.3 0a1.15 1.15 0 1 0-2.3 0M446.4 438.35a1.15 1.15 0 1 0 2.3 0a1.15 1.15 0 1 0-2.3 0M484.46 419.19a1.15 1.15 0 1 0 2.3 0a1.15 1.15 0 1 0-2.3 0M450.88 437.45a1.15 1.15 0 1 0 2.3 0a1.15 1.15 0 1 0-2.3 0M471.98 445.25a1.15 1.15 0 1 0 2.3 0a1.15 1.15 0 1 0-2.3 0M438.07 430.65a1.15 1.15 0 1 0 2.3 0a1.15 1.15 0 1 0-2.3 0M462.78 444.95a1.15 1.15 0 1 0 2.3 0a1.15 1.15 0 1 0-2.3 0M471.93 445.68a1.15 1.15 0 1 0 2.3 0a1.15 1.15 0 1 0-2.3 0M479.6 442.32a1.15 1.15 0 1 0 2.3 0a1.15 1.15 0 1 0-2.3 0M470.76 446.45a1.15 1.15 0 1 0 2.3 0a1.15 1.15 0 1 0-2.3 0M464.38 441.37a1.15 1.15 0 1 0 2.3 0a1.15 1.15 0 1 0-2.3 0M464.77 442.11a1.15 1.15 0 1 0 2.3 0a1.15 1.15 0 1 0-2.3 0M505.16 432.96a1.15 1.15 0 1 0 2.3 0a1.15 1.15 0 1 0-2.3 0M471.91 434.22a1.15 1.15 0 1 0 2.3 0a1.15 1.15 0 1 0-2.3 0M478.1 431.79a1.15 1.15 0 1 0 2.3 0a1.15 1.15 0 1 0-2.3 0M511 429.64a1.15 1.15 0 1 0 2.3 0a1.15 1.15 0 1 0-2.3 0M450.8 437.64a1.15 1.15 0 1 0 2.3 0a1.15 1.15 0 1 0-2.3 0M445.38 432.64a1.15 1.15 0 1 0 2.3 0a1.15 1.15 0 1 0-2.3 0M462.76 442.21a1.15 1.15 0 1 0 2.3 0a1.15 1.15 0 1 0-2.3 0M473.16 446.66a1.15 1.15 0 1 0 2.3 0a1.15 1.15 0 1 0-2.3 0M460.68 438.21a1.15 1.15 0 1 0 2.3 0a1.15 1.15 0 1 0-2.3 0M479.01 444.09a1.15 1.15 0 1 0 2.3 0a1.15 1.15 0 1 0-2.3 0M478.24 447a1.15 1.15 0 1 0 2.3 0a1.15 1.15 0 1 0-2.3 0M453.97 441.66a1.15 1.15 0 1 0 2.3 0a1.15 1.15 0 1 0-2.3 0M482.39 441.78a1.15 1.15 0 1 0 2.3 0a1.15 1.15 0 1 0-2.3 0M455.87 429.31a1.15 1.15 0 1 0 2.3 0a1.15 1.15 0 1 0-2.3 0M491.31 432.67a1.15 1.15 0 1 0 2.3 0a1.15 1.15 0 1 0-2.3 0M483.37 431.67a1.15 1.15 0 1 0 2.3 0a1.15 1.15 0 1 0-2.3 0M516.03 427.55a1.15 1.15 0 1 0 2.3 0a1.15 1.15 0 1 0-2.3 0M493.35 435.19a1.15 1.15 0 1 0 2.3 0a1.15 1.15 0 1 0-2.3 0M476.23 443.36a1.15 1.15 0 1 0 2.3 0a1.15 1.15 0 1 0-2.3 0M485.33 436.75a1.15 1.15 0 1 0 2.3 0a1.15 1.15 0 1 0-2.3 0M482.05 420.12a1.15 1.15 0 1 0 2.3 0a1.15 1.15 0 1 0-2.3 0M467.32 442.13a1.15 1.15 0 1 0 2.3 0a1.15 1.15 0 1 0-2.3 0M455.48 442.11a1.15 1.15 0 1 0 2.3 0a1.15 1.15 0 1 0-2.3 0M497.85 437.32a1.15 1.15 0 1 0 2.3 0a1.15 1.15 0 1 0-2.3 0M504.82 428.08a1.15 1.15 0 1 0 2.3 0a1.15 1.15 0 1 0-2.3 0M471.91 440.83a1.15 1.15 0 1 0 2.3 0a1.15 1.15 0 1 0-2.3 0M475.32 439.47a1.15 1.15 0 1 0 2.3 0a1.15 1.15 0 1 0-2.3 0M471.56 440.54a1.15 1.15 0 1 0 2.3 0a1.15 1.15 0 1 0-2.3 0M496.39 444.08a1.15 1.15 0 1 0 2.3 0a1.15 1.15 0 1 0-2.3 0M499.71 442.4a1.15 1.15 0 1 0 2.3 0a1.15 1.15 0 1 0-2.3 0M465.14 432.3a1.15 1.15 0 1 0 2.3 0a1.15 1.15 0 1 0-2.3 0M470.72 436.17a1.15 1.15 0 1 0 2.3 0a1.15 1.15 0 1 0-2.3 0M483.18 440.3a1.15 1.15 0 1 0 2.3 0a1.15 1.15 0 1 0-2.3 0M492.38 442.78a1.15 1.15 0 1 0 2.3 0a1.15 1.15 0 1 0-2.3 0M497.39 442.42a1.15 1.15 0 1 0 2.3 0a1.15 1.15 0 1 0-2.3 0M475.05 423.89a1.15 1.15 0 1 0 2.3 0a1.15 1.15 0 1 0-2.3 0M463.29 435.98a1.15 1.15 0 1 0 2.3 0a1.15 1.15 0 1 0-2.3 0M488.59 443.93a1.15 1.15 0 1 0 2.3 0a1.15 1.15 0 1 0-2.3 0M489.51 433.23a1.15 1.15 0 1 0 2.3 0a1.15 1.15 0 1 0-2.3 0M473.83 443.06a1.15 1.15 0 1 0 2.3 0a1.15 1.15 0 1 0-2.3 0M482.45 442.55a1.15 1.15 0 1 0 2.3 0a1.15 1.15 0 1 0-2.3 0M485.61 443.6a1.15 1.15 0 1 0 2.3 0a1.15 1.15 0 1 0-2.3 0M494.29 435.53a1.15 1.15 0 1 0 2.3 0a1.15 1.15 0 1 0-2.3 0M480.86 443.47a1.15 1.15 0 1 0 2.3 0a1.15 1.15 0 1 0-2.3 0M487.77 440.54a1.15 1.15 0 1 0 2.3 0a1.15 1.15 0 1 0-2.3 0M482.66 440.94a1.15 1.15 0 1 0 2.3 0a1.15 1.15 0 1 0-2.3 0M463.65 440.37a1.15 1.15 0 1 0 2.3 0a1.15 1.15 0 1 0-2.3 0M491.39 445.59a1.15 1.15 0 1 0 2.3 0a1.15 1.15 0 1 0-2.3 0M481.36 443.45a1.15 1.15 0 1 0 2.3 0a1.15 1.15 0 1 0-2.3 0M497.21 443.36a1.15 1.15 0 1 0 2.3 0a1.15 1.15 0 1 0-2.3 0M460.02 424.93a1.15 1.15 0 1 0 2.3 0a1.15 1.15 0 1 0-2.3 0M468.06 441.18a1.15 1.15 0 1 0 2.3 0a1.15 1.15 0 1 0-2.3 0M485.13 444.1a1.15 1.15 0 1 0 2.3 0a1.15 1.15 0 1 0-2.3 0M451.23 433.37a1.15 1.15 0 1 0 2.3 0a1.15 1.15 0 1 0-2.3 0M477.5 430.82a1.15 1.15 0 1 0 2.3 0a1.15 1.15 0 1 0-2.3 0M472.29 441.1a1.15 1.15 0 1 0 2.3 0a1.15 1.15 0 1 0-2.3 0M472.83 445.27a1.15 1.15 0 1 0 2.3 0a1.15 1.15 0 1 0-2.3 0M475.54 443.31a1.15 1.15 0 1 0 2.3 0a1.15 1.15 0 1 0-2.3 0M442.72 434.79a1.15 1.15 0 1 0 2.3 0a1.15 1.15 0 1 0-2.3 0M480.42 447.05a1.15 1.15 0 1 0 2.3 0a1.15 1.15 0 1 0-2.3 0M480.96 446.16a1.15 1.15 0 1 0 2.3 0a1.15 1.15 0 1 0-2.3 0M497.15 442.27a1.15 1.15 0 1 0 2.3 0a1.15 1.15 0 1 0-2.3 0M503.69 436.46a1.15 1.15 0 1 0 2.3 0a1.15 1.15 0 1 0-2.3 0M485.61 445.74a1.15 1.15 0 1 0 2.3 0a1.15 1.15 0 1 0-2.3 0M495.09 443a1.15 1.15 0 1 0 2.3 0a1.15 1.15 0 1 0-2.3 0M439.99 433.9a1.15 1.15 0 1 0 2.3 0a1.15 1.15 0 1 0-2.3 0M488.81 445.96a1.15 1.15 0 1 0 2.3 0a1.15 1.15 0 1 0-2.3 0M498.07 427.62a1.15 1.15 0 1 0 2.3 0a1.15 1.15 0 1 0-2.3 0M494.17 444.54a1.15 1.15 0 1 0 2.3 0a1.15 1.15 0 1 0-2.3 0M483.66 439.07a1.15 1.15 0 1 0 2.3 0a1.15 1.15 0 1 0-2.3 0M473.82 436.87a1.15 1.15 0 1 0 2.3 0a1.15 1.15 0 1 0-2.3 0M473.67 436.82a1.15 1.15 0 1 0 2.3 0a1.15 1.15 0 1 0-2.3 0M480.11 446.54a1.15 1.15 0 1 0 2.3 0a1.15 1.15 0 1 0-2.3 0M486.85 445.38a1.15 1.15 0 1 0 2.3 0a1.15 1.15 0 1 0-2.3 0M489.22 446.02a1.15 1.15 0 1 0 2.3 0a1.15 1.15 0 1 0-2.3 0M478.16 435.3a1.15 1.15 0 1 0 2.3 0a1.15 1.15 0 1 0-2.3 0M458.87 431.01a1.15 1.15 0 1 0 2.3 0a1.15 1.15 0 1 0-2.3 0M465.36 429.23a1.15 1.15 0 1 0 2.3 0a1.15 1.15 0 1 0-2.3 0M503.4 439.93a1.15 1.15 0 1 0 2.3 0a1.15 1.15 0 1 0-2.3 0M496.54 426.57a1.15 1.15 0 1 0 2.3 0a1.15 1.15 0 1 0-2.3 0M482.86 445.06a1.15 1.15 0 1 0 2.3 0a1.15 1.15 0 1 0-2.3 0M495.88 432.03a1.15 1.15 0 1 0 2.3 0a1.15 1.15 0 1 0-2.3 0M487.11 439.01a1.15 1.15 0 1 0 2.3 0a1.15 1.15 0 1 0-2.3 0M465.9 439.44a1.15 1.15 0 1 0 2.3 0a1.15 1.15 0 1 0-2.3 0M481.66 436.64a1.15 1.15 0 1 0 2.3 0a1.15 1.15 0 1 0-2.3 0M459.21 440.55a1.15 1.15 0 1 0 2.3 0a1.15 1.15 0 1 0-2.3 0M468.94 437.22a1.15 1.15 0 1 0 2.3 0a1.15 1.15 0 1 0-2.3 0M465.34 434.81a1.15 1.15 0 1 0 2.3 0a1.15 1.15 0 1 0-2.3 0M482.32 443.91a1.15 1.15 0 1 0 2.3 0a1.15 1.15 0 1 0-2.3 0M497.38 437.97a1.15 1.15 0 1 0 2.3 0a1.15 1.15 0 1 0-2.3 0M469.01 444.86a1.15 1.15 0 1 0 2.3 0a1.15 1.15 0 1 0-2.3 0M487.37 437.09a1.15 1.15 0 1 0 2.3 0a1.15 1.15 0 1 0-2.3 0M444.33 434.73a1.15 1.15 0 1 0 2.3 0a1.15 1.15 0 1 0-2.3 0M461.93 440.74a1.15 1.15 0 1 0 2.3 0a1.15 1.15 0 1 0-2.3 0M488.61 443.45a1.15 1.15 0 1 0 2.3 0a1.15 1.15 0 1 0-2.3 0M495.38 444.46a1.15 1.15 0 1 0 2.3 0a1.15 1.15 0 1 0-2.3 0M497.48 441.96a1.15 1.15 0 1 0 2.3 0a1.15 1.15 0 1 0-2.3 0M452.52 433.05a1.15 1.15 0 1 0 2.3 0a1.15 1.15 0 1 0-2.3 0M471.08 439.99a1.15 1.15 0 1 0 2.3 0a1.15 1.15 0 1 0-2.3 0M436.9 425.69a1.15 1.15 0 1 0 2.3 0a1.15 1.15 0 1 0-2.3 0M477.14 444.42a1.15 1.15 0 1 0 2.3 0a1.15 1.15 0 1 0-2.3 0M483.63 444.34a1.15 1.15 0 1 0 2.3 0a1.15 1.15 0 1 0-2.3 0M474.09 446.66a1.15 1.15 0 1 0 2.3 0a1.15 1.15 0 1 0-2.3 0M464.34 440.33a1.15 1.15 0 1 0 2.3 0a1.15 1.15 0 1 0-2.3 0M486.86 445.4a1.15 1.15 0 1 0 2.3 0a1.15 1.15 0 1 0-2.3 0M488.55 444.53a1.15 1.15 0 1 0 2.3 0a1.15 1.15 0 1 0-2.3 0M481.94 446.34a1.15 1.15 0 1 0 2.3 0a1.15 1.15 0 1 0-2.3 0M469.71 445.63a1.15 1.15 0 1 0 2.3 0a1.15 1.15 0 1 0-2.3 0M480.44 443.31a1.15 1.15 0 1 0 2.3 0a1.15 1.15 0 1 0-2.3 0M481.14 446.46a1.15 1.15 0 1 0 2.3 0a1.15 1.15 0 1 0-2.3 0M484.16 438.52a1.15 1.15 0 1 0 2.3 0a1.15 1.15 0 1 0-2.3 0M490.05 442.71a1.15 1.15 0 1 0 2.3 0a1.15 1.15 0 1 0-2.3 0M479.28 435.91a1.15 1.15 0 1 0 2.3 0a1.15 1.15 0 1 0-2.3 0M455.73 433.68a1.15 1.15 0 1 0 2.3 0a1.15 1.15 0 1 0-2.3 0M475.18 433.49a1.15 1.15 0 1 0 2.3 0a1.15 1.15 0 1 0-2.3 0M485.89 439.06a1.15 1.15 0 1 0 2.3 0a1.15 1.15 0 1 0-2.3 0M472.43 440.19a1.15 1.15 0 1 0 2.3 0a1.15 1.15 0 1 0-2.3 0M483.35 441.66a1.15 1.15 0 1 0 2.3 0a1.15 1.15 0 1 0-2.3 0M468.36 446.5a1.15 1.15 0 1 0 2.3 0a1.15 1.15 0 1 0-2.3 0M502.02 440.98a1.15 1.15 0 1 0 2.3 0a1.15 1.15 0 1 0-2.3 0M486.43 443a1.15 1.15 0 1 0 2.3 0a1.15 1.15 0 1 0-2.3 0M482.05 446.8a1.15 1.15 0 1 0 2.3 0a1.15 1.15 0 1 0-2.3 0M492.29 436.64a1.15 1.15 0 1 0 2.3 0a1.15 1.15 0 1 0-2.3 0M492.4 444.74a1.15 1.15 0 1 0 2.3 0a1.15 1.15 0 1 0-2.3 0M481.22 444.87a1.15 1.15 0 1 0 2.3 0a1.15 1.15 0 1 0-2.3 0M496.34 443.38a1.15 1.15 0 1 0 2.3 0a1.15 1.15 0 1 0-2.3 0M490.61 437.4a1.15 1.15 0 1 0 2.3 0a1.15 1.15 0 1 0-2.3 0M483.29 446.09a1.15 1.15 0 1 0 2.3 0a1.15 1.15 0 1 0-2.3 0M479.77 435.78a1.15 1.15 0 1 0 2.3 0a1.15 1.15 0 1 0-2.3 0M461.33 443.88a1.15 1.15 0 1 0 2.3 0a1.15 1.15 0 1 0-2.3 0M482.93 442.86a1.15 1.15 0 1 0 2.3 0a1.15 1.15 0 1 0-2.3 0M482.67 445.33a1.15 1.15 0 1 0 2.3 0a1.15 1.15 0 1 0-2.3 0M465.89 437.05a1.15 1.15 0 1 0 2.3 0a1.15 1.15 0 1 0-2.3 0M502.33 438.57a1.15 1.15 0 1 0 2.3 0a1.15 1.15 0 1 0-2.3 0M479.66 444.54a1.15 1.15 0 1 0 2.3 0a1.15 1.15 0 1 0-2.3 0M461.93 435.33a1.15 1.15 0 1 0 2.3 0a1.15 1.15 0 1 0-2.3 0M472.79 429.39a1.15 1.15 0 1 0 2.3 0a1.15 1.15 0 1 0-2.3 0M479.03 445.9a1.15 1.15 0 1 0 2.3 0a1.15 1.15 0 1 0-2.3 0M479.14 445.71a1.15 1.15 0 1 0 2.3 0a1.15 1.15 0 1 0-2.3 0M466.77 445.71a1.15 1.15 0 1 0 2.3 0a1.15 1.15 0 1 0-2.3 0M480.31 442.33a1.15 1.15 0 1 0 2.3 0a1.15 1.15 0 1 0-2.3 0M455.54 424.84a1.15 1.15 0 1 0 2.3 0a1.15 1.15 0 1 0-2.3 0M472.59 443.22a1.15 1.15 0 1 0 2.3 0a1.15 1.15 0 1 0-2.3 0M486.94 444.28a1.15 1.15 0 1 0 2.3 0a1.15 1.15 0 1 0-2.3 0M468.55 444.7a1.15 1.15 0 1 0 2.3 0a1.15 1.15 0 1 0-2.3 0M490.46 445.33a1.15 1.15 0 1 0 2.3 0a1.15 1.15 0 1 0-2.3 0M493.02 434.23a1.15 1.15 0 1 0 2.3 0a1.15 1.15 0 1 0-2.3 0M469.85 441.61a1.15 1.15 0 1 0 2.3 0a1.15 1.15 0 1 0-2.3 0M494.34 442.57a1.15 1.15 0 1 0 2.3 0a1.15 1.15 0 1 0-2.3 0M502.09 428.64a1.15 1.15 0 1 0 2.3 0a1.15 1.15 0 1 0-2.3 0M453.32 441.43a1.15 1.15 0 1 0 2.3 0a1.15 1.15 0 1 0-2.3 0M483.21 445.37a1.15 1.15 0 1 0 2.3 0a1.15 1.15 0 1 0-2.3 0M485.15 438.94a1.15 1.15 0 1 0 2.3 0a1.15 1.15 0 1 0-2.3 0M452.92 439.91a1.15 1.15 0 1 0 2.3 0a1.15 1.15 0 1 0-2.3 0M470.84 446.65a1.15 1.15 0 1 0 2.3 0a1.15 1.15 0 1 0-2.3 0M483.56 428.43a1.15 1.15 0 1 0 2.3 0a1.15 1.15 0 1 0-2.3 0M480.22 437.78a1.15 1.15 0 1 0 2.3 0a1.15 1.15 0 1 0-2.3 0M499.17 440.58a1.15 1.15 0 1 0 2.3 0a1.15 1.15 0 1 0-2.3 0M470.2 444.93a1.15 1.15 0 1 0 2.3 0a1.15 1.15 0 1 0-2.3 0M450.1 434.47a1.15 1.15 0 1 0 2.3 0a1.15 1.15 0 1 0-2.3 0M502.46 438.77a1.15 1.15 0 1 0 2.3 0a1.15 1.15 0 1 0-2.3 0M467.08 445.7a1.15 1.15 0 1 0 2.3 0a1.15 1.15 0 1 0-2.3 0M480.02 446.05a1.15 1.15 0 1 0 2.3 0a1.15 1.15 0 1 0-2.3 0M499.42 435.61a1.15 1.15 0 1 0 2.3 0a1.15 1.15 0 1 0-2.3 0M484.82 444.81a1.15 1.15 0 1 0 2.3 0a1.15 1.15 0 1 0-2.3 0M482.99 441.54a1.15 1.15 0 1 0 2.3 0a1.15 1.15 0 1 0-2.3 0M470.16 443.43a1.15 1.15 0 1 0 2.3 0a1.15 1.15 0 1 0-2.3 0M489.9 441.88a1.15 1.15 0 1 0 2.3 0a1.15 1.15 0 1 0-2.3 0M516.78 427.77a1.15 1.15 0 1 0 2.3 0a1.15 1.15 0 1 0-2.3 0M470.74 444.12a1.15 1.15 0 1 0 2.3 0a1.15 1.15 0 1 0-2.3 0M461.83 438.91a1.15 1.15 0 1 0 2.3 0a1.15 1.15 0 1 0-2.3 0M485.4 436.98a1.15 1.15 0 1 0 2.3 0a1.15 1.15 0 1 0-2.3 0M468.26 443.84a1.15 1.15 0 1 0 2.3 0a1.15 1.15 0 1 0-2.3 0M482.49 446.84a1.15 1.15 0 1 0 2.3 0a1.15 1.15 0 1 0-2.3 0M480.8 443.21a1.15 1.15 0 1 0 2.3 0a1.15 1.15 0 1 0-2.3 0M488.66 445.9a1.15 1.15 0 1 0 2.3 0a1.15 1.15 0 1 0-2.3 0M483.75 443.08a1.15 1.15 0 1 0 2.3 0a1.15 1.15 0 1 0-2.3 0M485.68 438.06a1.15 1.15 0 1 0 2.3 0a1.15 1.15 0 1 0-2.3 0M501.59 440.52a1.15 1.15 0 1 0 2.3 0a1.15 1.15 0 1 0-2.3 0M464.41 442.13a1.15 1.15 0 1 0 2.3 0a1.15 1.15 0 1 0-2.3 0M481.31 444.61a1.15 1.15 0 1 0 2.3 0a1.15 1.15 0 1 0-2.3 0M485.86 446.03a1.15 1.15 0 1 0 2.3 0a1.15 1.15 0 1 0-2.3 0M460.33 443.74a1.15 1.15 0 1 0 2.3 0a1.15 1.15 0 1 0-2.3 0M464.83 430.25a1.15 1.15 0 1 0 2.3 0a1.15 1.15 0 1 0-2.3 0M475.01 443.72a1.15 1.15 0 1 0 2.3 0a1.15 1.15 0 1 0-2.3 0M471.65 446.74a1.15 1.15 0 1 0 2.3 0a1.15 1.15 0 1 0-2.3 0M499.12 438.53a1.15 1.15 0 1 0 2.3 0a1.15 1.15 0 1 0-2.3 0M482.74 442.67a1.15 1.15 0 1 0 2.3 0a1.15 1.15 0 1 0-2.3 0M474.33 446.5a1.15 1.15 0 1 0 2.3 0a1.15 1.15 0 1 0-2.3 0M518.02 425.42a1.15 1.15 0 1 0 2.3 0a1.15 1.15 0 1 0-2.3 0M471.29 445.72a1.15 1.15 0 1 0 2.3 0a1.15 1.15 0 1 0-2.3 0M517.04 427.43a1.15 1.15 0 1 0 2.3 0a1.15 1.15 0 1 0-2.3 0M469.61 443.66a1.15 1.15 0 1 0 2.3 0a1.15 1.15 0 1 0-2.3 0M503.88 439.31a1.15 1.15 0 1 0 2.3 0a1.15 1.15 0 1 0-2.3 0M507.09 438.46a1.15 1.15 0 1 0 2.3 0a1.15 1.15 0 1 0-2.3 0M488.25 442.16a1.15 1.15 0 1 0 2.3 0a1.15 1.15 0 1 0-2.3 0M469.88 442.92a1.15 1.15 0 1 0 2.3 0a1.15 1.15 0 1 0-2.3 0M478.36 429.79a1.15 1.15 0 1 0 2.3 0a1.15 1.15 0 1 0-2.3 0M493.63 437.81a1.15 1.15 0 1 0 2.3 0a1.15 1.15 0 1 0-2.3 0M485.96 437.99a1.15 1.15 0 1 0 2.3 0a1.15 1.15 0 1 0-2.3 0M496.53 442.81a1.15 1.15 0 1 0 2.3 0a1.15 1.15 0 1 0-2.3 0M468.76 443.63a1.15 1.15 0 1 0 2.3 0a1.15 1.15 0 1 0-2.3 0M494.61 433.39a1.15 1.15 0 1 0 2.3 0a1.15 1.15 0 1 0-2.3 0M502.1 439.36a1.15 1.15 0 1 0 2.3 0a1.15 1.15 0 1 0-2.3 0M492.86 442.81a1.15 1.15 0 1 0 2.3 0a1.15 1.15 0 1 0-2.3 0M492.56 440.19a1.15 1.15 0 1 0 2.3 0a1.15 1.15 0 1 0-2.3 0M466.85 444.37a1.15 1.15 0 1 0 2.3 0a1.15 1.15 0 1 0-2.3 0M458.6 435.04a1.15 1.15 0 1 0 2.3 0a1.15 1.15 0 1 0-2.3 0M442.84 436.24a1.15 1.15 0 1 0 2.3 0a1.15 1.15 0 1 0-2.3 0M488.55 445.27a1.15 1.15 0 1 0 2.3 0a1.15 1.15 0 1 0-2.3 0M514.51 428.77a1.15 1.15 0 1 0 2.3 0a1.15 1.15 0 1 0-2.3 0M479.24 443.28a1.15 1.15 0 1 0 2.3 0a1.15 1.15 0 1 0-2.3 0M439.57 432.91a1.15 1.15 0 1 0 2.3 0a1.15 1.15 0 1 0-2.3 0M484.08 445.51a1.15 1.15 0 1 0 2.3 0a1.15 1.15 0 1 0-2.3 0M477.44 441.77a1.15 1.15 0 1 0 2.3 0a1.15 1.15 0 1 0-2.3 0M474.67 439.63a1.15 1.15 0 1 0 2.3 0a1.15 1.15 0 1 0-2.3 0M501.5 439.23a1.15 1.15 0 1 0 2.3 0a1.15 1.15 0 1 0-2.3 0M505.78 436.92a1.15 1.15 0 1 0 2.3 0a1.15 1.15 0 1 0-2.3 0M467.81 446.12a1.15 1.15 0 1 0 2.3 0a1.15 1.15 0 1 0-2.3 0M487.01 438.67a1.15 1.15 0 1 0 2.3 0a1.15 1.15 0 1 0-2.3 0M462.74 423.56a1.15 1.15 0 1 0 2.3 0a1.15 1.15 0 1 0-2.3 0M500.02 435.73a1.15 1.15 0 1 0 2.3 0a1.15 1.15 0 1 0-2.3 0M462.42 444.63a1.15 1.15 0 1 0 2.3 0a1.15 1.15 0 1 0-2.3 0M501.97 441.27a1.15 1.15 0 1 0 2.3 0a1.15 1.15 0 1 0-2.3 0M485.2 432.51a1.15 1.15 0 1 0 2.3 0a1.15 1.15 0 1 0-2.3 0M484.86 435.49a1.15 1.15 0 1 0 2.3 0a1.15 1.15 0 1 0-2.3 0M457.11 443.32a1.15 1.15 0 1 0 2.3 0a1.15 1.15 0 1 0-2.3 0M492.8 443.23a1.15 1.15 0 1 0 2.3 0a1.15 1.15 0 1 0-2.3 0M450.72 440.63a1.15 1.15 0 1 0 2.3 0a1.15 1.15 0 1 0-2.3 0M460.29 441.41a1.15 1.15 0 1 0 2.3 0a1.15 1.15 0 1 0-2.3 0M465.42 445.95a1.15 1.15 0 1 0 2.3 0a1.15 1.15 0 1 0-2.3 0M515.37 428.39a1.15 1.15 0 1 0 2.3 0a1.15 1.15 0 1 0-2.3 0M482.76 444.16a1.15 1.15 0 1 0 2.3 0a1.15 1.15 0 1 0-2.3 0M469.62 444.46a1.15 1.15 0 1 0 2.3 0a1.15 1.15 0 1 0-2.3 0M489.67 441.27a1.15 1.15 0 1 0 2.3 0a1.15 1.15 0 1 0-2.3 0M478.32 446.29a1.15 1.15 0 1 0 2.3 0a1.15 1.15 0 1 0-2.3 0M463.34 438.32a1.15 1.15 0 1 0 2.3 0a1.15 1.15 0 1 0-2.3 0M462.4 432.35a1.15 1.15 0 1 0 2.3 0a1.15 1.15 0 1 0-2.3 0M479.97 443.33a1.15 1.15 0 1 0 2.3 0a1.15 1.15 0 1 0-2.3 0M508.78 436.54a1.15 1.15 0 1 0 2.3 0a1.15 1.15 0 1 0-2.3 0M478.53 445.87a1.15 1.15 0 1 0 2.3 0a1.15 1.15 0 1 0-2.3 0M476.88 446.28a1.15 1.15 0 1 0 2.3 0a1.15 1.15 0 1 0-2.3 0M464.36 444.09a1.15 1.15 0 1 0 2.3 0a1.15 1.15 0 1 0-2.3 0M461.85 444a1.15 1.15 0 1 0 2.3 0a1.15 1.15 0 1 0-2.3 0M498.18 436.16a1.15 1.15 0 1 0 2.3 0a1.15 1.15 0 1 0-2.3 0M486.58 428.59a1.15 1.15 0 1 0 2.3 0a1.15 1.15 0 1 0-2.3 0M487.69 438.98a1.15 1.15 0 1 0 2.3 0a1.15 1.15 0 1 0-2.3 0M457.9 434.27a1.15 1.15 0 1 0 2.3 0a1.15 1.15 0 1 0-2.3 0M490.1 432.23a1.15 1.15 0 1 0 2.3 0a1.15 1.15 0 1 0-2.3 0M486.15 446.46a1.15 1.15 0 1 0 2.3 0a1.15 1.15 0 1 0-2.3 0M506.01 431.65a1.15 1.15 0 1 0 2.3 0a1.15 1.15 0 1 0-2.3 0M498.4 442.81a1.15 1.15 0 1 0 2.3 0a1.15 1.15 0 1 0-2.3 0M476.78 426.95a1.15 1.15 0 1 0 2.3 0a1.15 1.15 0 1 0-2.3 0M486.22 443.83a1.15 1.15 0 1 0 2.3 0a1.15 1.15 0 1 0-2.3 0M486.01 443.94a1.15 1.15 0 1 0 2.3 0a1.15 1.15 0 1 0-2.3 0M479.04 442.89a1.15 1.15 0 1 0 2.3 0a1.15 1.15 0 1 0-2.3 0M466.12 444.03a1.15 1.15 0 1 0 2.3 0a1.15 1.15 0 1 0-2.3 0M495.61 434.9a1.15 1.15 0 1 0 2.3 0a1.15 1.15 0 1 0-2.3 0M479.05 443.67a1.15 1.15 0 1 0 2.3 0a1.15 1.15 0 1 0-2.3 0M507.97 430.07a1.15 1.15 0 1 0 2.3 0a1.15 1.15 0 1 0-2.3 0M475.22 442.33a1.15 1.15 0 1 0 2.3 0a1.15 1.15 0 1 0-2.3 0M474.91 434.7a1.15 1.15 0 1 0 2.3 0a1.15 1.15 0 1 0-2.3 0M480.15 445.43a1.15 1.15 0 1 0 2.3 0a1.15 1.15 0 1 0-2.3 0M475.63 438.16a1.15 1.15 0 1 0 2.3 0a1.15 1.15 0 1 0-2.3 0M496.78 443.53a1.15 1.15 0 1 0 2.3 0a1.15 1.15 0 1 0-2.3 0M499.93 439.3a1.15 1.15 0 1 0 2.3 0a1.15 1.15 0 1 0-2.3 0M437.86 430.06a1.15 1.15 0 1 0 2.3 0a1.15 1.15 0 1 0-2.3 0M494.17 441.27a1.15 1.15 0 1 0 2.3 0a1.15 1.15 0 1 0-2.3 0M487.17 445.63a1.15 1.15 0 1 0 2.3 0a1.15 1.15 0 1 0-2.3 0M509.68 437.56a1.15 1.15 0 1 0 2.3 0a1.15 1.15 0 1 0-2.3 0M465.7 439.98a1.15 1.15 0 1 0 2.3 0a1.15 1.15 0 1 0-2.3 0M482.77 435.02a1.15 1.15 0 1 0 2.3 0a1.15 1.15 0 1 0-2.3 0M500.89 430.49a1.15 1.15 0 1 0 2.3 0a1.15 1.15 0 1 0-2.3 0M495.53 443.67a1.15 1.15 0 1 0 2.3 0a1.15 1.15 0 1 0-2.3 0M506.14 439.55a1.15 1.15 0 1 0 2.3 0a1.15 1.15 0 1 0-2.3 0M467.6 445.28a1.15 1.15 0 1 0 2.3 0a1.15 1.15 0 1 0-2.3 0M469.41 442.45a1.15 1.15 0 1 0 2.3 0a1.15 1.15 0 1 0-2.3 0M490.45 440.79a1.15 1.15 0 1 0 2.3 0a1.15 1.15 0 1 0-2.3 0M457.77 442.75a1.15 1.15 0 1 0 2.3 0a1.15 1.15 0 1 0-2.3 0M488.05 440.27a1.15 1.15 0 1 0 2.3 0a1.15 1.15 0 1 0-2.3 0M496.18 441.8a1.15 1.15 0 1 0 2.3 0a1.15 1.15 0 1 0-2.3 0M486.34 437.23a1.15 1.15 0 1 0 2.3 0a1.15 1.15 0 1 0-2.3 0M458.13 439.32a1.15 1.15 0 1 0 2.3 0a1.15 1.15 0 1 0-2.3 0M470.97 442.37a1.15 1.15 0 1 0 2.3 0a1.15 1.15 0 1 0-2.3 0M475.27 443.71a1.15 1.15 0 1 0 2.3 0a1.15 1.15 0 1 0-2.3 0M487.49 443.97a1.15 1.15 0 1 0 2.3 0a1.15 1.15 0 1 0-2.3 0M484.61 444.23a1.15 1.15 0 1 0 2.3 0a1.15 1.15 0 1 0-2.3 0M473.24 445.26a1.15 1.15 0 1 0 2.3 0a1.15 1.15 0 1 0-2.3 0M452.4 436.09a1.15 1.15 0 1 0 2.3 0a1.15 1.15 0 1 0-2.3 0M449.95 439.17a1.15 1.15 0 1 0 2.3 0a1.15 1.15 0 1 0-2.3 0M463.47 445.18a1.15 1.15 0 1 0 2.3 0a1.15 1.15 0 1 0-2.3 0M462.95 434.65a1.15 1.15 0 1 0 2.3 0a1.15 1.15 0 1 0-2.3 0M469.58 442.07a1.15 1.15 0 1 0 2.3 0a1.15 1.15 0 1 0-2.3 0M462.13 434.61a1.15 1.15 0 1 0 2.3 0a1.15 1.15 0 1 0-2.3 0M477.46 441.78a1.15 1.15 0 1 0 2.3 0a1.15 1.15 0 1 0-2.3 0M469.81 437.88a1.15 1.15 0 1 0 2.3 0a1.15 1.15 0 1 0-2.3 0M483.15 440.45a1.15 1.15 0 1 0 2.3 0a1.15 1.15 0 1 0-2.3 0M479.78 441.44a1.15 1.15 0 1 0 2.3 0a1.15 1.15 0 1 0-2.3 0M489.69 439.02a1.15 1.15 0 1 0 2.3 0a1.15 1.15 0 1 0-2.3 0M463.78 442.3a1.15 1.15 0 1 0 2.3 0a1.15 1.15 0 1 0-2.3 0M465.01 444.11a1.15 1.15 0 1 0 2.3 0a1.15 1.15 0 1 0-2.3 0M461.28 442.97a1.15 1.15 0 1 0 2.3 0a1.15 1.15 0 1 0-2.3 0M481.28 445.35a1.15 1.15 0 1 0 2.3 0a1.15 1.15 0 1 0-2.3 0M491.91 437.24a1.15 1.15 0 1 0 2.3 0a1.15 1.15 0 1 0-2.3 0M482.56 446.55a1.15 1.15 0 1 0 2.3 0a1.15 1.15 0 1 0-2.3 0M477.48 439.94a1.15 1.15 0 1 0 2.3 0a1.15 1.15 0 1 0-2.3 0M492.09 443.74a1.15 1.15 0 1 0 2.3 0a1.15 1.15 0 1 0-2.3 0M478.96 447.26a1.15 1.15 0 1 0 2.3 0a1.15 1.15 0 1 0-2.3 0M463.15 438.93a1.15 1.15 0 1 0 2.3 0a1.15 1.15 0 1 0-2.3 0M492.13 444.91a1.15 1.15 0 1 0 2.3 0a1.15 1.15 0 1 0-2.3 0M472.79 444.81a1.15 1.15 0 1 0 2.3 0a1.15 1.15 0 1 0-2.3 0M455.19 441.21a1.15 1.15 0 1 0 2.3 0a1.15 1.15 0 1 0-2.3 0M476.67 445.29a1.15 1.15 0 1 0 2.3 0a1.15 1.15 0 1 0-2.3 0M465.99 444.5a1.15 1.15 0 1 0 2.3 0a1.15 1.15 0 1 0-2.3 0M479.09 432.75a1.15 1.15 0 1 0 2.3 0a1.15 1.15 0 1 0-2.3 0M467.78 440.18a1.15 1.15 0 1 0 2.3 0a1.15 1.15 0 1 0-2.3 0M474.34 443.47a1.15 1.15 0 1 0 2.3 0a1.15 1.15 0 1 0-2.3 0M469.64 445.1a1.15 1.15 0 1 0 2.3 0a1.15 1.15 0 1 0-2.3 0M477.69 441.1a1.15 1.15 0 1 0 2.3 0a1.15 1.15 0 1 0-2.3 0M489.27 445.44a1.15 1.15 0 1 0 2.3 0a1.15 1.15 0 1 0-2.3 0M483.77 440.08a1.15 1.15 0 1 0 2.3 0a1.15 1.15 0 1 0-2.3 0M479.71 441.82a1.15 1.15 0 1 0 2.3 0a1.15 1.15 0 1 0-2.3 0M496.7 444.09a1.15 1.15 0 1 0 2.3 0a1.15 1.15 0 1 0-2.3 0M457.12 436.58a1.15 1.15 0 1 0 2.3 0a1.15 1.15 0 1 0-2.3 0M482.49 443.45a1.15 1.15 0 1 0 2.3 0a1.15 1.15 0 1 0-2.3 0M499.14 442.1a1.15 1.15 0 1 0 2.3 0a1.15 1.15 0 1 0-2.3 0M489.01 445.65a1.15 1.15 0 1 0 2.3 0a1.15 1.15 0 1 0-2.3 0M498.4 438.35a1.15 1.15 0 1 0 2.3 0a1.15 1.15 0 1 0-2.3 0M464.35 435.57a1.15 1.15 0 1 0 2.3 0a1.15 1.15 0 1 0-2.3 0M498.75 440.94a1.15 1.15 0 1 0 2.3 0a1.15 1.15 0 1 0-2.3 0M468.09 440.4a1.15 1.15 0 1 0 2.3 0a1.15 1.15 0 1 0-2.3 0M498.49 441.33a1.15 1.15 0 1 0 2.3 0a1.15 1.15 0 1 0-2.3 0M483.95 424.49a1.15 1.15 0 1 0 2.3 0a1.15 1.15 0 1 0-2.3 0M494 435.82a1.15 1.15 0 1 0 2.3 0a1.15 1.15 0 1 0-2.3 0M466.77 437.77a1.15 1.15 0 1 0 2.3 0a1.15 1.15 0 1 0-2.3 0M476.16 445.1a1.15 1.15 0 1 0 2.3 0a1.15 1.15 0 1 0-2.3 0M449.2 436.81a1.15 1.15 0 1 0 2.3 0a1.15 1.15 0 1 0-2.3 0M485.78 439.5a1.15 1.15 0 1 0 2.3 0a1.15 1.15 0 1 0-2.3 0M492.17 431.19a1.15 1.15 0 1 0 2.3 0a1.15 1.15 0 1 0-2.3 0M486.12 446.61a1.15 1.15 0 1 0 2.3 0a1.15 1.15 0 1 0-2.3 0M498.82 437.23a1.15 1.15 0 1 0 2.3 0a1.15 1.15 0 1 0-2.3 0M490.28 436.38a1.15 1.15 0 1 0 2.3 0a1.15 1.15 0 1 0-2.3 0M482.47 446.49a1.15 1.15 0 1 0 2.3 0a1.15 1.15 0 1 0-2.3 0M489.57 431.86a1.15 1.15 0 1 0 2.3 0a1.15 1.15 0 1 0-2.3 0M471.38 442.16a1.15 1.15 0 1 0 2.3 0a1.15 1.15 0 1 0-2.3 0M495.81 441.08a1.15 1.15 0 1 0 2.3 0a1.15 1.15 0 1 0-2.3 0M485.07 438.08a1.15 1.15 0 1 0 2.3 0a1.15 1.15 0 1 0-2.3 0M486.08 443.61a1.15 1.15 0 1 0 2.3 0a1.15 1.15 0 1 0-2.3 0M478.29 437.68a1.15 1.15 0 1 0 2.3 0a1.15 1.15 0 1 0-2.3 0M470.99 435.39a1.15 1.15 0 1 0 2.3 0a1.15 1.15 0 1 0-2.3 0M464.86 424.67a1.15 1.15 0 1 0 2.3 0a1.15 1.15 0 1 0-2.3 0M476.03 444.63a1.15 1.15 0 1 0 2.3 0a1.15 1.15 0 1 0-2.3 0M492.52 444.75a1.15 1.15 0 1 0 2.3 0a1.15 1.15 0 1 0-2.3 0M451.39 432.24a1.15 1.15 0 1 0 2.3 0a1.15 1.15 0 1 0-2.3 0M482.71 446.96a1.15 1.15 0 1 0 2.3 0a1.15 1.15 0 1 0-2.3 0M484.63 435.84a1.15 1.15 0 1 0 2.3 0a1.15 1.15 0 1 0-2.3 0M478.64 431.87a1.15 1.15 0 1 0 2.3 0a1.15 1.15 0 1 0-2.3 0M487.76 446.23a1.15 1.15 0 1 0 2.3 0a1.15 1.15 0 1 0-2.3 0M479.15 433.94a1.15 1.15 0 1 0 2.3 0a1.15 1.15 0 1 0-2.3 0M483.27 419.92a1.15 1.15 0 1 0 2.3 0a1.15 1.15 0 1 0-2.3 0M484.25 446.12a1.15 1.15 0 1 0 2.3 0a1.15 1.15 0 1 0-2.3 0M465.35 441.91a1.15 1.15 0 1 0 2.3 0a1.15 1.15 0 1 0-2.3 0M501.63 439.43a1.15 1.15 0 1 0 2.3 0a1.15 1.15 0 1 0-2.3 0M485.38 434.66a1.15 1.15 0 1 0 2.3 0a1.15 1.15 0 1 0-2.3 0M500.32 442.24a1.15 1.15 0 1 0 2.3 0a1.15 1.15 0 1 0-2.3 0M484.68 443.01a1.15 1.15 0 1 0 2.3 0a1.15 1.15 0 1 0-2.3 0M499.56 442.89a1.15 1.15 0 1 0 2.3 0a1.15 1.15 0 1 0-2.3 0M482.91 430.79a1.15 1.15 0 1 0 2.3 0a1.15 1.15 0 1 0-2.3 0M501.13 434.74a1.15 1.15 0 1 0 2.3 0a1.15 1.15 0 1 0-2.3 0M504.1 440.95a1.15 1.15 0 1 0 2.3 0a1.15 1.15 0 1 0-2.3 0M481.26 445.83a1.15 1.15 0 1 0 2.3 0a1.15 1.15 0 1 0-2.3 0M456.88 437.41a1.15 1.15 0 1 0 2.3 0a1.15 1.15 0 1 0-2.3 0M477.11 445.38a1.15 1.15 0 1 0 2.3 0a1.15 1.15 0 1 0-2.3 0M490.86 431.37a1.15 1.15 0 1 0 2.3 0a1.15 1.15 0 1 0-2.3 0M484.64 429.3a1.15 1.15 0 1 0 2.3 0a1.15 1.15 0 1 0-2.3 0M472.99 446.01a1.15 1.15 0 1 0 2.3 0a1.15 1.15 0 1 0-2.3 0M470 425.42a1.15 1.15 0 1 0 2.3 0a1.15 1.15 0 1 0-2.3 0M461.99 429.74a1.15 1.15 0 1 0 2.3 0a1.15 1.15 0 1 0-2.3 0M474.69 443.4a1.15 1.15 0 1 0 2.3 0a1.15 1.15 0 1 0-2.3 0M492.48 442.98a1.15 1.15 0 1 0 2.3 0a1.15 1.15 0 1 0-2.3 0M493 439.96a1.15 1.15 0 1 0 2.3 0a1.15 1.15 0 1 0-2.3 0M492.56 439.42a1.15 1.15 0 1 0 2.3 0a1.15 1.15 0 1 0-2.3 0M478.82 447.23a1.15 1.15 0 1 0 2.3 0a1.15 1.15 0 1 0-2.3 0M484.99 440.79a1.15 1.15 0 1 0 2.3 0a1.15 1.15 0 1 0-2.3 0M481.58 443.14a1.15 1.15 0 1 0 2.3 0a1.15 1.15 0 1 0-2.3 0M488.74 435.93a1.15 1.15 0 1 0 2.3 0a1.15 1.15 0 1 0-2.3 0M486.38 436.41a1.15 1.15 0 1 0 2.3 0a1.15 1.15 0 1 0-2.3 0M491.67 438.1a1.15 1.15 0 1 0 2.3 0a1.15 1.15 0 1 0-2.3 0M479.37 440.57a1.15 1.15 0 1 0 2.3 0a1.15 1.15 0 1 0-2.3 0M480.13 432.47a1.15 1.15 0 1 0 2.3 0a1.15 1.15 0 1 0-2.3 0M504.22 436.7a1.15 1.15 0 1 0 2.3 0a1.15 1.15 0 1 0-2.3 0M502.36 435.9a1.15 1.15 0 1 0 2.3 0a1.15 1.15 0 1 0-2.3 0M486.68 430.23a1.15 1.15 0 1 0 2.3 0a1.15 1.15 0 1 0-2.3 0M486.55 442.46a1.15 1.15 0 1 0 2.3 0a1.15 1.15 0 1 0-2.3 0M494.41 443.92a1.15 1.15 0 1 0 2.3 0a1.15 1.15 0 1 0-2.3 0M445.41 431.76a1.15 1.15 0 1 0 2.3 0a1.15 1.15 0 1 0-2.3 0M452.55 437.59a1.15 1.15 0 1 0 2.3 0a1.15 1.15 0 1 0-2.3 0M472.97 445.94a1.15 1.15 0 1 0 2.3 0a1.15 1.15 0 1 0-2.3 0M481.54 445.6a1.15 1.15 0 1 0 2.3 0a1.15 1.15 0 1 0-2.3 0M461.02 444.43a1.15 1.15 0 1 0 2.3 0a1.15 1.15 0 1 0-2.3 0M498.05 433.78a1.15 1.15 0 1 0 2.3 0a1.15 1.15 0 1 0-2.3 0M496.33 440.24a1.15 1.15 0 1 0 2.3 0a1.15 1.15 0 1 0-2.3 0M490.16 445.57a1.15 1.15 0 1 0 2.3 0a1.15 1.15 0 1 0-2.3 0M493.14 443.29a1.15 1.15 0 1 0 2.3 0a1.15 1.15 0 1 0-2.3 0M460.44 426.98a1.15 1.15 0 1 0 2.3 0a1.15 1.15 0 1 0-2.3 0M476.96 446.97a1.15 1.15 0 1 0 2.3 0a1.15 1.15 0 1 0-2.3 0M441.15 428.11a1.15 1.15 0 1 0 2.3 0a1.15 1.15 0 1 0-2.3 0M495.32 444.12a1.15 1.15 0 1 0 2.3 0a1.15 1.15 0 1 0-2.3 0M498.08 432.51a1.15 1.15 0 1 0 2.3 0a1.15 1.15 0 1 0-2.3 0M485.81 440.85a1.15 1.15 0 1 0 2.3 0a1.15 1.15 0 1 0-2.3 0M462.88 435.27a1.15 1.15 0 1 0 2.3 0a1.15 1.15 0 1 0-2.3 0M479.87 445.99a1.15 1.15 0 1 0 2.3 0a1.15 1.15 0 1 0-2.3 0M495.03 442.21a1.15 1.15 0 1 0 2.3 0a1.15 1.15 0 1 0-2.3 0M459.16 438.82a1.15 1.15 0 1 0 2.3 0a1.15 1.15 0 1 0-2.3 0M483.02 446.26a1.15 1.15 0 1 0 2.3 0a1.15 1.15 0 1 0-2.3 0M491.07 439.96a1.15 1.15 0 1 0 2.3 0a1.15 1.15 0 1 0-2.3 0M466.87 444.14a1.15 1.15 0 1 0 2.3 0a1.15 1.15 0 1 0-2.3 0M470.23 446.17a1.15 1.15 0 1 0 2.3 0a1.15 1.15 0 1 0-2.3 0M498.9 442.49a1.15 1.15 0 1 0 2.3 0a1.15 1.15 0 1 0-2.3 0M491.92 442.79a1.15 1.15 0 1 0 2.3 0a1.15 1.15 0 1 0-2.3 0M483.99 440.96a1.15 1.15 0 1 0 2.3 0a1.15 1.15 0 1 0-2.3 0M463.81 444.55a1.15 1.15 0 1 0 2.3 0a1.15 1.15 0 1 0-2.3 0M478.86 444.14a1.15 1.15 0 1 0 2.3 0a1.15 1.15 0 1 0-2.3 0M469.51 417.84a1.15 1.15 0 1 0 2.3 0a1.15 1.15 0 1 0-2.3 0M475.56 435.99a1.15 1.15 0 1 0 2.3 0a1.15 1.15 0 1 0-2.3 0M487.69 438.3a1.15 1.15 0 1 0 2.3 0a1.15 1.15 0 1 0-2.3 0M504.48 437.53a1.15 1.15 0 1 0 2.3 0a1.15 1.15 0 1 0-2.3 0M482.5 445.73a1.15 1.15 0 1 0 2.3 0a1.15 1.15 0 1 0-2.3 0M510.54 427.71a1.15 1.15 0 1 0 2.3 0a1.15 1.15 0 1 0-2.3 0M458.58 438.94a1.15 1.15 0 1 0 2.3 0a1.15 1.15 0 1 0-2.3 0M476.99 446.37a1.15 1.15 0 1 0 2.3 0a1.15 1.15 0 1 0-2.3 0M480.61 440.78a1.15 1.15 0 1 0 2.3 0a1.15 1.15 0 1 0-2.3 0M445.53 433.71a1.15 1.15 0 1 0 2.3 0a1.15 1.15 0 1 0-2.3 0M453.67 440.93a1.15 1.15 0 1 0 2.3 0a1.15 1.15 0 1 0-2.3 0M474.73 432.98a1.15 1.15 0 1 0 2.3 0a1.15 1.15 0 1 0-2.3 0M482.04 442.11a1.15 1.15 0 1 0 2.3 0a1.15 1.15 0 1 0-2.3 0M487.3 444.71a1.15 1.15 0 1 0 2.3 0a1.15 1.15 0 1 0-2.3 0M481.54 439.48a1.15 1.15 0 1 0 2.3 0a1.15 1.15 0 1 0-2.3 0M475.3 439.87a1.15 1.15 0 1 0 2.3 0a1.15 1.15 0 1 0-2.3 0M457.9 438.49a1.15 1.15 0 1 0 2.3 0a1.15 1.15 0 1 0-2.3 0M481 445.65a1.15 1.15 0 1 0 2.3 0a1.15 1.15 0 1 0-2.3 0M487.54 440.45a1.15 1.15 0 1 0 2.3 0a1.15 1.15 0 1 0-2.3 0M468.98 438.38a1.15 1.15 0 1 0 2.3 0a1.15 1.15 0 1 0-2.3 0M482.55 420.53a1.15 1.15 0 1 0 2.3 0a1.15 1.15 0 1 0-2.3 0M487.31 445.62a1.15 1.15 0 1 0 2.3 0a1.15 1.15 0 1 0-2.3 0M500.85 435.09a1.15 1.15 0 1 0 2.3 0a1.15 1.15 0 1 0-2.3 0M471.42 445.89a1.15 1.15 0 1 0 2.3 0a1.15 1.15 0 1 0-2.3 0M488.55 439.26a1.15 1.15 0 1 0 2.3 0a1.15 1.15 0 1 0-2.3 0M489.53 442.91a1.15 1.15 0 1 0 2.3 0a1.15 1.15 0 1 0-2.3 0M475.44 445.38a1.15 1.15 0 1 0 2.3 0a1.15 1.15 0 1 0-2.3 0M478.79 438.76a1.15 1.15 0 1 0 2.3 0a1.15 1.15 0 1 0-2.3 0M473.53 442.55a1.15 1.15 0 1 0 2.3 0a1.15 1.15 0 1 0-2.3 0M481.45 446.24a1.15 1.15 0 1 0 2.3 0a1.15 1.15 0 1 0-2.3 0M484.72 446.31a1.15 1.15 0 1 0 2.3 0a1.15 1.15 0 1 0-2.3 0M460.57 435.7a1.15 1.15 0 1 0 2.3 0a1.15 1.15 0 1 0-2.3 0M478.05 443.99a1.15 1.15 0 1 0 2.3 0a1.15 1.15 0 1 0-2.3 0M505.31 438.57a1.15 1.15 0 1 0 2.3 0a1.15 1.15 0 1 0-2.3 0M480.26 445.82a1.15 1.15 0 1 0 2.3 0a1.15 1.15 0 1 0-2.3 0M449.91 436.49a1.15 1.15 0 1 0 2.3 0a1.15 1.15 0 1 0-2.3 0M504.17 439.61a1.15 1.15 0 1 0 2.3 0a1.15 1.15 0 1 0-2.3 0M476.66 431.18a1.15 1.15 0 1 0 2.3 0a1.15 1.15 0 1 0-2.3 0M483.23 443.43a1.15 1.15 0 1 0 2.3 0a1.15 1.15 0 1 0-2.3 0M489.15 441.2a1.15 1.15 0 1 0 2.3 0a1.15 1.15 0 1 0-2.3 0M473.95 447.16a1.15 1.15 0 1 0 2.3 0a1.15 1.15 0 1 0-2.3 0M463.8 440.11a1.15 1.15 0 1 0 2.3 0a1.15 1.15 0 1 0-2.3 0M468.52 446.32a1.15 1.15 0 1 0 2.3 0a1.15 1.15 0 1 0-2.3 0M484.84 443.48a1.15 1.15 0 1 0 2.3 0a1.15 1.15 0 1 0-2.3 0M480.28 445.96a1.15 1.15 0 1 0 2.3 0a1.15 1.15 0 1 0-2.3 0M475.8 444.23a1.15 1.15 0 1 0 2.3 0a1.15 1.15 0 1 0-2.3 0M515.45 428.17a1.15 1.15 0 1 0 2.3 0a1.15 1.15 0 1 0-2.3 0M484.59 430.98a1.15 1.15 0 1 0 2.3 0a1.15 1.15 0 1 0-2.3 0M496.28 440.41a1.15 1.15 0 1 0 2.3 0a1.15 1.15 0 1 0-2.3 0M515.22 434.79a1.15 1.15 0 1 0 2.3 0a1.15 1.15 0 1 0-2.3 0M482.84 437.66a1.15 1.15 0 1 0 2.3 0a1.15 1.15 0 1 0-2.3 0M474.08 445.06a1.15 1.15 0 1 0 2.3 0a1.15 1.15 0 1 0-2.3 0M476.46 433.15a1.15 1.15 0 1 0 2.3 0a1.15 1.15 0 1 0-2.3 0M482.68 444.64a1.15 1.15 0 1 0 2.3 0a1.15 1.15 0 1 0-2.3 0M498.19 441.97a1.15 1.15 0 1 0 2.3 0a1.15 1.15 0 1 0-2.3 0M477.38 444.4a1.15 1.15 0 1 0 2.3 0a1.15 1.15 0 1 0-2.3 0M471.49 444.23a1.15 1.15 0 1 0 2.3 0a1.15 1.15 0 1 0-2.3 0M493.11 439.68a1.15 1.15 0 1 0 2.3 0a1.15 1.15 0 1 0-2.3 0M485.35 424.38a1.15 1.15 0 1 0 2.3 0a1.15 1.15 0 1 0-2.3 0M466.83 418.51a1.15 1.15 0 1 0 2.3 0a1.15 1.15 0 1 0-2.3 0M468.24 418.81a1.15 1.15 0 1 0 2.3 0a1.15 1.15 0 1 0-2.3 0M484.35 419.63a1.15 1.15 0 1 0 2.3 0a1.15 1.15 0 1 0-2.3 0M471.38 425.04a1.15 1.15 0 1 0 2.3 0a1.15 1.15 0 1 0-2.3 0M462.71 415.64a1.15 1.15 0 1 0 2.3 0a1.15 1.15 0 1 0-2.3 0M471.35 409.31a1.15 1.15 0 1 0 2.3 0a1.15 1.15 0 1 0-2.3 0M481.12 421.98a1.15 1.15 0 1 0 2.3 0a1.15 1.15 0 1 0-2.3 0M462.42 411.02a1.15 1.15 0 1 0 2.3 0a1.15 1.15 0 1 0-2.3 0M471.7 414.05a1.15 1.15 0 1 0 2.3 0a1.15 1.15 0 1 0-2.3 0M464.82 385.63a1.15 1.15 0 1 0 2.3 0a1.15 1.15 0 1 0-2.3 0M482.37 413.38a1.15 1.15 0 1 0 2.3 0a1.15 1.15 0 1 0-2.3 0M475.14 416.2a1.15 1.15 0 1 0 2.3 0a1.15 1.15 0 1 0-2.3 0M484.66 423.77a1.15 1.15 0 1 0 2.3 0a1.15 1.15 0 1 0-2.3 0M463.48 393.8a1.15 1.15 0 1 0 2.3 0a1.15 1.15 0 1 0-2.3 0M482.71 400.1a1.15 1.15 0 1 0 2.3 0a1.15 1.15 0 1 0-2.3 0M475.86 374.65a1.15 1.15 0 1 0 2.3 0a1.15 1.15 0 1 0-2.3 0M472.87 412.6a1.15 1.15 0 1 0 2.3 0a1.15 1.15 0 1 0-2.3 0M483.46 425.55a1.15 1.15 0 1 0 2.3 0a1.15 1.15 0 1 0-2.3 0M485.2 422.78a1.15 1.15 0 1 0 2.3 0a1.15 1.15 0 1 0-2.3 0M478.83 423.36a1.15 1.15 0 1 0 2.3 0a1.15 1.15 0 1 0-2.3 0M466.71 409.33a1.15 1.15 0 1 0 2.3 0a1.15 1.15 0 1 0-2.3 0M469.35 409.02a1.15 1.15 0 1 0 2.3 0a1.15 1.15 0 1 0-2.3 0M481.21 368.24a1.15 1.15 0 1 0 2.3 0a1.15 1.15 0 1 0-2.3 0M467.8 423.53a1.15 1.15 0 1 0 2.3 0a1.15 1.15 0 1 0-2.3 0M462.62 409.53a1.15 1.15 0 1 0 2.3 0a1.15 1.15 0 1 0-2.3 0M484.14 408.88a1.15 1.15 0 1 0 2.3 0a1.15 1.15 0 1 0-2.3 0M467.18 407.76a1.15 1.15 0 1 0 2.3 0a1.15 1.15 0 1 0-2.3 0M480.37 418.77a1.15 1.15 0 1 0 2.3 0a1.15 1.15 0 1 0-2.3 0M462.45 420.82a1.15 1.15 0 1 0 2.3 0a1.15 1.15 0 1 0-2.3 0M481.48 403.73a1.15 1.15 0 1 0 2.3 0a1.15 1.15 0 1 0-2.3 0M473.7 415.73a1.15 1.15 0 1 0 2.3 0a1.15 1.15 0 1 0-2.3 0M477.2 414.91a1.15 1.15 0 1 0 2.3 0a1.15 1.15 0 1 0-2.3 0M474.66 420.09a1.15 1.15 0 1 0 2.3 0a1.15 1.15 0 1 0-2.3 0M481.62 425.62a1.15 1.15 0 1 0 2.3 0a1.15 1.15 0 1 0-2.3 0M470.1 415.29a1.15 1.15 0 1 0 2.3 0a1.15 1.15 0 1 0-2.3 0M475.41 398.54a1.15 1.15 0 1 0 2.3 0a1.15 1.15 0 1 0-2.3 0M479.55 423.5a1.15 1.15 0 1 0 2.3 0a1.15 1.15 0 1 0-2.3 0M463.69 425.96a1.15 1.15 0 1 0 2.3 0a1.15 1.15 0 1 0-2.3 0M483.36 418.56a1.15 1.15 0 1 0 2.3 0a1.15 1.15 0 1 0-2.3 0M473.14 406.28a1.15 1.15 0 1 0 2.3 0a1.15 1.15 0 1 0-2.3 0M478.87 413.33a1.15 1.15 0 1 0 2.3 0a1.15 1.15 0 1 0-2.3 0M474.2 423.4a1.15 1.15 0 1 0 2.3 0a1.15 1.15 0 1 0-2.3 0M462.77 423.04a1.15 1.15 0 1 0 2.3 0a1.15 1.15 0 1 0-2.3 0M486.34 420.84a1.15 1.15 0 1 0 2.3 0a1.15 1.15 0 1 0-2.3 0M478.73 422.24a1.15 1.15 0 1 0 2.3 0a1.15 1.15 0 1 0-2.3 0M476.53 423.64a1.15 1.15 0 1 0 2.3 0a1.15 1.15 0 1 0-2.3 0M479.33 424.89a1.15 1.15 0 1 0 2.3 0a1.15 1.15 0 1 0-2.3 0M470.77 416.45a1.15 1.15 0 1 0 2.3 0a1.15 1.15 0 1 0-2.3 0M476.32 419.34a1.15 1.15 0 1 0 2.3 0a1.15 1.15 0 1 0-2.3 0M471.61 399.97a1.15 1.15 0 1 0 2.3 0a1.15 1.15 0 1 0-2.3 0M465.61 413.28a1.15 1.15 0 1 0 2.3 0a1.15 1.15 0 1 0-2.3 0M470.21 418.36a1.15 1.15 0 1 0 2.3 0a1.15 1.15 0 1 0-2.3 0M479.73 417.23a1.15 1.15 0 1 0 2.3 0a1.15 1.15 0 1 0-2.3 0M477.8 421.58a1.15 1.15 0 1 0 2.3 0a1.15 1.15 0 1 0-2.3 0M482.37 402.53a1.15 1.15 0 1 0 2.3 0a1.15 1.15 0 1 0-2.3 0M471.81 419.21a1.15 1.15 0 1 0 2.3 0a1.15 1.15 0 1 0-2.3 0M470.55 412.94a1.15 1.15 0 1 0 2.3 0a1.15 1.15 0 1 0-2.3 0M463.72 421.18a1.15 1.15 0 1 0 2.3 0a1.15 1.15 0 1 0-2.3 0M484.28 418.23a1.15 1.15 0 1 0 2.3 0a1.15 1.15 0 1 0-2.3 0M481.73 420.55a1.15 1.15 0 1 0 2.3 0a1.15 1.15 0 1 0-2.3 0M469.76 412.79a1.15 1.15 0 1 0 2.3 0a1.15 1.15 0 1 0-2.3 0M462.48 415.47a1.15 1.15 0 1 0 2.3 0a1.15 1.15 0 1 0-2.3 0M463.77 415.99a1.15 1.15 0 1 0 2.3 0a1.15 1.15 0 1 0-2.3 0M482.03 416.75a1.15 1.15 0 1 0 2.3 0a1.15 1.15 0 1 0-2.3 0M465.69 414.96a1.15 1.15 0 1 0 2.3 0a1.15 1.15 0 1 0-2.3 0M485.13 413.21a1.15 1.15 0 1 0 2.3 0a1.15 1.15 0 1 0-2.3 0M485.46 404.84a1.15 1.15 0 1 0 2.3 0a1.15 1.15 0 1 0-2.3 0M472.18 421.4a1.15 1.15 0 1 0 2.3 0a1.15 1.15 0 1 0-2.3 0M482.22 421.69a1.15 1.15 0 1 0 2.3 0a1.15 1.15 0 1 0-2.3 0M467.96 376.5a1.15 1.15 0 1 0 2.3 0a1.15 1.15 0 1 0-2.3 0M467.83 424.85a1.15 1.15 0 1 0 2.3 0a1.15 1.15 0 1 0-2.3 0M464.09 424.3a1.15 1.15 0 1 0 2.3 0a1.15 1.15 0 1 0-2.3 0M482.75 404.75a1.15 1.15 0 1 0 2.3 0a1.15 1.15 0 1 0-2.3 0M478.11 416.5a1.15 1.15 0 1 0 2.3 0a1.15 1.15 0 1 0-2.3 0M482.08 408.06a1.15 1.15 0 1 0 2.3 0a1.15 1.15 0 1 0-2.3 0M486.16 419.36a1.15 1.15 0 1 0 2.3 0a1.15 1.15 0 1 0-2.3 0M464.28 422.3a1.15 1.15 0 1 0 2.3 0a1.15 1.15 0 1 0-2.3 0M471.74 417.05a1.15 1.15 0 1 0 2.3 0a1.15 1.15 0 1 0-2.3 0M483.33 397.51a1.15 1.15 0 1 0 2.3 0a1.15 1.15 0 1 0-2.3 0M473.68 397.56a1.15 1.15 0 1 0 2.3 0a1.15 1.15 0 1 0-2.3 0M471.68 424.03a1.15 1.15 0 1 0 2.3 0a1.15 1.15 0 1 0-2.3 0M475.71 386.48a1.15 1.15 0 1 0 2.3 0a1.15 1.15 0 1 0-2.3 0M470.13 411.29a1.15 1.15 0 1 0 2.3 0a1.15 1.15 0 1 0-2.3 0M462.03 416.89a1.15 1.15 0 1 0 2.3 0a1.15 1.15 0 1 0-2.3 0M483.68 424.95a1.15 1.15 0 1 0 2.3 0a1.15 1.15 0 1 0-2.3 0M465.61 424.2a1.15 1.15 0 1 0 2.3 0a1.15 1.15 0 1 0-2.3 0M476.51 403.5a1.15 1.15 0 1 0 2.3 0a1.15 1.15 0 1 0-2.3 0M462.13 420.61a1.15 1.15 0 1 0 2.3 0a1.15 1.15 0 1 0-2.3 0M483.71 356.82a1.15 1.15 0 1 0 2.3 0a1.15 1.15 0 1 0-2.3 0M481.72 372.48a1.15 1.15 0 1 0 2.3 0a1.15 1.15 0 1 0-2.3 0M484.37 382.92a1.15 1.15 0 1 0 2.3 0a1.15 1.15 0 1 0-2.3 0M480.39 388.14a1.15 1.15 0 1 0 2.3 0a1.15 1.15 0 1 0-2.3 0M479.06 393.36a1.15 1.15 0 1 0 2.3 0a1.15 1.15 0 1 0-2.3 0M483.05 395.1a1.15 1.15 0 1 0 2.3 0a1.15 1.15 0 1 0-2.3 0"/>
<path fill="#2fb0ea" d="M401.65 405.2a1.45 1.45 0 1 0 2.9 0a1.45 1.45 0 1 0-2.9 0M422.35 396.3a1.45 1.45 0 1 0 2.9 0a1.45 1.45 0 1 0-2.9 0M438.75 391.7a1.45 1.45 0 1 0 2.9 0a1.45 1.45 0 1 0-2.9 0M438.05 395.1a1.45 1.45 0 1 0 2.9 0a1.45 1.45 0 1 0-2.9 0M422.35 408.1a1.45 1.45 0 1 0 2.9 0a1.45 1.45 0 1 0-2.9 0M415.65 421.1a1.45 1.45 0 1 0 2.9 0a1.45 1.45 0 1 0-2.9 0M419.85 421.1a1.45 1.45 0 1 0 2.9 0a1.45 1.45 0 1 0-2.9 0M446.85 408.6a1.45 1.45 0 1 0 2.9 0a1.45 1.45 0 1 0-2.9 0M437.05 416.5a1.45 1.45 0 1 0 2.9 0a1.45 1.45 0 1 0-2.9 0M439.25 419.9a1.45 1.45 0 1 0 2.9 0a1.45 1.45 0 1 0-2.9 0M435.35 422.1a1.45 1.45 0 1 0 2.9 0a1.45 1.45 0 1 0-2.9 0M445.15 422.1a1.45 1.45 0 1 0 2.9 0a1.45 1.45 0 1 0-2.9 0M448.55 422.8a1.45 1.45 0 1 0 2.9 0a1.45 1.45 0 1 0-2.9 0M453.95 421.1a1.45 1.45 0 1 0 2.9 0a1.45 1.45 0 1 0-2.9 0M456.95 418.2a1.45 1.45 0 1 0 2.9 0a1.45 1.45 0 1 0-2.9 0M457.85 415.7a1.45 1.45 0 1 0 2.9 0a1.45 1.45 0 1 0-2.9 0M443.85 423.8a1.45 1.45 0 1 0 2.9 0a1.45 1.45 0 1 0-2.9 0M458.65 420.4a1.45 1.45 0 1 0 2.9 0a1.45 1.45 0 1 0-2.9 0M451.55 418.5a1.45 1.45 0 1 0 2.9 0a1.45 1.45 0 1 0-2.9 0M455.05 423.5a1.45 1.45 0 1 0 2.9 0a1.45 1.45 0 1 0-2.9 0M441.55 420.8a1.45 1.45 0 1 0 2.9 0a1.45 1.45 0 1 0-2.9 0M449.55 416a1.45 1.45 0 1 0 2.9 0a1.45 1.45 0 1 0-2.9 0M432.55 423.5a1.45 1.45 0 1 0 2.9 0a1.45 1.45 0 1 0-2.9 0M446.55 419.8a1.45 1.45 0 1 0 2.9 0a1.45 1.45 0 1 0-2.9 0M456.05 412a1.45 1.45 0 1 0 2.9 0a1.45 1.45 0 1 0-2.9 0M451.05 424a1.45 1.45 0 1 0 2.9 0a1.45 1.45 0 1 0-2.9 0"/>
<circle cx="409.1" cy="298.3" r="2.5" fill="#2fb0ea"/>
<path fill="#f0401f" d="M487.75 370.4a1.45 1.45 0 1 0 2.9 0a1.45 1.45 0 1 0-2.9 0M489.15 374.6a1.45 1.45 0 1 0 2.9 0a1.45 1.45 0 1 0-2.9 0M494.75 372.4a1.45 1.45 0 1 0 2.9 0a1.45 1.45 0 1 0-2.9 0M499.25 376.8a1.45 1.45 0 1 0 2.9 0a1.45 1.45 0 1 0-2.9 0M519.55 381.7a1.45 1.45 0 1 0 2.9 0a1.45 1.45 0 1 0-2.9 0M522.45 418.8a1.45 1.45 0 1 0 2.9 0a1.45 1.45 0 1 0-2.9 0M526.95 420.4a1.45 1.45 0 1 0 2.9 0a1.45 1.45 0 1 0-2.9 0M518.05 416a1.45 1.45 0 1 0 2.9 0a1.45 1.45 0 1 0-2.9 0M511.55 410a1.45 1.45 0 1 0 2.9 0a1.45 1.45 0 1 0-2.9 0M508.55 392a1.45 1.45 0 1 0 2.9 0a1.45 1.45 0 1 0-2.9 0M492.79 396.31a1.45 1.45 0 1 0 2.9 0a1.45 1.45 0 1 0-2.9 0M496.77 417.74a1.45 1.45 0 1 0 2.9 0a1.45 1.45 0 1 0-2.9 0M495.55 403.39a1.45 1.45 0 1 0 2.9 0a1.45 1.45 0 1 0-2.9 0M489.14 385.62a1.45 1.45 0 1 0 2.9 0a1.45 1.45 0 1 0-2.9 0M495.12 404.33a1.45 1.45 0 1 0 2.9 0a1.45 1.45 0 1 0-2.9 0M489.57 385.93a1.45 1.45 0 1 0 2.9 0a1.45 1.45 0 1 0-2.9 0M496.48 398.43a1.45 1.45 0 1 0 2.9 0a1.45 1.45 0 1 0-2.9 0M488.68 398.28a1.45 1.45 0 1 0 2.9 0a1.45 1.45 0 1 0-2.9 0M489.53 384.46a1.45 1.45 0 1 0 2.9 0a1.45 1.45 0 1 0-2.9 0M492.84 411.92a1.45 1.45 0 1 0 2.9 0a1.45 1.45 0 1 0-2.9 0M490.91 383.83a1.45 1.45 0 1 0 2.9 0a1.45 1.45 0 1 0-2.9 0M494.68 408.81a1.45 1.45 0 1 0 2.9 0a1.45 1.45 0 1 0-2.9 0M489.32 386.03a1.45 1.45 0 1 0 2.9 0a1.45 1.45 0 1 0-2.9 0M488.68 388.76a1.45 1.45 0 1 0 2.9 0a1.45 1.45 0 1 0-2.9 0M490.66 408.48a1.45 1.45 0 1 0 2.9 0a1.45 1.45 0 1 0-2.9 0M495.14 417.36a1.45 1.45 0 1 0 2.9 0a1.45 1.45 0 1 0-2.9 0M490.48 403.01a1.45 1.45 0 1 0 2.9 0a1.45 1.45 0 1 0-2.9 0M502.63 419.69a1.45 1.45 0 1 0 2.9 0a1.45 1.45 0 1 0-2.9 0M490.88 418.1a1.45 1.45 0 1 0 2.9 0a1.45 1.45 0 1 0-2.9 0M501.55 420.22a1.45 1.45 0 1 0 2.9 0a1.45 1.45 0 1 0-2.9 0M491.95 409.64a1.45 1.45 0 1 0 2.9 0a1.45 1.45 0 1 0-2.9 0M490.4 421.61a1.45 1.45 0 1 0 2.9 0a1.45 1.45 0 1 0-2.9 0M496.47 403.6a1.45 1.45 0 1 0 2.9 0a1.45 1.45 0 1 0-2.9 0M492.8 405.1a1.45 1.45 0 1 0 2.9 0a1.45 1.45 0 1 0-2.9 0M495.29 419.36a1.45 1.45 0 1 0 2.9 0a1.45 1.45 0 1 0-2.9 0M493.49 419.6a1.45 1.45 0 1 0 2.9 0a1.45 1.45 0 1 0-2.9 0M488.4 409.83a1.45 1.45 0 1 0 2.9 0a1.45 1.45 0 1 0-2.9 0M490.09 398.93a1.45 1.45 0 1 0 2.9 0a1.45 1.45 0 1 0-2.9 0M487.27 393.71a1.45 1.45 0 1 0 2.9 0a1.45 1.45 0 1 0-2.9 0M499.79 423.44a1.45 1.45 0 1 0 2.9 0a1.45 1.45 0 1 0-2.9 0M487.66 413.09a1.45 1.45 0 1 0 2.9 0a1.45 1.45 0 1 0-2.9 0M495.68 423.54a1.45 1.45 0 1 0 2.9 0a1.45 1.45 0 1 0-2.9 0M488.09 422.82a1.45 1.45 0 1 0 2.9 0a1.45 1.45 0 1 0-2.9 0M496.09 416.04a1.45 1.45 0 1 0 2.9 0a1.45 1.45 0 1 0-2.9 0M487.41 416.95a1.45 1.45 0 1 0 2.9 0a1.45 1.45 0 1 0-2.9 0M491.51 387.57a1.45 1.45 0 1 0 2.9 0a1.45 1.45 0 1 0-2.9 0M490.49 422.87a1.45 1.45 0 1 0 2.9 0a1.45 1.45 0 1 0-2.9 0M491.29 390.13a1.45 1.45 0 1 0 2.9 0a1.45 1.45 0 1 0-2.9 0M489.11 397.36a1.45 1.45 0 1 0 2.9 0a1.45 1.45 0 1 0-2.9 0M492.29 411.34a1.45 1.45 0 1 0 2.9 0a1.45 1.45 0 1 0-2.9 0M489.79 402.64a1.45 1.45 0 1 0 2.9 0a1.45 1.45 0 1 0-2.9 0M487.41 418.41a1.45 1.45 0 1 0 2.9 0a1.45 1.45 0 1 0-2.9 0M492.12 406.88a1.45 1.45 0 1 0 2.9 0a1.45 1.45 0 1 0-2.9 0M495.96 424.1a1.45 1.45 0 1 0 2.9 0a1.45 1.45 0 1 0-2.9 0M490.2 411.55a1.45 1.45 0 1 0 2.9 0a1.45 1.45 0 1 0-2.9 0M494.19 409.66a1.45 1.45 0 1 0 2.9 0a1.45 1.45 0 1 0-2.9 0M500.5 424.55a1.45 1.45 0 1 0 2.9 0a1.45 1.45 0 1 0-2.9 0M488.41 397.77a1.45 1.45 0 1 0 2.9 0a1.45 1.45 0 1 0-2.9 0M490.57 384.97a1.45 1.45 0 1 0 2.9 0a1.45 1.45 0 1 0-2.9 0M494.06 393.52a1.45 1.45 0 1 0 2.9 0a1.45 1.45 0 1 0-2.9 0M487.97 413.53a1.45 1.45 0 1 0 2.9 0a1.45 1.45 0 1 0-2.9 0M487.82 384.6a1.45 1.45 0 1 0 2.9 0a1.45 1.45 0 1 0-2.9 0M489.97 400.81a1.45 1.45 0 1 0 2.9 0a1.45 1.45 0 1 0-2.9 0M490.72 418.53a1.45 1.45 0 1 0 2.9 0a1.45 1.45 0 1 0-2.9 0M504.97 424.23a1.45 1.45 0 1 0 2.9 0a1.45 1.45 0 1 0-2.9 0M494.13 393.19a1.45 1.45 0 1 0 2.9 0a1.45 1.45 0 1 0-2.9 0M501.09 417.08a1.45 1.45 0 1 0 2.9 0a1.45 1.45 0 1 0-2.9 0M499.97 417.53a1.45 1.45 0 1 0 2.9 0a1.45 1.45 0 1 0-2.9 0M489.59 416.1a1.45 1.45 0 1 0 2.9 0a1.45 1.45 0 1 0-2.9 0M498.93 424.74a1.45 1.45 0 1 0 2.9 0a1.45 1.45 0 1 0-2.9 0M490.72 420.7a1.45 1.45 0 1 0 2.9 0a1.45 1.45 0 1 0-2.9 0M495.19 396.04a1.45 1.45 0 1 0 2.9 0a1.45 1.45 0 1 0-2.9 0M489.11 386.98a1.45 1.45 0 1 0 2.9 0a1.45 1.45 0 1 0-2.9 0M491.65 389.87a1.45 1.45 0 1 0 2.9 0a1.45 1.45 0 1 0-2.9 0M491.26 422.49a1.45 1.45 0 1 0 2.9 0a1.45 1.45 0 1 0-2.9 0M491.69 397.57a1.45 1.45 0 1 0 2.9 0a1.45 1.45 0 1 0-2.9 0M496.92 406.72a1.45 1.45 0 1 0 2.9 0a1.45 1.45 0 1 0-2.9 0M489.06 397.75a1.45 1.45 0 1 0 2.9 0a1.45 1.45 0 1 0-2.9 0M493.78 403.65a1.45 1.45 0 1 0 2.9 0a1.45 1.45 0 1 0-2.9 0M502.57 417.75a1.45 1.45 0 1 0 2.9 0a1.45 1.45 0 1 0-2.9 0M501.38 423.93a1.45 1.45 0 1 0 2.9 0a1.45 1.45 0 1 0-2.9 0M493.96 392.39a1.45 1.45 0 1 0 2.9 0a1.45 1.45 0 1 0-2.9 0M498.01 419.33a1.45 1.45 0 1 0 2.9 0a1.45 1.45 0 1 0-2.9 0M490.29 415.46a1.45 1.45 0 1 0 2.9 0a1.45 1.45 0 1 0-2.9 0M499.29 414.1a1.45 1.45 0 1 0 2.9 0a1.45 1.45 0 1 0-2.9 0M496.71 418.37a1.45 1.45 0 1 0 2.9 0a1.45 1.45 0 1 0-2.9 0M495.42 398.82a1.45 1.45 0 1 0 2.9 0a1.45 1.45 0 1 0-2.9 0M488.64 414.51a1.45 1.45 0 1 0 2.9 0a1.45 1.45 0 1 0-2.9 0M487.82 401.29a1.45 1.45 0 1 0 2.9 0a1.45 1.45 0 1 0-2.9 0M492.68 421.57a1.45 1.45 0 1 0 2.9 0a1.45 1.45 0 1 0-2.9 0M503.53 423.71a1.45 1.45 0 1 0 2.9 0a1.45 1.45 0 1 0-2.9 0M487.51 394.18a1.45 1.45 0 1 0 2.9 0a1.45 1.45 0 1 0-2.9 0M493.05 422.8a1.45 1.45 0 1 0 2.9 0a1.45 1.45 0 1 0-2.9 0M500.76 422.42a1.45 1.45 0 1 0 2.9 0a1.45 1.45 0 1 0-2.9 0M491.27 418.24a1.45 1.45 0 1 0 2.9 0a1.45 1.45 0 1 0-2.9 0M487.94 413.29a1.45 1.45 0 1 0 2.9 0a1.45 1.45 0 1 0-2.9 0M503.9 421.13a1.45 1.45 0 1 0 2.9 0a1.45 1.45 0 1 0-2.9 0M503.26 420.91a1.45 1.45 0 1 0 2.9 0a1.45 1.45 0 1 0-2.9 0M494.71 421.74a1.45 1.45 0 1 0 2.9 0a1.45 1.45 0 1 0-2.9 0M487.95 413.79a1.45 1.45 0 1 0 2.9 0a1.45 1.45 0 1 0-2.9 0M492.81 395.52a1.45 1.45 0 1 0 2.9 0a1.45 1.45 0 1 0-2.9 0M491.03 391.9a1.45 1.45 0 1 0 2.9 0a1.45 1.45 0 1 0-2.9 0M495.91 405.13a1.45 1.45 0 1 0 2.9 0a1.45 1.45 0 1 0-2.9 0M487.57 422.94a1.45 1.45 0 1 0 2.9 0a1.45 1.45 0 1 0-2.9 0M495.44 411.61a1.45 1.45 0 1 0 2.9 0a1.45 1.45 0 1 0-2.9 0M501.18 424.42a1.45 1.45 0 1 0 2.9 0a1.45 1.45 0 1 0-2.9 0M501.62 421.75a1.45 1.45 0 1 0 2.9 0a1.45 1.45 0 1 0-2.9 0M504.46 424.26a1.45 1.45 0 1 0 2.9 0a1.45 1.45 0 1 0-2.9 0M492.89 421.5a1.45 1.45 0 1 0 2.9 0a1.45 1.45 0 1 0-2.9 0M488.47 404.79a1.45 1.45 0 1 0 2.9 0a1.45 1.45 0 1 0-2.9 0M491.78 386.47a1.45 1.45 0 1 0 2.9 0a1.45 1.45 0 1 0-2.9 0M488.25 410.34a1.45 1.45 0 1 0 2.9 0a1.45 1.45 0 1 0-2.9 0M492.35 403.7a1.45 1.45 0 1 0 2.9 0a1.45 1.45 0 1 0-2.9 0M496.96 422.36a1.45 1.45 0 1 0 2.9 0a1.45 1.45 0 1 0-2.9 0M493.59 410.22a1.45 1.45 0 1 0 2.9 0a1.45 1.45 0 1 0-2.9 0M489.37 399.45a1.45 1.45 0 1 0 2.9 0a1.45 1.45 0 1 0-2.9 0M490.41 418.84a1.45 1.45 0 1 0 2.9 0a1.45 1.45 0 1 0-2.9 0M500.17 414.83a1.45 1.45 0 1 0 2.9 0a1.45 1.45 0 1 0-2.9 0M498.57 424.46a1.45 1.45 0 1 0 2.9 0a1.45 1.45 0 1 0-2.9 0M500.63 411.47a1.45 1.45 0 1 0 2.9 0a1.45 1.45 0 1 0-2.9 0M490.23 417.46a1.45 1.45 0 1 0 2.9 0a1.45 1.45 0 1 0-2.9 0M495.2 399.67a1.45 1.45 0 1 0 2.9 0a1.45 1.45 0 1 0-2.9 0M492.6 397.92a1.45 1.45 0 1 0 2.9 0a1.45 1.45 0 1 0-2.9 0M489.3 393.9a1.45 1.45 0 1 0 2.9 0a1.45 1.45 0 1 0-2.9 0M490.8 407.31a1.45 1.45 0 1 0 2.9 0a1.45 1.45 0 1 0-2.9 0M487.74 411.56a1.45 1.45 0 1 0 2.9 0a1.45 1.45 0 1 0-2.9 0M491.49 399.3a1.45 1.45 0 1 0 2.9 0a1.45 1.45 0 1 0-2.9 0M501.56 413.1a1.45 1.45 0 1 0 2.9 0a1.45 1.45 0 1 0-2.9 0M490.6 390.12a1.45 1.45 0 1 0 2.9 0a1.45 1.45 0 1 0-2.9 0M487.92 400.12a1.45 1.45 0 1 0 2.9 0a1.45 1.45 0 1 0-2.9 0M493.56 422.98a1.45 1.45 0 1 0 2.9 0a1.45 1.45 0 1 0-2.9 0M489.25 387.16a1.45 1.45 0 1 0 2.9 0a1.45 1.45 0 1 0-2.9 0M496.91 407.55a1.45 1.45 0 1 0 2.9 0a1.45 1.45 0 1 0-2.9 0M487.88 394.25a1.45 1.45 0 1 0 2.9 0a1.45 1.45 0 1 0-2.9 0M487.4 416.24a1.45 1.45 0 1 0 2.9 0a1.45 1.45 0 1 0-2.9 0M490.54 400.68a1.45 1.45 0 1 0 2.9 0a1.45 1.45 0 1 0-2.9 0M489.16 390.56a1.45 1.45 0 1 0 2.9 0a1.45 1.45 0 1 0-2.9 0M488.69 406.66a1.45 1.45 0 1 0 2.9 0a1.45 1.45 0 1 0-2.9 0M498.35 404.28a1.45 1.45 0 1 0 2.9 0a1.45 1.45 0 1 0-2.9 0M493.24 388.17a1.45 1.45 0 1 0 2.9 0a1.45 1.45 0 1 0-2.9 0M496.23 398.09a1.45 1.45 0 1 0 2.9 0a1.45 1.45 0 1 0-2.9 0M499.09 416.9a1.45 1.45 0 1 0 2.9 0a1.45 1.45 0 1 0-2.9 0M487.82 384.05a1.45 1.45 0 1 0 2.9 0a1.45 1.45 0 1 0-2.9 0M497.05 414.82a1.45 1.45 0 1 0 2.9 0a1.45 1.45 0 1 0-2.9 0M494.5 403.71a1.45 1.45 0 1 0 2.9 0a1.45 1.45 0 1 0-2.9 0M488.9 384.1a1.45 1.45 0 1 0 2.9 0a1.45 1.45 0 1 0-2.9 0M496.95 418.01a1.45 1.45 0 1 0 2.9 0a1.45 1.45 0 1 0-2.9 0M500.77 419.16a1.45 1.45 0 1 0 2.9 0a1.45 1.45 0 1 0-2.9 0M487.63 404.69a1.45 1.45 0 1 0 2.9 0a1.45 1.45 0 1 0-2.9 0M497.01 410.08a1.45 1.45 0 1 0 2.9 0a1.45 1.45 0 1 0-2.9 0M492.05 413.25a1.45 1.45 0 1 0 2.9 0a1.45 1.45 0 1 0-2.9 0M499.9 421.45a1.45 1.45 0 1 0 2.9 0a1.45 1.45 0 1 0-2.9 0M491.44 398.18a1.45 1.45 0 1 0 2.9 0a1.45 1.45 0 1 0-2.9 0M491.41 423.14a1.45 1.45 0 1 0 2.9 0a1.45 1.45 0 1 0-2.9 0M492.66 414.38a1.45 1.45 0 1 0 2.9 0a1.45 1.45 0 1 0-2.9 0M488.83 406.44a1.45 1.45 0 1 0 2.9 0a1.45 1.45 0 1 0-2.9 0M497.3 412.69a1.45 1.45 0 1 0 2.9 0a1.45 1.45 0 1 0-2.9 0M490.11 385.35a1.45 1.45 0 1 0 2.9 0a1.45 1.45 0 1 0-2.9 0M490.25 411.7a1.45 1.45 0 1 0 2.9 0a1.45 1.45 0 1 0-2.9 0M488.65 407.64a1.45 1.45 0 1 0 2.9 0a1.45 1.45 0 1 0-2.9 0M491.05 417.97a1.45 1.45 0 1 0 2.9 0a1.45 1.45 0 1 0-2.9 0M491.57 409.07a1.45 1.45 0 1 0 2.9 0a1.45 1.45 0 1 0-2.9 0M490.28 386.14a1.45 1.45 0 1 0 2.9 0a1.45 1.45 0 1 0-2.9 0M491.14 395.68a1.45 1.45 0 1 0 2.9 0a1.45 1.45 0 1 0-2.9 0M491.14 412.5a1.45 1.45 0 1 0 2.9 0a1.45 1.45 0 1 0-2.9 0M490.07 404.21a1.45 1.45 0 1 0 2.9 0a1.45 1.45 0 1 0-2.9 0M487.19 389.72a1.45 1.45 0 1 0 2.9 0a1.45 1.45 0 1 0-2.9 0M497.06 406.61a1.45 1.45 0 1 0 2.9 0a1.45 1.45 0 1 0-2.9 0M494.32 399.88a1.45 1.45 0 1 0 2.9 0a1.45 1.45 0 1 0-2.9 0M490.61 414.59a1.45 1.45 0 1 0 2.9 0a1.45 1.45 0 1 0-2.9 0M491.82 385.78a1.45 1.45 0 1 0 2.9 0a1.45 1.45 0 1 0-2.9 0M492.03 422.35a1.45 1.45 0 1 0 2.9 0a1.45 1.45 0 1 0-2.9 0M493.55 424.76a1.45 1.45 0 1 0 2.9 0a1.45 1.45 0 1 0-2.9 0M492.54 413.39a1.45 1.45 0 1 0 2.9 0a1.45 1.45 0 1 0-2.9 0M494.08 406.1a1.45 1.45 0 1 0 2.9 0a1.45 1.45 0 1 0-2.9 0M487.53 400.06a1.45 1.45 0 1 0 2.9 0a1.45 1.45 0 1 0-2.9 0M493.3 409.6a1.45 1.45 0 1 0 2.9 0a1.45 1.45 0 1 0-2.9 0M490.83 412.15a1.45 1.45 0 1 0 2.9 0a1.45 1.45 0 1 0-2.9 0M496.68 399.34a1.45 1.45 0 1 0 2.9 0a1.45 1.45 0 1 0-2.9 0M490.99 391.3a1.45 1.45 0 1 0 2.9 0a1.45 1.45 0 1 0-2.9 0M489.41 413.83a1.45 1.45 0 1 0 2.9 0a1.45 1.45 0 1 0-2.9 0M490.77 411.6a1.45 1.45 0 1 0 2.9 0a1.45 1.45 0 1 0-2.9 0M491 404.5a1.45 1.45 0 1 0 2.9 0a1.45 1.45 0 1 0-2.9 0M501.54 421.89a1.45 1.45 0 1 0 2.9 0a1.45 1.45 0 1 0-2.9 0M487.89 406.56a1.45 1.45 0 1 0 2.9 0a1.45 1.45 0 1 0-2.9 0M494.82 421.77a1.45 1.45 0 1 0 2.9 0a1.45 1.45 0 1 0-2.9 0M490.65 424.59a1.45 1.45 0 1 0 2.9 0a1.45 1.45 0 1 0-2.9 0M488.87 398.86a1.45 1.45 0 1 0 2.9 0a1.45 1.45 0 1 0-2.9 0M487.62 396.02a1.45 1.45 0 1 0 2.9 0a1.45 1.45 0 1 0-2.9 0M493.8 416.56a1.45 1.45 0 1 0 2.9 0a1.45 1.45 0 1 0-2.9 0M492.37 397.55a1.45 1.45 0 1 0 2.9 0a1.45 1.45 0 1 0-2.9 0M497.26 421.8a1.45 1.45 0 1 0 2.9 0a1.45 1.45 0 1 0-2.9 0M487.84 423.97a1.45 1.45 0 1 0 2.9 0a1.45 1.45 0 1 0-2.9 0M488.74 394.86a1.45 1.45 0 1 0 2.9 0a1.45 1.45 0 1 0-2.9 0M496.68 400.81a1.45 1.45 0 1 0 2.9 0a1.45 1.45 0 1 0-2.9 0M490.43 385.97a1.45 1.45 0 1 0 2.9 0a1.45 1.45 0 1 0-2.9 0M498.26 421.62a1.45 1.45 0 1 0 2.9 0a1.45 1.45 0 1 0-2.9 0M491.85 408.57a1.45 1.45 0 1 0 2.9 0a1.45 1.45 0 1 0-2.9 0M491.91 394.09a1.45 1.45 0 1 0 2.9 0a1.45 1.45 0 1 0-2.9 0M490.14 418.14a1.45 1.45 0 1 0 2.9 0a1.45 1.45 0 1 0-2.9 0M487.91 394.4a1.45 1.45 0 1 0 2.9 0a1.45 1.45 0 1 0-2.9 0M491.88 414.39a1.45 1.45 0 1 0 2.9 0a1.45 1.45 0 1 0-2.9 0M493.39 404.99a1.45 1.45 0 1 0 2.9 0a1.45 1.45 0 1 0-2.9 0M490.37 385.93a1.45 1.45 0 1 0 2.9 0a1.45 1.45 0 1 0-2.9 0M499.13 416.2a1.45 1.45 0 1 0 2.9 0a1.45 1.45 0 1 0-2.9 0M491.86 394.32a1.45 1.45 0 1 0 2.9 0a1.45 1.45 0 1 0-2.9 0M490.84 402.57a1.45 1.45 0 1 0 2.9 0a1.45 1.45 0 1 0-2.9 0M494.2 403.76a1.45 1.45 0 1 0 2.9 0a1.45 1.45 0 1 0-2.9 0M499.31 415.48a1.45 1.45 0 1 0 2.9 0a1.45 1.45 0 1 0-2.9 0M494.95 412.87a1.45 1.45 0 1 0 2.9 0a1.45 1.45 0 1 0-2.9 0M489.31 403.4a1.45 1.45 0 1 0 2.9 0a1.45 1.45 0 1 0-2.9 0M491.88 388.21a1.45 1.45 0 1 0 2.9 0a1.45 1.45 0 1 0-2.9 0M490.33 385.02a1.45 1.45 0 1 0 2.9 0a1.45 1.45 0 1 0-2.9 0M490.93 400.92a1.45 1.45 0 1 0 2.9 0a1.45 1.45 0 1 0-2.9 0M496.06 424.37a1.45 1.45 0 1 0 2.9 0a1.45 1.45 0 1 0-2.9 0M499.68 423.88a1.45 1.45 0 1 0 2.9 0a1.45 1.45 0 1 0-2.9 0M498.31 421.94a1.45 1.45 0 1 0 2.9 0a1.45 1.45 0 1 0-2.9 0M493.67 414.42a1.45 1.45 0 1 0 2.9 0a1.45 1.45 0 1 0-2.9 0M490.78 414.26a1.45 1.45 0 1 0 2.9 0a1.45 1.45 0 1 0-2.9 0M491.54 400.35a1.45 1.45 0 1 0 2.9 0a1.45 1.45 0 1 0-2.9 0M490.9 384.81a1.45 1.45 0 1 0 2.9 0a1.45 1.45 0 1 0-2.9 0M501.45 421.78a1.45 1.45 0 1 0 2.9 0a1.45 1.45 0 1 0-2.9 0M493.1 397.22a1.45 1.45 0 1 0 2.9 0a1.45 1.45 0 1 0-2.9 0M491.75 385.35a1.45 1.45 0 1 0 2.9 0a1.45 1.45 0 1 0-2.9 0M498 420.15a1.45 1.45 0 1 0 2.9 0a1.45 1.45 0 1 0-2.9 0M487.47 393.41a1.45 1.45 0 1 0 2.9 0a1.45 1.45 0 1 0-2.9 0M489.26 395.21a1.45 1.45 0 1 0 2.9 0a1.45 1.45 0 1 0-2.9 0M491.82 412.72a1.45 1.45 0 1 0 2.9 0a1.45 1.45 0 1 0-2.9 0M491.13 412.62a1.45 1.45 0 1 0 2.9 0a1.45 1.45 0 1 0-2.9 0M490.62 414.33a1.45 1.45 0 1 0 2.9 0a1.45 1.45 0 1 0-2.9 0M487.98 422.66a1.45 1.45 0 1 0 2.9 0a1.45 1.45 0 1 0-2.9 0M495.77 417.66a1.45 1.45 0 1 0 2.9 0a1.45 1.45 0 1 0-2.9 0M494.86 407.75a1.45 1.45 0 1 0 2.9 0a1.45 1.45 0 1 0-2.9 0M490.11 393.31a1.45 1.45 0 1 0 2.9 0a1.45 1.45 0 1 0-2.9 0M495.12 396.46a1.45 1.45 0 1 0 2.9 0a1.45 1.45 0 1 0-2.9 0M500.76 410.46a1.45 1.45 0 1 0 2.9 0a1.45 1.45 0 1 0-2.9 0M487.62 412.88a1.45 1.45 0 1 0 2.9 0a1.45 1.45 0 1 0-2.9 0M497.08 401.28a1.45 1.45 0 1 0 2.9 0a1.45 1.45 0 1 0-2.9 0M499.76 409.35a1.45 1.45 0 1 0 2.9 0a1.45 1.45 0 1 0-2.9 0M487.87 418.89a1.45 1.45 0 1 0 2.9 0a1.45 1.45 0 1 0-2.9 0M493.42 394.75a1.45 1.45 0 1 0 2.9 0a1.45 1.45 0 1 0-2.9 0M492.89 422.35a1.45 1.45 0 1 0 2.9 0a1.45 1.45 0 1 0-2.9 0M495.9 396.86a1.45 1.45 0 1 0 2.9 0a1.45 1.45 0 1 0-2.9 0M498.84 411.65a1.45 1.45 0 1 0 2.9 0a1.45 1.45 0 1 0-2.9 0M501.38 414.04a1.45 1.45 0 1 0 2.9 0a1.45 1.45 0 1 0-2.9 0M492.04 416.48a1.45 1.45 0 1 0 2.9 0a1.45 1.45 0 1 0-2.9 0M496.46 423.97a1.45 1.45 0 1 0 2.9 0a1.45 1.45 0 1 0-2.9 0M489.17 417.13a1.45 1.45 0 1 0 2.9 0a1.45 1.45 0 1 0-2.9 0M495.06 404.35a1.45 1.45 0 1 0 2.9 0a1.45 1.45 0 1 0-2.9 0M497.79 405.19a1.45 1.45 0 1 0 2.9 0a1.45 1.45 0 1 0-2.9 0M491.04 405.39a1.45 1.45 0 1 0 2.9 0a1.45 1.45 0 1 0-2.9 0M491.21 384.56a1.45 1.45 0 1 0 2.9 0a1.45 1.45 0 1 0-2.9 0M494.84 407.23a1.45 1.45 0 1 0 2.9 0a1.45 1.45 0 1 0-2.9 0M497.01 414.89a1.45 1.45 0 1 0 2.9 0a1.45 1.45 0 1 0-2.9 0M492.88 391.09a1.45 1.45 0 1 0 2.9 0a1.45 1.45 0 1 0-2.9 0M499.45 411.2a1.45 1.45 0 1 0 2.9 0a1.45 1.45 0 1 0-2.9 0M496.8 418.42a1.45 1.45 0 1 0 2.9 0a1.45 1.45 0 1 0-2.9 0M489.25 416.12a1.45 1.45 0 1 0 2.9 0a1.45 1.45 0 1 0-2.9 0M492.44 390.51a1.45 1.45 0 1 0 2.9 0a1.45 1.45 0 1 0-2.9 0M489.65 404.96a1.45 1.45 0 1 0 2.9 0a1.45 1.45 0 1 0-2.9 0M496.2 407.63a1.45 1.45 0 1 0 2.9 0a1.45 1.45 0 1 0-2.9 0M494.35 402.93a1.45 1.45 0 1 0 2.9 0a1.45 1.45 0 1 0-2.9 0M496.85 404.32a1.45 1.45 0 1 0 2.9 0a1.45 1.45 0 1 0-2.9 0M489.99 415.03a1.45 1.45 0 1 0 2.9 0a1.45 1.45 0 1 0-2.9 0M493.36 399.72a1.45 1.45 0 1 0 2.9 0a1.45 1.45 0 1 0-2.9 0M492.48 424.38a1.45 1.45 0 1 0 2.9 0a1.45 1.45 0 1 0-2.9 0M490.94 392.58a1.45 1.45 0 1 0 2.9 0a1.45 1.45 0 1 0-2.9 0M491.54 409.67a1.45 1.45 0 1 0 2.9 0a1.45 1.45 0 1 0-2.9 0M494.56 396.04a1.45 1.45 0 1 0 2.9 0a1.45 1.45 0 1 0-2.9 0M493.38 422.39a1.45 1.45 0 1 0 2.9 0a1.45 1.45 0 1 0-2.9 0M487.63 407.88a1.45 1.45 0 1 0 2.9 0a1.45 1.45 0 1 0-2.9 0M499.59 413.87a1.45 1.45 0 1 0 2.9 0a1.45 1.45 0 1 0-2.9 0M488.33 402.64a1.45 1.45 0 1 0 2.9 0a1.45 1.45 0 1 0-2.9 0M496.14 410.15a1.45 1.45 0 1 0 2.9 0a1.45 1.45 0 1 0-2.9 0M489.28 406.93a1.45 1.45 0 1 0 2.9 0a1.45 1.45 0 1 0-2.9 0M500.15 409.99a1.45 1.45 0 1 0 2.9 0a1.45 1.45 0 1 0-2.9 0M496.24 400.52a1.45 1.45 0 1 0 2.9 0a1.45 1.45 0 1 0-2.9 0M491.92 395.77a1.45 1.45 0 1 0 2.9 0a1.45 1.45 0 1 0-2.9 0M494.29 403.55a1.45 1.45 0 1 0 2.9 0a1.45 1.45 0 1 0-2.9 0M498.76 407.65a1.45 1.45 0 1 0 2.9 0a1.45 1.45 0 1 0-2.9 0M488.52 383.77a1.45 1.45 0 1 0 2.9 0a1.45 1.45 0 1 0-2.9 0M491.92 385.29a1.45 1.45 0 1 0 2.9 0a1.45 1.45 0 1 0-2.9 0M494 393.53a1.45 1.45 0 1 0 2.9 0a1.45 1.45 0 1 0-2.9 0M504.31 422.55a1.45 1.45 0 1 0 2.9 0a1.45 1.45 0 1 0-2.9 0M488.98 388.74a1.45 1.45 0 1 0 2.9 0a1.45 1.45 0 1 0-2.9 0M489.3 392.2a1.45 1.45 0 1 0 2.9 0a1.45 1.45 0 1 0-2.9 0M492.61 389.88a1.45 1.45 0 1 0 2.9 0a1.45 1.45 0 1 0-2.9 0M495.54 422.07a1.45 1.45 0 1 0 2.9 0a1.45 1.45 0 1 0-2.9 0M495.14 420.85a1.45 1.45 0 1 0 2.9 0a1.45 1.45 0 1 0-2.9 0M491.38 384.52a1.45 1.45 0 1 0 2.9 0a1.45 1.45 0 1 0-2.9 0M498.62 405.98a1.45 1.45 0 1 0 2.9 0a1.45 1.45 0 1 0-2.9 0M490.53 383.55a1.45 1.45 0 1 0 2.9 0a1.45 1.45 0 1 0-2.9 0M489.42 423.26a1.45 1.45 0 1 0 2.9 0a1.45 1.45 0 1 0-2.9 0M492.64 394.12a1.45 1.45 0 1 0 2.9 0a1.45 1.45 0 1 0-2.9 0M495.85 411.64a1.45 1.45 0 1 0 2.9 0a1.45 1.45 0 1 0-2.9 0M497.04 400.39a1.45 1.45 0 1 0 2.9 0a1.45 1.45 0 1 0-2.9 0M501.94 423.94a1.45 1.45 0 1 0 2.9 0a1.45 1.45 0 1 0-2.9 0M492.61 396.86a1.45 1.45 0 1 0 2.9 0a1.45 1.45 0 1 0-2.9 0M491.62 397.07a1.45 1.45 0 1 0 2.9 0a1.45 1.45 0 1 0-2.9 0M495.75 414.2a1.45 1.45 0 1 0 2.9 0a1.45 1.45 0 1 0-2.9 0M490.5 411.3a1.45 1.45 0 1 0 2.9 0a1.45 1.45 0 1 0-2.9 0M491.07 388.43a1.45 1.45 0 1 0 2.9 0a1.45 1.45 0 1 0-2.9 0M493.96 402.37a1.45 1.45 0 1 0 2.9 0a1.45 1.45 0 1 0-2.9 0M492.12 424.05a1.45 1.45 0 1 0 2.9 0a1.45 1.45 0 1 0-2.9 0M497.34 415.5a1.45 1.45 0 1 0 2.9 0a1.45 1.45 0 1 0-2.9 0M497.91 404.84a1.45 1.45 0 1 0 2.9 0a1.45 1.45 0 1 0-2.9 0M487.5 388.68a1.45 1.45 0 1 0 2.9 0a1.45 1.45 0 1 0-2.9 0M490.05 385.46a1.45 1.45 0 1 0 2.9 0a1.45 1.45 0 1 0-2.9 0M489.32 393.48a1.45 1.45 0 1 0 2.9 0a1.45 1.45 0 1 0-2.9 0M496.6 422.81a1.45 1.45 0 1 0 2.9 0a1.45 1.45 0 1 0-2.9 0M497.08 424.22a1.45 1.45 0 1 0 2.9 0a1.45 1.45 0 1 0-2.9 0M491.43 396.12a1.45 1.45 0 1 0 2.9 0a1.45 1.45 0 1 0-2.9 0M492.33 395.31a1.45 1.45 0 1 0 2.9 0a1.45 1.45 0 1 0-2.9 0M495.95 416.22a1.45 1.45 0 1 0 2.9 0a1.45 1.45 0 1 0-2.9 0M496.23 407.82a1.45 1.45 0 1 0 2.9 0a1.45 1.45 0 1 0-2.9 0M493.95 410.61a1.45 1.45 0 1 0 2.9 0a1.45 1.45 0 1 0-2.9 0M493.47 390.11a1.45 1.45 0 1 0 2.9 0a1.45 1.45 0 1 0-2.9 0M487.27 423.31a1.45 1.45 0 1 0 2.9 0a1.45 1.45 0 1 0-2.9 0M495.67 416.59a1.45 1.45 0 1 0 2.9 0a1.45 1.45 0 1 0-2.9 0M498.47 414.58a1.45 1.45 0 1 0 2.9 0a1.45 1.45 0 1 0-2.9 0M487.57 393.51a1.45 1.45 0 1 0 2.9 0a1.45 1.45 0 1 0-2.9 0M490.71 384.76a1.45 1.45 0 1 0 2.9 0a1.45 1.45 0 1 0-2.9 0M501.53 421.92a1.45 1.45 0 1 0 2.9 0a1.45 1.45 0 1 0-2.9 0M487.68 410.96a1.45 1.45 0 1 0 2.9 0a1.45 1.45 0 1 0-2.9 0M496.63 411.93a1.45 1.45 0 1 0 2.9 0a1.45 1.45 0 1 0-2.9 0M490.76 394.67a1.45 1.45 0 1 0 2.9 0a1.45 1.45 0 1 0-2.9 0M490.02 416.05a1.45 1.45 0 1 0 2.9 0a1.45 1.45 0 1 0-2.9 0M491.58 418.71a1.45 1.45 0 1 0 2.9 0a1.45 1.45 0 1 0-2.9 0M493.78 395.86a1.45 1.45 0 1 0 2.9 0a1.45 1.45 0 1 0-2.9 0M500.78 424.19a1.45 1.45 0 1 0 2.9 0a1.45 1.45 0 1 0-2.9 0M489.6 424.67a1.45 1.45 0 1 0 2.9 0a1.45 1.45 0 1 0-2.9 0M493.75 424.51a1.45 1.45 0 1 0 2.9 0a1.45 1.45 0 1 0-2.9 0M492.99 413.02a1.45 1.45 0 1 0 2.9 0a1.45 1.45 0 1 0-2.9 0M487.8 394.7a1.45 1.45 0 1 0 2.9 0a1.45 1.45 0 1 0-2.9 0M489.25 421.42a1.45 1.45 0 1 0 2.9 0a1.45 1.45 0 1 0-2.9 0M488.33 405.49a1.45 1.45 0 1 0 2.9 0a1.45 1.45 0 1 0-2.9 0M494.37 400.17a1.45 1.45 0 1 0 2.9 0a1.45 1.45 0 1 0-2.9 0M491.53 408.9a1.45 1.45 0 1 0 2.9 0a1.45 1.45 0 1 0-2.9 0M498.73 420.64a1.45 1.45 0 1 0 2.9 0a1.45 1.45 0 1 0-2.9 0M496.15 416.63a1.45 1.45 0 1 0 2.9 0a1.45 1.45 0 1 0-2.9 0M495.41 394.78a1.45 1.45 0 1 0 2.9 0a1.45 1.45 0 1 0-2.9 0M495.52 414.82a1.45 1.45 0 1 0 2.9 0a1.45 1.45 0 1 0-2.9 0M488.75 407.95a1.45 1.45 0 1 0 2.9 0a1.45 1.45 0 1 0-2.9 0M510.06 422.29a1.45 1.45 0 1 0 2.9 0a1.45 1.45 0 1 0-2.9 0M496.92 397.45a1.45 1.45 0 1 0 2.9 0a1.45 1.45 0 1 0-2.9 0M490.16 397.11a1.45 1.45 0 1 0 2.9 0a1.45 1.45 0 1 0-2.9 0M496.64 402.42a1.45 1.45 0 1 0 2.9 0a1.45 1.45 0 1 0-2.9 0M503.35 404.65a1.45 1.45 0 1 0 2.9 0a1.45 1.45 0 1 0-2.9 0M492.22 395.44a1.45 1.45 0 1 0 2.9 0a1.45 1.45 0 1 0-2.9 0M511.63 414.23a1.45 1.45 0 1 0 2.9 0a1.45 1.45 0 1 0-2.9 0M500.38 413.28a1.45 1.45 0 1 0 2.9 0a1.45 1.45 0 1 0-2.9 0M513.7 418.87a1.45 1.45 0 1 0 2.9 0a1.45 1.45 0 1 0-2.9 0M514.58 421.18a1.45 1.45 0 1 0 2.9 0a1.45 1.45 0 1 0-2.9 0M499.54 396.24a1.45 1.45 0 1 0 2.9 0a1.45 1.45 0 1 0-2.9 0M494.35 391.8a1.45 1.45 0 1 0 2.9 0a1.45 1.45 0 1 0-2.9 0M494.05 417.18a1.45 1.45 0 1 0 2.9 0a1.45 1.45 0 1 0-2.9 0M493.45 415.87a1.45 1.45 0 1 0 2.9 0a1.45 1.45 0 1 0-2.9 0M491.52 386.99a1.45 1.45 0 1 0 2.9 0a1.45 1.45 0 1 0-2.9 0M493.4 415.62a1.45 1.45 0 1 0 2.9 0a1.45 1.45 0 1 0-2.9 0M489.78 400.1a1.45 1.45 0 1 0 2.9 0a1.45 1.45 0 1 0-2.9 0M489.84 412.25a1.45 1.45 0 1 0 2.9 0a1.45 1.45 0 1 0-2.9 0M492.29 398.61a1.45 1.45 0 1 0 2.9 0a1.45 1.45 0 1 0-2.9 0M502.6 406.37a1.45 1.45 0 1 0 2.9 0a1.45 1.45 0 1 0-2.9 0M499.91 410.03a1.45 1.45 0 1 0 2.9 0a1.45 1.45 0 1 0-2.9 0M506.25 415.14a1.45 1.45 0 1 0 2.9 0a1.45 1.45 0 1 0-2.9 0M497.1 412.65a1.45 1.45 0 1 0 2.9 0a1.45 1.45 0 1 0-2.9 0M496.12 406.22a1.45 1.45 0 1 0 2.9 0a1.45 1.45 0 1 0-2.9 0M489.5 389.02a1.45 1.45 0 1 0 2.9 0a1.45 1.45 0 1 0-2.9 0M502.02 403.69a1.45 1.45 0 1 0 2.9 0a1.45 1.45 0 1 0-2.9 0M505.84 415.92a1.45 1.45 0 1 0 2.9 0a1.45 1.45 0 1 0-2.9 0M512.53 412.78a1.45 1.45 0 1 0 2.9 0a1.45 1.45 0 1 0-2.9 0M490.09 406.8a1.45 1.45 0 1 0 2.9 0a1.45 1.45 0 1 0-2.9 0M496.66 406.17a1.45 1.45 0 1 0 2.9 0a1.45 1.45 0 1 0-2.9 0M488.89 406.2a1.45 1.45 0 1 0 2.9 0a1.45 1.45 0 1 0-2.9 0M490.34 386.55a1.45 1.45 0 1 0 2.9 0a1.45 1.45 0 1 0-2.9 0M499.57 391.51a1.45 1.45 0 1 0 2.9 0a1.45 1.45 0 1 0-2.9 0M503.13 401.88a1.45 1.45 0 1 0 2.9 0a1.45 1.45 0 1 0-2.9 0M488.87 416.04a1.45 1.45 0 1 0 2.9 0a1.45 1.45 0 1 0-2.9 0M492.97 410.29a1.45 1.45 0 1 0 2.9 0a1.45 1.45 0 1 0-2.9 0M490.26 408.68a1.45 1.45 0 1 0 2.9 0a1.45 1.45 0 1 0-2.9 0M490.91 407.17a1.45 1.45 0 1 0 2.9 0a1.45 1.45 0 1 0-2.9 0M506.98 410.13a1.45 1.45 0 1 0 2.9 0a1.45 1.45 0 1 0-2.9 0M490.24 399.41a1.45 1.45 0 1 0 2.9 0a1.45 1.45 0 1 0-2.9 0M502.98 402.34a1.45 1.45 0 1 0 2.9 0a1.45 1.45 0 1 0-2.9 0M497.68 388.03a1.45 1.45 0 1 0 2.9 0a1.45 1.45 0 1 0-2.9 0"/>
<path fill="#fbd5cc" d="M503.36 392.47h0.9v0.9h-0.9zM495.86 410.4h0.9v0.9h-0.9zM504.36 419.68h0.9v0.9h-0.9zM503.3 389.7h0.9v0.9h-0.9zM489.19 403.53h0.9v0.9h-0.9zM504.5 405.26h0.9v0.9h-0.9zM494.57 402.29h0.9v0.9h-0.9zM496.26 415.59h0.9v0.9h-0.9zM493.1 402.09h0.9v0.9h-0.9zM494.74 402.62h0.9v0.9h-0.9zM497.18 416.86h0.9v0.9h-0.9zM502.38 407.66h0.9v0.9h-0.9zM494.13 388.99h0.9v0.9h-0.9zM489.22 397.15h0.9v0.9h-0.9zM495.53 412.26h0.9v0.9h-0.9zM489.18 404.88h0.9v0.9h-0.9zM498.14 408.62h0.9v0.9h-0.9zM492.3 400.1h0.9v0.9h-0.9zM501.64 416.8h0.9v0.9h-0.9zM497.62 418.94h0.9v0.9h-0.9zM499.29 404.15h0.9v0.9h-0.9zM492.96 397.04h0.9v0.9h-0.9zM499.93 395.75h0.9v0.9h-0.9zM491.51 405.84h0.9v0.9h-0.9zM499.4 421.59h0.9v0.9h-0.9zM495.95 394.71h0.9v0.9h-0.9zM504.43 399.71h0.9v0.9h-0.9zM494.35 414.06h0.9v0.9h-0.9zM495.92 393.56h0.9v0.9h-0.9zM503.49 416.91h0.9v0.9h-0.9zM501.89 401.29h0.9v0.9h-0.9zM504.26 418.07h0.9v0.9h-0.9zM493.88 407.98h0.9v0.9h-0.9zM504.59 399.93h0.9v0.9h-0.9zM489.77 408.05h0.9v0.9h-0.9zM502.69 414.01h0.9v0.9h-0.9zM495.65 409.55h0.9v0.9h-0.9zM494.65 411.57h0.9v0.9h-0.9zM494.77 400.78h0.9v0.9h-0.9zM501.41 416.99h0.9v0.9h-0.9zM499.07 401.57h0.9v0.9h-0.9zM495.49 390.99h0.9v0.9h-0.9zM502.65 418.68h0.9v0.9h-0.9zM504.73 400.59h0.9v0.9h-0.9zM500.46 418.31h0.9v0.9h-0.9z"/>
<path d="M461.7 291.2V454.7M488.3 291.2V454.7M396.6 424.7H543.6" stroke="#444" stroke-width="0.8" stroke-dasharray="2.6 2.6" fill="none"/>
<path stroke="#1a1a1a" stroke-width="0.8" fill="none" d="M487.5 385.5L489.5 396M476.5 392L489 404M484 399.5L490 405M481.6 405.5L489 410M456.9 413.2L489 413.5M488 418L490 418M461.3 427.5L489 424M484.5 432L489 424.5M489 440L489 424.5M496.4 429.5L496.4 420M516.5 429.5L492 419M505 420.5L495 416M500 386L492 394M504 396L494 402M505 405L496 408M519 412.5L498 415M424 409L424 408"/>
</g>
<text x="475.2" y="384.6" font-size="6.5" text-anchor="middle" fill="#1e1e1e">ANAC046</text>
<text x="506.3" y="386.6" font-size="6.5" text-anchor="middle" fill="#1e1e1e">Rap2.6L</text>
<text x="462.6" y="392.7" font-size="6.5" text-anchor="middle" fill="#1e1e1e">WRKY30</text>
<text x="484.1" y="400.6" font-size="6.5" text-anchor="middle" fill="#1e1e1e">MYB2</text>
<text x="509.6" y="397.3" font-size="6.5" text-anchor="middle" fill="#1e1e1e">ANAC029</text>
<text x="466.4" y="406.2" font-size="6.5" text-anchor="middle" fill="#1e1e1e">ANAC047</text>
<text x="511.3" y="406.9" font-size="6.5" text-anchor="middle" fill="#1e1e1e">SOC1</text>
<text x="531.8" y="406.9" font-size="6.5" text-anchor="middle" fill="#1e1e1e">WRKY75</text>
<text x="484.2" y="414" font-size="6.5" text-anchor="middle" fill="#1e1e1e">NAC101</text>
<text x="504.2" y="415.8" font-size="6.5" text-anchor="middle" fill="#1e1e1e">WRKY47</text>
<text x="527.8" y="416.9" font-size="6.5" text-anchor="middle" fill="#1e1e1e">HB−7</text>
<text x="446.9" y="416" font-size="6.5" text-anchor="middle" fill="#1e1e1e">TCP20</text>
<text x="478.2" y="420.6" font-size="6.5" text-anchor="middle" fill="#1e1e1e">ERF74</text>
<text x="515.6" y="424.7" font-size="6.5" text-anchor="middle" fill="#1e1e1e">RAP2.1</text>
<text x="456.2" y="430" font-size="6.5" text-anchor="middle" fill="#1e1e1e">PIF8</text>
<text x="524.5" y="432.7" font-size="6.5" text-anchor="middle" fill="#1e1e1e">LBD1</text>
<text x="474.1" y="436.9" font-size="6.5" text-anchor="middle" fill="#1e1e1e">bZIP44</text>
<text x="502.9" y="435.7" font-size="6.5" text-anchor="middle" fill="#1e1e1e">WRKY51</text>
<text x="489.9" y="445.6" font-size="6.5" text-anchor="middle" fill="#1e1e1e">AT1G56170</text>
<text x="419.2" y="414.7" font-size="6.5" text-anchor="middle" fill="#1e1e1e">FLC</text>
<rect x="396.6" y="291.2" width="147" height="163.5" fill="none" stroke="#8d8d8d" stroke-width="1"/>
<line x1="394.6" y1="447.3" x2="396.6" y2="447.3" stroke="#666" stroke-width="0.8"/>
<text x="394.2" y="449.7" font-size="6.8" text-anchor="end" fill="#444">0.0</text>
<line x1="394.6" y1="403.8" x2="396.6" y2="403.8" stroke="#666" stroke-width="0.8"/>
<text x="394.2" y="406.2" font-size="6.8" text-anchor="end" fill="#444">2.5</text>
<line x1="394.6" y1="360.3" x2="396.6" y2="360.3" stroke="#666" stroke-width="0.8"/>
<text x="394.2" y="362.7" font-size="6.8" text-anchor="end" fill="#444">5.0</text>
<line x1="394.6" y1="316.8" x2="396.6" y2="316.8" stroke="#666" stroke-width="0.8"/>
<text x="394.2" y="319.2" font-size="6.8" text-anchor="end" fill="#444">7.5</text>
<line x1="408.5" y1="454.7" x2="408.5" y2="456.7" stroke="#666" stroke-width="0.8"/>
<text x="408.5" y="462.3" font-size="6.8" text-anchor="middle" fill="#444">−5.0</text>
<line x1="441.7" y1="454.7" x2="441.7" y2="456.7" stroke="#666" stroke-width="0.8"/>
<text x="441.7" y="462.3" font-size="6.8" text-anchor="middle" fill="#444">−2.5</text>
<line x1="474.9" y1="454.7" x2="474.9" y2="456.7" stroke="#666" stroke-width="0.8"/>
<text x="474.9" y="462.3" font-size="6.8" text-anchor="middle" fill="#444">0.0</text>
<line x1="508.1" y1="454.7" x2="508.1" y2="456.7" stroke="#666" stroke-width="0.8"/>
<text x="508.1" y="462.3" font-size="6.8" text-anchor="middle" fill="#444">2.5</text>
<line x1="541.3" y1="454.7" x2="541.3" y2="456.7" stroke="#666" stroke-width="0.8"/>
<text x="541.3" y="462.3" font-size="6.8" text-anchor="middle" fill="#444">5.0</text>
<text x="478.6" y="469.9" font-size="7.0" text-anchor="middle">log2(FoldCgange)</text>
<text transform="translate(382.6,348.5) rotate(-90)" text-anchor="middle" font-size="7.0" fill="#222">−log10(P.Value)</text>
<circle cx="477.6" cy="300.4" r="1.9" fill="#f4572e"/>
<text x="483.6" y="303" font-size="7.55">Up-regulated</text>
<circle cx="477.6" cy="310.5" r="1.9" fill="#2fb0ea"/>
<text x="483.6" y="313.1" font-size="7.55">Down-regulated</text>
<circle cx="477.6" cy="320.6" r="1.9" fill="#d6d6d6"/>
<text x="483.6" y="323.2" font-size="7.55">No change</text>
<text x="8.9" y="13.9" font-size="11" font-weight="bold" fill="#000">A</text>
<text x="226.8" y="13.9" font-size="11" font-weight="bold" fill="#000">B</text>
<text x="404.9" y="13.7" font-size="11" font-weight="bold" fill="#000">C</text>
<text x="9.1" y="210" font-size="11" font-weight="bold" fill="#000">D</text>
<text x="193.2" y="170.7" font-size="11" font-weight="bold" fill="#000">E</text>
<text x="368.3" y="173.8" font-size="11" font-weight="bold" fill="#000">F</text>
<text x="188.7" y="307.3" font-size="11" font-weight="bold" fill="#000">G</text>
<text x="370.4" y="299" font-size="11" font-weight="bold" fill="#000">H</text>
</svg>
</body></html>
